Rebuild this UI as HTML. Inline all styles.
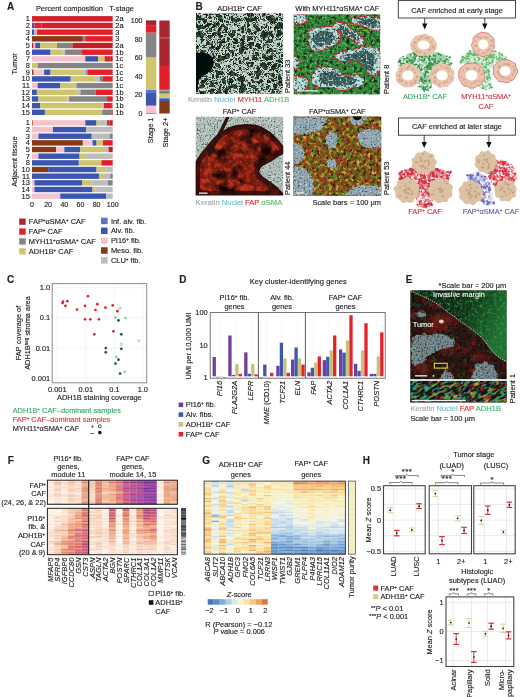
<!DOCTYPE html><html><head><meta charset="utf-8"><title>Figure</title><style>html,body{margin:0;padding:0;background:#fff;width:520px;height:697px;overflow:hidden}svg{display:block}text{font-family:"Liberation Sans",Arial,sans-serif}</style></head><body><svg width="520" height="697" viewBox="0 0 520 697" font-family="'Liberation Sans', Arial, sans-serif"><defs><clipPath id="c1"><rect x="196" y="13.8" width="87" height="79.7"/></clipPath><filter id="blur1" x="0" y="0" width="1" height="1"><feGaussianBlur stdDeviation="0.45"/></filter><filter id="f1a" x="0" y="0" width="1" height="1" color-interpolation-filters="sRGB"><feTurbulence type="fractalNoise" baseFrequency="0.25" numOctaves="2" seed="3"/><feColorMatrix type="matrix" values="0 0 0 0 0.039 0 0 0 0 0.078 0 0 0 0 0.047 4 0 0 0 -1.8"/></filter><filter id="f1e" x="0" y="0" width="1" height="1" color-interpolation-filters="sRGB"><feTurbulence type="fractalNoise" baseFrequency="0.3" numOctaves="2" seed="13"/><feColorMatrix type="matrix" values="0 0 0 0 0.180 0 0 0 0 0.478 0 0 0 0 0.251 4 0 0 0 -2.25"/></filter><filter id="f1b" x="0" y="0" width="1" height="1" color-interpolation-filters="sRGB"><feTurbulence type="fractalNoise" baseFrequency="0.13" numOctaves="2" seed="11"/><feComponentTransfer><feFuncR type="table" tableValues="0 0 0 0 0 0 0 0 0 0 0 0 0 0 0 0 0 0 0 0 0 0 0 0 0 0 0 0 0 0 0 0 0 0 0 0 0 0 0 0 0 0 0 0 0 0 0 0 0 0 0 0 0 0 0 0 0 0 0 0 0 0 0 0 0 0 0 0 0 0 0 0 0 0 0 0 0 0 0 0 1 1 1 1 1 1 1 1 1 1 1 1 1 1 1 1 1 0 0 0 0 0 0 0 1 1 1 1 1 1 1 1 1 1 1 1 1 1 1 1 1 0 0 0 0 0 0 0 0 0 0 0 0 0 0 0 0 0 0 0 0 0 0 0 0 0 0 0 0 0 0 0 0 0 0 0 0 0 0 0 0 0 0 0 0 0 0 0 0 0 0 0 0 0 0 0 0 0 0 0 0 0 0 0 0 0 0 0 0 0 0 0 0 0 0 0 0 0 0 0 0"/></feComponentTransfer><feColorMatrix type="matrix" values="0 0 0 0 0.784 0 0 0 0 0.831 0 0 0 0 0.800 1 0 0 0 0"/></filter><filter id="f1d" x="0" y="0" width="1" height="1" color-interpolation-filters="sRGB"><feTurbulence type="fractalNoise" baseFrequency="0.6" numOctaves="2" seed="19"/><feColorMatrix type="matrix" values="0 0 0 0 0.416 0 0 0 0 0.486 0 0 0 0 0.439 4 0 0 0 -2.1"/></filter><filter id="disp2" x="-5%" y="-5%" width="110%" height="110%"><feTurbulence type="fractalNoise" baseFrequency="0.25" numOctaves="2" seed="4" result="t"/><feDisplacementMap in="SourceGraphic" in2="t" scale="5" xChannelSelector="R" yChannelSelector="G"/></filter><clipPath id="c2"><rect x="293.5" y="14.2" width="86.8" height="80.3"/></clipPath><filter id="f2a" x="0" y="0" width="1" height="1" color-interpolation-filters="sRGB"><feTurbulence type="fractalNoise" baseFrequency="0.3" numOctaves="2" seed="21"/><feColorMatrix type="matrix" values="0 0 0 0 0.047 0 0 0 0 0.157 0 0 0 0 0.063 4 0 0 0 -1.85"/></filter><filter id="f2b" x="0" y="0" width="1" height="1" color-interpolation-filters="sRGB"><feTurbulence type="fractalNoise" baseFrequency="0.4" numOctaves="2" seed="23"/><feColorMatrix type="matrix" values="0 0 0 0 0.384 0 0 0 0 0.761 0 0 0 0 0.384 4 0 0 0 -2.1"/></filter><filter id="f2g" x="0" y="0" width="1" height="1" color-interpolation-filters="sRGB"><feTurbulence type="fractalNoise" baseFrequency="0.35" numOctaves="2" seed="25"/><feColorMatrix type="matrix" values="0 0 0 0 0.604 0 0 0 0 0.188 0 0 0 0 0.125 4 0 0 0 -2.5"/></filter><filter id="f2y" x="0" y="0" width="1" height="1" color-interpolation-filters="sRGB"><feTurbulence type="fractalNoise" baseFrequency="0.5" numOctaves="2" seed="27"/><feColorMatrix type="matrix" values="0 0 0 0 0.847 0 0 0 0 0.690 0 0 0 0 0.188 4 0 0 0 -2.2"/></filter><clipPath id="c2b"><path d="M309.2,32.1 C310.8,29.7 315.1,29.1 318.8,28.3 C322.5,27.5 328.1,26.5 331.3,27.3 C334.5,28.1 336.6,31.1 338.0,33.0 C339.4,34.9 340.6,36.9 340.0,38.8 C339.4,40.7 336.4,43.1 334.2,44.6 C331.9,46.1 329.1,46.5 326.5,47.5 C323.9,48.5 321.2,50.1 318.8,50.4 C316.4,50.7 313.7,50.7 312.1,49.4 C310.5,48.1 309.7,45.6 309.2,42.7 C308.7,39.8 307.6,34.5 309.2,32.1 Z"/><path d="M334.2,24.4 C335.5,23.6 338.8,22.4 342.0,23.5 C345.2,24.6 350.0,28.4 353.5,31.1 C357.0,33.8 361.7,37.5 363.0,39.8 C364.3,42.0 363.1,44.8 361.2,44.6 C359.3,44.4 355.0,41.0 351.5,38.8 C348.0,36.6 342.9,32.9 340.0,31.2 C337.1,29.4 335.2,29.4 334.2,28.3 C333.2,27.2 332.9,25.2 334.2,24.4 Z"/><path d="M353.5,18.7 C356.4,17.6 366.3,16.5 370.8,16.7 C375.3,16.9 379.0,17.7 380.4,19.6 C381.8,21.5 380.7,26.7 379.4,28.3 C378.1,29.9 375.4,29.7 372.7,29.2 C370.0,28.7 366.2,26.3 363.0,25.4 C359.8,24.4 355.1,24.6 353.5,23.5 C351.9,22.4 350.6,19.8 353.5,18.7 Z"/><path d="M336.2,54.2 C338.1,53.1 343.2,52.4 347.7,51.3 C352.2,50.2 358.5,48.0 363.0,47.5 C367.5,47.0 371.7,47.4 374.6,48.5 C377.5,49.6 379.4,51.0 380.4,54.2 C381.4,57.4 381.4,64.2 380.4,67.7 C379.4,71.2 376.5,74.4 374.6,75.4 C372.7,76.4 370.7,75.4 368.8,73.5 C366.9,71.6 365.6,66.0 363.0,63.8 C360.4,61.5 357.0,60.5 353.5,60.0 C350.0,59.5 344.8,61.3 341.9,61.0 C339.0,60.7 337.1,59.2 336.2,58.1 C335.2,57.0 334.3,55.3 336.2,54.2 Z"/><path d="M313.1,73.5 C314.4,70.9 317.3,68.5 320.8,67.7 C324.3,66.9 330.7,67.7 334.2,68.7 C337.7,69.7 340.0,72.1 341.9,73.5 C343.8,74.9 343.9,77.0 345.8,77.3 C347.7,77.6 350.6,75.2 353.5,75.4 C356.4,75.6 361.4,76.9 363.0,78.3 C364.6,79.7 364.6,82.6 363.0,84.0 C361.4,85.4 357.0,86.1 353.5,86.9 C350.0,87.7 346.1,88.8 341.9,88.8 C337.7,88.8 332.4,87.2 328.5,86.9 C324.6,86.6 321.4,87.5 318.8,86.9 C316.2,86.3 314.1,85.3 313.1,83.1 C312.2,80.9 311.8,76.1 313.1,73.5 Z"/><path d="M293.5,15.0 C294.6,13.9 298.0,14.2 300.0,14.5 C302.0,14.8 304.7,15.7 305.4,17.0 C306.1,18.3 305.2,21.4 304.0,22.5 C302.8,23.6 299.8,23.8 298.0,23.5 C296.2,23.2 294.2,22.4 293.5,21.0 C292.8,19.6 292.4,16.1 293.5,15.0 Z"/><path d="M293.0,57.0 C293.7,55.3 296.1,57.0 297.0,58.0 C297.9,59.0 298.6,61.3 298.5,63.0 C298.4,64.7 297.4,67.2 296.5,68.0 C295.6,68.8 293.6,69.8 293.0,68.0 C292.4,66.2 292.3,58.7 293.0,57.0 Z"/><path d="M293.5,78.0 C294.3,76.0 297.8,77.0 300.0,77.3 C302.2,77.6 305.3,78.5 306.5,80.0 C307.7,81.5 308.1,84.4 307.3,86.0 C306.6,87.6 304.1,89.0 302.0,89.5 C299.9,90.0 296.4,90.9 295.0,89.0 C293.6,87.1 292.7,80.0 293.5,78.0 Z"/></clipPath><filter id="f2c" x="0" y="0" width="1" height="1" color-interpolation-filters="sRGB"><feTurbulence type="fractalNoise" baseFrequency="0.45" numOctaves="2" seed="31"/><feColorMatrix type="matrix" values="0 0 0 0 0.118 0 0 0 0 0.235 0 0 0 0 0.235 4 0 0 0 -2.0"/></filter><filter id="f2d" x="0" y="0" width="1" height="1" color-interpolation-filters="sRGB"><feTurbulence type="fractalNoise" baseFrequency="0.5" numOctaves="2" seed="33"/><feColorMatrix type="matrix" values="0 0 0 0 0.941 0 0 0 0 0.980 0 0 0 0 0.973 4 0 0 0 -2.2"/></filter><clipPath id="c3"><rect x="195.6" y="116.6" width="87.7" height="78.8"/></clipPath><filter id="f3a" x="0" y="0" width="1" height="1" color-interpolation-filters="sRGB"><feTurbulence type="fractalNoise" baseFrequency="0.7" numOctaves="2" seed="41"/><feColorMatrix type="matrix" values="0 0 0 0 0.235 0 0 0 0 0.290 0 0 0 0 0.267 4 0 0 0 -2.2"/></filter><filter id="f3e" x="0" y="0" width="1" height="1" color-interpolation-filters="sRGB"><feTurbulence type="fractalNoise" baseFrequency="0.6" numOctaves="2" seed="42"/><feColorMatrix type="matrix" values="0 0 0 0 0.847 0 0 0 0 0.886 0 0 0 0 0.863 4 0 0 0 -2.2"/></filter><clipPath id="c3d"><path d="M195.6,162.4 C200,155 204,150 207.7,146 C213,139 217,135 221.6,132.3 C228,128 233,126 237.7,125.4 C245,124.5 250,124.5 256,125.4 C263,127 268,131 272.4,134.6 C277,139 280,143 283.3,147 L283.3,153 C279,155 276,157 272.4,160 C267,163 262,165 260.8,167 C258,170 258,172 259.7,173.9 C262,177 265,179 267.8,180.8 C271,183 274,185 277,187.8 C279,190 281,192 283.3,194 L283.3,195.4 L195.6,195.4 Z"/></clipPath><filter id="f3b" x="0" y="0" width="1" height="1" color-interpolation-filters="sRGB"><feTurbulence type="fractalNoise" baseFrequency="0.12" numOctaves="3" seed="43"/><feColorMatrix type="matrix" values="0 0 0 0 0.784 0 0 0 0 0.204 0 0 0 0 0.118 3.5 0 0 0 -1.45"/></filter><filter id="f3c" x="0" y="0" width="1" height="1" color-interpolation-filters="sRGB"><feTurbulence type="fractalNoise" baseFrequency="0.07" numOctaves="3" seed="45"/><feColorMatrix type="matrix" values="0 0 0 0 0.102 0 0 0 0 0.024 0 0 0 0 0.016 4 0 0 0 -1.95"/></filter><filter id="f3d" x="0" y="0" width="1" height="1" color-interpolation-filters="sRGB"><feTurbulence type="fractalNoise" baseFrequency="0.35" numOctaves="2" seed="47"/><feColorMatrix type="matrix" values="0 0 0 0 0.659 0 0 0 0 0.376 0 0 0 0 0.110 4 0 0 0 -2.5"/></filter><filter id="f3f" x="0" y="0" width="1" height="1" color-interpolation-filters="sRGB"><feTurbulence type="fractalNoise" baseFrequency="0.45" numOctaves="2" seed="49"/><feColorMatrix type="matrix" values="0 0 0 0 0.847 0 0 0 0 0.267 0 0 0 0 0.133 4 0 0 0 -2.7"/></filter><clipPath id="c4"><rect x="293.5" y="116.6" width="87.7" height="79.2"/></clipPath><filter id="f4a" x="0" y="0" width="1" height="1" color-interpolation-filters="sRGB"><feTurbulence type="fractalNoise" baseFrequency="0.22" numOctaves="2" seed="51"/><feColorMatrix type="matrix" values="0 0 0 0 0.706 0 0 0 0 0.173 0 0 0 0 0.102 4 0 0 0 -1.95"/></filter><filter id="f4b" x="0" y="0" width="1" height="1" color-interpolation-filters="sRGB"><feTurbulence type="fractalNoise" baseFrequency="0.24" numOctaves="2" seed="53"/><feColorMatrix type="matrix" values="0 0 0 0 0.290 0 0 0 0 0.557 0 0 0 0 0.173 4 0 0 0 -1.95"/></filter><filter id="f4c" x="0" y="0" width="1" height="1" color-interpolation-filters="sRGB"><feTurbulence type="fractalNoise" baseFrequency="0.28" numOctaves="2" seed="55"/><feColorMatrix type="matrix" values="0 0 0 0 0.824 0 0 0 0 0.690 0 0 0 0 0.220 4 0 0 0 -2.05"/></filter><filter id="f4d" x="0" y="0" width="1" height="1" color-interpolation-filters="sRGB"><feTurbulence type="fractalNoise" baseFrequency="0.3" numOctaves="2" seed="57"/><feColorMatrix type="matrix" values="0 0 0 0 0.165 0 0 0 0 0.094 0 0 0 0 0.031 4 0 0 0 -2.15"/></filter><clipPath id="c4b"><path d="M293.5,116.6 L327,116.6 C328,122 324,128 318,131 C310,134 300,134 293.5,133 Z"/><path d="M293.5,143 C298,142 303,146 304,152 C305,158 301,163 296,164 L293.5,164 Z"/><path d="M293.5,167 C300,166 308,170 312,177 C315,184 314,192 312,195.8 L293.5,195.8 Z"/><path d="M349,116.6 L366,116.6 C366,121 362,125 356,125 C351,125 349,121 349,116.6 Z"/><path d="M360,131 C366,128 376,129 381.2,132 L381.2,147 C376,149 368,149 363,146 C358,142 356,135 360,131 Z"/><path d="M327,136 C328,131 333,130 336,133 C339,137 338,144 335,148 C332,150 328,148 327,144 Z"/><path d="M326,163 C327,160 332,159 336,161 C339,163 338,167 334,168 C330,169 326,167 326,163 Z"/><path d="M350,189 C356,185 368,185 376,186 L381.2,187 L381.2,195.8 L347,195.8 C347,193 348,191 350,189 Z"/></clipPath><filter id="f4e" x="0" y="0" width="1" height="1" color-interpolation-filters="sRGB"><feTurbulence type="fractalNoise" baseFrequency="0.55" numOctaves="2" seed="59"/><feColorMatrix type="matrix" values="0 0 0 0 0.227 0 0 0 0 0.290 0 0 0 0 0.314 4 0 0 0 -2.2"/></filter><filter id="f4f" x="0" y="0" width="1" height="1" color-interpolation-filters="sRGB"><feTurbulence type="fractalNoise" baseFrequency="0.5" numOctaves="2" seed="61"/><feColorMatrix type="matrix" values="0 0 0 0 0.753 0 0 0 0 0.855 0 0 0 0 0.875 4 0 0 0 -2.2"/></filter><clipPath id="ce"><rect x="410.2" y="290.3" width="96.6" height="89.2"/></clipPath><filter id="blur3" x="-50%" y="-50%" width="200%" height="200%"><feGaussianBlur stdDeviation="2.5"/></filter><filter id="fe1" x="0" y="0" width="1" height="1" color-interpolation-filters="sRGB"><feTurbulence type="fractalNoise" baseFrequency="0.09" numOctaves="3" seed="71"/><feColorMatrix type="matrix" values="0 0 0 0 0.478 0 0 0 0 0.102 0 0 0 0 0.102 4 0 0 0 -2.1"/></filter><filter id="fe2" x="0" y="0" width="1" height="1" color-interpolation-filters="sRGB"><feTurbulence type="fractalNoise" baseFrequency="0.14" numOctaves="3" seed="73"/><feColorMatrix type="matrix" values="0 0 0 0 0.141 0 0 0 0 0.259 0 0 0 0 0.118 4 0 0 0 -2.15"/></filter><filter id="fe0" x="0" y="0" width="1" height="1" color-interpolation-filters="sRGB"><feTurbulence type="fractalNoise" baseFrequency="0.4" numOctaves="2" seed="70"/><feColorMatrix type="matrix" values="0 0 0 0 0.071 0 0 0 0 0.031 0 0 0 0 0.024 4 0 0 0 -2.0"/></filter><clipPath id="ceg"><path d="M411,290.3 L506.8,290.3 L506.8,362 C500,358 496,356 492,351 C488,346 486,342 482,338 C476,332 468,327 460,321 C452,315 446,311 440,306 C432,300 422,296 411,291 Z"/></clipPath><filter id="fe3" x="0" y="0" width="1" height="1" color-interpolation-filters="sRGB"><feTurbulence type="fractalNoise" baseFrequency="0.35" numOctaves="2" seed="75"/><feColorMatrix type="matrix" values="0 0 0 0 0.165 0 0 0 0 0.557 0 0 0 0 0.251 4 0 0 0 -2.1"/></filter><filter id="fe4" x="0" y="0" width="1" height="1" color-interpolation-filters="sRGB"><feTurbulence type="fractalNoise" baseFrequency="0.3" numOctaves="2" seed="77"/><feColorMatrix type="matrix" values="0 0 0 0 0.039 0 0 0 0 0.094 0 0 0 0 0.047 4 0 0 0 -2.0"/></filter><clipPath id="cek"><path d="M412.0,340.0 C413.0,335.2 416.0,336.0 418.0,335.0 C420.0,334.0 422.0,333.8 424.0,334.0 C426.0,334.2 428.0,336.2 430.0,336.0 C432.0,335.8 433.8,333.3 436.0,333.0 C438.2,332.7 440.7,333.3 443.0,334.0 C445.3,334.7 448.0,335.8 450.0,337.0 C452.0,338.2 454.5,339.5 455.0,341.0 C455.5,342.5 454.3,344.8 453.0,346.0 C451.7,347.2 449.2,347.3 447.0,348.0 C444.8,348.7 442.2,349.3 440.0,350.0 C437.8,350.7 436.0,351.0 434.0,352.0 C432.0,353.0 429.7,354.5 428.0,356.0 C426.3,357.5 425.7,359.7 424.0,361.0 C422.3,362.3 420.0,363.5 418.0,364.0 C416.0,364.5 413.0,368.0 412.0,364.0 C411.0,360.0 411.0,344.8 412.0,340.0 Z"/><path d="M473.0,372.0 C473.5,369.5 474.7,367.5 476.0,366.0 C477.3,364.5 479.2,363.5 481.0,363.0 C482.8,362.5 485.2,362.5 487.0,363.0 C488.8,363.5 490.5,364.7 492.0,366.0 C493.5,367.3 495.0,369.2 496.0,371.0 C497.0,372.8 498.0,375.3 498.0,377.0 C498.0,378.7 500.2,380.3 496.0,381.0 C491.8,381.7 476.8,382.5 473.0,381.0 C469.2,379.5 472.5,374.5 473.0,372.0 Z"/><path d="M416.0,313.0 C416.5,312.2 418.5,311.7 420.0,311.5 C421.5,311.3 424.0,311.4 425.0,312.0 C426.0,312.6 426.5,314.2 426.0,315.0 C425.5,315.8 423.5,316.8 422.0,317.0 C420.5,317.2 418.0,317.2 417.0,316.5 C416.0,315.8 415.5,313.8 416.0,313.0 Z"/><path d="M440.0,376.0 C440.7,374.5 442.5,372.7 444.0,372.0 C445.5,371.3 447.5,371.3 449.0,372.0 C450.5,372.7 452.3,374.5 453.0,376.0 C453.7,377.5 455.2,380.2 453.0,381.0 C450.8,381.8 442.2,381.8 440.0,381.0 C437.8,380.2 439.3,377.5 440.0,376.0 Z"/></clipPath><filter id="fe5" x="0" y="0" width="1" height="1" color-interpolation-filters="sRGB"><feTurbulence type="fractalNoise" baseFrequency="0.55" numOctaves="2" seed="79"/><feColorMatrix type="matrix" values="0 0 0 0 0.667 0 0 0 0 0.737 0 0 0 0 0.737 4 0 0 0 -2.45"/></filter><filter id="fe6" x="0" y="0" width="1" height="1" color-interpolation-filters="sRGB"><feTurbulence type="fractalNoise" baseFrequency="0.55" numOctaves="2" seed="81"/><feColorMatrix type="matrix" values="0 0 0 0 0.204 0 0 0 0 0.267 0 0 0 0 0.290 4 0 0 0 -2.0"/></filter><clipPath id="cei"><rect x="410.2" y="380.9" width="96.6" height="21.6"/></clipPath><filter id="fi1" x="0" y="0" width="1" height="1" color-interpolation-filters="sRGB"><feTurbulence type="fractalNoise" baseFrequency="0.14 0.34" numOctaves="2" seed="91"/><feColorMatrix type="matrix" values="0 0 0 0 0.784 0 0 0 0 0.149 0 0 0 0 0.165 5 0 0 0 -2.6"/></filter><filter id="fi2" x="0" y="0" width="1" height="1" color-interpolation-filters="sRGB"><feTurbulence type="fractalNoise" baseFrequency="0.14 0.34" numOctaves="2" seed="93"/><feColorMatrix type="matrix" values="0 0 0 0 0.184 0 0 0 0 0.612 0 0 0 0 0.267 5 0 0 0 -2.6"/></filter><filter id="fi3" x="0" y="0" width="1" height="1" color-interpolation-filters="sRGB"><feTurbulence type="fractalNoise" baseFrequency="0.2 0.4" numOctaves="2" seed="95"/><feColorMatrix type="matrix" values="0 0 0 0 0.133 0 0 0 0 0.627 0 0 0 0 0.627 5 0 0 0 -2.6"/></filter><filter id="fi4" x="0" y="0" width="1" height="1" color-interpolation-filters="sRGB"><feTurbulence type="fractalNoise" baseFrequency="0.12 0.34" numOctaves="2" seed="97"/><feColorMatrix type="matrix" values="0 0 0 0 0.784 0 0 0 0 0.627 0 0 0 0 0.188 5 0 0 0 -2.85"/></filter></defs><text x="7.0" y="9.5" font-size="10" font-weight="bold" fill="#231f20" stroke="#231f20" stroke-width="0.15">A</text>
<text x="69.4" y="10.5" font-size="7.4" text-anchor="middle" fill="#231f20" stroke="#231f20" stroke-width="0.15">Percent composition</text>
<text x="121.6" y="10.5" font-size="7.4" text-anchor="middle" fill="#231f20" stroke="#231f20" stroke-width="0.15">T-stage</text>
<rect x="32.00" y="16.10" width="80.70" height="5.40" fill="#d21f2c"/>
<rect x="32.00" y="16.10" width="1.61" height="5.40" fill="#e3202a"/>
<text x="29.8" y="21.1" font-size="7.45" text-anchor="end" fill="#231f20" stroke="#231f20" stroke-width="0.15">1</text>
<text x="115.3" y="21.1" font-size="7.45" fill="#231f20" stroke="#231f20" stroke-width="0.15">2a</text>
<rect x="32.00" y="22.78" width="2.42" height="5.40" fill="#3c56b0"/>
<rect x="34.42" y="22.78" width="7.26" height="5.40" fill="#e3202a"/>
<rect x="41.68" y="22.78" width="71.02" height="5.40" fill="#d21f2c"/>
<text x="29.8" y="27.8" font-size="7.45" text-anchor="end" fill="#231f20" stroke="#231f20" stroke-width="0.15">2</text>
<text x="115.3" y="27.8" font-size="7.45" fill="#231f20" stroke="#231f20" stroke-width="0.15">2a</text>
<rect x="32.00" y="29.46" width="2.42" height="5.40" fill="#3c56b0"/>
<rect x="34.42" y="29.46" width="2.42" height="5.40" fill="#bdbdbd"/>
<rect x="36.84" y="29.46" width="75.86" height="5.40" fill="#e3202a"/>
<text x="29.8" y="34.5" font-size="7.45" text-anchor="end" fill="#231f20" stroke="#231f20" stroke-width="0.15">3</text>
<text x="115.3" y="34.5" font-size="7.45" fill="#231f20" stroke="#231f20" stroke-width="0.15">3</text>
<rect x="32.00" y="36.14" width="50.84" height="5.40" fill="#873815"/>
<rect x="82.84" y="36.14" width="2.42" height="5.40" fill="#848484"/>
<rect x="85.26" y="36.14" width="27.44" height="5.40" fill="#e3202a"/>
<text x="29.8" y="41.1" font-size="7.45" text-anchor="end" fill="#231f20" stroke="#231f20" stroke-width="0.15">4</text>
<text x="115.3" y="41.1" font-size="7.45" fill="#231f20" stroke="#231f20" stroke-width="0.15">3</text>
<rect x="32.00" y="42.82" width="1.61" height="5.40" fill="#c31f2b"/>
<rect x="33.61" y="42.82" width="1.61" height="5.40" fill="#f5c2cd"/>
<rect x="35.23" y="42.82" width="4.84" height="5.40" fill="#3c56b0"/>
<rect x="40.07" y="42.82" width="16.95" height="5.40" fill="#cfc56c"/>
<rect x="57.02" y="42.82" width="15.33" height="5.40" fill="#848484"/>
<rect x="72.35" y="42.82" width="40.35" height="5.40" fill="#c31f2b"/>
<text x="29.8" y="47.8" font-size="7.45" text-anchor="end" fill="#231f20" stroke="#231f20" stroke-width="0.15">5</text>
<text x="115.3" y="47.8" font-size="7.45" fill="#231f20" stroke="#231f20" stroke-width="0.15">2a</text>
<rect x="32.00" y="49.50" width="18.56" height="5.40" fill="#3c56b0"/>
<rect x="50.56" y="49.50" width="12.11" height="5.40" fill="#cfc56c"/>
<rect x="62.67" y="49.50" width="2.42" height="5.40" fill="#bdbdbd"/>
<rect x="65.09" y="49.50" width="16.95" height="5.40" fill="#848484"/>
<rect x="82.03" y="49.50" width="30.67" height="5.40" fill="#e3202a"/>
<text x="29.8" y="54.5" font-size="7.45" text-anchor="end" fill="#231f20" stroke="#231f20" stroke-width="0.15">6</text>
<text x="115.3" y="54.5" font-size="7.45" fill="#231f20" stroke="#231f20" stroke-width="0.15">1b</text>
<rect x="32.00" y="56.18" width="53.26" height="5.40" fill="#f5c2cd"/>
<rect x="85.26" y="56.18" width="12.91" height="5.40" fill="#3c56b0"/>
<rect x="98.17" y="56.18" width="6.46" height="5.40" fill="#cfc56c"/>
<rect x="104.63" y="56.18" width="5.65" height="5.40" fill="#e3202a"/>
<rect x="110.28" y="56.18" width="2.42" height="5.40" fill="#c31f2b"/>
<text x="29.8" y="61.2" font-size="7.45" text-anchor="end" fill="#231f20" stroke="#231f20" stroke-width="0.15">7</text>
<text x="115.3" y="61.2" font-size="7.45" fill="#231f20" stroke="#231f20" stroke-width="0.15">1c</text>
<rect x="32.00" y="62.86" width="5.65" height="5.40" fill="#cfc56c"/>
<rect x="37.65" y="62.86" width="75.05" height="5.40" fill="#848484"/>
<text x="29.8" y="67.9" font-size="7.45" text-anchor="end" fill="#231f20" stroke="#231f20" stroke-width="0.15">8</text>
<text x="115.3" y="67.9" font-size="7.45" fill="#231f20" stroke="#231f20" stroke-width="0.15">1c</text>
<rect x="32.00" y="69.54" width="1.61" height="5.40" fill="#873815"/>
<rect x="33.61" y="69.54" width="10.49" height="5.40" fill="#f5c2cd"/>
<rect x="44.11" y="69.54" width="6.46" height="5.40" fill="#3c56b0"/>
<rect x="50.56" y="69.54" width="32.28" height="5.40" fill="#cfc56c"/>
<rect x="82.84" y="69.54" width="3.23" height="5.40" fill="#bdbdbd"/>
<rect x="86.07" y="69.54" width="1.61" height="5.40" fill="#848484"/>
<rect x="87.68" y="69.54" width="25.02" height="5.40" fill="#e3202a"/>
<text x="29.8" y="74.5" font-size="7.45" text-anchor="end" fill="#231f20" stroke="#231f20" stroke-width="0.15">9</text>
<text x="115.3" y="74.5" font-size="7.45" fill="#231f20" stroke="#231f20" stroke-width="0.15">1c</text>
<rect x="32.00" y="76.22" width="38.74" height="5.40" fill="#3c56b0"/>
<rect x="70.74" y="76.22" width="25.02" height="5.40" fill="#cfc56c"/>
<rect x="95.75" y="76.22" width="4.04" height="5.40" fill="#bdbdbd"/>
<rect x="99.79" y="76.22" width="3.23" height="5.40" fill="#848484"/>
<rect x="103.02" y="76.22" width="9.68" height="5.40" fill="#e3202a"/>
<text x="29.8" y="81.2" font-size="7.45" text-anchor="end" fill="#231f20" stroke="#231f20" stroke-width="0.15">10</text>
<text x="115.3" y="81.2" font-size="7.45" fill="#231f20" stroke="#231f20" stroke-width="0.15">1c</text>
<rect x="32.00" y="82.90" width="5.65" height="5.40" fill="#f5c2cd"/>
<rect x="37.65" y="82.90" width="22.60" height="5.40" fill="#3c56b0"/>
<rect x="60.25" y="82.90" width="14.53" height="5.40" fill="#cfc56c"/>
<rect x="74.77" y="82.90" width="1.61" height="5.40" fill="#bdbdbd"/>
<rect x="76.38" y="82.90" width="36.31" height="5.40" fill="#848484"/>
<text x="29.8" y="87.9" font-size="7.45" text-anchor="end" fill="#231f20" stroke="#231f20" stroke-width="0.15">11</text>
<text x="115.3" y="87.9" font-size="7.45" fill="#231f20" stroke="#231f20" stroke-width="0.15">1c</text>
<rect x="32.00" y="89.58" width="4.84" height="5.40" fill="#3c56b0"/>
<rect x="36.84" y="89.58" width="40.35" height="5.40" fill="#cfc56c"/>
<rect x="77.19" y="89.58" width="3.23" height="5.40" fill="#bdbdbd"/>
<rect x="80.42" y="89.58" width="15.33" height="5.40" fill="#848484"/>
<rect x="95.75" y="89.58" width="16.95" height="5.40" fill="#e3202a"/>
<text x="29.8" y="94.6" font-size="7.45" text-anchor="end" fill="#231f20" stroke="#231f20" stroke-width="0.15">12</text>
<text x="115.3" y="94.6" font-size="7.45" fill="#231f20" stroke="#231f20" stroke-width="0.15">1b</text>
<rect x="32.00" y="96.26" width="6.46" height="5.40" fill="#3c56b0"/>
<rect x="38.46" y="96.26" width="29.05" height="5.40" fill="#cfc56c"/>
<rect x="67.51" y="96.26" width="1.61" height="5.40" fill="#bdbdbd"/>
<rect x="69.12" y="96.26" width="37.93" height="5.40" fill="#848484"/>
<rect x="107.05" y="96.26" width="5.65" height="5.40" fill="#e3202a"/>
<text x="29.8" y="101.3" font-size="7.45" text-anchor="end" fill="#231f20" stroke="#231f20" stroke-width="0.15">13</text>
<text x="115.3" y="101.3" font-size="7.45" fill="#231f20" stroke="#231f20" stroke-width="0.15">1b</text>
<rect x="32.00" y="102.94" width="8.07" height="5.40" fill="#3c56b0"/>
<rect x="40.07" y="102.94" width="62.14" height="5.40" fill="#cfc56c"/>
<rect x="102.21" y="102.94" width="1.61" height="5.40" fill="#bdbdbd"/>
<rect x="103.82" y="102.94" width="8.07" height="5.40" fill="#e3202a"/>
<rect x="111.89" y="102.94" width="0.81" height="5.40" fill="#848484"/>
<text x="29.8" y="107.9" font-size="7.45" text-anchor="end" fill="#231f20" stroke="#231f20" stroke-width="0.15">14</text>
<text x="115.3" y="107.9" font-size="7.45" fill="#231f20" stroke="#231f20" stroke-width="0.15">1b</text>
<rect x="32.00" y="109.62" width="12.91" height="5.40" fill="#3c56b0"/>
<rect x="44.91" y="109.62" width="57.30" height="5.40" fill="#cfc56c"/>
<rect x="102.21" y="109.62" width="9.68" height="5.40" fill="#848484"/>
<rect x="111.89" y="109.62" width="0.81" height="5.40" fill="#c31f2b"/>
<text x="29.8" y="114.6" font-size="7.45" text-anchor="end" fill="#231f20" stroke="#231f20" stroke-width="0.15">15</text>
<text x="115.3" y="114.6" font-size="7.45" fill="#231f20" stroke="#231f20" stroke-width="0.15">1b</text>
<rect x="32.00" y="120.20" width="0.81" height="5.40" fill="#873815"/>
<rect x="32.81" y="120.20" width="52.45" height="5.40" fill="#f5c2cd"/>
<rect x="85.26" y="120.20" width="11.30" height="5.40" fill="#3c56b0"/>
<rect x="96.56" y="120.20" width="3.23" height="5.40" fill="#cfc56c"/>
<rect x="99.79" y="120.20" width="7.26" height="5.40" fill="#bdbdbd"/>
<rect x="107.05" y="120.20" width="2.42" height="5.40" fill="#e3202a"/>
<rect x="109.47" y="120.20" width="3.23" height="5.40" fill="#c31f2b"/>
<text x="29.8" y="125.2" font-size="7.45" text-anchor="end" fill="#231f20" stroke="#231f20" stroke-width="0.15">1</text>
<rect x="32.00" y="126.86" width="20.98" height="5.40" fill="#f5c2cd"/>
<rect x="52.98" y="126.86" width="33.09" height="5.40" fill="#3c56b0"/>
<rect x="86.07" y="126.86" width="26.63" height="5.40" fill="#bdbdbd"/>
<text x="29.8" y="131.9" font-size="7.45" text-anchor="end" fill="#231f20" stroke="#231f20" stroke-width="0.15">2</text>
<rect x="32.00" y="133.52" width="6.46" height="5.40" fill="#f5c2cd"/>
<rect x="38.46" y="133.52" width="53.26" height="5.40" fill="#3c56b0"/>
<rect x="91.72" y="133.52" width="17.75" height="5.40" fill="#bdbdbd"/>
<rect x="109.47" y="133.52" width="3.23" height="5.40" fill="#848484"/>
<text x="29.8" y="138.5" font-size="7.45" text-anchor="end" fill="#231f20" stroke="#231f20" stroke-width="0.15">3</text>
<rect x="32.00" y="140.18" width="50.84" height="5.40" fill="#873815"/>
<rect x="82.84" y="140.18" width="9.68" height="5.40" fill="#f5c2cd"/>
<rect x="92.53" y="140.18" width="4.04" height="5.40" fill="#3c56b0"/>
<rect x="96.56" y="140.18" width="6.46" height="5.40" fill="#cfc56c"/>
<rect x="103.02" y="140.18" width="9.68" height="5.40" fill="#e3202a"/>
<text x="29.8" y="145.2" font-size="7.45" text-anchor="end" fill="#231f20" stroke="#231f20" stroke-width="0.15">4</text>
<rect x="32.00" y="146.84" width="24.21" height="5.40" fill="#873815"/>
<rect x="56.21" y="146.84" width="8.07" height="5.40" fill="#f5c2cd"/>
<rect x="64.28" y="146.84" width="16.14" height="5.40" fill="#3c56b0"/>
<rect x="80.42" y="146.84" width="22.60" height="5.40" fill="#cfc56c"/>
<rect x="103.02" y="146.84" width="5.65" height="5.40" fill="#bdbdbd"/>
<rect x="108.67" y="146.84" width="4.04" height="5.40" fill="#c31f2b"/>
<text x="29.8" y="151.8" font-size="7.45" text-anchor="end" fill="#231f20" stroke="#231f20" stroke-width="0.15">5</text>
<rect x="32.00" y="153.50" width="6.46" height="5.40" fill="#f5c2cd"/>
<rect x="38.46" y="153.50" width="41.16" height="5.40" fill="#3c56b0"/>
<rect x="79.61" y="153.50" width="6.46" height="5.40" fill="#cfc56c"/>
<rect x="86.07" y="153.50" width="26.63" height="5.40" fill="#bdbdbd"/>
<text x="29.8" y="158.5" font-size="7.45" text-anchor="end" fill="#231f20" stroke="#231f20" stroke-width="0.15">7</text>
<rect x="32.00" y="160.16" width="46.81" height="5.40" fill="#3c56b0"/>
<rect x="78.81" y="160.16" width="22.60" height="5.40" fill="#cfc56c"/>
<rect x="101.40" y="160.16" width="11.30" height="5.40" fill="#e3202a"/>
<text x="29.8" y="165.2" font-size="7.45" text-anchor="end" fill="#231f20" stroke="#231f20" stroke-width="0.15">8</text>
<rect x="32.00" y="166.82" width="16.14" height="5.40" fill="#873815"/>
<rect x="48.14" y="166.82" width="48.42" height="5.40" fill="#3c56b0"/>
<rect x="96.56" y="166.82" width="9.68" height="5.40" fill="#cfc56c"/>
<rect x="106.24" y="166.82" width="6.46" height="5.40" fill="#bdbdbd"/>
<text x="29.8" y="171.8" font-size="7.45" text-anchor="end" fill="#231f20" stroke="#231f20" stroke-width="0.15">10</text>
<rect x="32.00" y="173.48" width="66.98" height="5.40" fill="#3c56b0"/>
<rect x="98.98" y="173.48" width="4.04" height="5.40" fill="#cfc56c"/>
<rect x="103.02" y="173.48" width="7.26" height="5.40" fill="#bdbdbd"/>
<rect x="110.28" y="173.48" width="2.42" height="5.40" fill="#848484"/>
<text x="29.8" y="178.5" font-size="7.45" text-anchor="end" fill="#231f20" stroke="#231f20" stroke-width="0.15">11</text>
<rect x="32.00" y="180.14" width="2.42" height="5.40" fill="#f5c2cd"/>
<rect x="34.42" y="180.14" width="47.61" height="5.40" fill="#3c56b0"/>
<rect x="82.03" y="180.14" width="9.68" height="5.40" fill="#cfc56c"/>
<rect x="91.72" y="180.14" width="16.14" height="5.40" fill="#bdbdbd"/>
<rect x="107.86" y="180.14" width="4.84" height="5.40" fill="#848484"/>
<text x="29.8" y="185.1" font-size="7.45" text-anchor="end" fill="#231f20" stroke="#231f20" stroke-width="0.15">13</text>
<rect x="32.00" y="186.80" width="2.42" height="5.40" fill="#f5c2cd"/>
<rect x="34.42" y="186.80" width="58.10" height="5.40" fill="#3c56b0"/>
<rect x="92.53" y="186.80" width="3.23" height="5.40" fill="#cfc56c"/>
<rect x="95.75" y="186.80" width="16.95" height="5.40" fill="#bdbdbd"/>
<text x="29.8" y="191.8" font-size="7.45" text-anchor="end" fill="#231f20" stroke="#231f20" stroke-width="0.15">14</text>
<rect x="32.00" y="193.46" width="28.25" height="5.40" fill="#f5c2cd"/>
<rect x="60.25" y="193.46" width="46.00" height="5.40" fill="#3c56b0"/>
<rect x="106.24" y="193.46" width="6.46" height="5.40" fill="#bdbdbd"/>
<text x="29.8" y="198.5" font-size="7.45" text-anchor="end" fill="#231f20" stroke="#231f20" stroke-width="0.15">15</text>
<text x="32.0" y="207.0" font-size="7" text-anchor="middle" fill="#231f20" stroke="#231f20" stroke-width="0.15">0</text>
<text x="48.1" y="207.0" font-size="7" text-anchor="middle" fill="#231f20" stroke="#231f20" stroke-width="0.15">20</text>
<text x="64.3" y="207.0" font-size="7" text-anchor="middle" fill="#231f20" stroke="#231f20" stroke-width="0.15">40</text>
<text x="80.4" y="207.0" font-size="7" text-anchor="middle" fill="#231f20" stroke="#231f20" stroke-width="0.15">60</text>
<text x="96.6" y="207.0" font-size="7" text-anchor="middle" fill="#231f20" stroke="#231f20" stroke-width="0.15">80</text>
<text x="112.7" y="207.0" font-size="7" text-anchor="middle" fill="#231f20" stroke="#231f20" stroke-width="0.15">100</text>
<text transform="translate(16.5,63.8) rotate(-90)" font-size="7.45" text-anchor="middle" fill="#231f20" stroke="#231f20" stroke-width="0.15">Tumor</text>
<text transform="translate(16.5,161.6) rotate(-90)" font-size="7.45" text-anchor="middle" fill="#231f20" stroke="#231f20" stroke-width="0.15">Adjacent tissue</text>
<rect x="145.90" y="112.76" width="10.40" height="0.74" fill="#7a2a3a"/>
<rect x="145.90" y="105.59" width="10.40" height="7.16" fill="#f5c2cd"/>
<rect x="145.90" y="93.04" width="10.40" height="12.56" fill="#3c56b0"/>
<rect x="145.90" y="89.78" width="10.40" height="3.25" fill="#5975cb"/>
<rect x="145.90" y="57.23" width="10.40" height="32.55" fill="#cfc56c"/>
<rect x="145.90" y="56.30" width="10.40" height="0.93" fill="#5a5a5a"/>
<rect x="145.90" y="32.59" width="10.40" height="23.72" fill="#848484"/>
<rect x="145.90" y="25.15" width="10.40" height="7.44" fill="#e3202a"/>
<rect x="145.90" y="21.89" width="10.40" height="3.25" fill="#aa2630"/>
<rect x="145.90" y="20.50" width="10.40" height="1.39" fill="#6a1018"/>
<rect x="159.30" y="100.94" width="10.40" height="12.56" fill="#873815"/>
<rect x="159.30" y="98.62" width="10.40" height="2.32" fill="#3c56b0"/>
<rect x="159.30" y="97.69" width="10.40" height="0.93" fill="#5975cb"/>
<rect x="159.30" y="93.50" width="10.40" height="4.19" fill="#cfc56c"/>
<rect x="159.30" y="91.18" width="10.40" height="2.32" fill="#5a7a7a"/>
<rect x="159.30" y="89.78" width="10.40" height="1.40" fill="#b09aa0"/>
<rect x="159.30" y="66.07" width="10.40" height="23.72" fill="#e3202a"/>
<rect x="159.30" y="65.14" width="10.40" height="0.93" fill="#8a1018"/>
<rect x="159.30" y="38.63" width="10.40" height="26.51" fill="#aa2630"/>
<rect x="159.30" y="37.70" width="10.40" height="0.93" fill="#8a1018"/>
<rect x="159.30" y="20.50" width="10.40" height="17.20" fill="#aa2630"/>
<text x="142.5" y="116.0" font-size="7" text-anchor="end" fill="#231f20" stroke="#231f20" stroke-width="0.15">0</text>
<text x="142.5" y="97.4" font-size="7" text-anchor="end" fill="#231f20" stroke="#231f20" stroke-width="0.15">20</text>
<text x="142.5" y="78.8" font-size="7" text-anchor="end" fill="#231f20" stroke="#231f20" stroke-width="0.15">40</text>
<text x="142.5" y="60.2" font-size="7" text-anchor="end" fill="#231f20" stroke="#231f20" stroke-width="0.15">60</text>
<text x="142.5" y="41.6" font-size="7" text-anchor="end" fill="#231f20" stroke="#231f20" stroke-width="0.15">80</text>
<text x="142.5" y="23.0" font-size="7" text-anchor="end" fill="#231f20" stroke="#231f20" stroke-width="0.15">100</text>
<text transform="translate(153.4,117.5) rotate(-90)" font-size="7.45" text-anchor="end" fill="#231f20" stroke="#231f20" stroke-width="0.15">Stage 1</text>
<text transform="translate(167.6,117.5) rotate(-90)" font-size="7.45" text-anchor="end" fill="#231f20" stroke="#231f20" stroke-width="0.15">Stage 2+</text>
<rect x="19.20" y="218.50" width="6.50" height="6.30" fill="#aa2630"/>
<text x="28.8" y="224.1" font-size="7.45" fill="#231f20" stroke="#231f20" stroke-width="0.15">FAP<tspan font-size="4.5" baseline-shift="super">+</tspan>&#945;SMA<tspan font-size="4.5" baseline-shift="super">+</tspan> CAF</text>
<rect x="19.20" y="228.40" width="6.50" height="6.30" fill="#e3202a"/>
<text x="28.8" y="234.0" font-size="7.45" fill="#231f20" stroke="#231f20" stroke-width="0.15">FAP<tspan font-size="4.5" baseline-shift="super">+</tspan> CAF</text>
<rect x="19.20" y="238.30" width="6.50" height="6.30" fill="#848484"/>
<text x="28.8" y="243.9" font-size="7.45" fill="#231f20" stroke="#231f20" stroke-width="0.15">MYH11<tspan font-size="4.5" baseline-shift="super">+</tspan>&#945;SMA<tspan font-size="4.5" baseline-shift="super">+</tspan> CAF</text>
<rect x="19.20" y="248.20" width="6.50" height="6.30" fill="#cfc56c"/>
<text x="28.8" y="253.8" font-size="7.45" fill="#231f20" stroke="#231f20" stroke-width="0.15">ADH1B<tspan font-size="4.5" baseline-shift="super">+</tspan> CAF</text>
<rect x="101.00" y="217.70" width="6.60" height="6.50" fill="#5975cb"/>
<text x="110.9" y="223.5" font-size="7.45" fill="#231f20" stroke="#231f20" stroke-width="0.15">Inf. alv. fib.</text>
<rect x="101.00" y="227.55" width="6.60" height="6.50" fill="#3c56b0"/>
<text x="110.9" y="233.3" font-size="7.45" fill="#231f20" stroke="#231f20" stroke-width="0.15">Alv. fib.</text>
<rect x="101.00" y="237.40" width="6.60" height="6.50" fill="#f5c2cd"/>
<text x="110.9" y="243.2" font-size="7.45" fill="#231f20" stroke="#231f20" stroke-width="0.15">PI16<tspan font-size="4.5" baseline-shift="super">+</tspan> fib.</text>
<rect x="101.00" y="247.25" width="6.60" height="6.50" fill="#873815"/>
<text x="110.9" y="253.1" font-size="7.45" fill="#231f20" stroke="#231f20" stroke-width="0.15">Meso. fib.</text>
<rect x="101.00" y="257.10" width="6.60" height="6.50" fill="#bdbdbd"/>
<text x="110.9" y="262.9" font-size="7.45" fill="#231f20" stroke="#231f20" stroke-width="0.15">CLU<tspan font-size="4.5" baseline-shift="super">+</tspan> fib.</text>
<text x="195.4" y="9.5" font-size="10" font-weight="bold" fill="#231f20" stroke="#231f20" stroke-width="0.15">B</text>
<text x="239.5" y="10.5" font-size="7.45" text-anchor="middle" fill="#231f20" stroke="#231f20" stroke-width="0.15">ADH1B<tspan font-size="4.5" baseline-shift="super">+</tspan> CAF</text>
<text x="337.3" y="10.5" font-size="7.45" text-anchor="middle" fill="#231f20" stroke="#231f20" stroke-width="0.15">With MYH11<tspan font-size="4.5" baseline-shift="super">+</tspan>&#945;SMA<tspan font-size="4.5" baseline-shift="super">+</tspan> CAF</text>
<text x="239.5" y="113.5" font-size="7.45" text-anchor="middle" fill="#231f20" stroke="#231f20" stroke-width="0.15">FAP<tspan font-size="4.5" baseline-shift="super">+</tspan> CAF</text>
<text x="337.3" y="113.5" font-size="7.45" text-anchor="middle" fill="#231f20" stroke="#231f20" stroke-width="0.15">FAP<tspan font-size="4.5" baseline-shift="super">+</tspan>&#945;SMA<tspan font-size="4.5" baseline-shift="super">+</tspan> CAF</text>
<g filter="url(#blur1)">
<rect x="196.00" y="13.80" width="87.00" height="79.70" fill="#1c3022"/>
<rect x="196.0" y="13.8" width="87.0" height="79.7" fill="#000" filter="url(#f1a)"/>
<rect x="196.0" y="13.8" width="87.0" height="79.7" fill="#000" filter="url(#f1e)"/>
<rect x="196.0" y="13.8" width="87.0" height="79.7" fill="#000" filter="url(#f1b)"/>
<rect x="196.0" y="13.8" width="87.0" height="79.7" fill="#000" filter="url(#f1d)"/>
<path d="M195,53 L203,52.5 L209,54 L212,57 L214,62 L213,67 L209.5,71.5 L204,75.5 L200,78.5 L198.3,82 L197.6,88 L196.5,92 L195,92 Z" fill="#060907" clip-path="url(#c1)"/>
</g>
<rect x="199.00" y="88.50" width="11.50" height="1.30" fill="#f0f0f0"/>
<g filter="url(#blur1)" clip-path="url(#c2)">
<rect x="293.50" y="14.20" width="86.80" height="80.30" fill="#2f8a3d"/>
<rect x="293.5" y="14.2" width="86.8" height="80.3" fill="#000" filter="url(#f2a)"/>
<rect x="293.5" y="14.2" width="86.8" height="80.3" fill="#000" filter="url(#f2b)"/>
<rect x="293.5" y="14.2" width="86.8" height="80.3" fill="#000" filter="url(#f2g)"/>
<rect x="350.0" y="14.2" width="30.0" height="20.0" fill="#000" filter="url(#f2y)"/>
<g filter="url(#disp2)">
<path d="M309.2,32.1 C310.8,29.7 315.1,29.1 318.8,28.3 C322.5,27.5 328.1,26.5 331.3,27.3 C334.5,28.1 336.6,31.1 338.0,33.0 C339.4,34.9 340.6,36.9 340.0,38.8 C339.4,40.7 336.4,43.1 334.2,44.6 C331.9,46.1 329.1,46.5 326.5,47.5 C323.9,48.5 321.2,50.1 318.8,50.4 C316.4,50.7 313.7,50.7 312.1,49.4 C310.5,48.1 309.7,45.6 309.2,42.7 C308.7,39.8 307.6,34.5 309.2,32.1 Z" fill="#a8d3d3" stroke="#a5302c" stroke-width="2.4"/>
<path d="M334.2,24.4 C335.5,23.6 338.8,22.4 342.0,23.5 C345.2,24.6 350.0,28.4 353.5,31.1 C357.0,33.8 361.7,37.5 363.0,39.8 C364.3,42.0 363.1,44.8 361.2,44.6 C359.3,44.4 355.0,41.0 351.5,38.8 C348.0,36.6 342.9,32.9 340.0,31.2 C337.1,29.4 335.2,29.4 334.2,28.3 C333.2,27.2 332.9,25.2 334.2,24.4 Z" fill="#a8d3d3" stroke="#a5302c" stroke-width="2.4"/>
<path d="M353.5,18.7 C356.4,17.6 366.3,16.5 370.8,16.7 C375.3,16.9 379.0,17.7 380.4,19.6 C381.8,21.5 380.7,26.7 379.4,28.3 C378.1,29.9 375.4,29.7 372.7,29.2 C370.0,28.7 366.2,26.3 363.0,25.4 C359.8,24.4 355.1,24.6 353.5,23.5 C351.9,22.4 350.6,19.8 353.5,18.7 Z" fill="#a8d3d3" stroke="#a5302c" stroke-width="2.4"/>
<path d="M336.2,54.2 C338.1,53.1 343.2,52.4 347.7,51.3 C352.2,50.2 358.5,48.0 363.0,47.5 C367.5,47.0 371.7,47.4 374.6,48.5 C377.5,49.6 379.4,51.0 380.4,54.2 C381.4,57.4 381.4,64.2 380.4,67.7 C379.4,71.2 376.5,74.4 374.6,75.4 C372.7,76.4 370.7,75.4 368.8,73.5 C366.9,71.6 365.6,66.0 363.0,63.8 C360.4,61.5 357.0,60.5 353.5,60.0 C350.0,59.5 344.8,61.3 341.9,61.0 C339.0,60.7 337.1,59.2 336.2,58.1 C335.2,57.0 334.3,55.3 336.2,54.2 Z" fill="#a8d3d3" stroke="#a5302c" stroke-width="2.4"/>
<path d="M313.1,73.5 C314.4,70.9 317.3,68.5 320.8,67.7 C324.3,66.9 330.7,67.7 334.2,68.7 C337.7,69.7 340.0,72.1 341.9,73.5 C343.8,74.9 343.9,77.0 345.8,77.3 C347.7,77.6 350.6,75.2 353.5,75.4 C356.4,75.6 361.4,76.9 363.0,78.3 C364.6,79.7 364.6,82.6 363.0,84.0 C361.4,85.4 357.0,86.1 353.5,86.9 C350.0,87.7 346.1,88.8 341.9,88.8 C337.7,88.8 332.4,87.2 328.5,86.9 C324.6,86.6 321.4,87.5 318.8,86.9 C316.2,86.3 314.1,85.3 313.1,83.1 C312.2,80.9 311.8,76.1 313.1,73.5 Z" fill="#a8d3d3" stroke="#a5302c" stroke-width="2.4"/>
<path d="M293.5,15.0 C294.6,13.9 298.0,14.2 300.0,14.5 C302.0,14.8 304.7,15.7 305.4,17.0 C306.1,18.3 305.2,21.4 304.0,22.5 C302.8,23.6 299.8,23.8 298.0,23.5 C296.2,23.2 294.2,22.4 293.5,21.0 C292.8,19.6 292.4,16.1 293.5,15.0 Z" fill="#a8d3d3" stroke="#a5302c" stroke-width="2.4"/>
<path d="M293.0,57.0 C293.7,55.3 296.1,57.0 297.0,58.0 C297.9,59.0 298.6,61.3 298.5,63.0 C298.4,64.7 297.4,67.2 296.5,68.0 C295.6,68.8 293.6,69.8 293.0,68.0 C292.4,66.2 292.3,58.7 293.0,57.0 Z" fill="#a8d3d3" stroke="#a5302c" stroke-width="2.4"/>
<path d="M293.5,78.0 C294.3,76.0 297.8,77.0 300.0,77.3 C302.2,77.6 305.3,78.5 306.5,80.0 C307.7,81.5 308.1,84.4 307.3,86.0 C306.6,87.6 304.1,89.0 302.0,89.5 C299.9,90.0 296.4,90.9 295.0,89.0 C293.6,87.1 292.7,80.0 293.5,78.0 Z" fill="#a8d3d3" stroke="#a5302c" stroke-width="2.4"/>
<path d="M309.2,32.1 C310.8,29.7 315.1,29.1 318.8,28.3 C322.5,27.5 328.1,26.5 331.3,27.3 C334.5,28.1 336.6,31.1 338.0,33.0 C339.4,34.9 340.6,36.9 340.0,38.8 C339.4,40.7 336.4,43.1 334.2,44.6 C331.9,46.1 329.1,46.5 326.5,47.5 C323.9,48.5 321.2,50.1 318.8,50.4 C316.4,50.7 313.7,50.7 312.1,49.4 C310.5,48.1 309.7,45.6 309.2,42.7 C308.7,39.8 307.6,34.5 309.2,32.1 Z" fill="#b2dad8"/>
<path d="M334.2,24.4 C335.5,23.6 338.8,22.4 342.0,23.5 C345.2,24.6 350.0,28.4 353.5,31.1 C357.0,33.8 361.7,37.5 363.0,39.8 C364.3,42.0 363.1,44.8 361.2,44.6 C359.3,44.4 355.0,41.0 351.5,38.8 C348.0,36.6 342.9,32.9 340.0,31.2 C337.1,29.4 335.2,29.4 334.2,28.3 C333.2,27.2 332.9,25.2 334.2,24.4 Z" fill="#b2dad8"/>
<path d="M353.5,18.7 C356.4,17.6 366.3,16.5 370.8,16.7 C375.3,16.9 379.0,17.7 380.4,19.6 C381.8,21.5 380.7,26.7 379.4,28.3 C378.1,29.9 375.4,29.7 372.7,29.2 C370.0,28.7 366.2,26.3 363.0,25.4 C359.8,24.4 355.1,24.6 353.5,23.5 C351.9,22.4 350.6,19.8 353.5,18.7 Z" fill="#b2dad8"/>
<path d="M336.2,54.2 C338.1,53.1 343.2,52.4 347.7,51.3 C352.2,50.2 358.5,48.0 363.0,47.5 C367.5,47.0 371.7,47.4 374.6,48.5 C377.5,49.6 379.4,51.0 380.4,54.2 C381.4,57.4 381.4,64.2 380.4,67.7 C379.4,71.2 376.5,74.4 374.6,75.4 C372.7,76.4 370.7,75.4 368.8,73.5 C366.9,71.6 365.6,66.0 363.0,63.8 C360.4,61.5 357.0,60.5 353.5,60.0 C350.0,59.5 344.8,61.3 341.9,61.0 C339.0,60.7 337.1,59.2 336.2,58.1 C335.2,57.0 334.3,55.3 336.2,54.2 Z" fill="#b2dad8"/>
<path d="M313.1,73.5 C314.4,70.9 317.3,68.5 320.8,67.7 C324.3,66.9 330.7,67.7 334.2,68.7 C337.7,69.7 340.0,72.1 341.9,73.5 C343.8,74.9 343.9,77.0 345.8,77.3 C347.7,77.6 350.6,75.2 353.5,75.4 C356.4,75.6 361.4,76.9 363.0,78.3 C364.6,79.7 364.6,82.6 363.0,84.0 C361.4,85.4 357.0,86.1 353.5,86.9 C350.0,87.7 346.1,88.8 341.9,88.8 C337.7,88.8 332.4,87.2 328.5,86.9 C324.6,86.6 321.4,87.5 318.8,86.9 C316.2,86.3 314.1,85.3 313.1,83.1 C312.2,80.9 311.8,76.1 313.1,73.5 Z" fill="#b2dad8"/>
<path d="M293.5,15.0 C294.6,13.9 298.0,14.2 300.0,14.5 C302.0,14.8 304.7,15.7 305.4,17.0 C306.1,18.3 305.2,21.4 304.0,22.5 C302.8,23.6 299.8,23.8 298.0,23.5 C296.2,23.2 294.2,22.4 293.5,21.0 C292.8,19.6 292.4,16.1 293.5,15.0 Z" fill="#b2dad8"/>
<path d="M293.0,57.0 C293.7,55.3 296.1,57.0 297.0,58.0 C297.9,59.0 298.6,61.3 298.5,63.0 C298.4,64.7 297.4,67.2 296.5,68.0 C295.6,68.8 293.6,69.8 293.0,68.0 C292.4,66.2 292.3,58.7 293.0,57.0 Z" fill="#b2dad8"/>
<path d="M293.5,78.0 C294.3,76.0 297.8,77.0 300.0,77.3 C302.2,77.6 305.3,78.5 306.5,80.0 C307.7,81.5 308.1,84.4 307.3,86.0 C306.6,87.6 304.1,89.0 302.0,89.5 C299.9,90.0 296.4,90.9 295.0,89.0 C293.6,87.1 292.7,80.0 293.5,78.0 Z" fill="#b2dad8"/>
<path d="M313.3,34.1 C314.4,32.4 317.6,32.0 320.2,31.4 C322.9,30.8 326.9,30.1 329.2,30.7 C331.5,31.3 333.0,33.4 334.0,34.8 C335.1,36.2 335.9,37.6 335.5,39.0 C335.0,40.4 332.9,42.1 331.3,43.1 C329.7,44.2 327.6,44.5 325.7,45.2 C323.9,45.9 321.9,47.1 320.2,47.3 C318.5,47.6 316.5,47.5 315.4,46.6 C314.2,45.7 313.6,43.9 313.3,41.8 C312.9,39.7 312.1,35.9 313.3,34.1 Z" fill="#3e6462"/>
<path d="M337.9,26.7 C338.8,26.2 341.2,25.3 343.5,26.1 C345.8,26.9 349.3,29.6 351.8,31.6 C354.3,33.5 357.7,36.2 358.6,37.8 C359.6,39.4 358.7,41.4 357.3,41.3 C356.0,41.2 352.9,38.7 350.4,37.1 C347.8,35.5 344.2,32.9 342.1,31.6 C340.0,30.4 338.6,30.4 337.9,29.5 C337.2,28.7 337.0,27.3 337.9,26.7 Z" fill="#3e6462"/>
<path d="M357.5,19.9 C359.5,19.1 366.7,18.4 369.9,18.5 C373.1,18.6 375.8,19.2 376.8,20.6 C377.9,22.0 377.0,25.7 376.1,26.8 C375.2,28.0 373.2,27.8 371.3,27.5 C369.3,27.1 366.6,25.4 364.3,24.7 C362.0,24.1 358.6,24.2 357.5,23.4 C356.3,22.6 355.4,20.7 357.5,19.9 Z" fill="#3e6462"/>
<path d="M342.9,55.7 C344.3,54.9 347.9,54.4 351.2,53.6 C354.4,52.8 358.9,51.2 362.2,50.9 C365.4,50.6 368.4,50.8 370.5,51.6 C372.6,52.4 374.0,53.4 374.7,55.7 C375.4,58.0 375.4,62.9 374.7,65.4 C374.0,68.0 371.9,70.3 370.5,71.0 C369.1,71.7 367.7,71.0 366.3,69.6 C365.0,68.2 364.0,64.2 362.2,62.6 C360.3,61.0 357.9,60.2 355.3,59.9 C352.8,59.6 349.1,60.8 347.0,60.6 C344.9,60.4 343.6,59.3 342.9,58.5 C342.2,57.7 341.5,56.5 342.9,55.7 Z" fill="#3e6462"/>
<path d="M320.0,75.1 C320.9,73.3 323.0,71.5 325.6,71.0 C328.1,70.4 332.7,71.0 335.2,71.7 C337.7,72.4 339.4,74.1 340.7,75.1 C342.1,76.2 342.2,77.6 343.6,77.9 C344.9,78.1 347.0,76.4 349.1,76.5 C351.2,76.6 354.8,77.6 355.9,78.6 C357.1,79.6 357.1,81.7 355.9,82.7 C354.8,83.7 351.6,84.2 349.1,84.8 C346.6,85.4 343.7,86.1 340.7,86.1 C337.7,86.1 333.9,85.0 331.1,84.8 C328.3,84.5 326.0,85.2 324.1,84.8 C322.3,84.3 320.7,83.6 320.0,82.0 C319.3,80.4 319.1,77.0 320.0,75.1 Z" fill="#3e6462"/>
</g>
<rect x="293.5" y="14.2" width="86.8" height="80.3" fill="#000" filter="url(#f2c)" clip-path="url(#c2b)"/>
<rect x="293.5" y="14.2" width="86.8" height="80.3" fill="#000" filter="url(#f2d)" clip-path="url(#c2b)"/>
</g>
<rect x="297.00" y="90.20" width="21.00" height="1.30" fill="#f0f0f0"/>
<g filter="url(#blur1)" clip-path="url(#c3)">
<rect x="195.60" y="116.60" width="87.70" height="78.80" fill="#b2bfb9"/>
<rect x="195.6" y="116.6" width="87.7" height="78.8" fill="#000" filter="url(#f3a)"/>
<rect x="195.6" y="116.6" width="87.7" height="78.8" fill="#000" filter="url(#f3e)"/>
<path d="M195.6,162.4 C200,155 204,150 207.7,146 C213,139 217,135 221.6,132.3 C228,128 233,126 237.7,125.4 C245,124.5 250,124.5 256,125.4 C263,127 268,131 272.4,134.6 C277,139 280,143 283.3,147 L283.3,153 C279,155 276,157 272.4,160 C267,163 262,165 260.8,167 C258,170 258,172 259.7,173.9 C262,177 265,179 267.8,180.8 C271,183 274,185 277,187.8 C279,190 281,192 283.3,194 L283.3,195.4 L195.6,195.4 Z" fill="#701a10"/>
<rect x="195.6" y="116.6" width="87.7" height="78.8" fill="#000" filter="url(#f3b)" clip-path="url(#c3d)"/>
<rect x="195.6" y="116.6" width="87.7" height="78.8" fill="#000" filter="url(#f3d)" clip-path="url(#c3d)"/>
<rect x="195.6" y="116.6" width="87.7" height="78.8" fill="#000" filter="url(#f3f)" clip-path="url(#c3d)"/>
<rect x="195.6" y="116.6" width="87.7" height="78.8" fill="#000" filter="url(#f3c)" clip-path="url(#c3d)"/>
<path d="M195.6,162.4 C200,155 204,150 207.7,146 C213,139 217,135 221.6,132.3 C228,128 233,126 237.7,125.4 C245,124.5 250,124.5 256,125.4 C263,127 268,131 272.4,134.6 C277,139 280,143 283.3,147 L283.3,153 C279,155 276,157 272.4,160 C267,163 262,165 260.8,167 C258,170 258,172 259.7,173.9 C262,177 265,179 267.8,180.8 C271,183 274,185 277,187.8 C279,190 281,192 283.3,194 L283.3,195.4 L195.6,195.4 Z" fill="none" stroke="#2a0a08" stroke-width="9" stroke-opacity="0.7" clip-path="url(#c3d)"/>
<path d="M195.6,162.4 C200,155 204,150 207.7,146 C213,139 217,135 221.6,132.3 C228,128 233,126 237.7,125.4 C245,124.5 250,124.5 256,125.4 C263,127 268,131 272.4,134.6 C277,139 280,143 283.3,147 L283.3,153 C279,155 276,157 272.4,160 C267,163 262,165 260.8,167 C258,170 258,172 259.7,173.9 C262,177 265,179 267.8,180.8 C271,183 274,185 277,187.8 C279,190 281,192 283.3,194 L283.3,195.4 L195.6,195.4 Z" fill="none" stroke="#1e0806" stroke-width="1.5" stroke-opacity="0.8"/>
<path d="M226,117 L229.5,117 C224,130 216,145 210,156 L207,155 C212,144 220,130 226,117 Z" fill="#2a1410"/>
</g>
<rect x="199.00" y="192.50" width="8.50" height="1.30" fill="#f0f0f0"/>
<rect x="293.50" y="116.60" width="87.70" height="79.20" fill="#7a4a1c"/>
<rect x="293.5" y="116.6" width="87.7" height="79.2" fill="#000" filter="url(#f4a)" clip-path="url(#c4)"/>
<rect x="293.5" y="116.6" width="87.7" height="79.2" fill="#000" filter="url(#f4b)" clip-path="url(#c4)"/>
<rect x="293.5" y="116.6" width="87.7" height="79.2" fill="#000" filter="url(#f4c)" clip-path="url(#c4)"/>
<rect x="293.5" y="116.6" width="87.7" height="79.2" fill="#000" filter="url(#f4d)" clip-path="url(#c4)"/>
<g filter="url(#disp2)" clip-path="url(#c4)">
<path d="M293.5,116.6 L327,116.6 C328,122 324,128 318,131 C310,134 300,134 293.5,133 Z" fill="#93a8b2"/>
<path d="M293.5,143 C298,142 303,146 304,152 C305,158 301,163 296,164 L293.5,164 Z" fill="#93a8b2"/>
<path d="M293.5,167 C300,166 308,170 312,177 C315,184 314,192 312,195.8 L293.5,195.8 Z" fill="#93a8b2"/>
<path d="M349,116.6 L366,116.6 C366,121 362,125 356,125 C351,125 349,121 349,116.6 Z" fill="#93a8b2"/>
<path d="M360,131 C366,128 376,129 381.2,132 L381.2,147 C376,149 368,149 363,146 C358,142 356,135 360,131 Z" fill="#93a8b2"/>
<path d="M327,136 C328,131 333,130 336,133 C339,137 338,144 335,148 C332,150 328,148 327,144 Z" fill="#93a8b2"/>
<path d="M326,163 C327,160 332,159 336,161 C339,163 338,167 334,168 C330,169 326,167 326,163 Z" fill="#93a8b2"/>
<path d="M350,189 C356,185 368,185 376,186 L381.2,187 L381.2,195.8 L347,195.8 C347,193 348,191 350,189 Z" fill="#93a8b2"/>
</g>
<rect x="293.5" y="116.6" width="87.7" height="79.2" fill="#000" filter="url(#f4e)" clip-path="url(#c4b)"/>
<rect x="293.5" y="116.6" width="87.7" height="79.2" fill="#000" filter="url(#f4f)" clip-path="url(#c4b)"/>
<path d="M352,116.6 L362,116.6 C361,120 358,121 355,120 Z" fill="#101010"/>
<rect x="296.30" y="192.30" width="8.00" height="1.30" fill="#f0f0f0"/>
<text x="188.0" y="102.0" font-size="7.6" fill="#231f20" stroke="#231f20" stroke-width="0.15"><tspan stroke-width="0.15" fill="#a8a8a8" stroke="#a8a8a8">Keratin</tspan> <tspan stroke-width="0.15" fill="#6cc0d0" stroke="#6cc0d0">Nuclei</tspan> <tspan stroke-width="0.15" fill="#d8303c" stroke="#d8303c">MYH11</tspan> <tspan stroke-width="0.15" fill="#5cb85c" stroke="#5cb85c">ADH1B</tspan></text>
<text x="195.6" y="204.5" font-size="7.6" fill="#231f20" stroke="#231f20" stroke-width="0.15"><tspan stroke-width="0.15" fill="#a8a8a8" stroke="#a8a8a8">Keratin</tspan> <tspan stroke-width="0.15" fill="#6cc0d0" stroke="#6cc0d0">Nuclei</tspan> <tspan stroke-width="0.15" fill="#e03030" stroke="#e03030">FAP</tspan> <tspan stroke-width="0.15" fill="#5cb85c" stroke="#5cb85c">&#945;SMA</tspan></text>
<text x="381.0" y="204.7" font-size="7.45" text-anchor="end" fill="#231f20" stroke="#231f20" stroke-width="0.15">Scale bars = 100 &#956;m</text>
<text transform="translate(290.0,93.0) rotate(-90)" font-size="7.45" fill="#231f20" stroke="#231f20" stroke-width="0.15">Patient 33</text>
<text transform="translate(388.5,94.0) rotate(-90)" font-size="7.45" fill="#231f20" stroke="#231f20" stroke-width="0.15">Patient 8</text>
<text transform="translate(290.0,195.0) rotate(-90)" font-size="7.45" fill="#231f20" stroke="#231f20" stroke-width="0.15">Patient 44</text>
<text transform="translate(388.5,195.0) rotate(-90)" font-size="7.45" fill="#231f20" stroke="#231f20" stroke-width="0.15">Patient 53</text>
<rect x="398.3" y="0.6" width="117.2" height="17.4" fill="#fff" stroke="#333" stroke-width="0.9"/>
<text x="457.0" y="12.8" font-size="7.4" text-anchor="middle" fill="#231f20" stroke="#231f20" stroke-width="0.15">CAF enriched at early stage</text>
<rect x="398.5" y="118" width="116.9" height="17.2" fill="#fff" stroke="#333" stroke-width="0.9"/>
<text x="457.0" y="129.2" font-size="7.4" text-anchor="middle" fill="#231f20" stroke="#231f20" stroke-width="0.15">CAF enriched at later stage</text>
<line x1="424.70" y1="18.00" x2="424.70" y2="24.50" stroke="#111" stroke-width="0.8"/>
<path d="M422.0,23.5 L427.4,23.5 L424.7,29.5 Z" fill="#111"/>
<line x1="484.80" y1="18.00" x2="484.80" y2="24.50" stroke="#111" stroke-width="0.8"/>
<path d="M482.1,23.5 L487.5,23.5 L484.8,29.5 Z" fill="#111"/>
<line x1="424.20" y1="135.20" x2="424.20" y2="143.00" stroke="#111" stroke-width="0.8"/>
<path d="M421.5,142.0 L426.9,142.0 L424.2,148.0 Z" fill="#111"/>
<line x1="488.90" y1="135.20" x2="488.90" y2="143.00" stroke="#111" stroke-width="0.8"/>
<path d="M486.2,142.0 L491.6,142.0 L488.9,148.0 Z" fill="#111"/>
<path d="M399.0,58.0 L412.0,52.0 L424.0,56.0 L437.0,52.0 L450.0,57.0 L452.0,66.0 L440.0,66.0 L432.0,76.0 L432.0,88.0 L424.0,91.0 L417.0,88.0 L417.0,76.0 L410.0,66.0 L398.0,66.0 Z" fill="#9fd0a8"/>
<path d="M437.4,62.0L440.5,60.5L440.0,63.0ZM422.4,82.5L420.1,78.8L423.3,79.0ZM397.8,61.4L400.2,58.8L400.7,61.4ZM411.0,62.8L409.0,60.0L411.5,60.1ZM414.7,51.2L414.2,54.7L412.3,52.9ZM434.9,59.1L431.3,61.0L431.7,58.0ZM404.1,62.9L406.3,66.1L403.5,66.0ZM426.9,75.3L423.9,75.9L424.8,73.9ZM416.0,69.0L419.8,67.6L419.0,70.4ZM424.7,67.4L427.0,66.2L426.8,68.1ZM416.9,58.6L420.9,56.9L420.2,60.0ZM442.1,60.9L446.2,59.4L445.3,62.5ZM429.0,71.9L427.9,68.4L430.4,69.3ZM430.4,69.4L426.3,69.7L427.9,67.1ZM426.9,59.7L430.1,58.4L429.5,60.9ZM415.3,65.0L418.9,64.3L417.8,66.8ZM432.7,70.2L429.8,70.9L430.6,68.8ZM435.8,55.4L433.3,56.2L433.9,54.4ZM440.4,63.0L436.8,62.0L438.9,60.3ZM417.6,56.4L414.7,54.4L417.1,53.5ZM406.6,60.8L408.7,63.5L406.2,63.6ZM417.2,70.7L414.0,71.6L414.8,69.3ZM422.5,60.8L418.5,59.7L420.8,57.7ZM423.8,58.8L427.7,59.8L425.5,61.7ZM418.4,76.3L418.5,72.6L420.7,74.2ZM403.4,63.2L400.0,65.6L400.0,62.5ZM438.1,69.7L437.1,67.2L439.0,67.7ZM430.4,56.9L429.0,61.1L427.1,58.5ZM419.0,67.5L416.5,64.6L419.3,64.4ZM423.0,60.8L419.3,60.0L421.4,58.1ZM412.9,73.5L413.2,69.4L415.6,71.3ZM411.0,64.6L407.5,66.5L407.9,63.6ZM415.3,58.3L418.5,60.9L415.6,61.7ZM449.9,64.0L448.4,67.5L446.9,65.1ZM424.4,92.6L422.4,89.2L425.3,89.5ZM404.0,57.7L402.3,60.2L401.5,58.2ZM417.7,61.9L416.6,65.4L415.0,63.2ZM430.3,61.6L427.2,61.3L428.7,59.5ZM435.9,57.1L431.9,55.8L434.4,54.0ZM402.0,61.2L399.0,62.8L399.3,60.3ZM404.4,60.7L402.6,57.2L405.4,57.6ZM447.1,65.4L445.7,62.2L448.2,62.7ZM449.5,62.5L452.9,63.1L451.1,64.8ZM416.9,53.2L414.5,56.8L413.4,53.8ZM416.1,62.4L413.0,62.2L414.5,60.4ZM413.6,66.8L413.6,62.7L416.1,64.5ZM445.3,65.5L445.6,61.9L447.6,63.7ZM429.3,76.7L428.1,74.3L430.1,74.6ZM409.7,54.3L412.5,54.1L411.5,55.8ZM425.7,87.2L422.7,85.4L425.1,84.4ZM442.5,54.5L440.3,56.5L440.0,54.3ZM443.9,65.7L440.5,64.8L442.4,63.1ZM448.9,62.5L447.5,65.0L446.6,63.1ZM433.8,59.6L435.7,57.4L436.2,59.5ZM413.8,54.0L410.6,56.5L410.5,53.5ZM428.8,71.6L428.0,74.9L426.3,73.1ZM419.3,66.7L418.3,64.2L420.2,64.7ZM431.6,67.6L434.3,67.7L433.1,69.3ZM418.4,58.6L415.5,57.5L417.4,56.2ZM419.8,77.3L418.5,75.0L420.4,75.2ZM425.4,70.0L428.4,71.7L426.1,72.8ZM422.2,61.8L424.2,58.8L425.1,61.3ZM426.8,88.1L423.5,85.9L426.2,84.8ZM444.9,62.1L447.8,65.0L444.8,65.5ZM417.9,77.3L419.7,80.6L417.0,80.3ZM407.9,63.7L405.8,60.8L408.5,60.8ZM438.0,52.1L441.0,54.7L438.2,55.3ZM417.9,73.9L414.7,71.7L417.4,70.7ZM450.2,55.2L451.2,59.2L448.4,58.1ZM423.8,87.7L421.1,89.6L421.1,87.2ZM408.5,66.3L404.6,64.8L407.2,63.1ZM431.7,69.1L428.7,68.1L430.6,66.7ZM432.7,74.2L432.4,77.2L430.7,75.7ZM424.7,83.4L425.8,86.9L423.3,86.0ZM420.4,64.5L416.5,63.4L418.8,61.5ZM427.6,87.3L429.1,91.3L426.0,90.5ZM427.1,64.1L430.1,62.8L429.6,65.2ZM421.3,71.2L421.0,67.9L423.1,69.2ZM423.4,78.4L424.5,75.6L425.7,77.5ZM431.2,84.7L430.9,88.2L429.0,86.5ZM413.1,57.3L416.4,58.5L414.3,60.0ZM417.1,69.9L419.3,66.4L420.5,69.2ZM431.3,79.3L429.4,82.8L428.1,80.1ZM423.3,79.5L426.7,81.2L424.2,82.5ZM430.6,66.4L434.0,67.8L431.7,69.3ZM416.3,60.1L418.9,63.3L415.8,63.5ZM428.3,56.3L428.0,59.7L426.1,58.1ZM424.0,81.9L426.0,79.3L426.7,81.6ZM424.7,87.2L427.1,89.5L424.7,90.0ZM410.6,59.0L409.3,61.8L408.1,59.8ZM424.1,66.2L427.8,64.9L427.0,67.6ZM445.2,67.2L442.8,63.6L446.0,63.7ZM429.6,65.2L432.3,62.3L432.9,65.1ZM439.3,58.3L442.0,59.3L440.2,60.5ZM429.2,62.0L432.0,61.2L431.2,63.2ZM417.6,83.4L415.8,80.0L418.7,80.4ZM438.2,65.0L435.0,64.2L436.9,62.6ZM425.2,57.3L423.2,55.4L425.1,55.0ZM430.6,88.1L429.0,85.9L431.0,85.9ZM425.5,68.2L423.1,66.4L425.2,65.7ZM428.9,58.5L430.9,61.1L428.5,61.2ZM431.5,87.4L429.1,88.6L429.4,86.6ZM413.2,65.8L417.4,66.2L415.4,68.6ZM419.7,84.7L420.7,87.4L418.7,86.9ZM414.0,57.4L411.4,57.0L412.7,55.6ZM432.2,65.5L436.2,67.2L433.5,68.8ZM434.8,62.3L430.6,62.5L432.3,59.9ZM428.3,64.4L431.8,65.3L429.8,67.0ZM417.8,70.3L415.0,67.2L418.0,66.8ZM420.4,75.7L422.8,78.9L419.9,79.0ZM420.3,58.3L422.1,54.9L423.4,57.4ZM426.8,54.1L427.1,56.8L425.3,55.8ZM439.1,65.8L435.4,64.3L437.9,62.7ZM414.5,70.5L412.9,67.3L415.5,67.7ZM416.3,62.9L417.2,67.1L414.3,65.9ZM428.5,54.6L431.4,56.3L429.1,57.3ZM427.8,85.5L427.5,88.6L425.7,87.1ZM425.0,57.4L425.7,53.9L427.5,55.8ZM432.6,65.9L432.2,62.7L434.3,63.9ZM426.4,74.4L422.7,72.3L425.6,71.0ZM417.7,65.8L413.4,65.7L415.3,63.1ZM426.0,86.6L423.3,89.9L422.5,86.8ZM440.2,65.4L437.6,68.0L437.1,65.3ZM421.7,69.9L418.6,71.7L418.8,69.1ZM406.3,56.0L408.9,58.4L406.3,59.0ZM445.2,60.3L447.3,57.1L448.3,59.8ZM428.8,63.4L425.8,62.6L427.5,61.2ZM433.5,73.2L430.7,73.0L432.0,71.5ZM431.7,84.6L430.2,87.6L429.1,85.4ZM425.9,66.3L424.3,70.0L422.8,67.4ZM407.7,62.3L409.6,64.2L407.7,64.5ZM406.1,62.4L404.4,66.0L403.0,63.4ZM427.0,73.2L430.4,72.3L429.5,74.7ZM419.4,78.2L419.3,75.0L421.2,76.3ZM423.1,74.1L427.4,73.7L425.8,76.5ZM426.6,67.7L428.8,64.0L430.1,66.9ZM421.6,84.6L422.9,80.9L424.6,83.3ZM422.5,65.5L424.7,63.7L424.8,65.8ZM418.7,68.4L415.9,69.3L416.6,67.2ZM431.5,63.2L428.7,64.5L429.1,62.2ZM425.1,79.1L427.5,81.5L425.0,81.9ZM404.6,56.7L402.1,58.5L402.1,56.3ZM397.1,62.2L400.7,59.9L400.5,63.1ZM420.3,78.9L420.0,81.7L418.5,80.3ZM426.3,74.8L427.1,70.6L429.3,72.8ZM427.1,67.0L429.4,68.7L427.4,69.3ZM410.1,63.2L413.6,61.1L413.4,64.0ZM432.9,56.7L434.6,53.3L436.0,55.8ZM447.8,55.3L447.2,58.0L445.8,56.5ZM419.4,89.2L417.1,86.5L419.7,86.2ZM422.2,86.5L419.4,88.0L419.8,85.7ZM423.0,86.4L426.0,86.0L425.0,88.0ZM437.6,65.3L439.9,64.0L439.7,65.9ZM422.7,80.2L422.2,83.2L420.6,81.7ZM420.9,58.9L418.4,56.3L421.0,55.9ZM427.9,77.2L424.9,75.6L427.2,74.5ZM411.1,61.8L412.2,58.5L413.7,60.5ZM400.4,62.8L403.1,65.4L400.3,65.9ZM414.3,72.6L414.5,69.8L416.1,71.1ZM407.2,63.0L403.7,62.6L405.5,60.6ZM435.6,62.7L433.2,60.0L435.8,59.7ZM401.6,58.6L404.8,61.4L401.7,62.2ZM415.8,59.6L414.2,56.0L417.1,56.6ZM436.7,54.6L432.8,54.3L434.6,52.1ZM403.4,65.8L402.6,63.2L404.5,63.9ZM418.5,87.1L421.2,88.5L419.3,89.5ZM433.0,62.5L436.0,61.5L435.3,63.7ZM449.9,63.8L450.2,67.5L447.8,66.1ZM424.7,73.6L428.0,73.0L427.0,75.2ZM425.9,60.6L423.8,57.9L426.3,57.9Z" fill="#2f8c46"/>
<path d="M427.2,63.7L426.2,60.3L428.7,61.1ZM425.0,68.8L421.8,68.1L423.6,66.5ZM431.2,72.6L435.2,72.0L433.9,74.7ZM399.0,62.6L401.2,64.5L399.1,65.0ZM448.5,56.4L447.4,59.2L446.2,57.3ZM420.1,70.5L416.6,69.4L418.8,67.7ZM419.9,72.7L418.5,75.8L417.2,73.6ZM419.1,89.5L421.1,86.4L422.1,88.9ZM402.2,57.4L405.3,56.2L404.7,58.5ZM417.7,55.9L418.8,60.0L415.9,58.9ZM419.1,61.8L419.1,65.2L417.0,63.7ZM423.7,63.0L426.4,66.4L423.2,66.6ZM419.7,86.4L416.6,84.0L419.4,83.2ZM405.4,64.7L402.3,66.9L402.3,64.1ZM423.8,69.1L424.8,72.9L422.1,71.9ZM429.3,73.3L426.7,76.5L425.9,73.5ZM402.2,57.1L403.4,60.7L400.8,59.8ZM442.4,65.2L438.7,62.9L441.7,61.7ZM416.9,59.0L418.0,63.1L415.0,62.0ZM448.2,57.9L451.7,58.3L450.0,60.2ZM423.0,82.1L420.4,85.0L419.8,82.2ZM433.3,75.1L431.6,71.5L434.5,72.0ZM417.7,72.4L420.8,73.9L418.5,75.1ZM453.2,61.5L449.1,63.0L450.0,59.9ZM413.1,63.9L415.2,60.9L416.1,63.4ZM413.4,73.5L415.9,71.1L416.3,73.7ZM419.1,59.6L420.7,56.7L421.8,58.9ZM415.4,57.0L419.5,57.0L417.7,59.5ZM438.5,66.4L435.8,65.0L437.8,64.0ZM415.3,63.2L417.7,61.5L417.7,63.6ZM405.8,63.9L403.0,61.0L405.9,60.6ZM425.0,60.7L427.7,57.6L428.4,60.5ZM427.9,74.6L429.3,72.0L430.3,73.9ZM432.1,53.6L432.6,56.2L430.8,55.4ZM437.5,65.1L440.2,67.5L437.6,68.1ZM400.7,62.6L402.0,59.7L403.2,61.7ZM417.6,86.8L415.5,83.6L418.3,83.7ZM418.7,74.1L414.6,73.5L416.7,71.3ZM430.1,74.3L431.2,77.2L429.0,76.6ZM432.7,63.5L430.5,60.7L433.1,60.6ZM420.1,89.6L416.6,88.0L419.1,86.6ZM412.9,53.3L410.1,52.3L411.9,51.0ZM437.2,67.0L440.4,65.1L440.2,67.8ZM427.3,84.9L424.1,87.2L424.0,84.3ZM422.6,63.9L418.6,63.1L420.7,61.0ZM428.4,87.2L426.9,89.6L426.1,87.7ZM433.0,54.5L435.1,51.9L435.8,54.3ZM424.7,61.4L425.8,57.4L427.8,59.8ZM423.5,85.9L421.2,84.1L423.3,83.6ZM448.8,63.6L445.3,64.2L446.5,61.9ZM434.5,66.3L432.6,69.3L431.7,66.9ZM420.4,76.4L420.4,73.5L422.1,74.7ZM429.4,87.4L428.4,83.4L431.3,84.5ZM414.2,65.7L418.0,65.3L416.6,67.7ZM428.0,69.2L431.7,70.9L429.1,72.4ZM422.6,70.2L422.7,72.8L421.1,71.7ZM407.2,66.9L404.7,63.6L407.8,63.5ZM405.2,58.0L405.2,54.4L407.3,56.0ZM426.6,73.4L429.2,74.2L427.6,75.4ZM412.0,57.3L411.2,53.5L413.8,54.7Z" fill="#f2faf2"/>
<path d="M436.8,45.0 C436.8,45.6 436.8,46.3 436.6,46.9 C436.5,47.5 436.3,48.2 436.1,48.8 C435.9,49.4 435.6,50.0 435.2,50.6 C434.9,51.1 434.5,51.7 434.0,52.2 C433.4,52.6 432.5,52.8 431.9,53.2 C431.3,53.6 430.8,54.0 430.2,54.5 C429.6,54.9 429.1,55.6 428.3,55.8 C427.6,56.0 426.7,55.8 425.9,55.7 C425.1,55.7 424.4,55.4 423.6,55.4 C422.8,55.4 422.1,55.9 421.3,55.9 C420.5,55.9 419.7,55.7 419.0,55.6 C418.2,55.4 417.3,55.3 416.7,54.8 C416.2,54.4 416.0,53.4 415.5,53.0 C415.0,52.5 414.3,52.3 413.6,51.9 C413.0,51.6 412.1,51.2 411.6,50.7 C411.2,50.2 411.3,49.4 411.1,48.8 C410.9,48.1 410.6,47.5 410.5,46.9 C410.3,46.3 410.2,45.6 410.2,45.0 C410.2,44.4 410.4,43.7 410.5,43.1 C410.7,42.5 411.0,41.9 411.3,41.3 C411.6,40.7 412.0,40.2 412.3,39.6 C412.7,39.1 412.9,38.4 413.3,37.9 C413.7,37.3 414.3,36.8 414.9,36.4 C415.5,36.0 416.2,35.7 417.0,35.5 C417.7,35.2 418.4,35.1 419.2,35.0 C419.9,34.8 420.7,34.8 421.4,34.6 C422.1,34.5 422.8,34.0 423.6,33.9 C424.4,33.8 425.2,33.9 425.9,34.0 C426.7,34.2 427.3,34.6 428.0,34.9 C428.7,35.2 429.3,35.5 430.0,35.8 C430.7,36.0 431.6,36.1 432.2,36.5 C432.9,36.9 433.4,37.4 433.8,37.9 C434.2,38.5 434.5,39.1 434.8,39.7 C435.1,40.2 435.4,40.8 435.7,41.3 C436.0,41.9 436.5,42.5 436.7,43.1 C436.8,43.7 436.8,44.4 436.8,45.0 Z" fill="#e9c5ad"/>
<circle cx="432.7" cy="46.0" r="1.2" fill="#d7a58c"/>
<circle cx="433.7" cy="47.8" r="1.3" fill="#d7a58c"/>
<circle cx="429.8" cy="49.7" r="1.3" fill="#d7a58c"/>
<circle cx="425.1" cy="53.5" r="1.1" fill="#d7a58c"/>
<circle cx="420.3" cy="52.4" r="1.1" fill="#d7a58c"/>
<circle cx="416.9" cy="51.4" r="1.3" fill="#d7a58c"/>
<circle cx="415.2" cy="48.3" r="0.9" fill="#d7a58c"/>
<circle cx="413.7" cy="45.8" r="1.1" fill="#d7a58c"/>
<circle cx="414.9" cy="42.6" r="1.3" fill="#d7a58c"/>
<circle cx="418.7" cy="39.2" r="1.1" fill="#d7a58c"/>
<circle cx="421.4" cy="37.0" r="1.2" fill="#d7a58c"/>
<circle cx="425.2" cy="37.7" r="0.9" fill="#d7a58c"/>
<circle cx="428.1" cy="38.0" r="1.4" fill="#d7a58c"/>
<circle cx="431.5" cy="42.1" r="1.0" fill="#d7a58c"/>
<ellipse cx="423.6" cy="45.0" rx="6.0" ry="4.6" fill="#fff"/>
<path d="M420.7,75.5 C420.7,76.2 420.5,76.9 420.3,77.6 C420.1,78.3 419.8,78.9 419.6,79.5 C419.3,80.2 419.2,80.9 418.9,81.5 C418.5,82.1 418.1,82.8 417.6,83.3 C417.2,83.8 416.5,84.1 415.9,84.6 C415.4,85.0 415.0,85.7 414.4,86.1 C413.8,86.5 413.0,86.8 412.3,87.0 C411.6,87.1 410.9,87.2 410.2,87.2 C409.4,87.3 408.7,87.2 408.0,87.2 C407.3,87.3 406.5,87.6 405.8,87.5 C405.1,87.5 404.4,87.2 403.7,86.9 C403.0,86.6 402.4,86.1 401.9,85.7 C401.3,85.3 400.8,84.8 400.2,84.4 C399.6,84.0 398.8,83.8 398.2,83.4 C397.6,83.0 396.9,82.5 396.6,81.8 C396.2,81.2 396.2,80.4 396.1,79.7 C396.0,78.9 396.1,78.2 396.0,77.5 C395.9,76.8 395.5,76.2 395.4,75.5 C395.3,74.8 395.3,74.0 395.5,73.4 C395.7,72.7 396.4,72.2 396.7,71.6 C397.1,71.0 397.5,70.5 397.8,69.8 C398.0,69.2 398.0,68.3 398.3,67.7 C398.7,67.1 399.2,66.6 399.8,66.2 C400.4,65.8 401.2,65.6 401.9,65.3 C402.5,65.0 403.1,64.6 403.7,64.3 C404.4,64.0 405.1,63.7 405.8,63.5 C406.5,63.3 407.3,63.0 408.0,63.1 C408.7,63.2 409.4,63.7 410.1,64.0 C410.8,64.3 411.3,64.7 412.0,64.9 C412.7,65.0 413.6,64.9 414.3,65.1 C414.9,65.3 415.5,65.8 416.1,66.3 C416.6,66.7 417.0,67.3 417.5,67.9 C417.9,68.4 418.4,68.9 418.9,69.5 C419.3,70.1 419.8,70.6 420.0,71.3 C420.3,72.0 420.3,72.7 420.4,73.4 C420.5,74.1 420.7,74.8 420.7,75.5 Z" fill="#e9c5ad"/>
<circle cx="417.2" cy="76.9" r="1.3" fill="#d7a58c"/>
<circle cx="415.6" cy="80.6" r="1.3" fill="#d7a58c"/>
<circle cx="414.6" cy="82.6" r="1.4" fill="#d7a58c"/>
<circle cx="411.3" cy="83.8" r="1.3" fill="#d7a58c"/>
<circle cx="406.2" cy="83.5" r="1.1" fill="#d7a58c"/>
<circle cx="401.7" cy="80.9" r="1.3" fill="#d7a58c"/>
<circle cx="399.6" cy="80.0" r="1.3" fill="#d7a58c"/>
<circle cx="399.4" cy="75.6" r="1.4" fill="#d7a58c"/>
<circle cx="400.8" cy="71.4" r="1.0" fill="#d7a58c"/>
<circle cx="401.9" cy="69.1" r="1.0" fill="#d7a58c"/>
<circle cx="407.5" cy="68.1" r="1.4" fill="#d7a58c"/>
<circle cx="409.5" cy="66.1" r="1.3" fill="#d7a58c"/>
<circle cx="413.3" cy="69.1" r="1.2" fill="#d7a58c"/>
<circle cx="415.2" cy="72.5" r="1.0" fill="#d7a58c"/>
<ellipse cx="408.0" cy="75.5" rx="5.6" ry="5.0" fill="#fff"/>
<path d="M453.9,75.5 C453.9,76.2 454.3,76.9 454.3,77.6 C454.3,78.3 454.2,79.0 454.0,79.7 C453.8,80.4 453.4,81.0 452.9,81.6 C452.5,82.1 451.9,82.6 451.4,83.0 C450.8,83.5 450.3,83.9 449.8,84.4 C449.3,84.9 448.8,85.5 448.3,85.9 C447.7,86.3 447.1,86.9 446.4,87.1 C445.7,87.2 444.8,86.8 444.1,86.8 C443.3,86.8 442.7,87.1 442.0,87.3 C441.3,87.5 440.4,88.1 439.7,88.0 C439.0,87.9 438.4,87.2 437.7,86.8 C437.1,86.4 436.4,86.2 435.8,85.8 C435.2,85.4 434.6,85.0 434.0,84.6 C433.4,84.3 432.5,84.0 432.1,83.5 C431.6,83.0 431.6,82.1 431.4,81.4 C431.1,80.7 430.8,80.1 430.5,79.5 C430.2,78.9 429.7,78.3 429.5,77.6 C429.2,77.0 429.1,76.2 429.1,75.5 C429.1,74.8 429.2,74.0 429.5,73.4 C429.7,72.7 430.1,72.1 430.5,71.5 C430.8,70.9 431.3,70.4 431.5,69.7 C431.8,69.0 431.6,68.0 432.0,67.4 C432.4,66.9 433.2,66.5 433.9,66.2 C434.6,65.9 435.3,65.8 436.0,65.5 C436.7,65.3 437.2,65.0 437.9,64.6 C438.5,64.2 439.0,63.3 439.7,63.1 C440.4,62.9 441.3,63.3 442.0,63.5 C442.7,63.6 443.4,63.8 444.1,63.9 C444.9,64.0 445.6,63.9 446.4,64.0 C447.1,64.1 447.9,64.3 448.5,64.7 C449.2,65.0 449.8,65.5 450.3,66.0 C450.7,66.6 450.8,67.5 451.2,68.1 C451.7,68.6 452.5,68.9 453.0,69.4 C453.4,70.0 453.8,70.6 454.1,71.3 C454.3,71.9 454.7,72.7 454.7,73.4 C454.7,74.1 454.0,74.8 453.9,75.5 Z" fill="#e9c5ad"/>
<circle cx="449.1" cy="76.5" r="1.0" fill="#d7a58c"/>
<circle cx="451.3" cy="78.6" r="1.1" fill="#d7a58c"/>
<circle cx="446.6" cy="81.6" r="1.2" fill="#d7a58c"/>
<circle cx="444.1" cy="82.9" r="1.2" fill="#d7a58c"/>
<circle cx="439.5" cy="84.5" r="1.2" fill="#d7a58c"/>
<circle cx="434.9" cy="81.6" r="1.4" fill="#d7a58c"/>
<circle cx="435.1" cy="78.1" r="1.3" fill="#d7a58c"/>
<circle cx="432.5" cy="73.8" r="1.2" fill="#d7a58c"/>
<circle cx="435.5" cy="71.8" r="1.3" fill="#d7a58c"/>
<circle cx="437.3" cy="69.5" r="0.9" fill="#d7a58c"/>
<circle cx="441.2" cy="66.0" r="0.9" fill="#d7a58c"/>
<circle cx="444.8" cy="68.1" r="1.0" fill="#d7a58c"/>
<circle cx="447.2" cy="68.1" r="1.3" fill="#d7a58c"/>
<circle cx="449.1" cy="70.5" r="0.9" fill="#d7a58c"/>
<ellipse cx="442.0" cy="75.5" rx="5.6" ry="5.0" fill="#fff"/>
<path d="M462.0,56.0 L472.0,50.0 L484.0,55.0 L496.0,50.0 L505.0,56.0 L508.0,62.0 L496.0,62.0 L490.0,72.0 L492.0,88.0 L484.0,91.0 L478.0,86.0 L480.0,72.0 L470.0,63.0 L460.0,64.0 Z" fill="#c4e6c6"/>
<path d="M470.1,55.2L471.4,52.7L472.3,54.6ZM495.1,58.7L498.1,58.2L497.2,60.2ZM468.8,56.5L466.3,53.3L469.3,53.2ZM497.7,59.8L497.5,56.2L499.8,57.6ZM487.5,77.5L490.2,76.4L489.7,78.4ZM487.9,61.3L486.0,64.2L485.1,61.8ZM483.0,65.9L486.1,66.6L484.4,68.2ZM468.3,61.2L468.4,63.8L466.8,62.7ZM484.2,64.0L481.6,65.2L482.0,63.2ZM478.7,57.1L481.4,58.3L479.6,59.4ZM463.1,57.4L464.3,60.8L461.8,60.1ZM472.2,65.2L469.7,63.1L472.0,62.5ZM462.9,61.4L459.8,63.7L459.8,60.9ZM489.4,85.0L488.9,82.2L490.8,83.2ZM479.7,57.1L481.3,53.3L482.9,55.9ZM462.5,55.3L463.2,58.3L461.0,57.4ZM475.7,53.8L472.9,55.4L473.1,53.1ZM471.4,53.0L468.6,53.2L469.7,51.4ZM494.3,56.6L491.0,57.1L492.0,54.9ZM461.6,62.0L460.3,59.4L462.4,59.8ZM493.3,50.9L491.9,53.3L491.1,51.5ZM461.6,55.4L464.8,56.9L462.6,58.2ZM502.8,52.8L503.0,56.6L500.6,55.1ZM501.4,56.8L503.8,58.7L501.6,59.3ZM484.0,71.8L481.5,72.5L482.2,70.7ZM489.8,68.6L488.8,72.0L487.2,69.9ZM498.1,53.0L501.2,52.6L500.1,54.6ZM481.1,83.8L481.7,86.3L479.9,85.6ZM501.6,60.1L501.2,56.2L503.7,57.6ZM481.4,84.6L478.1,82.3L480.9,81.3ZM466.8,56.2L469.5,54.8L469.2,57.1ZM485.7,85.7L487.2,87.7L485.4,87.8ZM481.9,79.5L484.2,78.2L484.0,80.1ZM481.7,89.4L481.4,85.4L483.9,87.0ZM481.4,54.1L482.3,57.1L480.2,56.3ZM493.1,56.2L490.3,55.9L491.7,54.4ZM500.2,56.3L498.6,59.0L497.7,56.9ZM486.6,63.4L489.1,64.2L487.5,65.4ZM477.1,62.5L474.6,63.2L475.2,61.4ZM486.0,69.3L490.1,69.5L488.3,71.9ZM488.9,86.2L488.6,82.1L491.2,83.6ZM474.0,61.2L474.2,57.6L476.2,59.3ZM479.9,64.9L479.9,67.9L478.1,66.6ZM492.0,57.3L487.8,57.3L489.6,54.8ZM490.3,63.7L487.4,63.2L488.9,61.7ZM466.5,61.9L466.0,57.8L468.6,59.3ZM504.5,60.5L507.2,59.8L506.5,61.7ZM477.3,55.9L473.1,56.0L474.8,53.4ZM486.6,76.6L488.5,79.5L485.9,79.4ZM485.1,54.8L484.6,58.1L482.8,56.3ZM464.4,55.7L463.3,58.5L462.1,56.7ZM480.7,67.7L476.8,68.7L477.9,66.0ZM468.6,54.7L467.8,58.5L465.8,56.4ZM483.7,81.4L480.9,78.8L483.7,78.2ZM479.2,83.1L478.8,86.6L476.9,84.9ZM489.9,86.0L492.4,86.5L491.0,87.8ZM491.6,58.9L490.7,62.4L488.9,60.4ZM491.1,62.0L490.7,66.0L488.5,64.0ZM490.7,71.5L488.0,73.0L488.3,70.7ZM482.6,71.4L485.5,72.0L483.9,73.5ZM470.1,50.8L471.0,54.7L468.2,53.5ZM495.6,54.5L492.2,56.6L492.4,53.7ZM493.7,51.6L496.0,50.1L495.9,52.2ZM473.2,65.1L475.7,65.7L474.3,66.9ZM483.2,57.4L479.4,58.6L480.3,55.8ZM504.8,59.6L506.0,62.5L503.7,62.0ZM489.3,86.3L489.4,82.7L491.5,84.3ZM460.9,63.0L460.2,59.0L462.9,60.2ZM468.5,56.0L466.0,52.7L469.0,52.6ZM477.9,68.6L475.4,69.9L475.7,67.8ZM493.6,88.2L489.7,88.0L491.5,85.7ZM470.3,58.8L467.3,59.4L468.2,57.4ZM490.7,64.8L488.2,66.1L488.5,64.1ZM466.2,59.6L463.2,58.1L465.3,56.9ZM484.9,73.7L485.9,70.1L487.7,72.3ZM469.1,59.1L472.0,59.2L470.7,60.8ZM488.7,65.6L489.7,62.1L491.4,64.3ZM504.0,59.7L504.8,55.6L506.9,57.8ZM471.0,53.1L468.2,50.4L471.0,49.9ZM477.6,57.0L478.8,53.9L480.1,55.9ZM478.0,69.4L475.7,68.3L477.3,67.3ZM479.5,56.5L479.1,53.1L481.3,54.3ZM488.6,73.2L490.0,75.3L488.1,75.3ZM481.9,83.9L479.6,82.8L481.2,81.9ZM467.2,62.4L469.3,60.1L469.8,62.3ZM489.3,58.6L490.0,55.0L491.9,57.0ZM487.6,88.7L485.6,90.8L485.2,88.7ZM487.1,63.8L486.3,66.5L485.0,64.9ZM484.0,53.6L482.6,56.8L481.3,54.6ZM488.9,73.7L488.0,71.3L489.9,71.8ZM483.3,87.3L481.2,84.7L483.6,84.5ZM505.1,59.8L504.4,63.8L502.2,61.6ZM501.2,57.2L498.8,60.5L497.9,57.6ZM486.5,68.5L482.9,67.9L484.8,66.0ZM484.0,71.2L485.9,73.0L484.0,73.4ZM482.6,56.8L478.9,55.9L481.0,54.1ZM475.2,65.8L474.4,62.4L476.8,63.3ZM485.6,69.0L485.4,65.9L487.3,67.1ZM484.7,59.1L487.3,60.1L485.6,61.2ZM481.3,76.2L484.8,75.7L483.6,78.0ZM489.3,57.4L486.5,59.7L486.3,57.1ZM481.1,65.2L480.9,62.2L482.8,63.3ZM474.9,64.7L472.8,62.1L475.2,62.0ZM473.2,63.7L475.7,65.4L473.5,66.2ZM469.9,53.9L467.6,55.0L467.9,53.1ZM486.7,61.4L484.9,57.7L488.0,58.2ZM477.0,60.7L479.6,58.0L480.1,60.7ZM474.3,52.2L474.8,54.9L473.0,54.0ZM481.6,89.3L484.1,86.5L484.8,89.1ZM477.6,54.6L478.9,52.0L479.9,53.8ZM462.6,63.0L459.5,61.8L461.5,60.5ZM482.3,78.1L480.9,81.3L479.6,79.2ZM489.5,89.5L488.9,86.5L490.9,87.4ZM490.3,79.1L489.0,76.6L491.1,76.9ZM481.9,87.4L482.7,84.2L484.2,86.0ZM481.6,86.2L477.9,84.8L480.3,83.1ZM496.7,62.8L493.9,61.4L495.9,60.3ZM489.1,76.8L485.9,78.8L486.1,76.0ZM491.0,59.4L493.7,60.3L491.9,61.5ZM493.3,57.5L489.4,58.7L490.3,55.8ZM497.9,54.4L497.9,58.3L495.5,56.6ZM488.9,61.7L486.3,61.9L487.3,60.3ZM480.1,78.4L482.8,79.6L480.9,80.7ZM497.1,51.6L499.8,52.4L498.2,53.7ZM500.0,59.2L496.9,60.3L497.6,57.9ZM489.2,78.2L487.4,80.7L486.6,78.5ZM490.5,56.3L489.4,53.9L491.3,54.3ZM478.5,60.3L477.1,57.3L479.5,57.7ZM479.8,51.3L479.0,54.8L477.2,52.8ZM466.0,57.5L463.4,55.5L465.7,54.8ZM486.1,58.9L488.8,60.2L486.8,61.2ZM486.5,88.3L485.8,84.3L488.5,85.5ZM499.4,54.3L500.3,58.2L497.5,57.1ZM473.3,53.7L475.4,52.0L475.5,54.0ZM486.4,59.6L486.2,63.4L484.0,61.6ZM489.1,60.3L487.7,62.4L487.0,60.7ZM496.3,57.5L492.8,59.7L492.9,56.7ZM483.4,72.8L480.8,71.8L482.5,70.7ZM471.4,52.9L474.5,54.9L472.0,55.9ZM485.6,69.7L483.5,71.3L483.4,69.4ZM489.9,76.6L487.1,74.8L489.4,73.9ZM467.4,61.9L470.3,63.0L468.4,64.3ZM491.9,64.1L491.0,61.0L493.3,61.8ZM492.7,50.2L494.8,51.8L492.9,52.4ZM503.3,56.6L503.2,59.2L501.7,58.0ZM484.0,58.5L485.0,62.2L482.4,61.2ZM476.6,65.7L477.7,62.4L479.2,64.4ZM476.4,55.7L479.8,53.3L479.8,56.4ZM486.5,82.4L482.9,82.5L484.4,80.3ZM492.7,59.2L494.6,62.9L491.5,62.4Z" fill="#5cb86a"/>
<path d="M485.2,89.6L483.6,91.6L483.1,89.8ZM487.6,85.8L487.5,89.8L485.2,88.0ZM490.2,58.6L492.1,61.8L489.4,61.6ZM506.2,57.2L503.2,58.1L504.0,56.0ZM482.0,62.0L478.6,61.3L480.5,59.5ZM482.6,88.0L479.4,85.7L482.1,84.7ZM483.7,63.0L484.4,60.1L485.9,61.7ZM488.4,67.8L491.8,66.8L491.0,69.3ZM475.2,57.8L478.6,58.7L476.6,60.4ZM479.2,66.9L482.1,68.6L479.8,69.6ZM489.6,64.8L488.5,68.6L486.7,66.3ZM504.1,59.9L502.1,61.9L501.7,59.9ZM466.4,59.6L469.1,60.2L467.5,61.6ZM480.5,64.5L478.6,66.4L478.3,64.5ZM485.4,70.6L482.8,68.9L484.9,68.1ZM475.7,64.0L479.1,63.8L477.8,66.0ZM481.0,66.9L484.2,67.8L482.3,69.3ZM480.9,86.4L477.7,85.0L479.9,83.7ZM487.8,90.5L485.5,86.9L488.6,87.1ZM482.0,77.0L479.7,76.0L481.3,75.0ZM482.6,63.0L485.2,60.3L485.7,63.0ZM495.8,59.6L493.7,58.0L495.5,57.5ZM465.9,57.3L462.1,55.5L464.8,54.0ZM501.4,55.4L503.7,57.5L501.5,58.0ZM492.1,71.0L488.6,69.0L491.3,67.7ZM482.1,89.0L486.2,89.7L484.0,91.8ZM493.7,52.4L489.8,54.0L490.5,51.0ZM496.2,53.7L498.1,50.9L498.9,53.3ZM484.8,84.8L487.8,83.2L487.5,85.7ZM483.3,76.8L486.5,77.1L485.0,78.9ZM495.2,62.8L493.5,59.4L496.3,59.9ZM483.0,58.7L479.4,57.6L481.6,56.0ZM469.6,58.9L472.4,58.8L471.3,60.5ZM497.9,58.9L496.7,55.3L499.4,56.1ZM473.1,60.4L473.8,63.8L471.4,62.8ZM478.4,70.7L477.6,66.8L480.3,68.1ZM488.0,82.5L491.4,80.4L491.2,83.4ZM474.8,66.0L472.8,64.0L474.9,63.7ZM484.0,81.7L481.6,79.3L484.1,78.9ZM483.9,85.4L481.9,81.9L484.8,82.2ZM484.2,77.1L484.9,73.6L486.7,75.5ZM494.4,60.6L495.8,64.2L493.0,63.5ZM481.4,58.3L478.7,56.3L481.0,55.6ZM497.9,53.1L498.5,57.0L495.9,55.6ZM488.0,59.6L488.5,62.6L486.5,61.6ZM479.7,54.1L479.7,56.9L478.0,55.7ZM469.8,62.0L471.5,58.6L472.8,61.1ZM470.8,63.6L467.9,63.6L469.1,61.9ZM490.4,87.1L487.5,87.8L488.3,85.8ZM492.0,64.5L489.6,66.1L489.7,63.9Z" fill="#f6fbf6"/>
<path d="M494.1,44.4 C494.2,45.1 494.3,45.8 494.3,46.5 C494.3,47.2 494.3,47.9 494.0,48.6 C493.7,49.2 493.0,49.6 492.6,50.1 C492.2,50.7 491.8,51.2 491.5,51.8 C491.2,52.4 491.0,53.2 490.6,53.7 C490.2,54.3 489.7,54.9 489.2,55.3 C488.6,55.6 487.8,55.5 487.1,55.6 C486.5,55.8 485.9,56.0 485.2,56.2 C484.6,56.3 484.0,56.4 483.3,56.5 C482.6,56.5 481.9,56.7 481.3,56.5 C480.7,56.3 480.2,55.6 479.6,55.3 C479.0,54.9 478.5,54.7 477.9,54.4 C477.3,54.1 476.6,54.0 476.1,53.6 C475.6,53.2 475.1,52.7 474.7,52.1 C474.3,51.6 473.9,51.0 473.6,50.4 C473.3,49.8 473.1,49.1 472.8,48.5 C472.5,47.9 472.0,47.3 471.8,46.6 C471.6,45.9 471.5,45.1 471.7,44.4 C471.8,43.7 472.5,43.1 472.7,42.4 C473.0,41.7 473.0,41.1 473.1,40.4 C473.2,39.7 473.1,38.9 473.3,38.2 C473.5,37.6 474.0,36.9 474.4,36.4 C474.9,35.9 475.6,35.6 476.1,35.2 C476.7,34.8 477.1,34.3 477.7,34.0 C478.2,33.6 478.9,33.4 479.5,33.1 C480.1,32.9 480.7,32.4 481.3,32.3 C481.9,32.2 482.6,32.5 483.3,32.5 C484.0,32.6 484.6,32.7 485.2,32.8 C485.8,32.9 486.5,32.9 487.1,33.1 C487.8,33.3 488.5,33.4 489.0,33.8 C489.5,34.2 489.7,35.2 490.2,35.6 C490.6,36.1 491.4,36.2 491.9,36.6 C492.5,37.1 493.1,37.5 493.4,38.1 C493.8,38.7 494.0,39.5 494.1,40.2 C494.1,40.9 493.9,41.7 493.9,42.4 C494.0,43.1 494.0,43.7 494.1,44.4 Z" fill="#ecc3ae" stroke="#d9707a" stroke-width="0.9"/>
<circle cx="491.0" cy="45.8" r="1.3" fill="#d7a58c"/>
<circle cx="489.6" cy="48.9" r="1.1" fill="#d7a58c"/>
<circle cx="487.7" cy="50.8" r="1.0" fill="#d7a58c"/>
<circle cx="485.8" cy="53.0" r="0.9" fill="#d7a58c"/>
<circle cx="483.0" cy="52.9" r="1.0" fill="#d7a58c"/>
<circle cx="478.6" cy="50.6" r="1.1" fill="#d7a58c"/>
<circle cx="476.8" cy="46.2" r="1.1" fill="#d7a58c"/>
<circle cx="475.4" cy="45.4" r="1.0" fill="#d7a58c"/>
<circle cx="475.7" cy="41.0" r="1.1" fill="#d7a58c"/>
<circle cx="478.0" cy="37.0" r="1.0" fill="#d7a58c"/>
<circle cx="480.7" cy="37.7" r="1.3" fill="#d7a58c"/>
<circle cx="485.1" cy="37.4" r="1.1" fill="#d7a58c"/>
<circle cx="487.2" cy="37.6" r="0.9" fill="#d7a58c"/>
<circle cx="491.4" cy="41.0" r="1.4" fill="#d7a58c"/>
<ellipse cx="483.3" cy="44.4" rx="5.0" ry="5.0" fill="#fff"/>
<path d="M484.7,75.3 C484.8,76.0 485.0,76.8 484.9,77.6 C484.7,78.3 484.2,79.0 483.8,79.6 C483.5,80.3 483.1,80.9 482.7,81.5 C482.4,82.2 482.1,82.9 481.7,83.5 C481.3,84.2 481.0,85.0 480.3,85.4 C479.7,85.8 478.5,85.5 477.8,85.7 C477.0,85.9 476.5,86.3 475.8,86.7 C475.2,87.1 474.6,87.8 473.8,88.0 C473.1,88.3 472.3,88.3 471.5,88.3 C470.7,88.2 469.9,88.1 469.2,87.8 C468.5,87.5 468.0,86.7 467.3,86.4 C466.6,86.2 465.7,86.4 465.0,86.2 C464.2,86.0 463.6,85.5 463.0,85.0 C462.5,84.5 462.0,83.9 461.6,83.3 C461.2,82.7 460.9,82.0 460.5,81.4 C460.2,80.8 459.9,80.1 459.5,79.5 C459.2,78.8 458.7,78.2 458.5,77.5 C458.4,76.8 458.7,76.0 458.8,75.3 C458.8,74.6 458.7,73.9 458.7,73.1 C458.8,72.4 458.8,71.6 459.0,70.9 C459.2,70.2 459.7,69.6 460.1,69.0 C460.6,68.4 460.9,67.7 461.4,67.2 C462.0,66.7 463.0,66.7 463.6,66.2 C464.1,65.7 464.3,64.8 464.9,64.3 C465.5,63.9 466.3,63.6 467.0,63.5 C467.8,63.3 468.6,63.6 469.3,63.5 C470.1,63.4 470.8,62.9 471.5,62.9 C472.2,62.8 473.0,63.0 473.7,63.1 C474.5,63.2 475.3,63.2 476.0,63.4 C476.7,63.6 477.5,63.9 478.1,64.3 C478.8,64.6 479.3,65.3 479.8,65.8 C480.3,66.3 480.8,66.8 481.4,67.3 C482.0,67.8 483.0,68.1 483.4,68.7 C483.8,69.3 483.5,70.3 483.6,71.1 C483.8,71.8 483.9,72.5 484.1,73.2 C484.2,73.9 484.6,74.6 484.7,75.3 Z" fill="#ecc3ae" stroke="#d9707a" stroke-width="0.9"/>
<circle cx="481.6" cy="74.1" r="1.2" fill="#d7a58c"/>
<circle cx="479.6" cy="81.0" r="1.0" fill="#d7a58c"/>
<circle cx="476.6" cy="80.8" r="1.0" fill="#d7a58c"/>
<circle cx="474.7" cy="82.5" r="1.2" fill="#d7a58c"/>
<circle cx="471.3" cy="84.3" r="1.1" fill="#d7a58c"/>
<circle cx="466.0" cy="83.1" r="1.1" fill="#d7a58c"/>
<circle cx="463.9" cy="79.5" r="1.3" fill="#d7a58c"/>
<circle cx="461.3" cy="77.0" r="0.9" fill="#d7a58c"/>
<circle cx="463.1" cy="70.3" r="0.9" fill="#d7a58c"/>
<circle cx="467.1" cy="68.5" r="1.2" fill="#d7a58c"/>
<circle cx="468.5" cy="68.9" r="1.0" fill="#d7a58c"/>
<circle cx="474.6" cy="68.4" r="1.3" fill="#d7a58c"/>
<circle cx="479.1" cy="68.8" r="1.1" fill="#d7a58c"/>
<circle cx="479.2" cy="71.2" r="1.3" fill="#d7a58c"/>
<ellipse cx="471.5" cy="75.3" rx="5.9" ry="5.2" fill="#fff"/>
<path d="M517.8,71.0 C517.8,71.7 517.6,72.4 517.3,73.1 C517.1,73.7 516.5,74.2 516.1,74.8 C515.8,75.4 515.6,76.0 515.4,76.6 C515.1,77.2 514.8,77.8 514.4,78.4 C514.0,78.9 513.6,79.6 513.1,80.0 C512.5,80.3 511.6,80.3 511.0,80.7 C510.4,81.0 509.9,81.6 509.3,81.9 C508.7,82.2 508.0,82.4 507.3,82.6 C506.6,82.7 505.9,82.9 505.2,82.8 C504.5,82.7 503.9,82.0 503.2,81.8 C502.5,81.7 501.8,82.0 501.1,81.9 C500.3,81.8 499.5,81.7 498.9,81.4 C498.3,81.0 497.9,80.4 497.5,79.8 C497.0,79.3 496.7,78.7 496.3,78.2 C495.8,77.7 495.2,77.3 494.8,76.8 C494.4,76.2 494.1,75.6 493.8,75.0 C493.6,74.3 493.3,73.7 493.2,73.0 C493.2,72.4 493.3,71.7 493.3,71.0 C493.4,70.3 493.6,69.7 493.6,69.0 C493.7,68.4 493.2,67.5 493.4,66.9 C493.6,66.2 494.2,65.7 494.6,65.1 C495.1,64.6 495.6,64.1 496.1,63.7 C496.6,63.2 497.1,62.8 497.6,62.4 C498.1,61.9 498.6,61.4 499.2,61.0 C499.7,60.6 500.3,60.1 501.0,59.9 C501.6,59.7 502.4,59.8 503.1,59.8 C503.8,59.7 504.5,59.7 505.2,59.6 C505.9,59.6 506.6,59.5 507.3,59.6 C508.0,59.7 508.6,60.0 509.3,60.3 C509.9,60.6 510.5,60.9 511.1,61.2 C511.7,61.6 512.1,62.1 512.8,62.4 C513.4,62.7 514.4,62.7 514.9,63.2 C515.4,63.7 515.6,64.5 515.7,65.2 C515.9,65.8 515.7,66.6 515.9,67.3 C516.2,67.9 516.7,68.4 517.0,69.0 C517.3,69.6 517.7,70.3 517.8,71.0 Z" fill="#ecc3ae" stroke="#d9707a" stroke-width="0.9"/>
<circle cx="514.6" cy="70.5" r="1.4" fill="#d7a58c"/>
<circle cx="512.9" cy="74.6" r="1.2" fill="#d7a58c"/>
<circle cx="510.2" cy="78.8" r="0.9" fill="#d7a58c"/>
<circle cx="507.5" cy="78.7" r="1.1" fill="#d7a58c"/>
<circle cx="503.4" cy="77.4" r="1.3" fill="#d7a58c"/>
<circle cx="500.8" cy="76.2" r="1.2" fill="#d7a58c"/>
<circle cx="499.0" cy="74.4" r="1.1" fill="#d7a58c"/>
<circle cx="498.0" cy="72.0" r="1.3" fill="#d7a58c"/>
<circle cx="499.5" cy="67.8" r="1.3" fill="#d7a58c"/>
<circle cx="499.4" cy="66.3" r="1.4" fill="#d7a58c"/>
<circle cx="503.9" cy="63.9" r="1.1" fill="#d7a58c"/>
<circle cx="506.5" cy="64.4" r="1.4" fill="#d7a58c"/>
<circle cx="508.9" cy="64.4" r="1.3" fill="#d7a58c"/>
<circle cx="513.6" cy="66.7" r="1.0" fill="#d7a58c"/>
<ellipse cx="505.2" cy="71.0" rx="5.4" ry="4.8" fill="#fff"/>
<path d="M398.0,172.0 L412.0,168.0 L424.0,172.0 L436.0,168.0 L451.0,172.0 L448.0,182.0 L436.0,186.0 L432.0,196.0 L432.0,206.0 L424.0,208.0 L417.0,206.0 L416.0,196.0 L412.0,186.0 L400.0,182.0 Z" fill="#e88a94"/>
<path d="M414.3,172.9L416.6,174.2L414.8,175.0ZM428.1,183.3L424.8,183.5L426.1,181.4ZM399.8,172.6L402.2,169.6L403.0,172.3ZM403.0,175.3L406.8,176.8L404.3,178.5ZM430.0,183.7L427.8,185.1L427.9,183.1ZM444.4,180.8L442.0,179.5L443.8,178.6ZM430.5,182.5L433.1,182.2L432.2,183.9ZM400.4,174.6L402.9,176.7L400.5,177.3ZM413.1,191.9L415.3,189.9L415.6,192.1ZM425.6,201.4L427.2,203.9L425.0,203.8ZM448.1,173.7L450.4,170.7L451.3,173.3ZM443.8,178.7L446.2,181.3L443.6,181.7ZM429.9,184.3L429.3,188.4L427.2,186.3ZM425.0,195.3L421.3,195.5L422.8,193.2ZM440.1,180.7L441.6,177.4L442.9,179.7ZM408.9,173.4L405.0,173.6L406.6,171.3ZM403.2,179.3L405.0,175.7L406.3,178.3ZM428.0,201.4L428.0,205.3L425.6,203.6ZM411.4,186.3L412.4,182.4L414.3,184.7ZM449.5,175.5L447.2,173.6L449.3,173.1ZM431.0,178.6L428.0,179.8L428.5,177.5ZM419.5,190.1L416.7,192.5L416.5,189.8ZM424.7,191.4L426.7,193.1L424.8,193.6ZM420.4,185.1L416.9,184.3L418.8,182.6ZM408.3,175.7L408.7,173.1L410.1,174.4ZM405.5,182.9L401.7,183.9L402.7,181.2ZM430.5,175.6L429.3,172.8L431.5,173.3ZM418.6,171.0L417.8,175.2L415.7,172.9ZM424.0,188.1L421.3,187.8L422.6,186.3ZM416.9,177.2L416.7,180.0L415.1,178.7ZM424.6,173.5L427.2,173.1L426.3,174.8ZM427.3,205.6L426.3,209.1L424.6,207.0ZM412.9,184.5L409.8,182.2L412.5,181.3ZM425.5,200.6L425.7,197.7L427.3,199.0ZM399.4,181.2L398.1,177.7L400.7,178.4ZM410.2,178.6L408.2,176.5L410.3,176.2ZM432.1,202.5L431.6,205.8L429.8,204.1ZM419.0,204.4L420.6,206.7L418.5,206.6ZM406.5,172.9L404.5,176.1L403.3,173.5ZM417.5,191.0L415.2,190.0L416.8,189.0ZM423.9,206.2L426.6,203.3L427.2,206.1ZM441.8,178.1L440.6,175.3L442.7,175.8ZM413.3,186.4L409.5,184.8L412.1,183.2ZM414.8,185.2L418.9,185.6L416.9,187.9ZM418.4,204.7L421.6,203.3L421.0,205.8ZM423.4,175.4L419.9,176.9L420.5,174.1ZM413.3,188.0L417.1,187.7L415.7,190.2ZM411.4,177.2L412.4,180.5L410.0,179.7ZM429.3,197.5L427.5,200.2L426.6,197.9ZM428.5,188.1L431.9,186.8L431.2,189.4ZM419.7,189.6L423.2,187.5L423.0,190.5ZM445.8,177.6L449.9,177.4L448.3,179.9ZM443.8,174.7L440.7,173.6L442.7,172.2ZM403.6,178.5L400.0,178.4L401.6,176.2ZM434.7,172.2L433.0,176.0L431.4,173.4ZM421.2,187.4L417.8,189.2L418.2,186.3ZM425.9,183.1L423.8,180.9L426.0,180.6ZM434.6,168.2L437.8,167.9L436.6,170.0ZM433.2,189.4L429.0,189.5L430.7,186.9ZM405.6,179.1L401.8,179.8L403.0,177.3ZM410.4,174.2L412.9,171.0L413.7,173.9ZM442.7,180.1L439.2,178.1L441.9,176.9ZM429.5,196.8L426.9,196.4L428.2,195.0ZM436.5,186.0L432.4,185.9L434.2,183.5ZM433.5,201.2L429.6,200.7L431.5,198.6ZM419.9,180.8L424.0,180.5L422.5,183.1ZM410.6,172.9L413.4,172.2L412.7,174.2ZM405.3,174.9L402.4,175.2L403.5,173.4ZM414.6,178.6L415.7,181.4L413.6,180.8ZM423.7,176.3L424.2,173.8L425.5,175.1ZM411.1,166.7L412.8,169.7L410.3,169.5ZM448.3,170.6L448.2,173.9L446.3,172.5ZM422.8,202.5L424.3,199.5L425.5,201.7ZM420.9,182.4L418.1,182.6L419.2,180.9ZM413.4,175.6L409.5,175.2L411.4,173.0ZM412.5,179.4L412.0,176.2L414.1,177.3ZM416.1,182.3L413.2,183.5L413.7,181.3ZM423.7,189.9L421.5,187.4L423.9,187.1ZM412.5,176.4L415.9,176.8L414.2,178.6ZM420.2,180.9L417.7,182.3L418.0,180.2ZM425.5,199.4L425.8,203.3L423.3,201.8ZM428.1,201.9L430.9,204.3L428.2,204.9ZM411.3,170.5L408.5,169.3L410.5,168.1ZM426.2,191.7L429.6,193.0L427.3,194.5ZM423.9,188.2L426.1,189.6L424.3,190.3ZM438.5,178.8L435.5,178.7L436.9,177.0ZM436.5,173.9L438.4,177.6L435.4,177.2ZM422.2,183.6L425.3,181.6L425.1,184.3ZM433.0,172.4L430.5,171.0L432.4,170.0ZM436.1,179.6L438.7,179.6L437.6,181.1ZM400.3,177.0L403.2,179.2L400.6,180.0ZM432.0,179.4L435.2,178.4L434.4,180.7ZM423.9,171.8L422.6,174.3L421.7,172.4ZM422.4,180.9L419.8,177.7L422.8,177.5ZM449.3,171.6L449.2,175.0L447.2,173.5ZM423.0,181.4L420.2,180.0L422.2,178.9ZM444.3,171.9L441.9,174.8L441.2,172.1ZM444.6,180.8L445.7,177.9L447.0,179.8ZM416.9,186.5L416.2,184.0L418.0,184.7ZM409.7,178.5L412.3,177.5L411.8,179.6ZM433.2,203.9L430.8,206.3L430.3,203.8ZM435.9,168.2L437.6,171.0L435.2,170.8ZM414.5,169.3L412.8,171.4L412.2,169.5ZM422.4,183.7L422.0,180.0L424.4,181.3ZM431.1,179.4L434.3,179.2L433.1,181.2ZM407.4,176.6L404.9,173.5L407.9,173.3ZM426.3,175.5L424.0,179.1L422.8,176.2ZM422.4,175.0L420.5,173.1L422.4,172.7ZM416.2,173.3L414.8,170.7L417.0,170.9ZM428.2,201.7L429.5,204.7L427.2,204.2ZM418.7,190.1L419.9,187.3L421.1,189.2ZM402.8,178.8L400.5,180.4L400.5,178.4ZM425.7,192.0L424.9,194.7L423.6,193.1ZM410.9,179.0L412.5,176.2L413.6,178.3ZM419.7,203.1L419.5,207.1L417.2,205.3ZM401.8,173.9L405.3,172.9L404.4,175.4ZM424.3,190.6L420.5,191.2L421.7,188.7ZM433.3,181.3L430.6,180.2L432.4,179.0ZM432.8,196.9L430.3,196.1L431.8,194.9ZM424.6,192.3L425.8,189.7L426.9,191.6ZM415.9,185.9L413.1,188.2L412.9,185.5ZM412.4,177.4L409.5,179.7L409.4,177.0ZM412.3,168.9L415.6,167.4L415.1,170.0ZM419.2,176.4L422.4,178.8L419.6,179.7ZM409.1,170.9L409.5,167.7L411.3,169.3ZM434.8,174.0L435.2,177.7L432.8,176.4ZM426.4,175.9L423.9,177.6L423.9,175.4ZM441.8,179.3L439.7,176.1L442.5,176.2ZM424.6,177.2L422.8,174.6L425.2,174.6ZM406.3,186.0L403.8,182.7L406.8,182.5ZM407.1,170.7L404.0,170.9L405.2,168.9ZM448.3,183.2L445.3,180.5L448.2,179.8ZM436.7,167.8L439.3,169.6L437.1,170.4ZM418.5,182.5L416.5,181.0L418.2,180.4ZM414.3,181.6L412.2,183.4L412.0,181.4ZM447.8,178.0L448.7,174.2L450.6,176.4ZM418.4,206.4L416.2,204.2L418.4,203.8ZM419.9,199.1L420.7,201.5L418.9,201.0ZM446.7,176.1L448.4,179.7L445.5,179.2ZM417.8,178.4L415.1,180.6L414.9,178.0ZM416.8,179.1L413.4,180.5L414.0,177.8ZM416.8,178.8L419.0,176.3L419.6,178.7ZM447.9,173.4L448.2,177.1L445.8,175.7ZM429.5,182.7L429.5,179.5L431.4,180.9ZM440.1,173.1L437.5,170.4L440.3,170.0ZM413.0,171.0L409.6,171.7L410.6,169.4ZM413.6,172.4L410.3,171.8L412.0,170.1ZM435.8,187.6L434.2,184.8L436.6,185.1ZM430.8,192.8L432.5,196.4L429.7,195.8ZM434.1,171.5L433.7,174.4L432.1,172.9ZM427.9,181.4L429.3,183.9L427.2,183.6ZM412.4,179.6L408.9,177.5L411.6,176.4ZM426.8,182.4L428.8,178.8L430.2,181.5ZM425.6,175.4L425.8,179.0L423.5,177.6ZM448.4,172.4L451.7,170.3L451.6,173.2ZM401.3,180.8L398.6,179.9L400.3,178.7ZM446.5,171.1L450.0,171.8L448.1,173.6ZM410.5,184.0L408.0,182.7L409.8,181.7ZM434.2,176.3L431.3,177.3L431.9,175.1ZM433.4,176.9L433.3,174.0L435.0,175.2ZM399.9,173.2L401.5,170.2L402.6,172.4ZM432.9,173.4L429.9,171.3L432.4,170.4ZM418.9,181.4L418.7,177.3L421.2,178.9ZM413.5,192.0L414.3,188.9L415.8,190.7ZM417.1,174.3L418.6,176.8L416.5,176.6ZM418.6,202.0L420.8,198.6L421.9,201.4ZM424.3,174.7L421.0,175.8L421.8,173.4ZM433.6,205.4L430.1,204.9L431.9,203.0ZM418.7,189.5L416.0,188.1L418.0,187.1ZM427.0,206.2L423.8,205.3L425.7,203.7ZM410.6,172.3L407.6,175.2L407.1,172.2ZM442.1,172.9L442.6,175.7L440.7,174.8ZM420.2,200.5L420.0,203.3L418.4,202.0ZM407.8,183.8L410.9,182.8L410.1,185.1ZM404.2,175.7L406.4,179.1L403.4,179.0ZM438.9,168.3L438.6,171.0L437.1,169.6ZM428.6,188.8L431.4,189.9L429.6,191.1ZM418.5,192.2L420.8,189.4L421.5,192.0ZM423.6,185.8L420.2,186.8L421.1,184.3ZM424.1,175.3L425.4,178.9L422.7,178.1ZM420.8,175.4L423.1,173.9L423.0,175.9ZM431.5,169.2L433.4,172.5L430.6,172.3ZM426.1,182.7L424.1,184.5L423.9,182.5ZM425.4,205.5L423.8,207.8L423.1,205.8ZM401.5,180.5L402.6,183.1L400.6,182.6ZM446.1,177.6L446.1,180.4L444.5,179.2ZM425.0,206.4L423.2,204.1L425.3,203.9ZM426.3,181.1L423.6,181.6L424.4,179.8ZM433.0,181.0L431.9,184.3L430.4,182.2ZM430.6,204.7L426.5,203.7L428.8,201.7ZM431.9,182.2L432.2,185.2L430.3,184.1ZM415.7,199.1L417.6,197.1L418.0,199.2ZM438.1,168.5L438.0,171.4L436.3,170.1ZM428.5,195.8L428.5,193.3L430.0,194.3ZM398.5,172.8L401.6,173.8L399.6,175.2ZM426.2,205.0L423.6,203.8L425.4,202.7ZM403.9,184.2L402.0,181.3L404.6,181.3ZM427.9,174.9L431.0,176.1L429.0,177.4ZM412.5,175.1L409.0,174.4L410.9,172.6ZM421.3,178.7L417.9,179.9L418.6,177.4Z" fill="#cf2a3a"/>
<path d="M426.7,180.6L429.6,182.1L427.4,183.2ZM421.5,178.3L417.7,178.5L419.2,176.1ZM448.5,175.5L446.1,172.9L448.7,172.6ZM425.5,192.2L425.5,195.1L423.8,193.9ZM416.5,180.7L412.5,181.1L413.9,178.5ZM410.1,173.6L408.8,171.4L410.7,171.6ZM434.0,178.0L437.3,177.8L436.1,179.8ZM450.2,175.7L449.2,178.1L448.2,176.5ZM411.7,175.2L413.5,178.9L410.5,178.4ZM438.8,179.9L437.6,182.8L436.4,180.8ZM430.3,193.7L433.7,196.2L430.8,197.2ZM422.2,199.5L424.9,202.4L422.0,202.8ZM419.7,196.3L422.7,196.3L421.4,198.1ZM417.7,173.9L415.2,174.5L415.9,172.8ZM418.2,198.7L418.1,202.7L415.7,201.0ZM404.8,177.1L402.3,176.4L403.8,175.2ZM430.5,199.8L433.3,201.0L431.4,202.1ZM403.4,170.3L404.4,173.0L402.4,172.5ZM416.5,185.2L413.7,186.0L414.4,183.9ZM419.3,180.4L416.6,182.4L416.5,180.0ZM420.0,200.6L420.7,196.9L422.6,198.9ZM427.5,175.5L426.7,178.1L425.5,176.6ZM443.0,174.8L440.4,176.0L440.8,173.9ZM424.8,201.6L422.3,199.3L424.7,198.8ZM412.5,174.8L414.7,177.3L412.3,177.6ZM429.9,183.2L431.5,180.5L432.4,182.6ZM446.3,170.5L445.2,172.8L444.2,171.2ZM410.4,177.5L408.7,180.4L407.7,178.1ZM418.3,205.2L416.6,202.3L419.1,202.5ZM426.2,196.2L427.6,199.5L425.0,199.0ZM417.7,182.9L414.3,180.8L417.0,179.7ZM445.5,179.1L443.4,176.9L445.6,176.6ZM406.2,175.9L404.9,173.1L407.1,173.5ZM424.9,175.8L425.1,173.0L426.8,174.3ZM437.5,187.3L435.0,184.6L437.7,184.3ZM402.6,177.2L403.7,174.8L404.6,176.5ZM418.5,197.9L420.9,200.3L418.4,200.7ZM432.7,188.0L429.6,186.4L431.9,185.2ZM420.9,196.7L419.2,199.4L418.3,197.2ZM427.0,198.7L428.8,196.4L429.4,198.5ZM431.2,188.0L431.2,184.4L433.3,185.9ZM429.8,178.8L431.8,176.3L432.5,178.6ZM429.9,182.4L433.1,184.9L430.2,185.8ZM437.0,183.7L440.6,181.8L440.2,184.8ZM424.7,196.5L428.1,195.3L427.4,197.9ZM420.2,207.9L418.0,205.0L420.7,204.8ZM420.4,200.1L416.5,198.7L419.1,196.9ZM416.6,172.0L415.7,168.9L417.9,169.7ZM419.3,197.2L420.0,194.3L421.4,196.0ZM420.2,178.0L416.7,176.5L419.1,175.0ZM423.2,192.7L421.0,189.2L424.0,189.4ZM417.6,191.6L417.6,195.5L415.2,193.8ZM421.4,179.3L424.1,179.0L423.1,180.8ZM443.1,180.9L442.5,183.8L441.1,182.2ZM416.5,178.8L418.3,176.6L418.9,178.7ZM412.3,179.5L412.0,176.2L414.1,177.4ZM419.8,192.0L422.4,193.8L420.3,194.6ZM434.0,178.9L431.3,178.3L432.8,176.9ZM418.1,172.9L416.1,176.2L415.0,173.6ZM429.2,197.3L432.4,199.7L429.6,200.6ZM424.1,198.5L426.9,195.6L427.4,198.5ZM427.6,180.1L426.2,177.7L428.2,177.9ZM420.9,173.9L423.9,172.3L423.6,174.8ZM428.7,202.6L425.1,204.1L425.8,201.2ZM421.7,188.6L424.9,190.9L422.2,191.9ZM419.3,184.4L417.2,186.0L417.1,184.1ZM433.7,193.8L430.2,194.6L431.2,192.2ZM426.2,186.5L424.9,188.8L424.1,187.1ZM415.3,186.6L419.0,185.7L418.0,188.3ZM421.2,188.7L421.0,191.7L419.2,190.3Z" fill="#fdf0f0"/>
<path d="M436.9,162.8 C436.8,163.5 435.8,164.0 435.6,164.7 C435.3,165.3 435.4,165.9 435.3,166.6 C435.2,167.2 435.2,168.0 435.0,168.6 C434.8,169.3 434.6,170.1 434.1,170.5 C433.5,171.0 432.4,170.9 431.7,171.2 C431.0,171.4 430.4,171.6 429.9,172.0 C429.4,172.5 429.2,173.7 428.6,174.0 C428.0,174.4 427.1,174.4 426.4,174.3 C425.6,174.3 424.9,174.0 424.2,173.8 C423.5,173.6 422.9,173.3 422.2,173.3 C421.5,173.3 420.7,173.8 419.9,173.8 C419.2,173.7 418.4,173.6 417.8,173.2 C417.2,172.8 416.8,172.0 416.5,171.4 C416.1,170.9 415.9,170.1 415.4,169.7 C414.9,169.2 413.9,169.1 413.3,168.7 C412.7,168.2 412.2,167.6 412.0,166.9 C411.9,166.3 412.2,165.5 412.2,164.8 C412.3,164.1 412.5,163.5 412.4,162.8 C412.3,162.1 411.8,161.4 411.7,160.7 C411.6,160.0 411.4,159.1 411.8,158.6 C412.2,158.0 413.7,157.9 414.3,157.4 C414.8,156.9 414.7,156.2 415.0,155.6 C415.3,155.0 415.6,154.3 416.1,153.8 C416.6,153.3 417.2,152.8 417.9,152.6 C418.6,152.4 419.5,152.7 420.3,152.7 C421.0,152.6 421.5,152.5 422.2,152.1 C422.8,151.8 423.5,150.8 424.2,150.6 C424.9,150.5 425.7,150.9 426.4,151.2 C427.1,151.5 427.6,152.0 428.3,152.4 C428.9,152.7 429.4,153.0 430.1,153.2 C430.8,153.4 431.7,153.4 432.4,153.7 C433.0,154.0 433.8,154.4 434.1,155.1 C434.4,155.7 434.0,156.7 434.2,157.4 C434.3,158.1 434.5,158.6 434.9,159.1 C435.3,159.7 436.2,160.2 436.6,160.8 C436.9,161.4 437.1,162.1 436.9,162.8 Z" fill="#dcc1a5"/>
<circle cx="429.1" cy="163.1" r="1.1" fill="#c6a283"/>
<circle cx="428.7" cy="165.0" r="1.0" fill="#c6a283"/>
<circle cx="428.0" cy="168.6" r="1.0" fill="#c6a283"/>
<circle cx="425.3" cy="168.1" r="1.3" fill="#c6a283"/>
<circle cx="423.0" cy="166.1" r="1.4" fill="#c6a283"/>
<circle cx="421.8" cy="166.7" r="1.3" fill="#c6a283"/>
<circle cx="419.7" cy="165.6" r="0.9" fill="#c6a283"/>
<circle cx="416.4" cy="162.3" r="1.2" fill="#c6a283"/>
<circle cx="421.0" cy="160.7" r="1.2" fill="#c6a283"/>
<circle cx="420.5" cy="158.1" r="1.1" fill="#c6a283"/>
<circle cx="423.4" cy="154.1" r="1.1" fill="#c6a283"/>
<circle cx="424.7" cy="161.2" r="1.3" fill="#c6a283"/>
<circle cx="430.7" cy="156.0" r="1.3" fill="#c6a283"/>
<circle cx="428.1" cy="160.6" r="1.2" fill="#c6a283"/>
<path d="M419.0,190.4 C418.9,191.1 418.8,191.8 418.7,192.5 C418.6,193.2 418.4,193.9 418.4,194.6 C418.3,195.4 418.8,196.5 418.4,197.1 C418.0,197.7 416.7,197.8 416.1,198.2 C415.4,198.5 414.7,198.7 414.2,199.3 C413.8,199.8 413.8,201.1 413.3,201.6 C412.8,202.2 412.0,202.5 411.3,202.6 C410.5,202.8 409.7,202.8 409.0,202.7 C408.2,202.6 407.5,202.1 406.8,202.1 C406.1,202.1 405.4,202.7 404.6,202.8 C403.9,202.9 402.9,203.1 402.3,202.8 C401.6,202.5 401.3,201.5 400.7,200.9 C400.2,200.4 399.6,200.0 399.1,199.6 C398.5,199.2 398.0,198.8 397.4,198.3 C396.8,197.9 395.8,197.6 395.5,196.9 C395.2,196.3 395.5,195.3 395.5,194.5 C395.5,193.8 395.6,193.1 395.4,192.4 C395.2,191.7 394.6,191.1 394.3,190.4 C393.9,189.7 393.3,188.7 393.5,188.0 C393.6,187.3 394.7,186.8 395.2,186.2 C395.8,185.6 396.5,185.3 396.9,184.7 C397.2,184.0 397.1,183.2 397.3,182.4 C397.5,181.6 397.5,180.4 398.1,180.0 C398.6,179.6 400.0,180.1 400.8,180.0 C401.6,179.8 402.1,179.6 402.7,179.3 C403.4,179.0 404.0,178.4 404.6,178.1 C405.3,177.7 406.1,177.0 406.8,177.0 C407.5,177.1 408.3,178.0 408.9,178.3 C409.6,178.7 410.2,179.0 410.9,179.2 C411.6,179.4 412.4,179.3 413.1,179.5 C413.9,179.6 414.8,179.7 415.4,180.2 C416.0,180.6 416.2,181.5 416.5,182.2 C416.8,183.0 416.7,183.8 417.0,184.5 C417.3,185.1 418.0,185.6 418.4,186.2 C418.8,186.8 419.4,187.5 419.5,188.2 C419.6,188.9 419.1,189.7 419.0,190.4 Z" fill="#dcc1a5"/>
<circle cx="412.2" cy="191.4" r="1.0" fill="#c6a283"/>
<circle cx="411.9" cy="194.1" r="1.3" fill="#c6a283"/>
<circle cx="408.7" cy="193.7" r="1.1" fill="#c6a283"/>
<circle cx="407.0" cy="192.8" r="1.3" fill="#c6a283"/>
<circle cx="406.3" cy="197.7" r="1.3" fill="#c6a283"/>
<circle cx="400.3" cy="196.1" r="1.2" fill="#c6a283"/>
<circle cx="404.6" cy="191.8" r="1.2" fill="#c6a283"/>
<circle cx="404.9" cy="190.4" r="1.4" fill="#c6a283"/>
<circle cx="400.2" cy="187.2" r="1.0" fill="#c6a283"/>
<circle cx="405.9" cy="189.4" r="1.1" fill="#c6a283"/>
<circle cx="405.3" cy="185.7" r="1.1" fill="#c6a283"/>
<circle cx="410.0" cy="181.9" r="1.0" fill="#c6a283"/>
<circle cx="408.4" cy="188.2" r="1.2" fill="#c6a283"/>
<circle cx="409.7" cy="189.6" r="1.3" fill="#c6a283"/>
<path d="M452.0,190.4 C451.9,191.1 452.1,191.8 452.1,192.5 C452.2,193.2 452.4,194.1 452.3,194.8 C452.3,195.6 452.1,196.5 451.6,196.9 C451.0,197.4 449.7,197.3 449.1,197.8 C448.6,198.2 448.5,199.0 448.2,199.7 C447.9,200.5 447.7,201.7 447.2,202.1 C446.6,202.5 445.6,202.1 444.8,202.1 C444.1,202.1 443.4,202.0 442.7,202.1 C442.0,202.2 441.4,202.5 440.7,202.7 C440.0,202.8 439.3,203.1 438.6,203.0 C437.9,203.0 437.1,202.7 436.5,202.4 C435.9,202.0 435.5,201.2 435.0,200.8 C434.4,200.3 433.9,200.0 433.2,199.7 C432.5,199.4 431.4,199.5 430.9,199.0 C430.4,198.5 430.4,197.4 430.3,196.7 C430.2,195.9 430.4,195.1 430.2,194.4 C430.1,193.7 429.8,193.1 429.5,192.5 C429.1,191.8 428.2,191.1 428.0,190.4 C427.8,189.7 428.0,188.8 428.3,188.1 C428.6,187.4 429.6,187.0 430.0,186.3 C430.3,185.7 430.2,184.9 430.4,184.2 C430.6,183.5 430.7,182.6 431.1,182.0 C431.5,181.4 432.0,180.7 432.7,180.4 C433.4,180.2 434.5,180.7 435.2,180.4 C435.8,180.2 436.2,179.6 436.7,179.1 C437.3,178.6 437.8,177.6 438.5,177.3 C439.1,177.0 440.0,177.2 440.7,177.4 C441.4,177.7 442.0,178.5 442.7,178.8 C443.3,179.1 443.9,179.2 444.6,179.2 C445.3,179.3 446.3,178.9 446.9,179.1 C447.6,179.4 448.1,180.1 448.5,180.8 C448.9,181.4 448.8,182.3 449.3,182.9 C449.7,183.5 450.5,183.7 451.0,184.2 C451.5,184.7 452.0,185.3 452.4,186.0 C452.7,186.6 453.1,187.4 453.1,188.1 C453.0,188.9 452.2,189.7 452.0,190.4 Z" fill="#dcc1a5"/>
<circle cx="442.3" cy="190.7" r="1.1" fill="#c6a283"/>
<circle cx="442.0" cy="191.0" r="1.1" fill="#c6a283"/>
<circle cx="441.7" cy="192.3" r="1.2" fill="#c6a283"/>
<circle cx="442.9" cy="196.3" r="1.3" fill="#c6a283"/>
<circle cx="440.6" cy="191.7" r="0.9" fill="#c6a283"/>
<circle cx="439.8" cy="191.5" r="0.9" fill="#c6a283"/>
<circle cx="432.7" cy="194.4" r="1.1" fill="#c6a283"/>
<circle cx="434.1" cy="190.7" r="0.9" fill="#c6a283"/>
<circle cx="438.4" cy="189.1" r="1.2" fill="#c6a283"/>
<circle cx="439.9" cy="188.9" r="1.2" fill="#c6a283"/>
<circle cx="440.3" cy="187.9" r="1.0" fill="#c6a283"/>
<circle cx="444.6" cy="181.3" r="1.0" fill="#c6a283"/>
<circle cx="447.0" cy="183.4" r="1.0" fill="#c6a283"/>
<circle cx="442.1" cy="189.8" r="1.1" fill="#c6a283"/>
<path d="M466.0,175.0 L478.0,172.0 L488.0,178.0 L492.0,190.0 L494.0,204.0 L484.0,205.0 L478.0,198.0 L470.0,186.0 Z" fill="#c6c6e6"/>
<path d="M480.6,185.4L483.5,185.6L482.1,187.3ZM487.9,197.9L490.4,199.4L488.4,200.2ZM480.6,185.2L478.8,181.2L481.9,181.9ZM488.8,193.1L490.1,190.2L491.3,192.2ZM484.1,185.2L486.9,187.7L484.1,188.3ZM492.4,203.0L495.0,203.8L493.4,205.0ZM473.4,190.7L475.3,188.7L475.7,190.7ZM483.3,201.2L480.7,199.6L482.8,198.8ZM475.3,173.3L479.0,171.5L478.5,174.5ZM485.4,188.4L484.7,191.2L483.3,189.6ZM480.6,183.4L483.4,184.0L481.9,185.4ZM477.3,182.1L476.3,178.5L478.9,179.5ZM469.5,176.4L471.7,174.5L471.9,176.6ZM484.5,197.2L485.3,200.6L483.0,199.7ZM477.9,186.4L474.3,187.9L474.9,185.1ZM476.9,183.4L473.5,183.2L475.1,181.2ZM483.7,183.4L482.5,187.0L480.9,184.7ZM474.4,188.3L472.4,191.2L471.5,188.8ZM478.2,188.3L479.9,185.4L480.9,187.7ZM480.8,189.9L483.4,188.5L483.1,190.6ZM479.6,173.2L476.3,174.6L476.9,172.0ZM468.9,176.2L465.6,175.4L467.5,173.8ZM477.0,186.4L480.1,185.0L479.6,187.5ZM485.7,199.9L488.0,202.4L485.6,202.7ZM485.1,203.4L482.5,201.8L484.6,200.9ZM482.1,193.1L485.3,194.8L482.9,196.0ZM490.1,185.6L490.3,189.9L487.6,188.2ZM488.3,202.0L484.1,202.5L485.6,199.8ZM489.2,203.6L486.5,205.2L486.7,202.9ZM482.8,175.4L487.0,176.1L484.8,178.3ZM472.8,184.3L469.8,184.1L471.2,182.4ZM474.1,175.2L470.3,176.9L470.9,173.9ZM478.3,194.7L480.8,197.3L478.2,197.7ZM476.3,193.3L479.4,193.1L478.2,195.1ZM475.1,191.5L477.8,192.6L476.0,193.8ZM484.5,199.4L483.2,202.9L481.6,200.7ZM473.3,185.0L474.6,188.5L471.9,187.8ZM480.0,190.6L478.9,187.4L481.3,188.1ZM477.6,187.0L480.6,185.2L480.4,187.7ZM485.9,194.0L486.2,197.3L484.1,196.1ZM490.3,203.7L486.9,205.5L487.3,202.7ZM475.1,180.6L476.8,183.9L474.1,183.5ZM474.7,179.5L472.4,177.8L474.4,177.2ZM488.5,205.0L486.3,201.8L489.2,201.8ZM484.3,186.1L480.8,188.4L480.9,185.4ZM487.5,190.6L491.4,189.5L490.4,192.3ZM486.7,204.8L486.9,202.1L488.4,203.4ZM480.2,201.6L482.0,198.4L483.2,200.8ZM469.0,175.8L473.0,176.8L470.7,178.8ZM474.2,184.3L477.4,184.5L475.9,186.3ZM485.4,189.8L487.8,193.4L484.6,193.3ZM487.3,182.7L490.7,182.5L489.3,184.6ZM472.8,188.2L469.1,186.0L472.0,184.7ZM487.2,184.9L488.1,182.4L489.2,184.1ZM477.5,177.6L475.5,179.5L475.3,177.5ZM481.8,187.5L482.4,184.6L483.9,186.1ZM470.6,183.5L471.9,186.7L469.5,186.1ZM488.8,203.0L485.5,200.4L488.5,199.6ZM480.0,185.7L483.9,184.3L483.1,187.3ZM478.5,174.7L476.3,176.5L476.1,174.4ZM473.3,179.7L477.0,181.8L474.2,183.1ZM481.9,191.8L484.5,191.2L483.8,193.0ZM482.2,186.8L485.5,187.0L484.0,188.9ZM473.7,183.4L471.3,185.1L471.3,182.9ZM492.1,190.5L488.1,190.3L489.9,188.0ZM484.7,182.1L488.7,183.7L486.1,185.5ZM470.2,180.9L469.5,176.9L472.2,178.2ZM471.4,178.8L474.9,179.9L472.8,181.5ZM479.1,190.5L476.6,191.1L477.3,189.3ZM488.9,205.6L485.8,204.4L487.8,203.1ZM486.1,191.5L484.3,194.6L483.2,192.1ZM480.8,183.5L477.2,184.3L478.3,181.8ZM478.7,196.5L479.5,193.9L480.7,195.5ZM471.9,178.2L474.2,176.4L474.3,178.5ZM471.5,176.9L467.8,175.6L470.2,174.0ZM486.8,197.8L490.5,198.0L488.8,200.1ZM485.0,186.0L488.6,184.6L487.9,187.4ZM482.6,190.5L485.7,192.2L483.3,193.4ZM471.3,180.4L473.7,182.7L471.3,183.2ZM489.3,183.0L491.5,184.7L489.6,185.3ZM488.0,199.3L488.5,195.5L490.6,197.4ZM476.7,189.1L475.9,186.2L477.9,187.0ZM478.4,192.7L482.7,192.6L480.9,195.2ZM480.5,175.6L483.3,177.0L481.2,178.1ZM480.7,193.9L477.8,195.9L477.8,193.3ZM487.8,200.6L489.4,203.0L487.3,202.9ZM491.9,203.5L494.4,200.7L495.0,203.5ZM489.1,200.8L490.7,203.1L488.6,203.0ZM478.8,180.1L480.4,183.7L477.5,183.2ZM478.0,197.2L475.0,194.2L478.1,193.7ZM471.1,178.7L472.7,174.9L474.3,177.5ZM483.5,193.0L483.5,196.3L481.5,194.9ZM482.2,195.1L481.4,198.7L479.6,196.7ZM469.8,178.7L471.0,176.0L472.1,177.9ZM476.4,193.0L473.5,191.2L475.8,190.2ZM485.3,186.3L486.3,190.3L483.4,189.2ZM475.8,175.6L479.1,173.0L479.2,176.1ZM487.1,189.2L491.3,189.3L489.4,191.8ZM487.8,198.4L487.8,201.7L485.8,200.3ZM483.1,193.9L485.3,196.1L483.0,196.5ZM484.7,188.8L482.8,185.8L485.4,186.0ZM479.1,179.7L480.8,183.5L477.8,182.9ZM481.9,191.2L482.0,194.4L480.1,193.1ZM473.7,186.2L470.4,184.0L473.2,182.9ZM476.9,184.6L479.2,181.6L480.0,184.3ZM475.2,177.6L471.5,178.2L472.8,175.7ZM482.2,179.7L486.3,178.3L485.4,181.3ZM478.1,198.9L478.8,195.4L480.6,197.3ZM486.4,194.0L489.5,194.6L487.8,196.2ZM486.0,182.0L487.8,184.9L485.3,184.8Z" fill="#6e6cb8"/>
<path d="M482.1,184.9L479.2,181.7L482.4,181.3ZM484.5,196.5L480.6,197.1L481.9,194.5ZM477.4,183.3L477.9,186.2L476.0,185.2ZM490.2,200.2L493.9,198.3L493.4,201.3ZM488.9,193.6L485.5,195.3L485.9,192.5ZM470.3,183.8L472.2,186.0L470.1,186.3ZM476.4,180.4L478.2,177.9L478.9,180.0ZM483.6,199.8L486.9,197.8L486.7,200.7ZM487.8,196.7L488.2,200.5L485.7,199.1ZM484.5,195.8L488.4,194.7L487.4,197.4ZM482.0,188.4L486.2,189.4L483.8,191.5ZM490.0,193.5L487.9,197.1L486.6,194.3ZM492.2,190.5L490.4,192.8L489.8,190.7ZM486.9,181.1L488.6,178.1L489.7,180.4ZM479.1,189.9L476.4,189.4L477.8,188.0ZM485.9,183.0L485.0,179.3L487.6,180.3ZM487.9,188.0L487.9,191.3L486.0,189.9ZM492.2,191.2L491.4,195.2L489.4,193.1ZM485.7,200.6L487.0,203.8L484.5,203.2ZM481.2,185.7L483.5,184.2L483.4,186.2ZM474.5,176.0L473.7,178.6L472.5,177.0ZM487.3,197.9L485.5,201.2L484.3,198.7ZM488.4,185.1L492.2,184.3L491.1,186.9ZM480.6,182.9L484.0,183.4L482.2,185.2ZM475.2,176.7L473.6,172.6L476.7,173.4ZM475.7,183.3L473.3,184.8L473.5,182.7ZM471.3,184.8L474.0,182.8L474.0,185.3ZM472.2,176.4L475.1,176.2L474.0,178.0ZM488.6,182.8L487.4,185.5L486.3,183.7ZM490.5,193.2L492.7,194.8L490.8,195.4ZM482.6,190.8L479.5,190.9L480.7,189.0ZM490.9,199.3L490.7,194.9L493.4,196.6ZM487.2,198.3L490.6,200.1L488.0,201.4ZM484.8,193.0L483.7,189.4L486.3,190.2ZM483.2,182.3L485.9,182.9L484.4,184.2ZM476.3,186.5L476.0,190.0L474.0,188.4ZM489.4,191.5L491.8,189.8L491.8,192.0ZM487.8,199.4L489.2,196.5L490.3,198.5ZM475.6,184.4L471.5,183.8L473.6,181.6ZM477.5,176.4L479.8,178.3L477.6,178.8Z" fill="#f8f8fd"/>
<path d="M489.0,166.0 L496.0,160.0 L506.0,161.0 L514.0,168.0 L516.0,178.0 L512.0,186.0 L500.0,188.0 L492.0,184.0 L488.0,176.0 Z" fill="#ec98a0"/>
<path d="M502.2,174.9L500.2,177.3L499.6,175.1ZM502.9,178.1L500.5,175.9L502.9,175.4ZM507.0,183.1L504.1,182.6L505.6,181.1ZM507.0,178.4L505.0,177.0L506.7,176.4ZM503.4,163.1L501.4,161.1L503.4,160.8ZM486.9,173.7L489.6,171.1L490.0,173.8ZM500.6,177.9L503.8,176.5L503.3,179.0ZM503.0,167.8L499.4,169.4L499.9,166.5ZM510.9,181.2L510.9,178.4L512.6,179.6ZM496.3,160.3L497.2,163.2L495.1,162.5ZM513.7,170.3L510.8,172.7L510.6,169.9ZM515.1,173.0L512.5,174.5L512.7,172.3ZM490.3,176.1L491.0,178.9L489.1,178.1ZM492.4,168.9L489.5,171.1L489.4,168.4ZM492.4,167.7L490.0,167.2L491.3,165.9ZM508.7,164.4L511.8,164.2L510.6,166.1ZM494.6,181.9L491.5,180.5L493.6,179.2ZM491.6,173.3L489.9,171.0L492.0,171.0ZM496.9,186.4L495.0,184.0L497.3,183.9ZM513.7,179.3L509.8,178.4L512.0,176.4ZM494.2,165.6L495.0,168.5L493.0,167.7ZM497.8,163.0L494.5,162.6L496.2,160.8ZM493.6,178.1L494.7,175.1L496.0,177.0ZM513.0,172.6L516.8,172.8L515.1,175.0ZM494.8,163.2L492.8,166.3L491.8,163.8ZM494.8,163.2L496.7,166.6L493.8,166.3ZM511.5,177.6L513.0,175.5L513.6,177.3ZM494.6,181.8L493.2,178.3L495.9,179.0ZM505.6,170.0L502.8,167.7L505.3,167.0ZM488.0,165.6L491.8,165.5L490.3,167.8ZM506.5,167.1L504.9,169.3L504.3,167.4ZM501.2,163.2L498.9,161.3L501.0,160.7ZM502.7,165.3L503.7,161.6L505.5,163.8ZM514.8,176.7L517.2,179.0L514.7,179.5ZM500.6,182.5L500.6,178.4L503.0,180.2ZM489.9,173.2L491.8,176.6L489.0,176.2ZM509.2,177.7L509.8,181.5L507.2,180.2ZM499.5,178.0L497.6,181.3L496.5,178.7ZM500.9,180.8L499.9,183.9L498.4,182.0ZM503.9,169.8L507.3,170.1L505.6,172.0ZM492.3,177.8L488.9,179.5L489.4,176.7ZM508.2,169.1L509.9,172.0L507.4,171.7ZM502.0,184.5L498.5,184.1L500.2,182.1ZM487.3,177.0L489.7,175.6L489.5,177.6ZM506.0,172.5L509.7,173.7L507.4,175.4ZM496.9,180.4L495.1,178.4L497.1,178.2ZM511.4,179.2L514.1,176.5L514.6,179.3ZM497.7,180.3L495.6,178.0L497.9,177.7ZM511.8,184.5L510.6,187.3L509.4,185.4ZM505.5,170.2L502.6,168.8L504.6,167.7ZM510.9,181.7L513.3,184.8L510.4,184.9ZM494.3,165.2L496.4,163.3L496.6,165.4ZM492.8,170.3L495.7,171.5L493.8,172.8ZM498.5,183.3L495.8,184.9L496.0,182.6ZM507.1,177.9L506.9,174.2L509.2,175.6ZM501.5,159.4L501.2,162.1L499.7,160.8ZM504.3,171.1L507.5,172.5L505.3,173.8ZM505.7,165.8L508.0,164.3L507.9,166.3ZM488.0,171.8L489.6,173.9L487.6,174.0ZM495.0,168.0L497.3,170.4L494.9,170.7ZM503.6,182.4L505.3,179.2L506.6,181.6ZM515.3,181.5L512.4,180.3L514.4,179.0ZM504.2,186.8L505.4,183.7L506.8,185.7ZM514.2,181.7L512.0,183.9L511.6,181.6ZM505.9,163.7L508.0,166.8L505.2,166.8ZM506.4,182.2L504.1,179.1L506.9,179.0ZM502.1,184.1L502.2,180.2L504.5,181.9ZM513.4,170.6L510.3,170.3L511.9,168.6ZM502.1,181.6L504.2,180.4L504.0,182.2ZM498.3,183.2L495.9,182.0L497.7,181.1ZM503.5,178.6L503.0,182.1L501.1,180.3ZM515.8,173.4L513.9,175.1L513.7,173.2ZM493.7,176.6L493.1,173.1L495.5,174.3ZM506.9,173.1L506.3,176.4L504.6,174.7ZM497.9,168.9L497.2,172.7L495.2,170.7ZM495.6,183.5L492.9,185.4L492.9,183.0ZM502.3,165.2L505.5,164.6L504.5,166.8ZM513.5,175.6L515.4,172.4L516.5,174.9ZM503.3,172.5L505.1,174.2L503.2,174.6ZM505.1,171.0L502.1,173.5L501.9,170.6ZM496.7,174.5L493.8,173.3L495.8,172.1ZM509.3,185.5L511.7,183.9L511.6,186.0ZM494.6,176.7L493.0,178.7L492.5,176.8ZM492.8,164.9L495.0,166.9L492.8,167.3ZM499.5,178.6L496.0,177.7L498.0,176.0ZM491.4,175.8L490.3,173.3L492.3,173.7ZM501.7,173.4L502.8,170.5L504.0,172.4ZM503.4,166.3L501.1,163.7L503.6,163.4ZM507.0,173.3L506.3,176.6L504.6,174.8ZM511.9,164.5L513.6,167.8L510.9,167.4ZM512.4,170.8L512.4,166.9L514.7,168.5ZM494.6,181.7L493.7,179.3L495.5,179.8ZM511.7,170.4L512.1,173.0L510.4,172.2ZM500.8,179.4L498.2,180.2L498.8,178.3ZM508.5,185.2L506.4,186.7L506.4,184.8ZM500.2,181.2L503.5,179.8L502.9,182.3ZM502.1,173.8L504.8,173.8L503.6,175.4ZM494.3,163.9L493.8,167.8L491.6,165.8ZM500.1,182.9L500.3,179.8L502.1,181.3ZM501.4,171.3L503.7,171.8L502.4,173.0ZM508.3,185.2L506.0,183.1L508.2,182.6ZM509.2,172.7L507.3,170.8L509.3,170.5ZM512.4,180.5L514.9,183.3L512.1,183.6ZM504.2,170.3L507.3,170.9L505.6,172.6ZM495.2,183.5L496.8,186.8L494.1,186.4ZM512.5,170.1L510.6,173.4L509.4,170.9ZM507.6,179.8L508.6,182.7L506.4,182.1ZM499.2,173.2L496.4,174.3L497.0,172.2ZM506.1,179.6L504.1,176.2L507.0,176.5ZM505.7,167.9L508.4,169.8L506.2,170.6ZM504.8,170.9L501.7,172.3L502.2,169.8ZM509.0,181.2L506.9,182.4L507.0,180.6ZM505.2,182.4L504.0,179.5L506.2,180.1ZM498.5,164.9L496.9,161.3L499.7,161.9ZM505.2,173.8L502.5,175.8L502.5,173.3ZM516.4,176.6L516.5,179.1L514.9,178.1ZM506.8,181.9L502.9,182.4L504.2,179.8ZM493.3,174.7L490.8,172.8L493.0,172.1ZM506.7,161.1L504.5,163.2L504.1,161.0ZM501.7,177.9L502.6,175.2L503.8,176.9ZM505.9,177.6L505.2,174.1L507.6,175.2ZM496.3,161.7L495.2,159.5L497.0,159.8ZM490.8,182.5L492.5,179.0L493.8,181.5ZM501.5,173.1L499.2,174.7L499.3,172.6ZM502.4,184.5L504.1,187.2L501.8,187.1ZM503.7,162.0L506.6,163.1L504.7,164.4ZM501.0,164.2L503.5,161.7L503.9,164.2ZM499.3,166.5L502.4,166.8L500.9,168.5ZM511.9,174.8L508.4,176.5L508.9,173.6ZM510.1,168.1L506.5,166.9L508.7,165.2ZM509.0,178.7L509.7,176.0L511.0,177.6ZM505.6,174.8L509.0,175.3L507.2,177.1ZM509.1,167.5L507.5,163.9L510.3,164.4ZM494.6,170.9L497.0,171.8L495.4,172.9ZM504.8,163.0L501.3,162.6L503.1,160.7ZM502.2,178.9L503.3,175.9L504.6,177.9ZM493.8,167.6L495.5,170.9L492.7,170.5ZM510.8,176.0L511.7,178.6L509.7,178.0ZM500.5,165.7L500.6,168.7L498.8,167.5ZM497.1,173.2L498.7,176.7L495.9,176.2ZM501.7,171.5L497.9,170.8L500.0,168.9ZM503.2,172.1L505.3,174.1L503.2,174.5ZM495.4,179.3L492.5,179.1L493.9,177.4ZM508.0,180.8L507.4,178.3L509.2,179.0ZM497.1,181.4L497.9,178.9L499.0,180.4ZM509.7,174.9L507.4,178.0L506.5,175.3ZM514.1,170.8L514.3,173.7L512.5,172.6ZM498.8,170.3L496.2,173.2L495.6,170.4ZM493.9,171.4L494.8,168.5L496.1,170.3ZM499.7,172.6L497.4,170.2L499.8,169.8Z" fill="#d8303e"/>
<path d="M511.3,173.6L510.9,176.9L509.1,175.2ZM494.1,180.2L493.0,182.8L491.9,181.0ZM486.9,173.9L490.2,173.5L489.0,175.6ZM515.5,176.9L515.7,179.4L514.1,178.5ZM504.5,182.8L502.0,182.5L503.2,181.1ZM510.3,186.1L506.8,185.7L508.5,183.9ZM491.1,179.6L493.6,181.0L491.7,181.9ZM492.2,181.2L495.7,180.1L494.8,182.7ZM500.9,169.1L498.1,171.1L498.1,168.5ZM501.5,173.1L503.5,176.1L500.9,176.0ZM514.5,169.8L514.3,173.3L512.3,171.7ZM513.0,180.7L512.5,184.6L510.4,182.7ZM512.9,177.6L516.3,176.7L515.4,179.1ZM509.2,172.5L510.8,170.4L511.4,172.3ZM499.0,166.3L497.0,164.0L499.3,163.8ZM491.1,169.9L487.8,168.9L489.8,167.3ZM511.3,165.7L508.2,165.8L509.5,163.8ZM505.7,185.8L503.2,186.3L504.0,184.5ZM493.3,168.0L491.6,164.9L494.2,165.2ZM505.3,167.7L503.2,165.8L505.2,165.3ZM492.1,182.9L492.0,179.6L494.1,180.9ZM510.7,175.5L509.4,171.9L512.1,172.7ZM511.5,168.9L515.4,168.5L514.1,171.0ZM503.6,166.8L499.7,167.3L501.1,164.7ZM508.7,170.5L511.8,169.7L511.0,171.9ZM508.1,166.8L505.2,167.9L505.8,165.6ZM498.0,180.5L500.0,183.2L497.5,183.3ZM491.7,165.8L491.8,163.0L493.5,164.2ZM510.9,172.8L514.5,174.5L512.0,175.9ZM496.6,176.6L493.5,174.8L495.9,173.6ZM513.0,183.8L510.2,183.5L511.6,181.9ZM503.2,172.6L500.6,174.8L500.4,172.3ZM512.4,166.9L513.0,169.9L510.9,168.9ZM509.4,165.4L512.6,164.9L511.6,167.0ZM491.8,184.8L491.7,181.9L493.5,183.0ZM488.2,169.0L491.1,166.9L491.1,169.5ZM499.4,180.3L496.4,179.5L498.1,178.1ZM501.8,185.4L501.6,188.9L499.6,187.2ZM506.3,166.0L509.4,165.9L508.1,167.8ZM509.2,164.7L512.0,165.6L510.3,166.9ZM498.0,176.7L497.7,173.7L499.6,174.8ZM498.9,180.2L497.9,177.6L499.9,178.1ZM510.2,168.6L507.8,170.9L507.4,168.5ZM508.9,168.0L508.8,170.6L507.3,169.4ZM507.7,181.3L505.4,179.4L507.6,178.8ZM512.7,177.4L510.0,177.0L511.4,175.5ZM491.2,164.2L492.6,162.1L493.3,163.8ZM511.9,171.8L515.1,170.6L514.5,173.1ZM508.3,184.0L509.5,181.4L510.6,183.3ZM498.0,161.6L499.7,158.5L500.8,160.9ZM508.1,177.2L505.3,178.1L505.9,176.0ZM498.9,179.2L496.0,178.5L497.6,177.1ZM503.1,180.4L502.9,183.8L501.0,182.3ZM493.9,180.4L492.2,183.3L491.2,181.0ZM499.1,175.5L495.9,173.9L498.2,172.7ZM508.7,185.4L506.0,182.6L508.9,182.2ZM506.9,166.3L504.1,166.0L505.5,164.5ZM503.1,181.4L503.4,177.5L505.6,179.3ZM499.7,174.5L495.9,173.1L498.4,171.5ZM501.8,175.1L504.6,175.0L503.5,176.8Z" fill="#fdf0f0"/>
<path d="M497.3,162.0 C497.5,162.6 497.4,163.4 497.1,164.0 C496.8,164.6 496.1,165.1 495.7,165.6 C495.3,166.1 495.0,166.6 494.8,167.2 C494.6,167.8 494.7,168.6 494.4,169.2 C494.1,169.8 493.6,170.4 493.0,170.6 C492.5,170.9 491.5,170.7 490.9,170.9 C490.4,171.2 490.0,171.8 489.5,172.2 C489.0,172.6 488.4,173.3 487.8,173.5 C487.2,173.7 486.4,173.6 485.8,173.4 C485.2,173.2 484.6,172.5 484.0,172.3 C483.4,172.1 482.8,172.2 482.1,172.1 C481.5,172.0 480.7,172.0 480.1,171.8 C479.5,171.6 478.9,171.2 478.5,170.7 C478.2,170.1 478.3,169.1 478.0,168.6 C477.6,168.0 476.8,167.9 476.3,167.5 C475.9,167.0 475.5,166.4 475.2,165.9 C474.9,165.3 474.3,164.7 474.4,164.0 C474.5,163.4 475.5,162.6 475.6,162.0 C475.8,161.4 475.3,160.8 475.2,160.1 C475.1,159.5 474.9,158.7 475.0,158.1 C475.2,157.5 475.6,156.8 476.0,156.4 C476.5,155.9 477.1,155.5 477.6,155.1 C478.2,154.8 478.7,154.6 479.2,154.1 C479.6,153.6 479.7,152.7 480.2,152.2 C480.6,151.7 481.2,151.2 481.8,151.1 C482.5,151.0 483.3,151.6 484.0,151.7 C484.6,151.8 485.2,151.9 485.8,151.6 C486.4,151.4 487.2,150.4 487.9,150.3 C488.5,150.2 489.3,150.6 489.8,151.1 C490.3,151.5 490.4,152.7 490.9,153.2 C491.4,153.6 492.0,153.6 492.6,153.9 C493.2,154.1 494.0,154.3 494.5,154.7 C495.0,155.1 495.3,155.8 495.5,156.4 C495.7,157.0 495.6,157.8 495.7,158.4 C495.8,159.0 495.8,159.6 496.1,160.2 C496.3,160.8 497.2,161.4 497.3,162.0 Z" fill="#dcc1a5"/>
<circle cx="487.3" cy="162.1" r="1.0" fill="#c6a283"/>
<circle cx="489.3" cy="164.3" r="1.1" fill="#c6a283"/>
<circle cx="488.6" cy="165.8" r="1.1" fill="#c6a283"/>
<circle cx="488.5" cy="168.1" r="1.4" fill="#c6a283"/>
<circle cx="483.3" cy="167.7" r="1.1" fill="#c6a283"/>
<circle cx="482.1" cy="167.2" r="1.2" fill="#c6a283"/>
<circle cx="483.4" cy="163.7" r="1.1" fill="#c6a283"/>
<circle cx="478.5" cy="162.0" r="1.2" fill="#c6a283"/>
<circle cx="478.6" cy="160.1" r="1.1" fill="#c6a283"/>
<circle cx="484.1" cy="159.8" r="1.1" fill="#c6a283"/>
<circle cx="483.9" cy="155.2" r="1.0" fill="#c6a283"/>
<circle cx="486.4" cy="159.6" r="1.2" fill="#c6a283"/>
<circle cx="487.3" cy="159.1" r="1.1" fill="#c6a283"/>
<circle cx="487.2" cy="161.4" r="1.1" fill="#c6a283"/>
<path d="M483.3,192.8 C483.2,193.5 482.7,194.2 482.5,194.9 C482.2,195.5 481.7,196.0 481.6,196.7 C481.5,197.4 481.9,198.4 481.7,199.1 C481.5,199.8 480.9,200.4 480.3,200.8 C479.7,201.2 478.9,201.3 478.2,201.6 C477.5,201.9 476.9,202.0 476.3,202.4 C475.8,202.8 475.5,203.7 474.9,204.2 C474.4,204.7 473.7,205.4 473.0,205.4 C472.3,205.4 471.5,204.5 470.8,204.2 C470.1,204.0 469.5,204.0 468.8,204.0 C468.1,204.0 467.4,204.2 466.7,204.2 C465.9,204.1 465.1,204.0 464.5,203.6 C464.0,203.2 463.8,202.3 463.3,201.7 C462.9,201.2 462.5,200.7 461.9,200.2 C461.4,199.8 460.5,199.5 460.1,199.0 C459.6,198.5 459.3,197.7 459.2,197.0 C459.1,196.3 459.4,195.5 459.4,194.8 C459.5,194.1 459.9,193.5 459.7,192.8 C459.5,192.1 458.6,191.4 458.4,190.6 C458.3,189.9 458.4,189.0 458.7,188.4 C459.0,187.8 459.9,187.3 460.5,186.8 C461.0,186.3 461.5,186.0 461.9,185.4 C462.3,184.8 462.4,183.9 462.8,183.2 C463.2,182.6 463.7,181.8 464.3,181.6 C465.0,181.3 466.0,181.6 466.7,181.6 C467.5,181.6 468.2,182.0 468.9,181.8 C469.5,181.6 470.1,180.5 470.8,180.2 C471.5,180.0 472.3,180.1 473.0,180.3 C473.7,180.6 474.3,181.2 474.9,181.6 C475.4,182.1 475.9,182.6 476.5,182.9 C477.1,183.2 478.0,183.1 478.7,183.4 C479.3,183.7 480.0,184.1 480.4,184.7 C480.8,185.3 480.7,186.3 480.9,187.0 C481.0,187.7 481.0,188.3 481.3,189.0 C481.6,189.6 482.3,190.1 482.6,190.7 C483.0,191.4 483.3,192.1 483.3,192.8 Z" fill="#dcc1a5"/>
<circle cx="478.6" cy="193.8" r="1.4" fill="#c6a283"/>
<circle cx="475.9" cy="195.7" r="1.3" fill="#c6a283"/>
<circle cx="475.8" cy="197.5" r="1.1" fill="#c6a283"/>
<circle cx="471.8" cy="195.5" r="1.2" fill="#c6a283"/>
<circle cx="470.2" cy="197.8" r="1.2" fill="#c6a283"/>
<circle cx="469.4" cy="194.7" r="1.1" fill="#c6a283"/>
<circle cx="468.1" cy="194.5" r="1.0" fill="#c6a283"/>
<circle cx="469.0" cy="192.9" r="1.2" fill="#c6a283"/>
<circle cx="467.2" cy="190.2" r="1.3" fill="#c6a283"/>
<circle cx="470.1" cy="191.4" r="1.0" fill="#c6a283"/>
<circle cx="470.0" cy="184.6" r="1.2" fill="#c6a283"/>
<circle cx="471.2" cy="188.1" r="1.3" fill="#c6a283"/>
<circle cx="476.7" cy="187.4" r="1.0" fill="#c6a283"/>
<circle cx="474.9" cy="191.5" r="1.3" fill="#c6a283"/>
<path d="M516.3,190.4 C516.2,191.0 515.9,191.6 515.8,192.2 C515.7,192.8 515.8,193.5 515.8,194.2 C515.9,194.9 516.2,195.8 515.8,196.4 C515.5,196.9 514.5,197.1 513.9,197.4 C513.2,197.7 512.5,197.8 512.0,198.2 C511.6,198.6 511.5,199.4 511.0,200.0 C510.6,200.5 510.1,201.2 509.5,201.4 C508.9,201.7 508.1,201.3 507.4,201.2 C506.7,201.1 506.1,200.9 505.5,200.9 C504.9,200.8 504.3,201.0 503.6,201.1 C502.9,201.2 502.0,201.7 501.5,201.5 C500.9,201.3 500.5,200.3 500.1,199.8 C499.7,199.2 499.5,198.6 499.0,198.2 C498.4,197.8 497.5,197.9 496.9,197.6 C496.4,197.2 495.8,196.8 495.5,196.2 C495.2,195.6 495.3,194.8 495.2,194.1 C495.2,193.5 495.2,192.9 495.1,192.2 C495.0,191.6 494.6,191.0 494.5,190.4 C494.4,189.8 494.2,189.1 494.3,188.4 C494.3,187.8 494.7,187.1 495.0,186.6 C495.4,186.1 496.1,185.7 496.4,185.2 C496.8,184.7 497.1,184.2 497.3,183.5 C497.6,182.9 497.5,181.8 497.9,181.4 C498.4,181.0 499.4,181.1 500.1,181.0 C500.8,180.9 501.4,181.0 502.0,180.8 C502.6,180.6 503.1,180.2 503.7,179.9 C504.2,179.6 504.9,179.1 505.5,178.9 C506.1,178.8 506.9,178.9 507.5,179.2 C508.1,179.5 508.4,180.5 509.0,180.7 C509.6,181.0 510.5,180.5 511.1,180.7 C511.8,180.8 512.5,181.1 513.0,181.5 C513.5,181.9 513.8,182.6 514.0,183.2 C514.3,183.8 514.4,184.5 514.7,185.1 C515.0,185.7 515.5,186.1 515.9,186.6 C516.2,187.2 516.6,187.8 516.7,188.4 C516.8,189.0 516.5,189.8 516.3,190.4 Z" fill="#dcc1a5"/>
<circle cx="511.5" cy="190.6" r="1.0" fill="#c6a283"/>
<circle cx="513.0" cy="192.6" r="1.2" fill="#c6a283"/>
<circle cx="508.8" cy="193.6" r="1.0" fill="#c6a283"/>
<circle cx="506.0" cy="195.3" r="1.0" fill="#c6a283"/>
<circle cx="504.9" cy="192.1" r="1.0" fill="#c6a283"/>
<circle cx="502.3" cy="196.4" r="1.0" fill="#c6a283"/>
<circle cx="503.9" cy="191.2" r="1.1" fill="#c6a283"/>
<circle cx="500.3" cy="190.0" r="1.1" fill="#c6a283"/>
<circle cx="501.5" cy="188.5" r="1.2" fill="#c6a283"/>
<circle cx="502.0" cy="187.2" r="1.0" fill="#c6a283"/>
<circle cx="504.8" cy="182.1" r="0.9" fill="#c6a283"/>
<circle cx="506.0" cy="183.9" r="1.2" fill="#c6a283"/>
<circle cx="508.5" cy="184.6" r="1.4" fill="#c6a283"/>
<circle cx="508.8" cy="188.7" r="1.2" fill="#c6a283"/>
<text x="425.0" y="99.3" font-size="7.4" text-anchor="middle" fill="#3aa76a" stroke="#3aa76a" stroke-width="0.15">ADH1B<tspan font-size="4.5" baseline-shift="super">+</tspan> CAF</text>
<text x="486.0" y="98.5" font-size="7.4" text-anchor="middle" fill="#c5414e" stroke="#c5414e" stroke-width="0.15">MYH11<tspan font-size="4.5" baseline-shift="super">+</tspan>&#945;SMA<tspan font-size="4.5" baseline-shift="super">+</tspan></text>
<text x="486.0" y="108.6" font-size="7.4" text-anchor="middle" fill="#c5414e" stroke="#c5414e" stroke-width="0.15">CAF</text>
<text x="425.0" y="214.2" font-size="7.4" text-anchor="middle" fill="#cf3345" stroke="#cf3345" stroke-width="0.15">FAP<tspan font-size="4.5" baseline-shift="super">+</tspan> CAF</text>
<text x="491.0" y="214.2" font-size="7.4" text-anchor="middle" fill="#6a5aa8" stroke="#6a5aa8" stroke-width="0.15">FAP<tspan font-size="4.5" baseline-shift="super">+</tspan>&#945;SMA<tspan font-size="4.5" baseline-shift="super">+</tspan> CAF</text>
<text x="6.9" y="282.5" font-size="10" font-weight="bold" fill="#231f20" stroke="#231f20" stroke-width="0.15">C</text>
<line x1="57.30" y1="283.60" x2="57.30" y2="382.80" stroke="#ececec" stroke-width="0.5"/>
<line x1="52.20" y1="378.15" x2="146.70" y2="378.15" stroke="#ececec" stroke-width="0.5"/>
<line x1="85.80" y1="283.60" x2="85.80" y2="382.80" stroke="#ececec" stroke-width="0.5"/>
<line x1="52.20" y1="348.00" x2="146.70" y2="348.00" stroke="#ececec" stroke-width="0.5"/>
<line x1="114.30" y1="283.60" x2="114.30" y2="382.80" stroke="#ececec" stroke-width="0.5"/>
<line x1="52.20" y1="317.85" x2="146.70" y2="317.85" stroke="#ececec" stroke-width="0.5"/>
<line x1="142.80" y1="283.60" x2="142.80" y2="382.80" stroke="#ececec" stroke-width="0.5"/>
<line x1="52.20" y1="287.70" x2="146.70" y2="287.70" stroke="#ececec" stroke-width="0.5"/>
<rect x="52.2" y="283.6" width="94.5" height="99.2" fill="none" stroke="#8a8a8a" stroke-width="1"/>
<text x="50.2" y="290.2" font-size="7.45" text-anchor="end" fill="#231f20" stroke="#231f20" stroke-width="0.15">1.0</text>
<text x="142.8" y="391.8" font-size="7.45" text-anchor="middle" fill="#231f20" stroke="#231f20" stroke-width="0.15">1.0</text>
<text x="50.2" y="320.3" font-size="7.45" text-anchor="end" fill="#231f20" stroke="#231f20" stroke-width="0.15">0.1</text>
<text x="114.3" y="391.8" font-size="7.45" text-anchor="middle" fill="#231f20" stroke="#231f20" stroke-width="0.15">0.1</text>
<text x="50.2" y="350.5" font-size="7.45" text-anchor="end" fill="#231f20" stroke="#231f20" stroke-width="0.15">0.01</text>
<text x="85.8" y="391.8" font-size="7.45" text-anchor="middle" fill="#231f20" stroke="#231f20" stroke-width="0.15">0.01</text>
<text x="50.2" y="380.6" font-size="7.45" text-anchor="end" fill="#231f20" stroke="#231f20" stroke-width="0.15">0.001</text>
<text x="57.3" y="391.8" font-size="7.45" text-anchor="middle" fill="#231f20" stroke="#231f20" stroke-width="0.15">0.001</text>
<text x="99.4" y="400.0" font-size="7.4" text-anchor="middle" fill="#231f20" stroke="#231f20" stroke-width="0.15">ADH1B staining coverage</text>
<text transform="translate(20.5,333.0) rotate(-90)" font-size="7.4" text-anchor="middle" fill="#231f20" stroke="#231f20" stroke-width="0.15">FAP coverage of</text>
<text transform="translate(29.5,333.0) rotate(-90)" font-size="7.4" text-anchor="middle" fill="#231f20" stroke="#231f20" stroke-width="0.15">ADH1B<tspan font-size="4.5" baseline-shift="super">neg</tspan> stroma area</text>
<circle cx="62.6" cy="303.1" r="1.35" fill="#d9262c"/>
<circle cx="65.4" cy="305.9" r="1.35" fill="#d9262c"/>
<circle cx="67.3" cy="301.2" r="1.35" fill="#d9262c"/>
<circle cx="63.0" cy="301.5" r="1.35" fill="#d9262c"/>
<circle cx="88" cy="296.2" r="1.35" fill="#d9262c"/>
<circle cx="77" cy="309.6" r="1.35" fill="#d9262c"/>
<circle cx="85" cy="305.9" r="1.35" fill="#d9262c"/>
<circle cx="97.3" cy="304.2" r="1.35" fill="#d9262c"/>
<circle cx="95.4" cy="310" r="1.35" fill="#d9262c"/>
<circle cx="105.4" cy="307.7" r="1.35" fill="#d9262c"/>
<circle cx="112.7" cy="305.4" r="1.35" fill="#d9262c"/>
<circle cx="117.4" cy="311.2" r="1.35" fill="#d9262c"/>
<circle cx="85" cy="319.3" r="1.35" fill="#d9262c"/>
<circle cx="90.3" cy="319.3" r="1.35" fill="#d9262c"/>
<circle cx="98.9" cy="319.3" r="1.35" fill="#d9262c"/>
<circle cx="94.3" cy="334.3" r="1.35" fill="#d9262c"/>
<circle cx="113.4" cy="331.3" r="1.35" fill="#d9262c"/>
<circle cx="118.5" cy="320.4" r="1.35" fill="#17563a"/>
<circle cx="121.3" cy="334.3" r="1.35" fill="#17563a"/>
<circle cx="105.8" cy="348.1" r="1.35" fill="#17563a"/>
<circle cx="105.8" cy="352.3" r="1.35" fill="#17563a"/>
<circle cx="121.3" cy="348.8" r="1.35" fill="#17563a"/>
<circle cx="118.5" cy="359.7" r="1.35" fill="#17563a"/>
<circle cx="115.5" cy="363.6" r="1.35" fill="#17563a"/>
<circle cx="120.1" cy="373.5" r="1.35" fill="#17563a"/>
<circle cx="115.5" cy="317.6" r="1.3" fill="#8cc9a0"/>
<circle cx="125.5" cy="318.1" r="1.3" fill="#8cc9a0"/>
<circle cx="116.2" cy="356.9" r="1.3" fill="#8cc9a0"/>
<circle cx="124.8" cy="371.7" r="1.3" fill="#8cc9a0"/>
<circle cx="119.7" cy="308.2" r="1.2" fill="none" stroke="#6fb98a" stroke-width="0.7"/>
<circle cx="121.3" cy="344.2" r="1.2" fill="none" stroke="#6fb98a" stroke-width="0.7"/>
<circle cx="138.8" cy="340.5" r="1.5" fill="#c8d8cc"/>
<text x="12.7" y="412.5" font-size="7.4" fill="#3aa76a" stroke="#3aa76a" stroke-width="0.15">ADH1B<tspan font-size="4.5" baseline-shift="super">+</tspan> CAF&#8211;dominant samples</text>
<text x="12.7" y="422.2" font-size="7.4" fill="#dc3a46" stroke="#dc3a46" stroke-width="0.15">FAP<tspan font-size="4.5" baseline-shift="super">+</tspan> CAF&#8211;dominant samples</text>
<text x="12.7" y="431.0" font-size="7.4" fill="#231f20" stroke="#231f20" stroke-width="0.15">MYH11<tspan font-size="4.5" baseline-shift="super">+</tspan>&#945;SMA<tspan font-size="4.5" baseline-shift="super">+</tspan> CAF</text>
<text x="92.4" y="428.0" font-size="5.5" text-anchor="middle" fill="#231f20" stroke="#231f20" stroke-width="0.15">+</text>
<text x="92.4" y="434.5" font-size="6" text-anchor="middle" fill="#231f20" stroke="#231f20" stroke-width="0.15">&#8211;</text>
<circle cx="99.8" cy="426.2" r="1.5" fill="none" stroke="#222" stroke-width="0.8"/>
<circle cx="99.8" cy="432.6" r="1.8" fill="#111"/>
<text x="179.2" y="283.4" font-size="10" font-weight="bold" fill="#231f20" stroke="#231f20" stroke-width="0.15">D</text>
<text x="298.3" y="284.0" font-size="7.6" text-anchor="middle" fill="#231f20" stroke="#231f20" stroke-width="0.15">Key cluster-identifying genes</text>
<text x="234.5" y="300.2" font-size="7.4" text-anchor="middle" fill="#231f20" stroke="#231f20" stroke-width="0.15">PI16<tspan font-size="4.5" baseline-shift="super">+</tspan> fib.</text>
<text x="234.5" y="308.8" font-size="7.4" text-anchor="middle" fill="#231f20" stroke="#231f20" stroke-width="0.15">genes</text>
<text x="282.0" y="300.2" font-size="7.4" text-anchor="middle" fill="#231f20" stroke="#231f20" stroke-width="0.15">Alv. fib.</text>
<text x="282.0" y="308.8" font-size="7.4" text-anchor="middle" fill="#231f20" stroke="#231f20" stroke-width="0.15">genes</text>
<text x="345.5" y="300.2" font-size="7.4" text-anchor="middle" fill="#231f20" stroke="#231f20" stroke-width="0.15">FAP<tspan font-size="4.5" baseline-shift="super">+</tspan> CAF</text>
<text x="345.5" y="308.8" font-size="7.4" text-anchor="middle" fill="#231f20" stroke="#231f20" stroke-width="0.15">genes</text>
<line x1="219.00" y1="312.60" x2="219.00" y2="378.20" stroke="#f0f0f0" stroke-width="0.5"/>
<line x1="235.00" y1="312.60" x2="235.00" y2="378.20" stroke="#f0f0f0" stroke-width="0.5"/>
<line x1="251.00" y1="312.60" x2="251.00" y2="378.20" stroke="#f0f0f0" stroke-width="0.5"/>
<line x1="266.50" y1="312.60" x2="266.50" y2="378.20" stroke="#f0f0f0" stroke-width="0.5"/>
<line x1="282.00" y1="312.60" x2="282.00" y2="378.20" stroke="#f0f0f0" stroke-width="0.5"/>
<line x1="298.00" y1="312.60" x2="298.00" y2="378.20" stroke="#f0f0f0" stroke-width="0.5"/>
<line x1="313.50" y1="312.60" x2="313.50" y2="378.20" stroke="#f0f0f0" stroke-width="0.5"/>
<line x1="329.00" y1="312.60" x2="329.00" y2="378.20" stroke="#f0f0f0" stroke-width="0.5"/>
<line x1="345.50" y1="312.60" x2="345.50" y2="378.20" stroke="#f0f0f0" stroke-width="0.5"/>
<line x1="361.00" y1="312.60" x2="361.00" y2="378.20" stroke="#f0f0f0" stroke-width="0.5"/>
<line x1="377.00" y1="312.60" x2="377.00" y2="378.20" stroke="#f0f0f0" stroke-width="0.5"/>
<rect x="212.60" y="357.04" width="3.30" height="19.26" fill="#6e3f9e"/>
<rect x="216.05" y="376.82" width="3.30" height="0.50" fill="#3d57ae"/>
<rect x="219.50" y="376.16" width="3.30" height="0.50" fill="#c7c07c"/>
<rect x="222.95" y="377.50" width="3.30" height="0.50" fill="#e4222a"/>
<rect x="228.30" y="335.48" width="3.30" height="40.82" fill="#6e3f9e"/>
<rect x="231.75" y="374.94" width="3.30" height="1.36" fill="#3d57ae"/>
<rect x="235.20" y="364.10" width="3.30" height="12.20" fill="#c7c07c"/>
<rect x="238.65" y="373.82" width="3.30" height="2.48" fill="#e4222a"/>
<rect x="244.20" y="352.37" width="3.30" height="23.93" fill="#6e3f9e"/>
<rect x="247.65" y="373.82" width="3.30" height="2.48" fill="#3d57ae"/>
<rect x="251.10" y="364.10" width="3.30" height="12.20" fill="#c7c07c"/>
<rect x="254.55" y="374.37" width="3.30" height="1.93" fill="#e4222a"/>
<rect x="259.70" y="377.50" width="3.30" height="0.50" fill="#6e3f9e"/>
<rect x="263.15" y="364.65" width="3.30" height="11.65" fill="#3d57ae"/>
<rect x="266.60" y="376.82" width="3.30" height="0.50" fill="#c7c07c"/>
<rect x="270.05" y="372.78" width="3.30" height="3.52" fill="#e4222a"/>
<rect x="276.30" y="365.82" width="3.30" height="10.48" fill="#6e3f9e"/>
<rect x="279.75" y="342.64" width="3.30" height="33.66" fill="#3d57ae"/>
<rect x="283.20" y="358.41" width="3.30" height="17.89" fill="#c7c07c"/>
<rect x="286.65" y="372.78" width="3.30" height="3.52" fill="#e4222a"/>
<rect x="291.00" y="359.53" width="3.30" height="16.77" fill="#6e3f9e"/>
<rect x="294.45" y="347.48" width="3.30" height="28.82" fill="#3d57ae"/>
<rect x="297.90" y="358.41" width="3.30" height="17.89" fill="#c7c07c"/>
<rect x="301.35" y="364.65" width="3.30" height="11.65" fill="#e4222a"/>
<rect x="307.30" y="372.29" width="3.30" height="4.01" fill="#6e3f9e"/>
<rect x="310.75" y="367.78" width="3.30" height="8.52" fill="#3d57ae"/>
<rect x="314.20" y="362.56" width="3.30" height="13.74" fill="#c7c07c"/>
<rect x="317.65" y="356.40" width="3.30" height="19.90" fill="#e4222a"/>
<rect x="322.70" y="360.13" width="3.30" height="16.17" fill="#6e3f9e"/>
<rect x="326.15" y="356.72" width="3.30" height="19.58" fill="#3d57ae"/>
<rect x="329.60" y="350.41" width="3.30" height="25.89" fill="#c7c07c"/>
<rect x="333.05" y="335.48" width="3.30" height="40.82" fill="#e4222a"/>
<rect x="339.00" y="349.42" width="3.30" height="26.88" fill="#6e3f9e"/>
<rect x="342.45" y="352.60" width="3.30" height="23.70" fill="#3d57ae"/>
<rect x="345.90" y="340.58" width="3.30" height="35.72" fill="#c7c07c"/>
<rect x="349.35" y="315.18" width="3.30" height="61.12" fill="#e4222a"/>
<rect x="354.00" y="363.83" width="3.30" height="12.47" fill="#6e3f9e"/>
<rect x="357.45" y="370.91" width="3.30" height="5.39" fill="#3d57ae"/>
<rect x="360.90" y="350.41" width="3.30" height="25.89" fill="#c7c07c"/>
<rect x="364.35" y="323.20" width="3.30" height="53.10" fill="#e4222a"/>
<rect x="369.80" y="373.82" width="3.30" height="2.48" fill="#6e3f9e"/>
<rect x="373.25" y="373.82" width="3.30" height="2.48" fill="#3d57ae"/>
<rect x="376.70" y="356.40" width="3.30" height="19.90" fill="#c7c07c"/>
<rect x="380.15" y="332.35" width="3.30" height="43.95" fill="#e4222a"/>
<rect x="210.2" y="312.6" width="175.0" height="65.6" fill="none" stroke="#555" stroke-width="0.8"/>
<line x1="258.40" y1="312.60" x2="258.40" y2="378.20" stroke="#333" stroke-width="0.8"/>
<line x1="305.40" y1="312.60" x2="305.40" y2="378.20" stroke="#333" stroke-width="0.8"/>
<text x="207.7" y="315.4" font-size="7.45" text-anchor="end" fill="#231f20" stroke="#231f20" stroke-width="0.15">100</text>
<text x="207.7" y="347.7" font-size="7.45" text-anchor="end" fill="#231f20" stroke="#231f20" stroke-width="0.15">10</text>
<text x="207.7" y="380.0" font-size="7.45" text-anchor="end" fill="#231f20" stroke="#231f20" stroke-width="0.15">1</text>
<text transform="translate(190.8,346.0) rotate(-90)" font-size="7.45" text-anchor="middle" fill="#231f20" stroke="#231f20" stroke-width="0.15">UMI per 10,000 UMI</text>
<text transform="translate(221.9,380.8) rotate(-90)" font-size="7.5" text-anchor="end" font-style="italic" fill="#231f20" stroke="#231f20" stroke-width="0.15">PI16</text>
<text transform="translate(237.3,380.8) rotate(-90)" font-size="7.5" text-anchor="end" font-style="italic" fill="#231f20" stroke="#231f20" stroke-width="0.15">PLA2G2A</text>
<text transform="translate(253.0,380.8) rotate(-90)" font-size="7.5" text-anchor="end" font-style="italic" fill="#231f20" stroke="#231f20" stroke-width="0.15">LEPR</text>
<text transform="translate(269.2,380.8) rotate(-90)" font-size="7.5" text-anchor="end" fill="#231f20" stroke="#231f20" stroke-width="0.15"><tspan font-style="italic">MME</tspan> (CD10)</text>
<text transform="translate(284.6,380.8) rotate(-90)" font-size="7.5" text-anchor="end" font-style="italic" fill="#231f20" stroke="#231f20" stroke-width="0.15">TCF21</text>
<text transform="translate(300.1,380.8) rotate(-90)" font-size="7.5" text-anchor="end" font-style="italic" fill="#231f20" stroke="#231f20" stroke-width="0.15">ELN</text>
<text transform="translate(316.1,380.8) rotate(-90)" font-size="7.5" text-anchor="end" font-style="italic" fill="#231f20" stroke="#231f20" stroke-width="0.15">FAP</text>
<text transform="translate(331.6,380.8) rotate(-90)" font-size="7.5" text-anchor="end" font-style="italic" fill="#231f20" stroke="#231f20" stroke-width="0.15">ACTA2</text>
<text transform="translate(347.9,380.8) rotate(-90)" font-size="7.5" text-anchor="end" font-style="italic" fill="#231f20" stroke="#231f20" stroke-width="0.15">COL1A1</text>
<text transform="translate(363.1,380.8) rotate(-90)" font-size="7.5" text-anchor="end" font-style="italic" fill="#231f20" stroke="#231f20" stroke-width="0.15">CTHRC1</text>
<text transform="translate(378.6,380.8) rotate(-90)" font-size="7.5" text-anchor="end" font-style="italic" fill="#231f20" stroke="#231f20" stroke-width="0.15">POSTN</text>
<rect x="178.60" y="402.50" width="4.60" height="4.60" fill="#6e3f9e"/>
<text x="185.8" y="407.3" font-size="7.45" fill="#231f20" stroke="#231f20" stroke-width="0.15">PI16<tspan font-size="4.5" baseline-shift="super">+</tspan> fib.</text>
<rect x="178.60" y="412.30" width="4.60" height="4.60" fill="#3d57ae"/>
<text x="185.8" y="417.1" font-size="7.45" fill="#231f20" stroke="#231f20" stroke-width="0.15">Alv. fibs.</text>
<rect x="178.60" y="422.10" width="4.60" height="4.60" fill="#c7c07c"/>
<text x="185.8" y="426.9" font-size="7.45" fill="#231f20" stroke="#231f20" stroke-width="0.15">ADH1B<tspan font-size="4.5" baseline-shift="super">+</tspan> CAF</text>
<rect x="178.60" y="431.90" width="4.60" height="4.60" fill="#e4222a"/>
<text x="185.8" y="436.7" font-size="7.45" fill="#231f20" stroke="#231f20" stroke-width="0.15">FAP<tspan font-size="4.5" baseline-shift="super">+</tspan> CAF</text>
<text x="405.8" y="282.6" font-size="10" font-weight="bold" fill="#231f20" stroke="#231f20" stroke-width="0.15">E</text>
<text x="506.3" y="288.3" font-size="7.45" text-anchor="end" fill="#231f20" stroke="#231f20" stroke-width="0.15">*Scale bar = 200 &#956;m</text>
<g filter="url(#blur1)" clip-path="url(#ce)">
<rect x="410.20" y="290.30" width="96.60" height="89.20" fill="#2c1512"/>
<rect x="410.2" y="290.3" width="96.6" height="89.2" fill="#000" filter="url(#fe1)"/>
<rect x="410.2" y="290.3" width="96.6" height="89.2" fill="#000" filter="url(#fe2)"/>
<rect x="410.2" y="290.3" width="96.6" height="89.2" fill="#000" filter="url(#fe0)"/>
<ellipse cx="442" cy="320" rx="14" ry="6" fill="#8a1a1c" opacity="0.6" filter="url(#blur3)"/>
<ellipse cx="447" cy="349" rx="8" ry="4" fill="#8a1a1c" opacity="0.6" filter="url(#blur3)"/>
<ellipse cx="422" cy="368" rx="9" ry="5" fill="#8a1a1c" opacity="0.6" filter="url(#blur3)"/>
<ellipse cx="479" cy="357" rx="8" ry="4" fill="#8a1a1c" opacity="0.6" filter="url(#blur3)"/>
<ellipse cx="430" cy="330" rx="6" ry="3" fill="#8a1a1c" opacity="0.6" filter="url(#blur3)"/>
<path d="M411,290.3 L506.8,290.3 L506.8,362 C500,358 496,356 492,351 C488,346 486,342 482,338 C476,332 468,327 460,321 C452,315 446,311 440,306 C432,300 422,296 411,291 Z" fill="#12301a"/>
<rect x="410.2" y="290.3" width="96.6" height="89.2" fill="#000" filter="url(#fe3)" clip-path="url(#ceg)"/>
<rect x="410.2" y="290.3" width="96.6" height="89.2" fill="#000" filter="url(#fe4)" clip-path="url(#ceg)"/>
<defs><linearGradient id="geg" x1="0" y1="0" x2="1" y2="0.3"><stop offset="0.45" stop-color="#2a8a3a" stop-opacity="0"/><stop offset="1" stop-color="#30a848" stop-opacity="0.55"/></linearGradient></defs>
<path d="M411,290.3 L506.8,290.3 L506.8,362 C500,358 496,356 492,351 C488,346 486,342 482,338 C476,332 468,327 460,321 C452,315 446,311 440,306 C432,300 422,296 411,291 Z" fill="url(#geg)"/>
<g filter="url(#disp2)">
<path d="M412.0,340.0 C413.0,335.2 416.0,336.0 418.0,335.0 C420.0,334.0 422.0,333.8 424.0,334.0 C426.0,334.2 428.0,336.2 430.0,336.0 C432.0,335.8 433.8,333.3 436.0,333.0 C438.2,332.7 440.7,333.3 443.0,334.0 C445.3,334.7 448.0,335.8 450.0,337.0 C452.0,338.2 454.5,339.5 455.0,341.0 C455.5,342.5 454.3,344.8 453.0,346.0 C451.7,347.2 449.2,347.3 447.0,348.0 C444.8,348.7 442.2,349.3 440.0,350.0 C437.8,350.7 436.0,351.0 434.0,352.0 C432.0,353.0 429.7,354.5 428.0,356.0 C426.3,357.5 425.7,359.7 424.0,361.0 C422.3,362.3 420.0,363.5 418.0,364.0 C416.0,364.5 413.0,368.0 412.0,364.0 C411.0,360.0 411.0,344.8 412.0,340.0 Z" fill="#74888c"/>
<path d="M473.0,372.0 C473.5,369.5 474.7,367.5 476.0,366.0 C477.3,364.5 479.2,363.5 481.0,363.0 C482.8,362.5 485.2,362.5 487.0,363.0 C488.8,363.5 490.5,364.7 492.0,366.0 C493.5,367.3 495.0,369.2 496.0,371.0 C497.0,372.8 498.0,375.3 498.0,377.0 C498.0,378.7 500.2,380.3 496.0,381.0 C491.8,381.7 476.8,382.5 473.0,381.0 C469.2,379.5 472.5,374.5 473.0,372.0 Z" fill="#74888c"/>
<path d="M416.0,313.0 C416.5,312.2 418.5,311.7 420.0,311.5 C421.5,311.3 424.0,311.4 425.0,312.0 C426.0,312.6 426.5,314.2 426.0,315.0 C425.5,315.8 423.5,316.8 422.0,317.0 C420.5,317.2 418.0,317.2 417.0,316.5 C416.0,315.8 415.5,313.8 416.0,313.0 Z" fill="#74888c"/>
<path d="M440.0,376.0 C440.7,374.5 442.5,372.7 444.0,372.0 C445.5,371.3 447.5,371.3 449.0,372.0 C450.5,372.7 452.3,374.5 453.0,376.0 C453.7,377.5 455.2,380.2 453.0,381.0 C450.8,381.8 442.2,381.8 440.0,381.0 C437.8,380.2 439.3,377.5 440.0,376.0 Z" fill="#74888c"/>
</g>
<rect x="410.2" y="290.3" width="96.6" height="89.2" fill="#000" filter="url(#fe5)" clip-path="url(#cek)"/>
<rect x="410.2" y="290.3" width="96.6" height="89.2" fill="#000" filter="url(#fe6)" clip-path="url(#cek)"/>
</g>
<ellipse cx="441.4" cy="321.4" rx="2.5" ry="2" fill="#e8c8c0"/>
<path d="M411,291 C422,296 432,300 440,306 C446,311 452,315 460,321 C468,327 476,332 482,338 C486,342 488,346 492,351 C496,356 500,358 506.8,362" fill="none" stroke="#e8e8e0" stroke-width="0.8" stroke-dasharray="1.4,0.9"/>
<text x="459.0" y="297.0" font-size="7.4" text-anchor="middle" fill="#f2f2f2" stroke="#f2f2f2" stroke-width="0.15">Invasive margin</text>
<text x="412.7" y="326.8" font-size="7.4" fill="#f2f2f2" stroke="#f2f2f2" stroke-width="0.15">Tumor</text>
<rect x="434.4" y="363.3" width="12.8" height="4.8" fill="none" stroke="#f0d828" stroke-width="1.1"/>
<rect x="415.00" y="375.20" width="12.30" height="1.30" fill="#f0f0f0"/>
<circle cx="433.5" cy="375.8" r="0.9" fill="#f0f0f0"/>
<rect x="410.20" y="379.50" width="96.60" height="1.40" fill="#f4f4f4"/>
<rect x="410.20" y="380.90" width="96.60" height="21.60" fill="#121410"/>
<g clip-path="url(#cei)" filter="url(#blur1)"><g transform="rotate(-28 458.5 391.7)">
<rect x="398.5" y="351.7" width="120.0" height="80.0" fill="#000" filter="url(#fi1)"/>
<rect x="398.5" y="351.7" width="120.0" height="80.0" fill="#000" filter="url(#fi2)"/>
<rect x="398.5" y="351.7" width="120.0" height="80.0" fill="#000" filter="url(#fi3)"/>
<rect x="398.5" y="351.7" width="120.0" height="80.0" fill="#000" filter="url(#fi4)"/>
</g></g>
<rect x="411.50" y="399.90" width="54.30" height="1.30" fill="#f0f0f0"/>
<text transform="translate(514.8,403.3) rotate(-90)" font-size="7.45" fill="#231f20" stroke="#231f20" stroke-width="0.15">Patient 1</text>
<text x="410.4" y="410.7" font-size="7.6" fill="#231f20" stroke="#231f20" stroke-width="0.15"><tspan stroke-width="0.15" fill="#a8a8a8" stroke="#a8a8a8">Keratin</tspan> <tspan stroke-width="0.15" fill="#6cc0d0" stroke="#6cc0d0">Nuclei</tspan> <tspan stroke-width="0.15" fill="#e03030" stroke="#e03030">FAP</tspan> <tspan stroke-width="0.15" fill="#3cb86c" stroke="#3cb86c">ADH1B</tspan></text>
<text x="410.4" y="421.1" font-size="7.4" fill="#231f20" stroke="#231f20" stroke-width="0.15">Scale bar = 100 &#956;m</text>
<text x="7.7" y="463.8" font-size="10" font-weight="bold" fill="#231f20" stroke="#231f20" stroke-width="0.15">F</text>
<text x="68.3" y="460.6" font-size="7.4" text-anchor="middle" fill="#231f20" stroke="#231f20" stroke-width="0.15">PI16<tspan font-size="4.5" baseline-shift="super">+</tspan> fib.</text>
<text x="68.3" y="468.8" font-size="7.4" text-anchor="middle" fill="#231f20" stroke="#231f20" stroke-width="0.15">genes,</text>
<text x="68.3" y="477.0" font-size="7.4" text-anchor="middle" fill="#231f20" stroke="#231f20" stroke-width="0.15">module 11</text>
<text x="132.9" y="460.6" font-size="7.4" text-anchor="middle" fill="#231f20" stroke="#231f20" stroke-width="0.15">FAP<tspan font-size="4.5" baseline-shift="super">+</tspan> CAF</text>
<text x="132.9" y="468.8" font-size="7.4" text-anchor="middle" fill="#231f20" stroke="#231f20" stroke-width="0.15">genes,</text>
<text x="132.9" y="477.0" font-size="7.4" text-anchor="middle" fill="#231f20" stroke="#231f20" stroke-width="0.15">module 14, 15</text>
<text x="46.0" y="488.2" font-size="7.4" text-anchor="end" fill="#231f20" stroke="#231f20" stroke-width="0.15">FAP<tspan font-size="4.5" baseline-shift="super">+</tspan></text>
<text x="46.0" y="496.4" font-size="7.4" text-anchor="end" fill="#231f20" stroke="#231f20" stroke-width="0.15">CAF</text>
<text x="46.0" y="504.6" font-size="7.4" text-anchor="end" fill="#231f20" stroke="#231f20" stroke-width="0.15">(24, 26, &amp; 22)</text>
<text x="45.2" y="520.8" font-size="7.4" text-anchor="end" fill="#231f20" stroke="#231f20" stroke-width="0.15">PI16<tspan font-size="4.5" baseline-shift="super">+</tspan></text>
<text x="45.2" y="529.4" font-size="7.4" text-anchor="end" fill="#231f20" stroke="#231f20" stroke-width="0.15">fib. &amp;</text>
<text x="45.2" y="538.0" font-size="7.4" text-anchor="end" fill="#231f20" stroke="#231f20" stroke-width="0.15">ADH1B<tspan font-size="4.5" baseline-shift="super">+</tspan></text>
<text x="45.2" y="546.6" font-size="7.4" text-anchor="end" fill="#231f20" stroke="#231f20" stroke-width="0.15">CAF</text>
<text x="45.2" y="555.2" font-size="7.4" text-anchor="end" fill="#231f20" stroke="#231f20" stroke-width="0.15">(20 &amp; 9)</text>
<rect x="47.40" y="480.20" width="6.89" height="1.56" fill="#fdf5ee"/>
<rect x="54.24" y="480.20" width="6.89" height="1.56" fill="#f9e2d3"/>
<rect x="61.08" y="480.20" width="6.89" height="1.56" fill="#fcefe5"/>
<rect x="67.92" y="480.20" width="6.89" height="1.56" fill="#f5ceb5"/>
<rect x="74.76" y="480.20" width="6.89" height="1.56" fill="#fae4d5"/>
<rect x="81.60" y="480.20" width="6.89" height="1.56" fill="#eba37b"/>
<rect x="88.44" y="480.20" width="6.89" height="1.56" fill="#f4cbb0"/>
<rect x="95.28" y="480.20" width="6.89" height="1.56" fill="#e3846f"/>
<rect x="102.12" y="480.20" width="6.89" height="1.56" fill="#eca67f"/>
<rect x="108.96" y="480.20" width="6.89" height="1.56" fill="#eca680"/>
<rect x="115.80" y="480.20" width="6.89" height="1.56" fill="#e2806f"/>
<rect x="122.64" y="480.20" width="6.89" height="1.56" fill="#be4982"/>
<rect x="129.48" y="480.20" width="6.89" height="1.56" fill="#bf4a82"/>
<rect x="136.32" y="480.20" width="6.89" height="1.56" fill="#9b3b97"/>
<rect x="143.16" y="480.20" width="6.89" height="1.56" fill="#91369c"/>
<rect x="150.00" y="480.20" width="6.89" height="1.56" fill="#90369c"/>
<rect x="156.84" y="480.20" width="6.89" height="1.56" fill="#fbebdf"/>
<rect x="163.68" y="480.20" width="6.89" height="1.56" fill="#f1bc9b"/>
<rect x="170.52" y="480.20" width="6.89" height="1.56" fill="#eca47d"/>
<rect x="47.40" y="481.71" width="6.89" height="1.56" fill="#fbeade"/>
<rect x="54.24" y="481.71" width="6.89" height="1.56" fill="#f1bc9c"/>
<rect x="61.08" y="481.71" width="6.89" height="1.56" fill="#f9decd"/>
<rect x="67.92" y="481.71" width="6.89" height="1.56" fill="#f2be9f"/>
<rect x="74.76" y="481.71" width="6.89" height="1.56" fill="#f6d1b9"/>
<rect x="81.60" y="481.71" width="6.89" height="1.56" fill="#e58b6f"/>
<rect x="88.44" y="481.71" width="6.89" height="1.56" fill="#f4caaf"/>
<rect x="95.28" y="481.71" width="6.89" height="1.56" fill="#e4896f"/>
<rect x="102.12" y="481.71" width="6.89" height="1.56" fill="#efb390"/>
<rect x="108.96" y="481.71" width="6.89" height="1.56" fill="#df7570"/>
<rect x="115.80" y="481.71" width="6.89" height="1.56" fill="#d66474"/>
<rect x="122.64" y="481.71" width="6.89" height="1.56" fill="#b0448b"/>
<rect x="129.48" y="481.71" width="6.89" height="1.56" fill="#90359d"/>
<rect x="136.32" y="481.71" width="6.89" height="1.56" fill="#96389a"/>
<rect x="143.16" y="481.71" width="6.89" height="1.56" fill="#7a2aa0"/>
<rect x="150.00" y="481.71" width="6.89" height="1.56" fill="#812ea1"/>
<rect x="156.84" y="481.71" width="6.89" height="1.56" fill="#fbebe0"/>
<rect x="163.68" y="481.71" width="6.89" height="1.56" fill="#e2806f"/>
<rect x="170.52" y="481.71" width="6.89" height="1.56" fill="#eca780"/>
<rect x="47.40" y="483.21" width="6.89" height="1.56" fill="#fae5d8"/>
<rect x="54.24" y="483.21" width="6.89" height="1.56" fill="#f1bd9d"/>
<rect x="61.08" y="483.21" width="6.89" height="1.56" fill="#f6d3bd"/>
<rect x="67.92" y="483.21" width="6.89" height="1.56" fill="#f3c5a8"/>
<rect x="74.76" y="483.21" width="6.89" height="1.56" fill="#f9e0cf"/>
<rect x="81.60" y="483.21" width="6.89" height="1.56" fill="#eba179"/>
<rect x="88.44" y="483.21" width="6.89" height="1.56" fill="#f3c5a8"/>
<rect x="95.28" y="483.21" width="6.89" height="1.56" fill="#d46274"/>
<rect x="102.12" y="483.21" width="6.89" height="1.56" fill="#f1bb9b"/>
<rect x="108.96" y="483.21" width="6.89" height="1.56" fill="#e9976e"/>
<rect x="115.80" y="483.21" width="6.89" height="1.56" fill="#e17d6f"/>
<rect x="122.64" y="483.21" width="6.89" height="1.56" fill="#ba4885"/>
<rect x="129.48" y="483.21" width="6.89" height="1.56" fill="#b74687"/>
<rect x="136.32" y="483.21" width="6.89" height="1.56" fill="#a23e94"/>
<rect x="143.16" y="483.21" width="6.89" height="1.56" fill="#7e2ca1"/>
<rect x="150.00" y="483.21" width="6.89" height="1.56" fill="#8932a0"/>
<rect x="156.84" y="483.21" width="6.89" height="1.56" fill="#f9e0cf"/>
<rect x="163.68" y="483.21" width="6.89" height="1.56" fill="#eeae8a"/>
<rect x="170.52" y="483.21" width="6.89" height="1.56" fill="#eca780"/>
<rect x="47.40" y="484.72" width="6.89" height="1.56" fill="#fdf5ee"/>
<rect x="54.24" y="484.72" width="6.89" height="1.56" fill="#f7d6c1"/>
<rect x="61.08" y="484.72" width="6.89" height="1.56" fill="#fcf0e6"/>
<rect x="67.92" y="484.72" width="6.89" height="1.56" fill="#f7d4bf"/>
<rect x="74.76" y="484.72" width="6.89" height="1.56" fill="#f7d5c0"/>
<rect x="81.60" y="484.72" width="6.89" height="1.56" fill="#f0b593"/>
<rect x="88.44" y="484.72" width="6.89" height="1.56" fill="#f4caaf"/>
<rect x="95.28" y="484.72" width="6.89" height="1.56" fill="#e4896f"/>
<rect x="102.12" y="484.72" width="6.89" height="1.56" fill="#f0b593"/>
<rect x="108.96" y="484.72" width="6.89" height="1.56" fill="#eca881"/>
<rect x="115.80" y="484.72" width="6.89" height="1.56" fill="#e4896f"/>
<rect x="122.64" y="484.72" width="6.89" height="1.56" fill="#d56274"/>
<rect x="129.48" y="484.72" width="6.89" height="1.56" fill="#c7507c"/>
<rect x="136.32" y="484.72" width="6.89" height="1.56" fill="#c14b80"/>
<rect x="143.16" y="484.72" width="6.89" height="1.56" fill="#9d3c96"/>
<rect x="150.00" y="484.72" width="6.89" height="1.56" fill="#9f3c96"/>
<rect x="156.84" y="484.72" width="6.89" height="1.56" fill="#fdf5ee"/>
<rect x="163.68" y="484.72" width="6.89" height="1.56" fill="#eeb08c"/>
<rect x="170.52" y="484.72" width="6.89" height="1.56" fill="#eca67f"/>
<rect x="47.40" y="486.23" width="6.89" height="1.56" fill="#f9dfcf"/>
<rect x="54.24" y="486.23" width="6.89" height="1.56" fill="#f8d9c6"/>
<rect x="61.08" y="486.23" width="6.89" height="1.56" fill="#f7d7c2"/>
<rect x="67.92" y="486.23" width="6.89" height="1.56" fill="#f6d3bd"/>
<rect x="74.76" y="486.23" width="6.89" height="1.56" fill="#f9decd"/>
<rect x="81.60" y="486.23" width="6.89" height="1.56" fill="#e8946e"/>
<rect x="88.44" y="486.23" width="6.89" height="1.56" fill="#f2c1a2"/>
<rect x="95.28" y="486.23" width="6.89" height="1.56" fill="#e4896f"/>
<rect x="102.12" y="486.23" width="6.89" height="1.56" fill="#f0b592"/>
<rect x="108.96" y="486.23" width="6.89" height="1.56" fill="#e9986e"/>
<rect x="115.80" y="486.23" width="6.89" height="1.56" fill="#ce5a78"/>
<rect x="122.64" y="486.23" width="6.89" height="1.56" fill="#b54687"/>
<rect x="129.48" y="486.23" width="6.89" height="1.56" fill="#a43f93"/>
<rect x="136.32" y="486.23" width="6.89" height="1.56" fill="#a03d95"/>
<rect x="143.16" y="486.23" width="6.89" height="1.56" fill="#8d349e"/>
<rect x="150.00" y="486.23" width="6.89" height="1.56" fill="#7a2aa0"/>
<rect x="156.84" y="486.23" width="6.89" height="1.56" fill="#f8dbc9"/>
<rect x="163.68" y="486.23" width="6.89" height="1.56" fill="#e68e6f"/>
<rect x="170.52" y="486.23" width="6.89" height="1.56" fill="#ea9e75"/>
<rect x="47.40" y="487.73" width="6.89" height="1.56" fill="#fdf3ec"/>
<rect x="54.24" y="487.73" width="6.89" height="1.56" fill="#f6d4be"/>
<rect x="61.08" y="487.73" width="6.89" height="1.56" fill="#fae5d7"/>
<rect x="67.92" y="487.73" width="6.89" height="1.56" fill="#f8dac7"/>
<rect x="74.76" y="487.73" width="6.89" height="1.56" fill="#f6d1b9"/>
<rect x="81.60" y="487.73" width="6.89" height="1.56" fill="#e6906e"/>
<rect x="88.44" y="487.73" width="6.89" height="1.56" fill="#f7d7c3"/>
<rect x="95.28" y="487.73" width="6.89" height="1.56" fill="#de7370"/>
<rect x="102.12" y="487.73" width="6.89" height="1.56" fill="#eeb08c"/>
<rect x="108.96" y="487.73" width="6.89" height="1.56" fill="#eeb08b"/>
<rect x="115.80" y="487.73" width="6.89" height="1.56" fill="#e3856f"/>
<rect x="122.64" y="487.73" width="6.89" height="1.56" fill="#b54687"/>
<rect x="129.48" y="487.73" width="6.89" height="1.56" fill="#c34c7f"/>
<rect x="136.32" y="487.73" width="6.89" height="1.56" fill="#ad438d"/>
<rect x="143.16" y="487.73" width="6.89" height="1.56" fill="#7b2ba0"/>
<rect x="150.00" y="487.73" width="6.89" height="1.56" fill="#94379b"/>
<rect x="156.84" y="487.73" width="6.89" height="1.56" fill="#fceee4"/>
<rect x="163.68" y="487.73" width="6.89" height="1.56" fill="#e8976e"/>
<rect x="170.52" y="487.73" width="6.89" height="1.56" fill="#e9996e"/>
<rect x="47.40" y="489.24" width="6.89" height="1.56" fill="#fae7da"/>
<rect x="54.24" y="489.24" width="6.89" height="1.56" fill="#f2c0a0"/>
<rect x="61.08" y="489.24" width="6.89" height="1.56" fill="#fae6d9"/>
<rect x="67.92" y="489.24" width="6.89" height="1.56" fill="#f1bc9c"/>
<rect x="74.76" y="489.24" width="6.89" height="1.56" fill="#f7d5bf"/>
<rect x="81.60" y="489.24" width="6.89" height="1.56" fill="#e2806f"/>
<rect x="88.44" y="489.24" width="6.89" height="1.56" fill="#f2c0a1"/>
<rect x="95.28" y="489.24" width="6.89" height="1.56" fill="#e17d6f"/>
<rect x="102.12" y="489.24" width="6.89" height="1.56" fill="#eba077"/>
<rect x="108.96" y="489.24" width="6.89" height="1.56" fill="#e68e6f"/>
<rect x="115.80" y="489.24" width="6.89" height="1.56" fill="#c9537b"/>
<rect x="122.64" y="489.24" width="6.89" height="1.56" fill="#aa418f"/>
<rect x="129.48" y="489.24" width="6.89" height="1.56" fill="#a33e93"/>
<rect x="136.32" y="489.24" width="6.89" height="1.56" fill="#a03d95"/>
<rect x="143.16" y="489.24" width="6.89" height="1.56" fill="#7a2aa0"/>
<rect x="150.00" y="489.24" width="6.89" height="1.56" fill="#8430a2"/>
<rect x="156.84" y="489.24" width="6.89" height="1.56" fill="#f9e2d3"/>
<rect x="163.68" y="489.24" width="6.89" height="1.56" fill="#e6906e"/>
<rect x="170.52" y="489.24" width="6.89" height="1.56" fill="#e2816f"/>
<rect x="47.40" y="490.74" width="6.89" height="1.56" fill="#fcf1e9"/>
<rect x="54.24" y="490.74" width="6.89" height="1.56" fill="#fae7da"/>
<rect x="61.08" y="490.74" width="6.89" height="1.56" fill="#fbebdf"/>
<rect x="67.92" y="490.74" width="6.89" height="1.56" fill="#f7d7c3"/>
<rect x="74.76" y="490.74" width="6.89" height="1.56" fill="#f8dcca"/>
<rect x="81.60" y="490.74" width="6.89" height="1.56" fill="#e8966e"/>
<rect x="88.44" y="490.74" width="6.89" height="1.56" fill="#f9dfce"/>
<rect x="95.28" y="490.74" width="6.89" height="1.56" fill="#e17e6f"/>
<rect x="102.12" y="490.74" width="6.89" height="1.56" fill="#f4c8ad"/>
<rect x="108.96" y="490.74" width="6.89" height="1.56" fill="#efb492"/>
<rect x="115.80" y="490.74" width="6.89" height="1.56" fill="#ea9c72"/>
<rect x="122.64" y="490.74" width="6.89" height="1.56" fill="#c9527b"/>
<rect x="129.48" y="490.74" width="6.89" height="1.56" fill="#ce5978"/>
<rect x="136.32" y="490.74" width="6.89" height="1.56" fill="#be4a82"/>
<rect x="143.16" y="490.74" width="6.89" height="1.56" fill="#8e349e"/>
<rect x="150.00" y="490.74" width="6.89" height="1.56" fill="#8b339f"/>
<rect x="156.84" y="490.74" width="6.89" height="1.56" fill="#fdf5ee"/>
<rect x="163.68" y="490.74" width="6.89" height="1.56" fill="#eda882"/>
<rect x="170.52" y="490.74" width="6.89" height="1.56" fill="#f0b896"/>
<rect x="47.40" y="492.25" width="6.89" height="1.56" fill="#fcefe5"/>
<rect x="54.24" y="492.25" width="6.89" height="1.56" fill="#f7d8c4"/>
<rect x="61.08" y="492.25" width="6.89" height="1.56" fill="#fceee4"/>
<rect x="67.92" y="492.25" width="6.89" height="1.56" fill="#f8dbc8"/>
<rect x="74.76" y="492.25" width="6.89" height="1.56" fill="#f9e0cf"/>
<rect x="81.60" y="492.25" width="6.89" height="1.56" fill="#eba078"/>
<rect x="88.44" y="492.25" width="6.89" height="1.56" fill="#f5ceb5"/>
<rect x="95.28" y="492.25" width="6.89" height="1.56" fill="#e2826f"/>
<rect x="102.12" y="492.25" width="6.89" height="1.56" fill="#f5ccb3"/>
<rect x="108.96" y="492.25" width="6.89" height="1.56" fill="#f3c5a7"/>
<rect x="115.80" y="492.25" width="6.89" height="1.56" fill="#ea9c72"/>
<rect x="122.64" y="492.25" width="6.89" height="1.56" fill="#d05b77"/>
<rect x="129.48" y="492.25" width="6.89" height="1.56" fill="#b74786"/>
<rect x="136.32" y="492.25" width="6.89" height="1.56" fill="#a03d95"/>
<rect x="143.16" y="492.25" width="6.89" height="1.56" fill="#973999"/>
<rect x="150.00" y="492.25" width="6.89" height="1.56" fill="#983999"/>
<rect x="156.84" y="492.25" width="6.89" height="1.56" fill="#fcf2ea"/>
<rect x="163.68" y="492.25" width="6.89" height="1.56" fill="#eba077"/>
<rect x="170.52" y="492.25" width="6.89" height="1.56" fill="#efb18d"/>
<rect x="47.40" y="493.76" width="6.89" height="1.56" fill="#fbede2"/>
<rect x="54.24" y="493.76" width="6.89" height="1.56" fill="#f5ceb5"/>
<rect x="61.08" y="493.76" width="6.89" height="1.56" fill="#fae5d7"/>
<rect x="67.92" y="493.76" width="6.89" height="1.56" fill="#f8dcca"/>
<rect x="74.76" y="493.76" width="6.89" height="1.56" fill="#fae8db"/>
<rect x="81.60" y="493.76" width="6.89" height="1.56" fill="#eca47d"/>
<rect x="88.44" y="493.76" width="6.89" height="1.56" fill="#f9dfce"/>
<rect x="95.28" y="493.76" width="6.89" height="1.56" fill="#ea9f76"/>
<rect x="102.12" y="493.76" width="6.89" height="1.56" fill="#f2c2a3"/>
<rect x="108.96" y="493.76" width="6.89" height="1.56" fill="#e99b71"/>
<rect x="115.80" y="493.76" width="6.89" height="1.56" fill="#df7770"/>
<rect x="122.64" y="493.76" width="6.89" height="1.56" fill="#c9537b"/>
<rect x="129.48" y="493.76" width="6.89" height="1.56" fill="#a23e94"/>
<rect x="136.32" y="493.76" width="6.89" height="1.56" fill="#c04a81"/>
<rect x="143.16" y="493.76" width="6.89" height="1.56" fill="#993a98"/>
<rect x="150.00" y="493.76" width="6.89" height="1.56" fill="#993a98"/>
<rect x="156.84" y="493.76" width="6.89" height="1.56" fill="#fcf0e6"/>
<rect x="163.68" y="493.76" width="6.89" height="1.56" fill="#ea9f76"/>
<rect x="170.52" y="493.76" width="6.89" height="1.56" fill="#f0b694"/>
<rect x="47.40" y="495.26" width="6.89" height="1.56" fill="#f8dcca"/>
<rect x="54.24" y="495.26" width="6.89" height="1.56" fill="#f5ceb4"/>
<rect x="61.08" y="495.26" width="6.89" height="1.56" fill="#f6d4be"/>
<rect x="67.92" y="495.26" width="6.89" height="1.56" fill="#f1ba99"/>
<rect x="74.76" y="495.26" width="6.89" height="1.56" fill="#f6d1ba"/>
<rect x="81.60" y="495.26" width="6.89" height="1.56" fill="#e9996e"/>
<rect x="88.44" y="495.26" width="6.89" height="1.56" fill="#f6d0b8"/>
<rect x="95.28" y="495.26" width="6.89" height="1.56" fill="#e17d6f"/>
<rect x="102.12" y="495.26" width="6.89" height="1.56" fill="#eda982"/>
<rect x="108.96" y="495.26" width="6.89" height="1.56" fill="#eda983"/>
<rect x="115.80" y="495.26" width="6.89" height="1.56" fill="#dc6e70"/>
<rect x="122.64" y="495.26" width="6.89" height="1.56" fill="#b0448b"/>
<rect x="129.48" y="495.26" width="6.89" height="1.56" fill="#a64091"/>
<rect x="136.32" y="495.26" width="6.89" height="1.56" fill="#92369c"/>
<rect x="143.16" y="495.26" width="6.89" height="1.56" fill="#7b2ba0"/>
<rect x="150.00" y="495.26" width="6.89" height="1.56" fill="#7c2ba0"/>
<rect x="156.84" y="495.26" width="6.89" height="1.56" fill="#f9e2d3"/>
<rect x="163.68" y="495.26" width="6.89" height="1.56" fill="#e7946e"/>
<rect x="170.52" y="495.26" width="6.89" height="1.56" fill="#ea9c72"/>
<rect x="47.40" y="496.77" width="6.89" height="1.56" fill="#fdf4ec"/>
<rect x="54.24" y="496.77" width="6.89" height="1.56" fill="#fbebdf"/>
<rect x="61.08" y="496.77" width="6.89" height="1.56" fill="#fdf5ee"/>
<rect x="67.92" y="496.77" width="6.89" height="1.56" fill="#f9e1d2"/>
<rect x="74.76" y="496.77" width="6.89" height="1.56" fill="#fbe9dd"/>
<rect x="81.60" y="496.77" width="6.89" height="1.56" fill="#ea9d73"/>
<rect x="88.44" y="496.77" width="6.89" height="1.56" fill="#f9e1d2"/>
<rect x="95.28" y="496.77" width="6.89" height="1.56" fill="#e8976e"/>
<rect x="102.12" y="496.77" width="6.89" height="1.56" fill="#f1bc9c"/>
<rect x="108.96" y="496.77" width="6.89" height="1.56" fill="#efb592"/>
<rect x="115.80" y="496.77" width="6.89" height="1.56" fill="#df786f"/>
<rect x="122.64" y="496.77" width="6.89" height="1.56" fill="#d76573"/>
<rect x="129.48" y="496.77" width="6.89" height="1.56" fill="#c9537b"/>
<rect x="136.32" y="496.77" width="6.89" height="1.56" fill="#c14b80"/>
<rect x="143.16" y="496.77" width="6.89" height="1.56" fill="#9a3a98"/>
<rect x="150.00" y="496.77" width="6.89" height="1.56" fill="#93379b"/>
<rect x="156.84" y="496.77" width="6.89" height="1.56" fill="#fdf5ee"/>
<rect x="163.68" y="496.77" width="6.89" height="1.56" fill="#efb491"/>
<rect x="170.52" y="496.77" width="6.89" height="1.56" fill="#eead89"/>
<rect x="47.40" y="498.27" width="6.89" height="1.56" fill="#fae4d5"/>
<rect x="54.24" y="498.27" width="6.89" height="1.56" fill="#f9dfce"/>
<rect x="61.08" y="498.27" width="6.89" height="1.56" fill="#f9dfcf"/>
<rect x="67.92" y="498.27" width="6.89" height="1.56" fill="#f4c8ab"/>
<rect x="74.76" y="498.27" width="6.89" height="1.56" fill="#f5ccb2"/>
<rect x="81.60" y="498.27" width="6.89" height="1.56" fill="#eba27a"/>
<rect x="88.44" y="498.27" width="6.89" height="1.56" fill="#f7d5c0"/>
<rect x="95.28" y="498.27" width="6.89" height="1.56" fill="#db6a71"/>
<rect x="102.12" y="498.27" width="6.89" height="1.56" fill="#eca881"/>
<rect x="108.96" y="498.27" width="6.89" height="1.56" fill="#edaa84"/>
<rect x="115.80" y="498.27" width="6.89" height="1.56" fill="#d15e76"/>
<rect x="122.64" y="498.27" width="6.89" height="1.56" fill="#ae438d"/>
<rect x="129.48" y="498.27" width="6.89" height="1.56" fill="#a13e94"/>
<rect x="136.32" y="498.27" width="6.89" height="1.56" fill="#973999"/>
<rect x="143.16" y="498.27" width="6.89" height="1.56" fill="#802da1"/>
<rect x="150.00" y="498.27" width="6.89" height="1.56" fill="#8932a0"/>
<rect x="156.84" y="498.27" width="6.89" height="1.56" fill="#fdf3eb"/>
<rect x="163.68" y="498.27" width="6.89" height="1.56" fill="#eca881"/>
<rect x="170.52" y="498.27" width="6.89" height="1.56" fill="#e99b70"/>
<rect x="47.40" y="499.78" width="6.89" height="1.56" fill="#fdf5ee"/>
<rect x="54.24" y="499.78" width="6.89" height="1.56" fill="#fbe9dc"/>
<rect x="61.08" y="499.78" width="6.89" height="1.56" fill="#fceee4"/>
<rect x="67.92" y="499.78" width="6.89" height="1.56" fill="#f5ceb5"/>
<rect x="74.76" y="499.78" width="6.89" height="1.56" fill="#f8ddcb"/>
<rect x="81.60" y="499.78" width="6.89" height="1.56" fill="#f2be9e"/>
<rect x="88.44" y="499.78" width="6.89" height="1.56" fill="#f8dac7"/>
<rect x="95.28" y="499.78" width="6.89" height="1.56" fill="#e4886f"/>
<rect x="102.12" y="499.78" width="6.89" height="1.56" fill="#f6d0b8"/>
<rect x="108.96" y="499.78" width="6.89" height="1.56" fill="#eba27a"/>
<rect x="115.80" y="499.78" width="6.89" height="1.56" fill="#e8966e"/>
<rect x="122.64" y="499.78" width="6.89" height="1.56" fill="#cc5679"/>
<rect x="129.48" y="499.78" width="6.89" height="1.56" fill="#ae438c"/>
<rect x="136.32" y="499.78" width="6.89" height="1.56" fill="#a53f92"/>
<rect x="143.16" y="499.78" width="6.89" height="1.56" fill="#a43f93"/>
<rect x="150.00" y="499.78" width="6.89" height="1.56" fill="#8832a0"/>
<rect x="156.84" y="499.78" width="6.89" height="1.56" fill="#fbebe0"/>
<rect x="163.68" y="499.78" width="6.89" height="1.56" fill="#eca67f"/>
<rect x="170.52" y="499.78" width="6.89" height="1.56" fill="#eda983"/>
<rect x="47.40" y="501.29" width="6.89" height="1.56" fill="#fdf5ee"/>
<rect x="54.24" y="501.29" width="6.89" height="1.56" fill="#fae6d9"/>
<rect x="61.08" y="501.29" width="6.89" height="1.56" fill="#fbece1"/>
<rect x="67.92" y="501.29" width="6.89" height="1.56" fill="#f8ddcb"/>
<rect x="74.76" y="501.29" width="6.89" height="1.56" fill="#fae6d9"/>
<rect x="81.60" y="501.29" width="6.89" height="1.56" fill="#e4876f"/>
<rect x="88.44" y="501.29" width="6.89" height="1.56" fill="#f3c6a9"/>
<rect x="95.28" y="501.29" width="6.89" height="1.56" fill="#df7770"/>
<rect x="102.12" y="501.29" width="6.89" height="1.56" fill="#f3c5a7"/>
<rect x="108.96" y="501.29" width="6.89" height="1.56" fill="#f0b997"/>
<rect x="115.80" y="501.29" width="6.89" height="1.56" fill="#e2816f"/>
<rect x="122.64" y="501.29" width="6.89" height="1.56" fill="#d25e76"/>
<rect x="129.48" y="501.29" width="6.89" height="1.56" fill="#ba4885"/>
<rect x="136.32" y="501.29" width="6.89" height="1.56" fill="#a94190"/>
<rect x="143.16" y="501.29" width="6.89" height="1.56" fill="#94379b"/>
<rect x="150.00" y="501.29" width="6.89" height="1.56" fill="#93379b"/>
<rect x="156.84" y="501.29" width="6.89" height="1.56" fill="#fdf3ec"/>
<rect x="163.68" y="501.29" width="6.89" height="1.56" fill="#ea9e75"/>
<rect x="170.52" y="501.29" width="6.89" height="1.56" fill="#f3c3a4"/>
<rect x="47.40" y="502.79" width="6.89" height="1.56" fill="#fae4d6"/>
<rect x="54.24" y="502.79" width="6.89" height="1.56" fill="#f5ccb2"/>
<rect x="61.08" y="502.79" width="6.89" height="1.56" fill="#f8dac7"/>
<rect x="67.92" y="502.79" width="6.89" height="1.56" fill="#f7d8c4"/>
<rect x="74.76" y="502.79" width="6.89" height="1.56" fill="#f3c6a9"/>
<rect x="81.60" y="502.79" width="6.89" height="1.56" fill="#e7936e"/>
<rect x="88.44" y="502.79" width="6.89" height="1.56" fill="#f4c7aa"/>
<rect x="95.28" y="502.79" width="6.89" height="1.56" fill="#dd6f70"/>
<rect x="102.12" y="502.79" width="6.89" height="1.56" fill="#e8946e"/>
<rect x="108.96" y="502.79" width="6.89" height="1.56" fill="#eba077"/>
<rect x="115.80" y="502.79" width="6.89" height="1.56" fill="#d76673"/>
<rect x="122.64" y="502.79" width="6.89" height="1.56" fill="#9b3b97"/>
<rect x="129.48" y="502.79" width="6.89" height="1.56" fill="#ac428d"/>
<rect x="136.32" y="502.79" width="6.89" height="1.56" fill="#96389a"/>
<rect x="143.16" y="502.79" width="6.89" height="1.56" fill="#89339f"/>
<rect x="150.00" y="502.79" width="6.89" height="1.56" fill="#7c2ba0"/>
<rect x="156.84" y="502.79" width="6.89" height="1.56" fill="#fae7da"/>
<rect x="163.68" y="502.79" width="6.89" height="1.56" fill="#e8956e"/>
<rect x="170.52" y="502.79" width="6.89" height="1.56" fill="#eeaf8a"/>
<rect x="47.40" y="508.30" width="6.89" height="1.60" fill="#fbece2"/>
<rect x="54.24" y="508.30" width="6.89" height="1.60" fill="#fdf4ed"/>
<rect x="61.08" y="508.30" width="6.89" height="1.60" fill="#fbeadf"/>
<rect x="67.92" y="508.30" width="6.89" height="1.60" fill="#f3c2a4"/>
<rect x="74.76" y="508.30" width="6.89" height="1.60" fill="#f2bf9f"/>
<rect x="81.60" y="508.30" width="6.89" height="1.60" fill="#e2806f"/>
<rect x="88.44" y="508.30" width="6.89" height="1.60" fill="#f9e0d1"/>
<rect x="95.28" y="508.30" width="6.89" height="1.60" fill="#f9e0d0"/>
<rect x="102.12" y="508.30" width="6.89" height="1.60" fill="#fae7da"/>
<rect x="108.96" y="508.30" width="6.89" height="1.60" fill="#d25f76"/>
<rect x="115.80" y="508.30" width="6.89" height="1.60" fill="#fbe9dc"/>
<rect x="122.64" y="508.30" width="6.89" height="1.60" fill="#d15d76"/>
<rect x="129.48" y="508.30" width="6.89" height="1.60" fill="#fcf1e8"/>
<rect x="136.32" y="508.30" width="6.89" height="1.60" fill="#e68e6e"/>
<rect x="143.16" y="508.30" width="6.89" height="1.60" fill="#c7517c"/>
<rect x="150.00" y="508.30" width="6.89" height="1.60" fill="#ce5978"/>
<rect x="156.84" y="508.30" width="6.89" height="1.60" fill="#fcefe5"/>
<rect x="163.68" y="508.30" width="6.89" height="1.60" fill="#fceee3"/>
<rect x="170.52" y="508.30" width="6.89" height="1.60" fill="#fae4d6"/>
<rect x="47.40" y="509.85" width="6.89" height="1.60" fill="#fcf2ea"/>
<rect x="54.24" y="509.85" width="6.89" height="1.60" fill="#fcf2e9"/>
<rect x="61.08" y="509.85" width="6.89" height="1.60" fill="#f8dac8"/>
<rect x="67.92" y="509.85" width="6.89" height="1.60" fill="#f6d1b9"/>
<rect x="74.76" y="509.85" width="6.89" height="1.60" fill="#f2be9e"/>
<rect x="81.60" y="509.85" width="6.89" height="1.60" fill="#de7170"/>
<rect x="88.44" y="509.85" width="6.89" height="1.60" fill="#fae7da"/>
<rect x="95.28" y="509.85" width="6.89" height="1.60" fill="#f4caaf"/>
<rect x="102.12" y="509.85" width="6.89" height="1.60" fill="#fcefe6"/>
<rect x="108.96" y="509.85" width="6.89" height="1.60" fill="#ca547a"/>
<rect x="115.80" y="509.85" width="6.89" height="1.60" fill="#fdf5ee"/>
<rect x="122.64" y="509.85" width="6.89" height="1.60" fill="#dd6e70"/>
<rect x="129.48" y="509.85" width="6.89" height="1.60" fill="#fae3d4"/>
<rect x="136.32" y="509.85" width="6.89" height="1.60" fill="#e8956e"/>
<rect x="143.16" y="509.85" width="6.89" height="1.60" fill="#b54687"/>
<rect x="150.00" y="509.85" width="6.89" height="1.60" fill="#c44c7e"/>
<rect x="156.84" y="509.85" width="6.89" height="1.60" fill="#fdf5ee"/>
<rect x="163.68" y="509.85" width="6.89" height="1.60" fill="#fae3d5"/>
<rect x="170.52" y="509.85" width="6.89" height="1.60" fill="#f9e0cf"/>
<rect x="47.40" y="511.39" width="6.89" height="1.60" fill="#fcefe5"/>
<rect x="54.24" y="511.39" width="6.89" height="1.60" fill="#fcf0e7"/>
<rect x="61.08" y="511.39" width="6.89" height="1.60" fill="#fae4d6"/>
<rect x="67.92" y="511.39" width="6.89" height="1.60" fill="#f2be9e"/>
<rect x="74.76" y="511.39" width="6.89" height="1.60" fill="#eeae8a"/>
<rect x="81.60" y="511.39" width="6.89" height="1.60" fill="#e4896f"/>
<rect x="88.44" y="511.39" width="6.89" height="1.60" fill="#f6d1ba"/>
<rect x="95.28" y="511.39" width="6.89" height="1.60" fill="#f8dbc9"/>
<rect x="102.12" y="511.39" width="6.89" height="1.60" fill="#fcf0e7"/>
<rect x="108.96" y="511.39" width="6.89" height="1.60" fill="#df7570"/>
<rect x="115.80" y="511.39" width="6.89" height="1.60" fill="#fdf5ee"/>
<rect x="122.64" y="511.39" width="6.89" height="1.60" fill="#e58b6f"/>
<rect x="129.48" y="511.39" width="6.89" height="1.60" fill="#fae8db"/>
<rect x="136.32" y="511.39" width="6.89" height="1.60" fill="#ea9c71"/>
<rect x="143.16" y="511.39" width="6.89" height="1.60" fill="#b2448a"/>
<rect x="150.00" y="511.39" width="6.89" height="1.60" fill="#cc5779"/>
<rect x="156.84" y="511.39" width="6.89" height="1.60" fill="#fcf2ea"/>
<rect x="163.68" y="511.39" width="6.89" height="1.60" fill="#fae5d7"/>
<rect x="170.52" y="511.39" width="6.89" height="1.60" fill="#f8d9c6"/>
<rect x="47.40" y="512.94" width="6.89" height="1.60" fill="#fdf5ee"/>
<rect x="54.24" y="512.94" width="6.89" height="1.60" fill="#fdf4ec"/>
<rect x="61.08" y="512.94" width="6.89" height="1.60" fill="#fae8db"/>
<rect x="67.92" y="512.94" width="6.89" height="1.60" fill="#f7d5c0"/>
<rect x="74.76" y="512.94" width="6.89" height="1.60" fill="#efb390"/>
<rect x="81.60" y="512.94" width="6.89" height="1.60" fill="#dc6d70"/>
<rect x="88.44" y="512.94" width="6.89" height="1.60" fill="#fbede2"/>
<rect x="95.28" y="512.94" width="6.89" height="1.60" fill="#f8decc"/>
<rect x="102.12" y="512.94" width="6.89" height="1.60" fill="#fbe9dd"/>
<rect x="108.96" y="512.94" width="6.89" height="1.60" fill="#d46274"/>
<rect x="115.80" y="512.94" width="6.89" height="1.60" fill="#fdf5ee"/>
<rect x="122.64" y="512.94" width="6.89" height="1.60" fill="#e68e6e"/>
<rect x="129.48" y="512.94" width="6.89" height="1.60" fill="#fbede3"/>
<rect x="136.32" y="512.94" width="6.89" height="1.60" fill="#eca67f"/>
<rect x="143.16" y="512.94" width="6.89" height="1.60" fill="#d05c77"/>
<rect x="150.00" y="512.94" width="6.89" height="1.60" fill="#c8527c"/>
<rect x="156.84" y="512.94" width="6.89" height="1.60" fill="#fdf5ee"/>
<rect x="163.68" y="512.94" width="6.89" height="1.60" fill="#fcede3"/>
<rect x="170.52" y="512.94" width="6.89" height="1.60" fill="#fbece2"/>
<rect x="47.40" y="514.49" width="6.89" height="1.60" fill="#fae4d6"/>
<rect x="54.24" y="514.49" width="6.89" height="1.60" fill="#fbeadf"/>
<rect x="61.08" y="514.49" width="6.89" height="1.60" fill="#fae3d4"/>
<rect x="67.92" y="514.49" width="6.89" height="1.60" fill="#f4caaf"/>
<rect x="74.76" y="514.49" width="6.89" height="1.60" fill="#ea9e74"/>
<rect x="81.60" y="514.49" width="6.89" height="1.60" fill="#d66474"/>
<rect x="88.44" y="514.49" width="6.89" height="1.60" fill="#f4c8ac"/>
<rect x="95.28" y="514.49" width="6.89" height="1.60" fill="#f5cdb3"/>
<rect x="102.12" y="514.49" width="6.89" height="1.60" fill="#fae4d5"/>
<rect x="108.96" y="514.49" width="6.89" height="1.60" fill="#c8527b"/>
<rect x="115.80" y="514.49" width="6.89" height="1.60" fill="#fae4d6"/>
<rect x="122.64" y="514.49" width="6.89" height="1.60" fill="#d36075"/>
<rect x="129.48" y="514.49" width="6.89" height="1.60" fill="#fae4d6"/>
<rect x="136.32" y="514.49" width="6.89" height="1.60" fill="#e2816f"/>
<rect x="143.16" y="514.49" width="6.89" height="1.60" fill="#bb4884"/>
<rect x="150.00" y="514.49" width="6.89" height="1.60" fill="#ce5a78"/>
<rect x="156.84" y="514.49" width="6.89" height="1.60" fill="#fdf5ee"/>
<rect x="163.68" y="514.49" width="6.89" height="1.60" fill="#f5ceb5"/>
<rect x="170.52" y="514.49" width="6.89" height="1.60" fill="#f9e3d4"/>
<rect x="47.40" y="516.03" width="6.89" height="1.60" fill="#fdf5ee"/>
<rect x="54.24" y="516.03" width="6.89" height="1.60" fill="#f8dcca"/>
<rect x="61.08" y="516.03" width="6.89" height="1.60" fill="#f7d7c3"/>
<rect x="67.92" y="516.03" width="6.89" height="1.60" fill="#f5ccb2"/>
<rect x="74.76" y="516.03" width="6.89" height="1.60" fill="#eca780"/>
<rect x="81.60" y="516.03" width="6.89" height="1.60" fill="#e17c6f"/>
<rect x="88.44" y="516.03" width="6.89" height="1.60" fill="#fbeade"/>
<rect x="95.28" y="516.03" width="6.89" height="1.60" fill="#f4caaf"/>
<rect x="102.12" y="516.03" width="6.89" height="1.60" fill="#fcf1e8"/>
<rect x="108.96" y="516.03" width="6.89" height="1.60" fill="#e07a6f"/>
<rect x="115.80" y="516.03" width="6.89" height="1.60" fill="#fbebdf"/>
<rect x="122.64" y="516.03" width="6.89" height="1.60" fill="#e7916e"/>
<rect x="129.48" y="516.03" width="6.89" height="1.60" fill="#f9dfce"/>
<rect x="136.32" y="516.03" width="6.89" height="1.60" fill="#e4886f"/>
<rect x="143.16" y="516.03" width="6.89" height="1.60" fill="#cd5879"/>
<rect x="150.00" y="516.03" width="6.89" height="1.60" fill="#d66474"/>
<rect x="156.84" y="516.03" width="6.89" height="1.60" fill="#fbece1"/>
<rect x="163.68" y="516.03" width="6.89" height="1.60" fill="#fae6d9"/>
<rect x="170.52" y="516.03" width="6.89" height="1.60" fill="#f6d4be"/>
<rect x="47.40" y="517.58" width="6.89" height="1.60" fill="#fbe8db"/>
<rect x="54.24" y="517.58" width="6.89" height="1.60" fill="#f6d4be"/>
<rect x="61.08" y="517.58" width="6.89" height="1.60" fill="#f8ddcc"/>
<rect x="67.92" y="517.58" width="6.89" height="1.60" fill="#f2c0a1"/>
<rect x="74.76" y="517.58" width="6.89" height="1.60" fill="#e4886f"/>
<rect x="81.60" y="517.58" width="6.89" height="1.60" fill="#e2826f"/>
<rect x="88.44" y="517.58" width="6.89" height="1.60" fill="#f5cbb1"/>
<rect x="95.28" y="517.58" width="6.89" height="1.60" fill="#f5ccb2"/>
<rect x="102.12" y="517.58" width="6.89" height="1.60" fill="#f9e2d3"/>
<rect x="108.96" y="517.58" width="6.89" height="1.60" fill="#cc5679"/>
<rect x="115.80" y="517.58" width="6.89" height="1.60" fill="#fdf4ec"/>
<rect x="122.64" y="517.58" width="6.89" height="1.60" fill="#e8976e"/>
<rect x="129.48" y="517.58" width="6.89" height="1.60" fill="#f8ddcc"/>
<rect x="136.32" y="517.58" width="6.89" height="1.60" fill="#e68d6f"/>
<rect x="143.16" y="517.58" width="6.89" height="1.60" fill="#c44c7e"/>
<rect x="150.00" y="517.58" width="6.89" height="1.60" fill="#da6971"/>
<rect x="156.84" y="517.58" width="6.89" height="1.60" fill="#fae8db"/>
<rect x="163.68" y="517.58" width="6.89" height="1.60" fill="#f7d7c2"/>
<rect x="170.52" y="517.58" width="6.89" height="1.60" fill="#f8d9c6"/>
<rect x="47.40" y="519.13" width="6.89" height="1.60" fill="#fbede2"/>
<rect x="54.24" y="519.13" width="6.89" height="1.60" fill="#fcf0e7"/>
<rect x="61.08" y="519.13" width="6.89" height="1.60" fill="#f8dac7"/>
<rect x="67.92" y="519.13" width="6.89" height="1.60" fill="#efb492"/>
<rect x="74.76" y="519.13" width="6.89" height="1.60" fill="#f3c3a5"/>
<rect x="81.60" y="519.13" width="6.89" height="1.60" fill="#e4896f"/>
<rect x="88.44" y="519.13" width="6.89" height="1.60" fill="#f8dbc8"/>
<rect x="95.28" y="519.13" width="6.89" height="1.60" fill="#f9e1d1"/>
<rect x="102.12" y="519.13" width="6.89" height="1.60" fill="#fae6d9"/>
<rect x="108.96" y="519.13" width="6.89" height="1.60" fill="#e17c6f"/>
<rect x="115.80" y="519.13" width="6.89" height="1.60" fill="#fcf2e9"/>
<rect x="122.64" y="519.13" width="6.89" height="1.60" fill="#e2826f"/>
<rect x="129.48" y="519.13" width="6.89" height="1.60" fill="#fae6d9"/>
<rect x="136.32" y="519.13" width="6.89" height="1.60" fill="#f3c2a3"/>
<rect x="143.16" y="519.13" width="6.89" height="1.60" fill="#d96971"/>
<rect x="150.00" y="519.13" width="6.89" height="1.60" fill="#dc6d70"/>
<rect x="156.84" y="519.13" width="6.89" height="1.60" fill="#fdf5ee"/>
<rect x="163.68" y="519.13" width="6.89" height="1.60" fill="#fcf1e8"/>
<rect x="170.52" y="519.13" width="6.89" height="1.60" fill="#fcede3"/>
<rect x="47.40" y="520.67" width="6.89" height="1.60" fill="#fceee4"/>
<rect x="54.24" y="520.67" width="6.89" height="1.60" fill="#f6d0b8"/>
<rect x="61.08" y="520.67" width="6.89" height="1.60" fill="#f8dac7"/>
<rect x="67.92" y="520.67" width="6.89" height="1.60" fill="#f2be9e"/>
<rect x="74.76" y="520.67" width="6.89" height="1.60" fill="#eca881"/>
<rect x="81.60" y="520.67" width="6.89" height="1.60" fill="#d46175"/>
<rect x="88.44" y="520.67" width="6.89" height="1.60" fill="#f6d1ba"/>
<rect x="95.28" y="520.67" width="6.89" height="1.60" fill="#f7d6c0"/>
<rect x="102.12" y="520.67" width="6.89" height="1.60" fill="#fae6d9"/>
<rect x="108.96" y="520.67" width="6.89" height="1.60" fill="#d86772"/>
<rect x="115.80" y="520.67" width="6.89" height="1.60" fill="#fbeade"/>
<rect x="122.64" y="520.67" width="6.89" height="1.60" fill="#e99a6f"/>
<rect x="129.48" y="520.67" width="6.89" height="1.60" fill="#f6d2bc"/>
<rect x="136.32" y="520.67" width="6.89" height="1.60" fill="#e7916e"/>
<rect x="143.16" y="520.67" width="6.89" height="1.60" fill="#de7470"/>
<rect x="150.00" y="520.67" width="6.89" height="1.60" fill="#dc6c70"/>
<rect x="156.84" y="520.67" width="6.89" height="1.60" fill="#fcf2e9"/>
<rect x="163.68" y="520.67" width="6.89" height="1.60" fill="#f8d9c6"/>
<rect x="170.52" y="520.67" width="6.89" height="1.60" fill="#f9dfce"/>
<rect x="47.40" y="522.22" width="6.89" height="1.60" fill="#fdf3eb"/>
<rect x="54.24" y="522.22" width="6.89" height="1.60" fill="#fceee3"/>
<rect x="61.08" y="522.22" width="6.89" height="1.60" fill="#f7d8c4"/>
<rect x="67.92" y="522.22" width="6.89" height="1.60" fill="#f1bb9a"/>
<rect x="74.76" y="522.22" width="6.89" height="1.60" fill="#ea9f76"/>
<rect x="81.60" y="522.22" width="6.89" height="1.60" fill="#e8946e"/>
<rect x="88.44" y="522.22" width="6.89" height="1.60" fill="#fae3d4"/>
<rect x="95.28" y="522.22" width="6.89" height="1.60" fill="#f6d0b8"/>
<rect x="102.12" y="522.22" width="6.89" height="1.60" fill="#fbe9dd"/>
<rect x="108.96" y="522.22" width="6.89" height="1.60" fill="#ea9c72"/>
<rect x="115.80" y="522.22" width="6.89" height="1.60" fill="#fbede3"/>
<rect x="122.64" y="522.22" width="6.89" height="1.60" fill="#eca47d"/>
<rect x="129.48" y="522.22" width="6.89" height="1.60" fill="#f9e2d2"/>
<rect x="136.32" y="522.22" width="6.89" height="1.60" fill="#f3c6a9"/>
<rect x="143.16" y="522.22" width="6.89" height="1.60" fill="#e9996e"/>
<rect x="150.00" y="522.22" width="6.89" height="1.60" fill="#e3856f"/>
<rect x="156.84" y="522.22" width="6.89" height="1.60" fill="#fdf5ee"/>
<rect x="163.68" y="522.22" width="6.89" height="1.60" fill="#fbece2"/>
<rect x="170.52" y="522.22" width="6.89" height="1.60" fill="#f8dac8"/>
<rect x="47.40" y="523.77" width="6.89" height="1.60" fill="#fae7da"/>
<rect x="54.24" y="523.77" width="6.89" height="1.60" fill="#f9e1d1"/>
<rect x="61.08" y="523.77" width="6.89" height="1.60" fill="#f1bc9b"/>
<rect x="67.92" y="523.77" width="6.89" height="1.60" fill="#e99a70"/>
<rect x="74.76" y="523.77" width="6.89" height="1.60" fill="#e8976e"/>
<rect x="81.60" y="523.77" width="6.89" height="1.60" fill="#d25e76"/>
<rect x="88.44" y="523.77" width="6.89" height="1.60" fill="#f6d2ba"/>
<rect x="95.28" y="523.77" width="6.89" height="1.60" fill="#f7d5c0"/>
<rect x="102.12" y="523.77" width="6.89" height="1.60" fill="#fae7db"/>
<rect x="108.96" y="523.77" width="6.89" height="1.60" fill="#e8956e"/>
<rect x="115.80" y="523.77" width="6.89" height="1.60" fill="#f9dfcf"/>
<rect x="122.64" y="523.77" width="6.89" height="1.60" fill="#e7936e"/>
<rect x="129.48" y="523.77" width="6.89" height="1.60" fill="#f9e0cf"/>
<rect x="136.32" y="523.77" width="6.89" height="1.60" fill="#eeaf8b"/>
<rect x="143.16" y="523.77" width="6.89" height="1.60" fill="#d76573"/>
<rect x="150.00" y="523.77" width="6.89" height="1.60" fill="#e0796f"/>
<rect x="156.84" y="523.77" width="6.89" height="1.60" fill="#fbece1"/>
<rect x="163.68" y="523.77" width="6.89" height="1.60" fill="#f8dbc9"/>
<rect x="170.52" y="523.77" width="6.89" height="1.60" fill="#f8dbc9"/>
<rect x="47.40" y="525.31" width="6.89" height="1.60" fill="#fdf4ec"/>
<rect x="54.24" y="525.31" width="6.89" height="1.60" fill="#f8dbc8"/>
<rect x="61.08" y="525.31" width="6.89" height="1.60" fill="#f4c9ae"/>
<rect x="67.92" y="525.31" width="6.89" height="1.60" fill="#edab86"/>
<rect x="74.76" y="525.31" width="6.89" height="1.60" fill="#e7936e"/>
<rect x="81.60" y="525.31" width="6.89" height="1.60" fill="#dd6e70"/>
<rect x="88.44" y="525.31" width="6.89" height="1.60" fill="#fae4d6"/>
<rect x="95.28" y="525.31" width="6.89" height="1.60" fill="#f8d9c6"/>
<rect x="102.12" y="525.31" width="6.89" height="1.60" fill="#fbe8dc"/>
<rect x="108.96" y="525.31" width="6.89" height="1.60" fill="#e58b6f"/>
<rect x="115.80" y="525.31" width="6.89" height="1.60" fill="#fdf3eb"/>
<rect x="122.64" y="525.31" width="6.89" height="1.60" fill="#eda983"/>
<rect x="129.48" y="525.31" width="6.89" height="1.60" fill="#fae5d7"/>
<rect x="136.32" y="525.31" width="6.89" height="1.60" fill="#edab85"/>
<rect x="143.16" y="525.31" width="6.89" height="1.60" fill="#e8946e"/>
<rect x="150.00" y="525.31" width="6.89" height="1.60" fill="#eead87"/>
<rect x="156.84" y="525.31" width="6.89" height="1.60" fill="#fdf5ee"/>
<rect x="163.68" y="525.31" width="6.89" height="1.60" fill="#fbebe0"/>
<rect x="170.52" y="525.31" width="6.89" height="1.60" fill="#fcf0e7"/>
<rect x="47.40" y="526.86" width="6.89" height="1.60" fill="#fceee4"/>
<rect x="54.24" y="526.86" width="6.89" height="1.60" fill="#f7d8c4"/>
<rect x="61.08" y="526.86" width="6.89" height="1.60" fill="#f6d3bc"/>
<rect x="67.92" y="526.86" width="6.89" height="1.60" fill="#edac87"/>
<rect x="74.76" y="526.86" width="6.89" height="1.60" fill="#efb18d"/>
<rect x="81.60" y="526.86" width="6.89" height="1.60" fill="#e4886f"/>
<rect x="88.44" y="526.86" width="6.89" height="1.60" fill="#f8ddcb"/>
<rect x="95.28" y="526.86" width="6.89" height="1.60" fill="#f7d8c3"/>
<rect x="102.12" y="526.86" width="6.89" height="1.60" fill="#fbe8db"/>
<rect x="108.96" y="526.86" width="6.89" height="1.60" fill="#efb18d"/>
<rect x="115.80" y="526.86" width="6.89" height="1.60" fill="#fcf2e9"/>
<rect x="122.64" y="526.86" width="6.89" height="1.60" fill="#f0b795"/>
<rect x="129.48" y="526.86" width="6.89" height="1.60" fill="#fcf1e8"/>
<rect x="136.32" y="526.86" width="6.89" height="1.60" fill="#f4caaf"/>
<rect x="143.16" y="526.86" width="6.89" height="1.60" fill="#edab86"/>
<rect x="150.00" y="526.86" width="6.89" height="1.60" fill="#eeaf8b"/>
<rect x="156.84" y="526.86" width="6.89" height="1.60" fill="#fdf5ee"/>
<rect x="163.68" y="526.86" width="6.89" height="1.60" fill="#f9dfcf"/>
<rect x="170.52" y="526.86" width="6.89" height="1.60" fill="#fae6d9"/>
<rect x="47.40" y="528.41" width="6.89" height="1.60" fill="#fae5d7"/>
<rect x="54.24" y="528.41" width="6.89" height="1.60" fill="#f5cfb7"/>
<rect x="61.08" y="528.41" width="6.89" height="1.60" fill="#f6d1ba"/>
<rect x="67.92" y="528.41" width="6.89" height="1.60" fill="#e9986e"/>
<rect x="74.76" y="528.41" width="6.89" height="1.60" fill="#df7770"/>
<rect x="81.60" y="528.41" width="6.89" height="1.60" fill="#df7570"/>
<rect x="88.44" y="528.41" width="6.89" height="1.60" fill="#fbece1"/>
<rect x="95.28" y="528.41" width="6.89" height="1.60" fill="#f6d0b8"/>
<rect x="102.12" y="528.41" width="6.89" height="1.60" fill="#f8dccb"/>
<rect x="108.96" y="528.41" width="6.89" height="1.60" fill="#eca57e"/>
<rect x="115.80" y="528.41" width="6.89" height="1.60" fill="#fdf3ec"/>
<rect x="122.64" y="528.41" width="6.89" height="1.60" fill="#efb38f"/>
<rect x="129.48" y="528.41" width="6.89" height="1.60" fill="#fbece2"/>
<rect x="136.32" y="528.41" width="6.89" height="1.60" fill="#edac87"/>
<rect x="143.16" y="528.41" width="6.89" height="1.60" fill="#ea9f76"/>
<rect x="150.00" y="528.41" width="6.89" height="1.60" fill="#e17c6f"/>
<rect x="156.84" y="528.41" width="6.89" height="1.60" fill="#fdf5ee"/>
<rect x="163.68" y="528.41" width="6.89" height="1.60" fill="#fbe9dd"/>
<rect x="170.52" y="528.41" width="6.89" height="1.60" fill="#f8dccb"/>
<rect x="47.40" y="529.95" width="6.89" height="1.60" fill="#fae3d5"/>
<rect x="54.24" y="529.95" width="6.89" height="1.60" fill="#f0b997"/>
<rect x="61.08" y="529.95" width="6.89" height="1.60" fill="#edab85"/>
<rect x="67.92" y="529.95" width="6.89" height="1.60" fill="#e17f6f"/>
<rect x="74.76" y="529.95" width="6.89" height="1.60" fill="#d15d76"/>
<rect x="81.60" y="529.95" width="6.89" height="1.60" fill="#c9537b"/>
<rect x="88.44" y="529.95" width="6.89" height="1.60" fill="#f6d2bb"/>
<rect x="95.28" y="529.95" width="6.89" height="1.60" fill="#f6d1b9"/>
<rect x="102.12" y="529.95" width="6.89" height="1.60" fill="#f8dcc9"/>
<rect x="108.96" y="529.95" width="6.89" height="1.60" fill="#e4866f"/>
<rect x="115.80" y="529.95" width="6.89" height="1.60" fill="#fbe8dc"/>
<rect x="122.64" y="529.95" width="6.89" height="1.60" fill="#e8946e"/>
<rect x="129.48" y="529.95" width="6.89" height="1.60" fill="#f7d9c5"/>
<rect x="136.32" y="529.95" width="6.89" height="1.60" fill="#e58c6f"/>
<rect x="143.16" y="529.95" width="6.89" height="1.60" fill="#e4876f"/>
<rect x="150.00" y="529.95" width="6.89" height="1.60" fill="#da6971"/>
<rect x="156.84" y="529.95" width="6.89" height="1.60" fill="#fcefe5"/>
<rect x="163.68" y="529.95" width="6.89" height="1.60" fill="#f5cdb4"/>
<rect x="170.52" y="529.95" width="6.89" height="1.60" fill="#f6d2ba"/>
<rect x="47.40" y="531.50" width="6.89" height="1.60" fill="#f9e1d2"/>
<rect x="54.24" y="531.50" width="6.89" height="1.60" fill="#f5cdb3"/>
<rect x="61.08" y="531.50" width="6.89" height="1.60" fill="#f6d3bd"/>
<rect x="67.92" y="531.50" width="6.89" height="1.60" fill="#e99a6f"/>
<rect x="74.76" y="531.50" width="6.89" height="1.60" fill="#eca57e"/>
<rect x="81.60" y="531.50" width="6.89" height="1.60" fill="#df7670"/>
<rect x="88.44" y="531.50" width="6.89" height="1.60" fill="#f7d8c4"/>
<rect x="95.28" y="531.50" width="6.89" height="1.60" fill="#f4cbb0"/>
<rect x="102.12" y="531.50" width="6.89" height="1.60" fill="#f9decd"/>
<rect x="108.96" y="531.50" width="6.89" height="1.60" fill="#efb38f"/>
<rect x="115.80" y="531.50" width="6.89" height="1.60" fill="#fbebe0"/>
<rect x="122.64" y="531.50" width="6.89" height="1.60" fill="#ea9b71"/>
<rect x="129.48" y="531.50" width="6.89" height="1.60" fill="#fcefe5"/>
<rect x="136.32" y="531.50" width="6.89" height="1.60" fill="#eead88"/>
<rect x="143.16" y="531.50" width="6.89" height="1.60" fill="#e99a6f"/>
<rect x="150.00" y="531.50" width="6.89" height="1.60" fill="#e68e6e"/>
<rect x="156.84" y="531.50" width="6.89" height="1.60" fill="#fdf5ee"/>
<rect x="163.68" y="531.50" width="6.89" height="1.60" fill="#f9dfcf"/>
<rect x="170.52" y="531.50" width="6.89" height="1.60" fill="#f8dbc9"/>
<rect x="47.40" y="533.05" width="6.89" height="1.60" fill="#f8decc"/>
<rect x="54.24" y="533.05" width="6.89" height="1.60" fill="#f8ddcc"/>
<rect x="61.08" y="533.05" width="6.89" height="1.60" fill="#f5cfb6"/>
<rect x="67.92" y="533.05" width="6.89" height="1.60" fill="#edaa84"/>
<rect x="74.76" y="533.05" width="6.89" height="1.60" fill="#da6a71"/>
<rect x="81.60" y="533.05" width="6.89" height="1.60" fill="#d96872"/>
<rect x="88.44" y="533.05" width="6.89" height="1.60" fill="#f7d5c0"/>
<rect x="95.28" y="533.05" width="6.89" height="1.60" fill="#f3c6a9"/>
<rect x="102.12" y="533.05" width="6.89" height="1.60" fill="#f8d9c6"/>
<rect x="108.96" y="533.05" width="6.89" height="1.60" fill="#eca780"/>
<rect x="115.80" y="533.05" width="6.89" height="1.60" fill="#fcf1e9"/>
<rect x="122.64" y="533.05" width="6.89" height="1.60" fill="#eda882"/>
<rect x="129.48" y="533.05" width="6.89" height="1.60" fill="#f8dac7"/>
<rect x="136.32" y="533.05" width="6.89" height="1.60" fill="#eead88"/>
<rect x="143.16" y="533.05" width="6.89" height="1.60" fill="#f0b796"/>
<rect x="150.00" y="533.05" width="6.89" height="1.60" fill="#f0b694"/>
<rect x="156.84" y="533.05" width="6.89" height="1.60" fill="#fdf5ee"/>
<rect x="163.68" y="533.05" width="6.89" height="1.60" fill="#fae4d6"/>
<rect x="170.52" y="533.05" width="6.89" height="1.60" fill="#f9e1d2"/>
<rect x="47.40" y="534.59" width="6.89" height="1.60" fill="#f9dfce"/>
<rect x="54.24" y="534.59" width="6.89" height="1.60" fill="#f5cfb6"/>
<rect x="61.08" y="534.59" width="6.89" height="1.60" fill="#f4c9ad"/>
<rect x="67.92" y="534.59" width="6.89" height="1.60" fill="#eca67f"/>
<rect x="74.76" y="534.59" width="6.89" height="1.60" fill="#de7270"/>
<rect x="81.60" y="534.59" width="6.89" height="1.60" fill="#d46175"/>
<rect x="88.44" y="534.59" width="6.89" height="1.60" fill="#fceee4"/>
<rect x="95.28" y="534.59" width="6.89" height="1.60" fill="#f8ddcb"/>
<rect x="102.12" y="534.59" width="6.89" height="1.60" fill="#f9dfcf"/>
<rect x="108.96" y="534.59" width="6.89" height="1.60" fill="#efb18e"/>
<rect x="115.80" y="534.59" width="6.89" height="1.60" fill="#fdf5ee"/>
<rect x="122.64" y="534.59" width="6.89" height="1.60" fill="#f1ba99"/>
<rect x="129.48" y="534.59" width="6.89" height="1.60" fill="#f9e0d0"/>
<rect x="136.32" y="534.59" width="6.89" height="1.60" fill="#f4cbb0"/>
<rect x="143.16" y="534.59" width="6.89" height="1.60" fill="#f0b897"/>
<rect x="150.00" y="534.59" width="6.89" height="1.60" fill="#ea9d74"/>
<rect x="156.84" y="534.59" width="6.89" height="1.60" fill="#fdf5ee"/>
<rect x="163.68" y="534.59" width="6.89" height="1.60" fill="#fae3d4"/>
<rect x="170.52" y="534.59" width="6.89" height="1.60" fill="#f6d3bc"/>
<rect x="47.40" y="536.14" width="6.89" height="1.60" fill="#f8dcca"/>
<rect x="54.24" y="536.14" width="6.89" height="1.60" fill="#f7d5c0"/>
<rect x="61.08" y="536.14" width="6.89" height="1.60" fill="#f0b694"/>
<rect x="67.92" y="536.14" width="6.89" height="1.60" fill="#d96872"/>
<rect x="74.76" y="536.14" width="6.89" height="1.60" fill="#d46175"/>
<rect x="81.60" y="536.14" width="6.89" height="1.60" fill="#d15e76"/>
<rect x="88.44" y="536.14" width="6.89" height="1.60" fill="#f4caaf"/>
<rect x="95.28" y="536.14" width="6.89" height="1.60" fill="#f1bb9a"/>
<rect x="102.12" y="536.14" width="6.89" height="1.60" fill="#f6d3bd"/>
<rect x="108.96" y="536.14" width="6.89" height="1.60" fill="#f0b795"/>
<rect x="115.80" y="536.14" width="6.89" height="1.60" fill="#fae3d4"/>
<rect x="122.64" y="536.14" width="6.89" height="1.60" fill="#eeb08b"/>
<rect x="129.48" y="536.14" width="6.89" height="1.60" fill="#f8ddcc"/>
<rect x="136.32" y="536.14" width="6.89" height="1.60" fill="#eeb08c"/>
<rect x="143.16" y="536.14" width="6.89" height="1.60" fill="#eba077"/>
<rect x="150.00" y="536.14" width="6.89" height="1.60" fill="#e4876f"/>
<rect x="156.84" y="536.14" width="6.89" height="1.60" fill="#fbece1"/>
<rect x="163.68" y="536.14" width="6.89" height="1.60" fill="#f8dcca"/>
<rect x="170.52" y="536.14" width="6.89" height="1.60" fill="#f8dccb"/>
<rect x="47.40" y="537.69" width="6.89" height="1.60" fill="#fae6d9"/>
<rect x="54.24" y="537.69" width="6.89" height="1.60" fill="#f4c8ac"/>
<rect x="61.08" y="537.69" width="6.89" height="1.60" fill="#efb28f"/>
<rect x="67.92" y="537.69" width="6.89" height="1.60" fill="#e4886f"/>
<rect x="74.76" y="537.69" width="6.89" height="1.60" fill="#e7916e"/>
<rect x="81.60" y="537.69" width="6.89" height="1.60" fill="#d46175"/>
<rect x="88.44" y="537.69" width="6.89" height="1.60" fill="#f9decd"/>
<rect x="95.28" y="537.69" width="6.89" height="1.60" fill="#fae3d5"/>
<rect x="102.12" y="537.69" width="6.89" height="1.60" fill="#fae7da"/>
<rect x="108.96" y="537.69" width="6.89" height="1.60" fill="#efb28e"/>
<rect x="115.80" y="537.69" width="6.89" height="1.60" fill="#fdf5ee"/>
<rect x="122.64" y="537.69" width="6.89" height="1.60" fill="#eca67e"/>
<rect x="129.48" y="537.69" width="6.89" height="1.60" fill="#fbe9dc"/>
<rect x="136.32" y="537.69" width="6.89" height="1.60" fill="#f5ceb5"/>
<rect x="143.16" y="537.69" width="6.89" height="1.60" fill="#eead87"/>
<rect x="150.00" y="537.69" width="6.89" height="1.60" fill="#ea9f76"/>
<rect x="156.84" y="537.69" width="6.89" height="1.60" fill="#fbede2"/>
<rect x="163.68" y="537.69" width="6.89" height="1.60" fill="#f9decd"/>
<rect x="170.52" y="537.69" width="6.89" height="1.60" fill="#fae3d5"/>
<rect x="47.40" y="539.23" width="6.89" height="1.60" fill="#fcefe6"/>
<rect x="54.24" y="539.23" width="6.89" height="1.60" fill="#f9dfcf"/>
<rect x="61.08" y="539.23" width="6.89" height="1.60" fill="#f0b998"/>
<rect x="67.92" y="539.23" width="6.89" height="1.60" fill="#eda882"/>
<rect x="74.76" y="539.23" width="6.89" height="1.60" fill="#dc6d70"/>
<rect x="81.60" y="539.23" width="6.89" height="1.60" fill="#e27f6f"/>
<rect x="88.44" y="539.23" width="6.89" height="1.60" fill="#fceee4"/>
<rect x="95.28" y="539.23" width="6.89" height="1.60" fill="#f9e1d1"/>
<rect x="102.12" y="539.23" width="6.89" height="1.60" fill="#f9dfcf"/>
<rect x="108.96" y="539.23" width="6.89" height="1.60" fill="#f5cbb1"/>
<rect x="115.80" y="539.23" width="6.89" height="1.60" fill="#fdf5ee"/>
<rect x="122.64" y="539.23" width="6.89" height="1.60" fill="#f2be9e"/>
<rect x="129.48" y="539.23" width="6.89" height="1.60" fill="#fcf0e7"/>
<rect x="136.32" y="539.23" width="6.89" height="1.60" fill="#f5ccb2"/>
<rect x="143.16" y="539.23" width="6.89" height="1.60" fill="#f5cdb4"/>
<rect x="150.00" y="539.23" width="6.89" height="1.60" fill="#eeaf8b"/>
<rect x="156.84" y="539.23" width="6.89" height="1.60" fill="#fdf5ee"/>
<rect x="163.68" y="539.23" width="6.89" height="1.60" fill="#fae4d6"/>
<rect x="170.52" y="539.23" width="6.89" height="1.60" fill="#f7d8c4"/>
<rect x="47.40" y="540.78" width="6.89" height="1.60" fill="#f5ccb2"/>
<rect x="54.24" y="540.78" width="6.89" height="1.60" fill="#f5ccb3"/>
<rect x="61.08" y="540.78" width="6.89" height="1.60" fill="#e99a6f"/>
<rect x="67.92" y="540.78" width="6.89" height="1.60" fill="#e4886f"/>
<rect x="74.76" y="540.78" width="6.89" height="1.60" fill="#e17d6f"/>
<rect x="81.60" y="540.78" width="6.89" height="1.60" fill="#bf4a81"/>
<rect x="88.44" y="540.78" width="6.89" height="1.60" fill="#f8ddcb"/>
<rect x="95.28" y="540.78" width="6.89" height="1.60" fill="#f9decd"/>
<rect x="102.12" y="540.78" width="6.89" height="1.60" fill="#f9e0cf"/>
<rect x="108.96" y="540.78" width="6.89" height="1.60" fill="#efb390"/>
<rect x="115.80" y="540.78" width="6.89" height="1.60" fill="#fcf2e9"/>
<rect x="122.64" y="540.78" width="6.89" height="1.60" fill="#f1bc9b"/>
<rect x="129.48" y="540.78" width="6.89" height="1.60" fill="#f9e0cf"/>
<rect x="136.32" y="540.78" width="6.89" height="1.60" fill="#f4cbb0"/>
<rect x="143.16" y="540.78" width="6.89" height="1.60" fill="#efb18d"/>
<rect x="150.00" y="540.78" width="6.89" height="1.60" fill="#f1ba99"/>
<rect x="156.84" y="540.78" width="6.89" height="1.60" fill="#fbede3"/>
<rect x="163.68" y="540.78" width="6.89" height="1.60" fill="#f8d9c6"/>
<rect x="170.52" y="540.78" width="6.89" height="1.60" fill="#f7d7c2"/>
<rect x="47.40" y="542.33" width="6.89" height="1.60" fill="#f7d7c3"/>
<rect x="54.24" y="542.33" width="6.89" height="1.60" fill="#efb18e"/>
<rect x="61.08" y="542.33" width="6.89" height="1.60" fill="#e68e6e"/>
<rect x="67.92" y="542.33" width="6.89" height="1.60" fill="#e17e6f"/>
<rect x="74.76" y="542.33" width="6.89" height="1.60" fill="#e17d6f"/>
<rect x="81.60" y="542.33" width="6.89" height="1.60" fill="#cb567a"/>
<rect x="88.44" y="542.33" width="6.89" height="1.60" fill="#f9e1d1"/>
<rect x="95.28" y="542.33" width="6.89" height="1.60" fill="#f3c5a7"/>
<rect x="102.12" y="542.33" width="6.89" height="1.60" fill="#fae3d4"/>
<rect x="108.96" y="542.33" width="6.89" height="1.60" fill="#f5ccb1"/>
<rect x="115.80" y="542.33" width="6.89" height="1.60" fill="#fceee4"/>
<rect x="122.64" y="542.33" width="6.89" height="1.60" fill="#eda882"/>
<rect x="129.48" y="542.33" width="6.89" height="1.60" fill="#fae4d6"/>
<rect x="136.32" y="542.33" width="6.89" height="1.60" fill="#edab86"/>
<rect x="143.16" y="542.33" width="6.89" height="1.60" fill="#f1be9e"/>
<rect x="150.00" y="542.33" width="6.89" height="1.60" fill="#f0b897"/>
<rect x="156.84" y="542.33" width="6.89" height="1.60" fill="#fae7da"/>
<rect x="163.68" y="542.33" width="6.89" height="1.60" fill="#f5ccb2"/>
<rect x="170.52" y="542.33" width="6.89" height="1.60" fill="#f9e2d3"/>
<rect x="47.40" y="543.87" width="6.89" height="1.60" fill="#fae3d4"/>
<rect x="54.24" y="543.87" width="6.89" height="1.60" fill="#f0b796"/>
<rect x="61.08" y="543.87" width="6.89" height="1.60" fill="#e99b70"/>
<rect x="67.92" y="543.87" width="6.89" height="1.60" fill="#e68e6e"/>
<rect x="74.76" y="543.87" width="6.89" height="1.60" fill="#df786f"/>
<rect x="81.60" y="543.87" width="6.89" height="1.60" fill="#bf4a81"/>
<rect x="88.44" y="543.87" width="6.89" height="1.60" fill="#f7d5c0"/>
<rect x="95.28" y="543.87" width="6.89" height="1.60" fill="#f5ceb5"/>
<rect x="102.12" y="543.87" width="6.89" height="1.60" fill="#fbede2"/>
<rect x="108.96" y="543.87" width="6.89" height="1.60" fill="#f5cfb7"/>
<rect x="115.80" y="543.87" width="6.89" height="1.60" fill="#fbe9dc"/>
<rect x="122.64" y="543.87" width="6.89" height="1.60" fill="#f5ceb4"/>
<rect x="129.48" y="543.87" width="6.89" height="1.60" fill="#f9dfcf"/>
<rect x="136.32" y="543.87" width="6.89" height="1.60" fill="#f7d6c0"/>
<rect x="143.16" y="543.87" width="6.89" height="1.60" fill="#f4c8ab"/>
<rect x="150.00" y="543.87" width="6.89" height="1.60" fill="#f4c7ab"/>
<rect x="156.84" y="543.87" width="6.89" height="1.60" fill="#fbe9dd"/>
<rect x="163.68" y="543.87" width="6.89" height="1.60" fill="#f9e0d0"/>
<rect x="170.52" y="543.87" width="6.89" height="1.60" fill="#f6d0b8"/>
<rect x="47.40" y="545.42" width="6.89" height="1.60" fill="#fbede2"/>
<rect x="54.24" y="545.42" width="6.89" height="1.60" fill="#f6d3bc"/>
<rect x="61.08" y="545.42" width="6.89" height="1.60" fill="#f2c1a3"/>
<rect x="67.92" y="545.42" width="6.89" height="1.60" fill="#de7570"/>
<rect x="74.76" y="545.42" width="6.89" height="1.60" fill="#dc6c70"/>
<rect x="81.60" y="545.42" width="6.89" height="1.60" fill="#cb557a"/>
<rect x="88.44" y="545.42" width="6.89" height="1.60" fill="#fcf0e7"/>
<rect x="95.28" y="545.42" width="6.89" height="1.60" fill="#f7d5bf"/>
<rect x="102.12" y="545.42" width="6.89" height="1.60" fill="#f9e0d0"/>
<rect x="108.96" y="545.42" width="6.89" height="1.60" fill="#f8d9c6"/>
<rect x="115.80" y="545.42" width="6.89" height="1.60" fill="#fbebdf"/>
<rect x="122.64" y="545.42" width="6.89" height="1.60" fill="#f7d4bf"/>
<rect x="129.48" y="545.42" width="6.89" height="1.60" fill="#fcede3"/>
<rect x="136.32" y="545.42" width="6.89" height="1.60" fill="#f5cdb3"/>
<rect x="143.16" y="545.42" width="6.89" height="1.60" fill="#f7d8c4"/>
<rect x="150.00" y="545.42" width="6.89" height="1.60" fill="#f8d9c6"/>
<rect x="156.84" y="545.42" width="6.89" height="1.60" fill="#fdf4ed"/>
<rect x="163.68" y="545.42" width="6.89" height="1.60" fill="#f9e0d0"/>
<rect x="170.52" y="545.42" width="6.89" height="1.60" fill="#fceee5"/>
<rect x="47.40" y="546.97" width="6.89" height="1.60" fill="#fae5d6"/>
<rect x="54.24" y="546.97" width="6.89" height="1.60" fill="#f9e1d2"/>
<rect x="61.08" y="546.97" width="6.89" height="1.60" fill="#f4c8ac"/>
<rect x="67.92" y="546.97" width="6.89" height="1.60" fill="#e17d6f"/>
<rect x="74.76" y="546.97" width="6.89" height="1.60" fill="#dc6c70"/>
<rect x="81.60" y="546.97" width="6.89" height="1.60" fill="#d76673"/>
<rect x="88.44" y="546.97" width="6.89" height="1.60" fill="#fae5d7"/>
<rect x="95.28" y="546.97" width="6.89" height="1.60" fill="#f9e0d0"/>
<rect x="102.12" y="546.97" width="6.89" height="1.60" fill="#fae4d6"/>
<rect x="108.96" y="546.97" width="6.89" height="1.60" fill="#fbe8db"/>
<rect x="115.80" y="546.97" width="6.89" height="1.60" fill="#fdf5ee"/>
<rect x="122.64" y="546.97" width="6.89" height="1.60" fill="#f8ddcb"/>
<rect x="129.48" y="546.97" width="6.89" height="1.60" fill="#fceee4"/>
<rect x="136.32" y="546.97" width="6.89" height="1.60" fill="#f9e0d0"/>
<rect x="143.16" y="546.97" width="6.89" height="1.60" fill="#f9e2d2"/>
<rect x="150.00" y="546.97" width="6.89" height="1.60" fill="#f7d6c0"/>
<rect x="156.84" y="546.97" width="6.89" height="1.60" fill="#fcf1e9"/>
<rect x="163.68" y="546.97" width="6.89" height="1.60" fill="#f9decd"/>
<rect x="170.52" y="546.97" width="6.89" height="1.60" fill="#fbeadf"/>
<rect x="47.40" y="548.51" width="6.89" height="1.60" fill="#f9dfcf"/>
<rect x="54.24" y="548.51" width="6.89" height="1.60" fill="#f4cbb0"/>
<rect x="61.08" y="548.51" width="6.89" height="1.60" fill="#e4886f"/>
<rect x="67.92" y="548.51" width="6.89" height="1.60" fill="#de7370"/>
<rect x="74.76" y="548.51" width="6.89" height="1.60" fill="#e17e6f"/>
<rect x="81.60" y="548.51" width="6.89" height="1.60" fill="#ce5978"/>
<rect x="88.44" y="548.51" width="6.89" height="1.60" fill="#f8dcca"/>
<rect x="95.28" y="548.51" width="6.89" height="1.60" fill="#f6d2bb"/>
<rect x="102.12" y="548.51" width="6.89" height="1.60" fill="#fbebe0"/>
<rect x="108.96" y="548.51" width="6.89" height="1.60" fill="#f6d3bd"/>
<rect x="115.80" y="548.51" width="6.89" height="1.60" fill="#fcefe5"/>
<rect x="122.64" y="548.51" width="6.89" height="1.60" fill="#f7d5bf"/>
<rect x="129.48" y="548.51" width="6.89" height="1.60" fill="#fae5d7"/>
<rect x="136.32" y="548.51" width="6.89" height="1.60" fill="#f2c1a2"/>
<rect x="143.16" y="548.51" width="6.89" height="1.60" fill="#f6d0b8"/>
<rect x="150.00" y="548.51" width="6.89" height="1.60" fill="#f4c9ad"/>
<rect x="156.84" y="548.51" width="6.89" height="1.60" fill="#fdf2ea"/>
<rect x="163.68" y="548.51" width="6.89" height="1.60" fill="#f6d1ba"/>
<rect x="170.52" y="548.51" width="6.89" height="1.60" fill="#fae8db"/>
<rect x="47.40" y="550.06" width="6.89" height="1.60" fill="#fae5d7"/>
<rect x="54.24" y="550.06" width="6.89" height="1.60" fill="#f6d2ba"/>
<rect x="61.08" y="550.06" width="6.89" height="1.60" fill="#e99b70"/>
<rect x="67.92" y="550.06" width="6.89" height="1.60" fill="#e6906e"/>
<rect x="74.76" y="550.06" width="6.89" height="1.60" fill="#d36075"/>
<rect x="81.60" y="550.06" width="6.89" height="1.60" fill="#d15e76"/>
<rect x="88.44" y="550.06" width="6.89" height="1.60" fill="#f9e1d1"/>
<rect x="95.28" y="550.06" width="6.89" height="1.60" fill="#fbeade"/>
<rect x="102.12" y="550.06" width="6.89" height="1.60" fill="#fcf1e8"/>
<rect x="108.96" y="550.06" width="6.89" height="1.60" fill="#fae6d8"/>
<rect x="115.80" y="550.06" width="6.89" height="1.60" fill="#fae5d7"/>
<rect x="122.64" y="550.06" width="6.89" height="1.60" fill="#f7d7c2"/>
<rect x="129.48" y="550.06" width="6.89" height="1.60" fill="#fceee5"/>
<rect x="136.32" y="550.06" width="6.89" height="1.60" fill="#f8dbc9"/>
<rect x="143.16" y="550.06" width="6.89" height="1.60" fill="#f9e1d1"/>
<rect x="150.00" y="550.06" width="6.89" height="1.60" fill="#fae3d4"/>
<rect x="156.84" y="550.06" width="6.89" height="1.60" fill="#fdf5ee"/>
<rect x="163.68" y="550.06" width="6.89" height="1.60" fill="#fae8db"/>
<rect x="170.52" y="550.06" width="6.89" height="1.60" fill="#fae7da"/>
<rect x="47.40" y="551.61" width="6.89" height="1.60" fill="#fae4d5"/>
<rect x="54.24" y="551.61" width="6.89" height="1.60" fill="#f3c4a6"/>
<rect x="61.08" y="551.61" width="6.89" height="1.60" fill="#e68f6e"/>
<rect x="67.92" y="551.61" width="6.89" height="1.60" fill="#e4886f"/>
<rect x="74.76" y="551.61" width="6.89" height="1.60" fill="#d76573"/>
<rect x="81.60" y="551.61" width="6.89" height="1.60" fill="#cb557a"/>
<rect x="88.44" y="551.61" width="6.89" height="1.60" fill="#fbece1"/>
<rect x="95.28" y="551.61" width="6.89" height="1.60" fill="#f9e1d1"/>
<rect x="102.12" y="551.61" width="6.89" height="1.60" fill="#fceee3"/>
<rect x="108.96" y="551.61" width="6.89" height="1.60" fill="#f7d7c3"/>
<rect x="115.80" y="551.61" width="6.89" height="1.60" fill="#fae3d5"/>
<rect x="122.64" y="551.61" width="6.89" height="1.60" fill="#f5ceb4"/>
<rect x="129.48" y="551.61" width="6.89" height="1.60" fill="#fbe9dd"/>
<rect x="136.32" y="551.61" width="6.89" height="1.60" fill="#f7d7c2"/>
<rect x="143.16" y="551.61" width="6.89" height="1.60" fill="#f8decc"/>
<rect x="150.00" y="551.61" width="6.89" height="1.60" fill="#fae3d5"/>
<rect x="156.84" y="551.61" width="6.89" height="1.60" fill="#fbe9dd"/>
<rect x="163.68" y="551.61" width="6.89" height="1.60" fill="#f7d5bf"/>
<rect x="170.52" y="551.61" width="6.89" height="1.60" fill="#f9e1d2"/>
<rect x="47.40" y="553.15" width="6.89" height="1.60" fill="#f7d6c1"/>
<rect x="54.24" y="553.15" width="6.89" height="1.60" fill="#f4cbb0"/>
<rect x="61.08" y="553.15" width="6.89" height="1.60" fill="#e99a6f"/>
<rect x="67.92" y="553.15" width="6.89" height="1.60" fill="#da6971"/>
<rect x="74.76" y="553.15" width="6.89" height="1.60" fill="#d15d77"/>
<rect x="81.60" y="553.15" width="6.89" height="1.60" fill="#cd5779"/>
<rect x="88.44" y="553.15" width="6.89" height="1.60" fill="#fdf3eb"/>
<rect x="95.28" y="553.15" width="6.89" height="1.60" fill="#f9e1d2"/>
<rect x="102.12" y="553.15" width="6.89" height="1.60" fill="#fae5d7"/>
<rect x="108.96" y="553.15" width="6.89" height="1.60" fill="#fbeade"/>
<rect x="115.80" y="553.15" width="6.89" height="1.60" fill="#fae7da"/>
<rect x="122.64" y="553.15" width="6.89" height="1.60" fill="#fae3d5"/>
<rect x="129.48" y="553.15" width="6.89" height="1.60" fill="#f9dfce"/>
<rect x="136.32" y="553.15" width="6.89" height="1.60" fill="#fae8db"/>
<rect x="143.16" y="553.15" width="6.89" height="1.60" fill="#fcefe5"/>
<rect x="150.00" y="553.15" width="6.89" height="1.60" fill="#fcf0e7"/>
<rect x="156.84" y="553.15" width="6.89" height="1.60" fill="#fdf5ee"/>
<rect x="163.68" y="553.15" width="6.89" height="1.60" fill="#fcede3"/>
<rect x="170.52" y="553.15" width="6.89" height="1.60" fill="#fcede3"/>
<rect x="47.4" y="480.2" width="130" height="24.1" fill="none" stroke="#222" stroke-width="1"/>
<rect x="47.4" y="508.3" width="130" height="46.4" fill="none" stroke="#222" stroke-width="1"/>
<line x1="88.70" y1="480.20" x2="88.70" y2="554.70" stroke="#111" stroke-width="1.1"/>
<text transform="translate(53.4,557.6) rotate(-90)" font-size="7.5" text-anchor="end" font-style="italic" fill="#231f20" stroke="#231f20" stroke-width="0.15">MFAP5</text>
<text transform="translate(60.3,557.6) rotate(-90)" font-size="7.5" text-anchor="end" font-style="italic" fill="#231f20" stroke="#231f20" stroke-width="0.15">SFRP4</text>
<text transform="translate(67.1,557.6) rotate(-90)" font-size="7.5" text-anchor="end" font-style="italic" fill="#231f20" stroke="#231f20" stroke-width="0.15">IGFBP6</text>
<text transform="translate(73.9,557.6) rotate(-90)" font-size="7.5" text-anchor="end" font-style="italic" fill="#231f20" stroke="#231f20" stroke-width="0.15">CCDC80</text>
<text transform="translate(80.8,557.6) rotate(-90)" font-size="7.5" text-anchor="end" font-style="italic" fill="#231f20" stroke="#231f20" stroke-width="0.15">GSN</text>
<text transform="translate(87.6,557.6) rotate(-90)" font-size="7.5" text-anchor="end" font-style="italic" fill="#231f20" stroke="#231f20" stroke-width="0.15">CST3</text>
<text transform="translate(94.5,557.6) rotate(-90)" font-size="7.5" text-anchor="end" font-style="italic" fill="#231f20" stroke="#231f20" stroke-width="0.15">ASPN</text>
<text transform="translate(101.3,557.6) rotate(-90)" font-size="7.5" text-anchor="end" font-style="italic" fill="#231f20" stroke="#231f20" stroke-width="0.15">TAGLN</text>
<text transform="translate(108.1,557.6) rotate(-90)" font-size="7.5" text-anchor="end" font-style="italic" fill="#231f20" stroke="#231f20" stroke-width="0.15">ACTA2</text>
<text transform="translate(115.0,557.6) rotate(-90)" font-size="7.5" text-anchor="end" font-style="italic" fill="#231f20" stroke="#231f20" stroke-width="0.15">BGN</text>
<text transform="translate(121.8,557.6) rotate(-90)" font-size="7.5" text-anchor="end" font-style="italic" fill="#231f20" stroke="#231f20" stroke-width="0.15">POSTN</text>
<text transform="translate(128.7,557.6) rotate(-90)" font-size="7.5" text-anchor="end" font-style="italic" fill="#231f20" stroke="#231f20" stroke-width="0.15">SPARC</text>
<text transform="translate(135.5,557.6) rotate(-90)" font-size="7.5" text-anchor="end" font-style="italic" fill="#231f20" stroke="#231f20" stroke-width="0.15">CTHRC1</text>
<text transform="translate(142.3,557.6) rotate(-90)" font-size="7.5" text-anchor="end" font-style="italic" fill="#231f20" stroke="#231f20" stroke-width="0.15">COL1A1</text>
<text transform="translate(149.2,557.6) rotate(-90)" font-size="7.5" text-anchor="end" font-style="italic" fill="#231f20" stroke="#231f20" stroke-width="0.15">COL3A1</text>
<text transform="translate(156.0,557.6) rotate(-90)" font-size="7.5" text-anchor="end" font-style="italic" fill="#231f20" stroke="#231f20" stroke-width="0.15">COL1A2</text>
<text transform="translate(162.9,557.6) rotate(-90)" font-size="7.5" text-anchor="end" font-style="italic" fill="#231f20" stroke="#231f20" stroke-width="0.15">MMP11</text>
<text transform="translate(169.7,557.6) rotate(-90)" font-size="7.5" text-anchor="end" font-style="italic" fill="#231f20" stroke="#231f20" stroke-width="0.15">CTSK</text>
<text transform="translate(176.5,557.6) rotate(-90)" font-size="7.5" text-anchor="end" font-style="italic" fill="#231f20" stroke="#231f20" stroke-width="0.15">VCAN</text>
<rect x="181.00" y="508.20" width="5.10" height="1.60" fill="#222222"/>
<rect x="181.00" y="509.75" width="5.10" height="1.60" fill="#363636"/>
<rect x="181.00" y="511.31" width="5.10" height="1.60" fill="#434343"/>
<rect x="181.00" y="512.86" width="5.10" height="1.60" fill="#5a5a5a"/>
<rect x="181.00" y="514.41" width="5.10" height="1.60" fill="#484848"/>
<rect x="181.00" y="515.97" width="5.10" height="1.60" fill="#636363"/>
<rect x="181.00" y="517.52" width="5.10" height="1.60" fill="#0a0a0a"/>
<rect x="181.00" y="519.07" width="5.10" height="1.60" fill="#383838"/>
<rect x="181.00" y="520.63" width="5.10" height="1.60" fill="#787878"/>
<rect x="181.00" y="522.18" width="5.10" height="1.60" fill="#5a5a5a"/>
<rect x="181.00" y="523.73" width="5.10" height="1.60" fill="#7e7e7e"/>
<rect x="181.00" y="525.29" width="5.10" height="1.60" fill="#262626"/>
<rect x="181.00" y="526.84" width="5.10" height="1.60" fill="#565656"/>
<rect x="181.00" y="528.39" width="5.10" height="1.60" fill="#414141"/>
<rect x="181.00" y="529.95" width="5.10" height="1.60" fill="#6b6b6b"/>
<rect x="181.00" y="531.50" width="5.10" height="1.60" fill="#747474"/>
<rect x="181.00" y="533.05" width="5.10" height="1.60" fill="#373737"/>
<rect x="181.00" y="534.61" width="5.10" height="1.60" fill="#555555"/>
<rect x="181.00" y="536.16" width="5.10" height="1.60" fill="#636363"/>
<rect x="181.00" y="537.71" width="5.10" height="1.60" fill="#b5b5b5"/>
<rect x="181.00" y="539.27" width="5.10" height="1.60" fill="#a9a9a9"/>
<rect x="181.00" y="540.82" width="5.10" height="1.60" fill="#666666"/>
<rect x="181.00" y="542.37" width="5.10" height="1.60" fill="#b8b8b8"/>
<rect x="181.00" y="543.93" width="5.10" height="1.60" fill="#6f6f6f"/>
<rect x="181.00" y="545.48" width="5.10" height="1.60" fill="#aeaeae"/>
<rect x="181.00" y="547.03" width="5.10" height="1.60" fill="#797979"/>
<rect x="181.00" y="548.59" width="5.10" height="1.60" fill="#707070"/>
<rect x="181.00" y="550.14" width="5.10" height="1.60" fill="#c8c8c8"/>
<rect x="181.00" y="551.69" width="5.10" height="1.60" fill="#959595"/>
<rect x="181.00" y="553.25" width="5.10" height="1.60" fill="#9b9b9b"/>
<rect x="149" y="591.2" width="4.2" height="4.2" fill="#fff" stroke="#222" stroke-width="0.7"/>
<text x="155.3" y="596.2" font-size="7.45" fill="#231f20" stroke="#231f20" stroke-width="0.15">PI16<tspan font-size="4.5" baseline-shift="super">+</tspan> fib.</text>
<rect x="148.80" y="600.20" width="4.60" height="4.60" fill="#111"/>
<text x="155.3" y="605.1" font-size="7.45" fill="#231f20" stroke="#231f20" stroke-width="0.15">ADH1B<tspan font-size="4.5" baseline-shift="super">+</tspan></text>
<text x="155.3" y="614.3" font-size="7.45" fill="#231f20" stroke="#231f20" stroke-width="0.15">CAF</text>
<text x="202.3" y="463.5" font-size="10" font-weight="bold" fill="#231f20" stroke="#231f20" stroke-width="0.15">G</text>
<text x="240.8" y="466.8" font-size="7.4" text-anchor="middle" fill="#231f20" stroke="#231f20" stroke-width="0.15">ADH1B<tspan font-size="4.5" baseline-shift="super">+</tspan> CAF</text>
<text x="240.8" y="477.0" font-size="7.4" text-anchor="middle" fill="#231f20" stroke="#231f20" stroke-width="0.15">genes</text>
<text x="311.2" y="466.2" font-size="7.4" text-anchor="middle" fill="#231f20" stroke="#231f20" stroke-width="0.15">FAP<tspan font-size="4.5" baseline-shift="super">+</tspan> CAF</text>
<text x="311.2" y="476.7" font-size="7.4" text-anchor="middle" fill="#231f20" stroke="#231f20" stroke-width="0.15">genes</text>
<rect x="204.10" y="481.10" width="7.49" height="1.57" fill="#f7f0c3"/>
<rect x="211.54" y="481.10" width="7.49" height="1.57" fill="#b1cfe7"/>
<rect x="218.97" y="481.10" width="7.49" height="1.57" fill="#f4f2d7"/>
<rect x="226.41" y="481.10" width="7.49" height="1.57" fill="#bdd7ea"/>
<rect x="233.85" y="481.10" width="7.49" height="1.57" fill="#f3f3dd"/>
<rect x="241.28" y="481.10" width="7.49" height="1.57" fill="#f4f2d7"/>
<rect x="248.72" y="481.10" width="7.49" height="1.57" fill="#f5f2d2"/>
<rect x="256.16" y="481.10" width="7.49" height="1.57" fill="#f2f4e3"/>
<rect x="263.59" y="481.10" width="7.49" height="1.57" fill="#f4f2d4"/>
<rect x="271.03" y="481.10" width="7.49" height="1.57" fill="#f8efbc"/>
<rect x="278.47" y="481.10" width="7.49" height="1.57" fill="#f8e4a5"/>
<rect x="285.91" y="481.10" width="7.49" height="1.57" fill="#f5f1cd"/>
<rect x="293.34" y="481.10" width="7.49" height="1.57" fill="#f2ad68"/>
<rect x="300.78" y="481.10" width="7.49" height="1.57" fill="#ec8e50"/>
<rect x="308.22" y="481.10" width="7.49" height="1.57" fill="#f3b36c"/>
<rect x="315.65" y="481.10" width="7.49" height="1.57" fill="#ea874c"/>
<rect x="323.09" y="481.10" width="7.49" height="1.57" fill="#ee9958"/>
<rect x="330.53" y="481.10" width="7.49" height="1.57" fill="#f1a863"/>
<rect x="337.96" y="481.10" width="7.49" height="1.57" fill="#eb8c4e"/>
<rect x="204.10" y="482.62" width="7.49" height="1.57" fill="#f8dc95"/>
<rect x="211.54" y="482.62" width="7.49" height="1.57" fill="#d5e5e9"/>
<rect x="218.97" y="482.62" width="7.49" height="1.57" fill="#f8dc97"/>
<rect x="226.41" y="482.62" width="7.49" height="1.57" fill="#d6e5e9"/>
<rect x="233.85" y="482.62" width="7.49" height="1.57" fill="#f8db93"/>
<rect x="241.28" y="482.62" width="7.49" height="1.57" fill="#f8e2a3"/>
<rect x="248.72" y="482.62" width="7.49" height="1.57" fill="#f7cd85"/>
<rect x="256.16" y="482.62" width="7.49" height="1.57" fill="#f8e7ab"/>
<rect x="263.59" y="482.62" width="7.49" height="1.57" fill="#f2f4e1"/>
<rect x="271.03" y="482.62" width="7.49" height="1.57" fill="#f8dd98"/>
<rect x="278.47" y="482.62" width="7.49" height="1.57" fill="#f8ecb5"/>
<rect x="285.91" y="482.62" width="7.49" height="1.57" fill="#f8dc95"/>
<rect x="293.34" y="482.62" width="7.49" height="1.57" fill="#e77b44"/>
<rect x="300.78" y="482.62" width="7.49" height="1.57" fill="#eb8b4e"/>
<rect x="308.22" y="482.62" width="7.49" height="1.57" fill="#f0a15e"/>
<rect x="315.65" y="482.62" width="7.49" height="1.57" fill="#ef9b5a"/>
<rect x="323.09" y="482.62" width="7.49" height="1.57" fill="#ee9858"/>
<rect x="330.53" y="482.62" width="7.49" height="1.57" fill="#f1a763"/>
<rect x="337.96" y="482.62" width="7.49" height="1.57" fill="#ed9555"/>
<rect x="204.10" y="484.15" width="7.49" height="1.57" fill="#f8df9c"/>
<rect x="211.54" y="484.15" width="7.49" height="1.57" fill="#c4dcec"/>
<rect x="218.97" y="484.15" width="7.49" height="1.57" fill="#f6f0c7"/>
<rect x="226.41" y="484.15" width="7.49" height="1.57" fill="#c8deec"/>
<rect x="233.85" y="484.15" width="7.49" height="1.57" fill="#f8e09d"/>
<rect x="241.28" y="484.15" width="7.49" height="1.57" fill="#f8e7ac"/>
<rect x="248.72" y="484.15" width="7.49" height="1.57" fill="#f5bd75"/>
<rect x="256.16" y="484.15" width="7.49" height="1.57" fill="#f7f0c5"/>
<rect x="263.59" y="484.15" width="7.49" height="1.57" fill="#f8eeb9"/>
<rect x="271.03" y="484.15" width="7.49" height="1.57" fill="#f8eab1"/>
<rect x="278.47" y="484.15" width="7.49" height="1.57" fill="#f8e2a2"/>
<rect x="285.91" y="484.15" width="7.49" height="1.57" fill="#f7f0c5"/>
<rect x="293.34" y="484.15" width="7.49" height="1.57" fill="#f4b870"/>
<rect x="300.78" y="484.15" width="7.49" height="1.57" fill="#f4b66e"/>
<rect x="308.22" y="484.15" width="7.49" height="1.57" fill="#f2ae68"/>
<rect x="315.65" y="484.15" width="7.49" height="1.57" fill="#f2ae68"/>
<rect x="323.09" y="484.15" width="7.49" height="1.57" fill="#f3b26b"/>
<rect x="330.53" y="484.15" width="7.49" height="1.57" fill="#f2aa65"/>
<rect x="337.96" y="484.15" width="7.49" height="1.57" fill="#f2ab66"/>
<rect x="204.10" y="485.67" width="7.49" height="1.57" fill="#f7f0c1"/>
<rect x="211.54" y="485.67" width="7.49" height="1.57" fill="#b3d0e7"/>
<rect x="218.97" y="485.67" width="7.49" height="1.57" fill="#f4f2d6"/>
<rect x="226.41" y="485.67" width="7.49" height="1.57" fill="#a8c9e4"/>
<rect x="233.85" y="485.67" width="7.49" height="1.57" fill="#f6f0c6"/>
<rect x="241.28" y="485.67" width="7.49" height="1.57" fill="#f4f3da"/>
<rect x="248.72" y="485.67" width="7.49" height="1.57" fill="#f8d991"/>
<rect x="256.16" y="485.67" width="7.49" height="1.57" fill="#f6f1cb"/>
<rect x="263.59" y="485.67" width="7.49" height="1.57" fill="#f7d088"/>
<rect x="271.03" y="485.67" width="7.49" height="1.57" fill="#f7f0c5"/>
<rect x="278.47" y="485.67" width="7.49" height="1.57" fill="#f8edb6"/>
<rect x="285.91" y="485.67" width="7.49" height="1.57" fill="#f8edb8"/>
<rect x="293.34" y="485.67" width="7.49" height="1.57" fill="#f6c67e"/>
<rect x="300.78" y="485.67" width="7.49" height="1.57" fill="#f6cb83"/>
<rect x="308.22" y="485.67" width="7.49" height="1.57" fill="#f7cd85"/>
<rect x="315.65" y="485.67" width="7.49" height="1.57" fill="#f3af69"/>
<rect x="323.09" y="485.67" width="7.49" height="1.57" fill="#f7d38b"/>
<rect x="330.53" y="485.67" width="7.49" height="1.57" fill="#f5bf77"/>
<rect x="337.96" y="485.67" width="7.49" height="1.57" fill="#f5be76"/>
<rect x="204.10" y="487.19" width="7.49" height="1.57" fill="#f8d78f"/>
<rect x="211.54" y="487.19" width="7.49" height="1.57" fill="#f2f4e3"/>
<rect x="218.97" y="487.19" width="7.49" height="1.57" fill="#f6f1cb"/>
<rect x="226.41" y="487.19" width="7.49" height="1.57" fill="#d3e4ea"/>
<rect x="233.85" y="487.19" width="7.49" height="1.57" fill="#f8e3a4"/>
<rect x="241.28" y="487.19" width="7.49" height="1.57" fill="#edf2e5"/>
<rect x="248.72" y="487.19" width="7.49" height="1.57" fill="#f8dc96"/>
<rect x="256.16" y="487.19" width="7.49" height="1.57" fill="#f8e09e"/>
<rect x="263.59" y="487.19" width="7.49" height="1.57" fill="#f7ce86"/>
<rect x="271.03" y="487.19" width="7.49" height="1.57" fill="#f5f1cc"/>
<rect x="278.47" y="487.19" width="7.49" height="1.57" fill="#f8ecb4"/>
<rect x="285.91" y="487.19" width="7.49" height="1.57" fill="#f3f3da"/>
<rect x="293.34" y="487.19" width="7.49" height="1.57" fill="#f6c77f"/>
<rect x="300.78" y="487.19" width="7.49" height="1.57" fill="#f4b870"/>
<rect x="308.22" y="487.19" width="7.49" height="1.57" fill="#f5c078"/>
<rect x="315.65" y="487.19" width="7.49" height="1.57" fill="#f8d890"/>
<rect x="323.09" y="487.19" width="7.49" height="1.57" fill="#f6c880"/>
<rect x="330.53" y="487.19" width="7.49" height="1.57" fill="#f6c67e"/>
<rect x="337.96" y="487.19" width="7.49" height="1.57" fill="#f7ce86"/>
<rect x="204.10" y="488.71" width="7.49" height="1.57" fill="#f8d890"/>
<rect x="211.54" y="488.71" width="7.49" height="1.57" fill="#f3f4e0"/>
<rect x="218.97" y="488.71" width="7.49" height="1.57" fill="#f8e2a1"/>
<rect x="226.41" y="488.71" width="7.49" height="1.57" fill="#f7f0c5"/>
<rect x="233.85" y="488.71" width="7.49" height="1.57" fill="#f8efbc"/>
<rect x="241.28" y="488.71" width="7.49" height="1.57" fill="#f7cd85"/>
<rect x="248.72" y="488.71" width="7.49" height="1.57" fill="#f8e3a4"/>
<rect x="256.16" y="488.71" width="7.49" height="1.57" fill="#f6f0c5"/>
<rect x="263.59" y="488.71" width="7.49" height="1.57" fill="#f8e1a0"/>
<rect x="271.03" y="488.71" width="7.49" height="1.57" fill="#f8dd98"/>
<rect x="278.47" y="488.71" width="7.49" height="1.57" fill="#f8e09e"/>
<rect x="285.91" y="488.71" width="7.49" height="1.57" fill="#f8e7ac"/>
<rect x="293.34" y="488.71" width="7.49" height="1.57" fill="#f3af69"/>
<rect x="300.78" y="488.71" width="7.49" height="1.57" fill="#f5bd75"/>
<rect x="308.22" y="488.71" width="7.49" height="1.57" fill="#f1a763"/>
<rect x="315.65" y="488.71" width="7.49" height="1.57" fill="#f3af69"/>
<rect x="323.09" y="488.71" width="7.49" height="1.57" fill="#f6c67e"/>
<rect x="330.53" y="488.71" width="7.49" height="1.57" fill="#f2ad67"/>
<rect x="337.96" y="488.71" width="7.49" height="1.57" fill="#f4b870"/>
<rect x="204.10" y="490.24" width="7.49" height="1.57" fill="#f8dd98"/>
<rect x="211.54" y="490.24" width="7.49" height="1.57" fill="#e8efe6"/>
<rect x="218.97" y="490.24" width="7.49" height="1.57" fill="#f8db95"/>
<rect x="226.41" y="490.24" width="7.49" height="1.57" fill="#f3f3de"/>
<rect x="233.85" y="490.24" width="7.49" height="1.57" fill="#f8eab1"/>
<rect x="241.28" y="490.24" width="7.49" height="1.57" fill="#bdd7ea"/>
<rect x="248.72" y="490.24" width="7.49" height="1.57" fill="#f6c57d"/>
<rect x="256.16" y="490.24" width="7.49" height="1.57" fill="#f8e2a2"/>
<rect x="263.59" y="490.24" width="7.49" height="1.57" fill="#f8e7ab"/>
<rect x="271.03" y="490.24" width="7.49" height="1.57" fill="#f6f0c6"/>
<rect x="278.47" y="490.24" width="7.49" height="1.57" fill="#f8eab1"/>
<rect x="285.91" y="490.24" width="7.49" height="1.57" fill="#f8e8ae"/>
<rect x="293.34" y="490.24" width="7.49" height="1.57" fill="#f8dd97"/>
<rect x="300.78" y="490.24" width="7.49" height="1.57" fill="#f5bc74"/>
<rect x="308.22" y="490.24" width="7.49" height="1.57" fill="#f8d890"/>
<rect x="315.65" y="490.24" width="7.49" height="1.57" fill="#f7d48c"/>
<rect x="323.09" y="490.24" width="7.49" height="1.57" fill="#f7d189"/>
<rect x="330.53" y="490.24" width="7.49" height="1.57" fill="#f5c37b"/>
<rect x="337.96" y="490.24" width="7.49" height="1.57" fill="#f8dd97"/>
<rect x="204.10" y="491.76" width="7.49" height="1.57" fill="#f8dd97"/>
<rect x="211.54" y="491.76" width="7.49" height="1.57" fill="#cadfeb"/>
<rect x="218.97" y="491.76" width="7.49" height="1.57" fill="#f6cc84"/>
<rect x="226.41" y="491.76" width="7.49" height="1.57" fill="#c7deec"/>
<rect x="233.85" y="491.76" width="7.49" height="1.57" fill="#f8edb6"/>
<rect x="241.28" y="491.76" width="7.49" height="1.57" fill="#f8e9af"/>
<rect x="248.72" y="491.76" width="7.49" height="1.57" fill="#f8e3a3"/>
<rect x="256.16" y="491.76" width="7.49" height="1.57" fill="#f7f0c0"/>
<rect x="263.59" y="491.76" width="7.49" height="1.57" fill="#f8dd97"/>
<rect x="271.03" y="491.76" width="7.49" height="1.57" fill="#f8ecb5"/>
<rect x="278.47" y="491.76" width="7.49" height="1.57" fill="#f7efbf"/>
<rect x="285.91" y="491.76" width="7.49" height="1.57" fill="#f8e7ab"/>
<rect x="293.34" y="491.76" width="7.49" height="1.57" fill="#f8de9b"/>
<rect x="300.78" y="491.76" width="7.49" height="1.57" fill="#f6c47c"/>
<rect x="308.22" y="491.76" width="7.49" height="1.57" fill="#f8d991"/>
<rect x="315.65" y="491.76" width="7.49" height="1.57" fill="#f8e5a7"/>
<rect x="323.09" y="491.76" width="7.49" height="1.57" fill="#f7d189"/>
<rect x="330.53" y="491.76" width="7.49" height="1.57" fill="#f7ce86"/>
<rect x="337.96" y="491.76" width="7.49" height="1.57" fill="#f8d991"/>
<rect x="204.10" y="493.28" width="7.49" height="1.57" fill="#f5c078"/>
<rect x="211.54" y="493.28" width="7.49" height="1.57" fill="#f3f3dd"/>
<rect x="218.97" y="493.28" width="7.49" height="1.57" fill="#f7f0c4"/>
<rect x="226.41" y="493.28" width="7.49" height="1.57" fill="#cde1eb"/>
<rect x="233.85" y="493.28" width="7.49" height="1.57" fill="#f8e09e"/>
<rect x="241.28" y="493.28" width="7.49" height="1.57" fill="#f4f2d7"/>
<rect x="248.72" y="493.28" width="7.49" height="1.57" fill="#f6c880"/>
<rect x="256.16" y="493.28" width="7.49" height="1.57" fill="#f6f0c7"/>
<rect x="263.59" y="493.28" width="7.49" height="1.57" fill="#f5f2d1"/>
<rect x="271.03" y="493.28" width="7.49" height="1.57" fill="#f2f4e3"/>
<rect x="278.47" y="493.28" width="7.49" height="1.57" fill="#f4f2d7"/>
<rect x="285.91" y="493.28" width="7.49" height="1.57" fill="#f4f2d6"/>
<rect x="293.34" y="493.28" width="7.49" height="1.57" fill="#f8e4a6"/>
<rect x="300.78" y="493.28" width="7.49" height="1.57" fill="#f8e7ab"/>
<rect x="308.22" y="493.28" width="7.49" height="1.57" fill="#f8e7ab"/>
<rect x="315.65" y="493.28" width="7.49" height="1.57" fill="#f7f0c1"/>
<rect x="323.09" y="493.28" width="7.49" height="1.57" fill="#f8e6aa"/>
<rect x="330.53" y="493.28" width="7.49" height="1.57" fill="#f8e09e"/>
<rect x="337.96" y="493.28" width="7.49" height="1.57" fill="#f8dc96"/>
<rect x="204.10" y="494.81" width="7.49" height="1.57" fill="#f8da92"/>
<rect x="211.54" y="494.81" width="7.49" height="1.57" fill="#f2f4e3"/>
<rect x="218.97" y="494.81" width="7.49" height="1.57" fill="#f8ebb4"/>
<rect x="226.41" y="494.81" width="7.49" height="1.57" fill="#f1f3e4"/>
<rect x="233.85" y="494.81" width="7.49" height="1.57" fill="#f8efbc"/>
<rect x="241.28" y="494.81" width="7.49" height="1.57" fill="#f5f1cf"/>
<rect x="248.72" y="494.81" width="7.49" height="1.57" fill="#f8da92"/>
<rect x="256.16" y="494.81" width="7.49" height="1.57" fill="#f7f0c3"/>
<rect x="263.59" y="494.81" width="7.49" height="1.57" fill="#f6c880"/>
<rect x="271.03" y="494.81" width="7.49" height="1.57" fill="#f7f0c3"/>
<rect x="278.47" y="494.81" width="7.49" height="1.57" fill="#f8efbc"/>
<rect x="285.91" y="494.81" width="7.49" height="1.57" fill="#f6f1cb"/>
<rect x="293.34" y="494.81" width="7.49" height="1.57" fill="#f8e6a9"/>
<rect x="300.78" y="494.81" width="7.49" height="1.57" fill="#f8e5a8"/>
<rect x="308.22" y="494.81" width="7.49" height="1.57" fill="#f8e19f"/>
<rect x="315.65" y="494.81" width="7.49" height="1.57" fill="#f7d088"/>
<rect x="323.09" y="494.81" width="7.49" height="1.57" fill="#f8e9b0"/>
<rect x="330.53" y="494.81" width="7.49" height="1.57" fill="#f7d088"/>
<rect x="337.96" y="494.81" width="7.49" height="1.57" fill="#f8ebb3"/>
<rect x="204.10" y="496.33" width="7.49" height="1.57" fill="#f7f0c1"/>
<rect x="211.54" y="496.33" width="7.49" height="1.57" fill="#f7f0c2"/>
<rect x="218.97" y="496.33" width="7.49" height="1.57" fill="#f6c47c"/>
<rect x="226.41" y="496.33" width="7.49" height="1.57" fill="#d5e5e9"/>
<rect x="233.85" y="496.33" width="7.49" height="1.57" fill="#f6f1c8"/>
<rect x="241.28" y="496.33" width="7.49" height="1.57" fill="#f8dc96"/>
<rect x="248.72" y="496.33" width="7.49" height="1.57" fill="#f8edb7"/>
<rect x="256.16" y="496.33" width="7.49" height="1.57" fill="#f7f0c5"/>
<rect x="263.59" y="496.33" width="7.49" height="1.57" fill="#f8e9af"/>
<rect x="271.03" y="496.33" width="7.49" height="1.57" fill="#f6f1c8"/>
<rect x="278.47" y="496.33" width="7.49" height="1.57" fill="#f7f0c2"/>
<rect x="285.91" y="496.33" width="7.49" height="1.57" fill="#f6f1ca"/>
<rect x="293.34" y="496.33" width="7.49" height="1.57" fill="#f8d890"/>
<rect x="300.78" y="496.33" width="7.49" height="1.57" fill="#f8e5a8"/>
<rect x="308.22" y="496.33" width="7.49" height="1.57" fill="#f8e6aa"/>
<rect x="315.65" y="496.33" width="7.49" height="1.57" fill="#f8eeba"/>
<rect x="323.09" y="496.33" width="7.49" height="1.57" fill="#f8df9c"/>
<rect x="330.53" y="496.33" width="7.49" height="1.57" fill="#f8db93"/>
<rect x="337.96" y="496.33" width="7.49" height="1.57" fill="#f8efba"/>
<rect x="204.10" y="497.85" width="7.49" height="1.57" fill="#f5bc74"/>
<rect x="211.54" y="497.85" width="7.49" height="1.57" fill="#bfd8ea"/>
<rect x="218.97" y="497.85" width="7.49" height="1.57" fill="#f8e9af"/>
<rect x="226.41" y="497.85" width="7.49" height="1.57" fill="#f5f2d0"/>
<rect x="233.85" y="497.85" width="7.49" height="1.57" fill="#f8db93"/>
<rect x="241.28" y="497.85" width="7.49" height="1.57" fill="#f8e9af"/>
<rect x="248.72" y="497.85" width="7.49" height="1.57" fill="#f8edb8"/>
<rect x="256.16" y="497.85" width="7.49" height="1.57" fill="#f7d28a"/>
<rect x="263.59" y="497.85" width="7.49" height="1.57" fill="#f8efbd"/>
<rect x="271.03" y="497.85" width="7.49" height="1.57" fill="#f8efbd"/>
<rect x="278.47" y="497.85" width="7.49" height="1.57" fill="#eff2e5"/>
<rect x="285.91" y="497.85" width="7.49" height="1.57" fill="#f7f0c0"/>
<rect x="293.34" y="497.85" width="7.49" height="1.57" fill="#f6f0c6"/>
<rect x="300.78" y="497.85" width="7.49" height="1.57" fill="#f6f1c9"/>
<rect x="308.22" y="497.85" width="7.49" height="1.57" fill="#f8e8ad"/>
<rect x="315.65" y="497.85" width="7.49" height="1.57" fill="#f8ebb4"/>
<rect x="323.09" y="497.85" width="7.49" height="1.57" fill="#f8df9d"/>
<rect x="330.53" y="497.85" width="7.49" height="1.57" fill="#f8e6aa"/>
<rect x="337.96" y="497.85" width="7.49" height="1.57" fill="#f6f1c8"/>
<rect x="204.10" y="499.38" width="7.49" height="1.57" fill="#f8de9a"/>
<rect x="211.54" y="499.38" width="7.49" height="1.57" fill="#eef2e5"/>
<rect x="218.97" y="499.38" width="7.49" height="1.57" fill="#f6cc84"/>
<rect x="226.41" y="499.38" width="7.49" height="1.57" fill="#f2f4e4"/>
<rect x="233.85" y="499.38" width="7.49" height="1.57" fill="#f8efbe"/>
<rect x="241.28" y="499.38" width="7.49" height="1.57" fill="#b1cfe7"/>
<rect x="248.72" y="499.38" width="7.49" height="1.57" fill="#f8e8ad"/>
<rect x="256.16" y="499.38" width="7.49" height="1.57" fill="#f8e1a0"/>
<rect x="263.59" y="499.38" width="7.49" height="1.57" fill="#f6f1cc"/>
<rect x="271.03" y="499.38" width="7.49" height="1.57" fill="#f6f0c7"/>
<rect x="278.47" y="499.38" width="7.49" height="1.57" fill="#eff3e4"/>
<rect x="285.91" y="499.38" width="7.49" height="1.57" fill="#e7eee6"/>
<rect x="293.34" y="499.38" width="7.49" height="1.57" fill="#f8eab2"/>
<rect x="300.78" y="499.38" width="7.49" height="1.57" fill="#f8eab2"/>
<rect x="308.22" y="499.38" width="7.49" height="1.57" fill="#f8e3a3"/>
<rect x="315.65" y="499.38" width="7.49" height="1.57" fill="#f8ebb3"/>
<rect x="323.09" y="499.38" width="7.49" height="1.57" fill="#f8e9ae"/>
<rect x="330.53" y="499.38" width="7.49" height="1.57" fill="#f8e9af"/>
<rect x="337.96" y="499.38" width="7.49" height="1.57" fill="#f6f1cc"/>
<rect x="204.10" y="500.90" width="7.49" height="1.57" fill="#f3b36c"/>
<rect x="211.54" y="500.90" width="7.49" height="1.57" fill="#f2f4e2"/>
<rect x="218.97" y="500.90" width="7.49" height="1.57" fill="#f6ca82"/>
<rect x="226.41" y="500.90" width="7.49" height="1.57" fill="#d3e4ea"/>
<rect x="233.85" y="500.90" width="7.49" height="1.57" fill="#f4f2d7"/>
<rect x="241.28" y="500.90" width="7.49" height="1.57" fill="#f8e2a2"/>
<rect x="248.72" y="500.90" width="7.49" height="1.57" fill="#f8eeb8"/>
<rect x="256.16" y="500.90" width="7.49" height="1.57" fill="#f8e4a6"/>
<rect x="263.59" y="500.90" width="7.49" height="1.57" fill="#f7efbf"/>
<rect x="271.03" y="500.90" width="7.49" height="1.57" fill="#f6f1cb"/>
<rect x="278.47" y="500.90" width="7.49" height="1.57" fill="#eff3e4"/>
<rect x="285.91" y="500.90" width="7.49" height="1.57" fill="#f5f2d1"/>
<rect x="293.34" y="500.90" width="7.49" height="1.57" fill="#f5f2d0"/>
<rect x="300.78" y="500.90" width="7.49" height="1.57" fill="#f6f1ca"/>
<rect x="308.22" y="500.90" width="7.49" height="1.57" fill="#f8e6a9"/>
<rect x="315.65" y="500.90" width="7.49" height="1.57" fill="#f8e8ad"/>
<rect x="323.09" y="500.90" width="7.49" height="1.57" fill="#f6f0c6"/>
<rect x="330.53" y="500.90" width="7.49" height="1.57" fill="#f8e5a8"/>
<rect x="337.96" y="500.90" width="7.49" height="1.57" fill="#f8e3a3"/>
<rect x="204.10" y="502.42" width="7.49" height="1.57" fill="#f8efbd"/>
<rect x="211.54" y="502.42" width="7.49" height="1.57" fill="#f3f3de"/>
<rect x="218.97" y="502.42" width="7.49" height="1.57" fill="#f8dd98"/>
<rect x="226.41" y="502.42" width="7.49" height="1.57" fill="#cce0eb"/>
<rect x="233.85" y="502.42" width="7.49" height="1.57" fill="#f8d68e"/>
<rect x="241.28" y="502.42" width="7.49" height="1.57" fill="#f5f2d2"/>
<rect x="248.72" y="502.42" width="7.49" height="1.57" fill="#d6e5e9"/>
<rect x="256.16" y="502.42" width="7.49" height="1.57" fill="#f6f1cb"/>
<rect x="263.59" y="502.42" width="7.49" height="1.57" fill="#f8e8ad"/>
<rect x="271.03" y="502.42" width="7.49" height="1.57" fill="#f2f4e3"/>
<rect x="278.47" y="502.42" width="7.49" height="1.57" fill="#f2f4e2"/>
<rect x="285.91" y="502.42" width="7.49" height="1.57" fill="#dee9e8"/>
<rect x="293.34" y="502.42" width="7.49" height="1.57" fill="#f6f0c6"/>
<rect x="300.78" y="502.42" width="7.49" height="1.57" fill="#f8e9b0"/>
<rect x="308.22" y="502.42" width="7.49" height="1.57" fill="#f8ecb5"/>
<rect x="315.65" y="502.42" width="7.49" height="1.57" fill="#f8eeb9"/>
<rect x="323.09" y="502.42" width="7.49" height="1.57" fill="#f7f0c1"/>
<rect x="330.53" y="502.42" width="7.49" height="1.57" fill="#f8efba"/>
<rect x="337.96" y="502.42" width="7.49" height="1.57" fill="#f7f0c0"/>
<rect x="204.10" y="503.94" width="7.49" height="1.57" fill="#f8e2a2"/>
<rect x="211.54" y="503.94" width="7.49" height="1.57" fill="#c9dfeb"/>
<rect x="218.97" y="503.94" width="7.49" height="1.57" fill="#f7d088"/>
<rect x="226.41" y="503.94" width="7.49" height="1.57" fill="#f4f3d9"/>
<rect x="233.85" y="503.94" width="7.49" height="1.57" fill="#f8eeb9"/>
<rect x="241.28" y="503.94" width="7.49" height="1.57" fill="#f8df9b"/>
<rect x="248.72" y="503.94" width="7.49" height="1.57" fill="#f8efbd"/>
<rect x="256.16" y="503.94" width="7.49" height="1.57" fill="#f7d48c"/>
<rect x="263.59" y="503.94" width="7.49" height="1.57" fill="#f8efbb"/>
<rect x="271.03" y="503.94" width="7.49" height="1.57" fill="#e5ede6"/>
<rect x="278.47" y="503.94" width="7.49" height="1.57" fill="#eaf0e5"/>
<rect x="285.91" y="503.94" width="7.49" height="1.57" fill="#e5ede6"/>
<rect x="293.34" y="503.94" width="7.49" height="1.57" fill="#f8e9af"/>
<rect x="300.78" y="503.94" width="7.49" height="1.57" fill="#f8eab2"/>
<rect x="308.22" y="503.94" width="7.49" height="1.57" fill="#f8efbc"/>
<rect x="315.65" y="503.94" width="7.49" height="1.57" fill="#f4f3da"/>
<rect x="323.09" y="503.94" width="7.49" height="1.57" fill="#f8ebb4"/>
<rect x="330.53" y="503.94" width="7.49" height="1.57" fill="#f6f1c7"/>
<rect x="337.96" y="503.94" width="7.49" height="1.57" fill="#f7efbf"/>
<rect x="204.10" y="505.47" width="7.49" height="1.57" fill="#f6cc84"/>
<rect x="211.54" y="505.47" width="7.49" height="1.57" fill="#e2ece7"/>
<rect x="218.97" y="505.47" width="7.49" height="1.57" fill="#f6c981"/>
<rect x="226.41" y="505.47" width="7.49" height="1.57" fill="#bfd9ea"/>
<rect x="233.85" y="505.47" width="7.49" height="1.57" fill="#f8edb8"/>
<rect x="241.28" y="505.47" width="7.49" height="1.57" fill="#f8ebb4"/>
<rect x="248.72" y="505.47" width="7.49" height="1.57" fill="#f8db94"/>
<rect x="256.16" y="505.47" width="7.49" height="1.57" fill="#f8d68e"/>
<rect x="263.59" y="505.47" width="7.49" height="1.57" fill="#f7d189"/>
<rect x="271.03" y="505.47" width="7.49" height="1.57" fill="#f6f1ca"/>
<rect x="278.47" y="505.47" width="7.49" height="1.57" fill="#e2ece7"/>
<rect x="285.91" y="505.47" width="7.49" height="1.57" fill="#f4f3da"/>
<rect x="293.34" y="505.47" width="7.49" height="1.57" fill="#f5f1cf"/>
<rect x="300.78" y="505.47" width="7.49" height="1.57" fill="#f8efbc"/>
<rect x="308.22" y="505.47" width="7.49" height="1.57" fill="#f8db93"/>
<rect x="315.65" y="505.47" width="7.49" height="1.57" fill="#f7f0c3"/>
<rect x="323.09" y="505.47" width="7.49" height="1.57" fill="#f8efbe"/>
<rect x="330.53" y="505.47" width="7.49" height="1.57" fill="#f6f0c6"/>
<rect x="337.96" y="505.47" width="7.49" height="1.57" fill="#f8e6aa"/>
<rect x="204.10" y="506.99" width="7.49" height="1.57" fill="#f3f3dc"/>
<rect x="211.54" y="506.99" width="7.49" height="1.57" fill="#f4f3d9"/>
<rect x="218.97" y="506.99" width="7.49" height="1.57" fill="#f8ebb4"/>
<rect x="226.41" y="506.99" width="7.49" height="1.57" fill="#d4e4e9"/>
<rect x="233.85" y="506.99" width="7.49" height="1.57" fill="#f7efbf"/>
<rect x="241.28" y="506.99" width="7.49" height="1.57" fill="#f7d38b"/>
<rect x="248.72" y="506.99" width="7.49" height="1.57" fill="#f3b36c"/>
<rect x="256.16" y="506.99" width="7.49" height="1.57" fill="#f8e7ac"/>
<rect x="263.59" y="506.99" width="7.49" height="1.57" fill="#f6cb83"/>
<rect x="271.03" y="506.99" width="7.49" height="1.57" fill="#f5f2d3"/>
<rect x="278.47" y="506.99" width="7.49" height="1.57" fill="#e7eee6"/>
<rect x="285.91" y="506.99" width="7.49" height="1.57" fill="#e4ede7"/>
<rect x="293.34" y="506.99" width="7.49" height="1.57" fill="#f5f1cd"/>
<rect x="300.78" y="506.99" width="7.49" height="1.57" fill="#f8e8ad"/>
<rect x="308.22" y="506.99" width="7.49" height="1.57" fill="#f8e9b0"/>
<rect x="315.65" y="506.99" width="7.49" height="1.57" fill="#f8eab2"/>
<rect x="323.09" y="506.99" width="7.49" height="1.57" fill="#f8edb8"/>
<rect x="330.53" y="506.99" width="7.49" height="1.57" fill="#f7f0c3"/>
<rect x="337.96" y="506.99" width="7.49" height="1.57" fill="#f7f0c0"/>
<rect x="204.10" y="508.51" width="7.49" height="1.57" fill="#f8dd98"/>
<rect x="211.54" y="508.51" width="7.49" height="1.57" fill="#e9efe6"/>
<rect x="218.97" y="508.51" width="7.49" height="1.57" fill="#f8df9d"/>
<rect x="226.41" y="508.51" width="7.49" height="1.57" fill="#f4f2d4"/>
<rect x="233.85" y="508.51" width="7.49" height="1.57" fill="#f8e6a9"/>
<rect x="241.28" y="508.51" width="7.49" height="1.57" fill="#f8e3a4"/>
<rect x="248.72" y="508.51" width="7.49" height="1.57" fill="#f8d991"/>
<rect x="256.16" y="508.51" width="7.49" height="1.57" fill="#f8e3a4"/>
<rect x="263.59" y="508.51" width="7.49" height="1.57" fill="#f7cf87"/>
<rect x="271.03" y="508.51" width="7.49" height="1.57" fill="#dce8e8"/>
<rect x="278.47" y="508.51" width="7.49" height="1.57" fill="#f2f4e3"/>
<rect x="285.91" y="508.51" width="7.49" height="1.57" fill="#e1ebe7"/>
<rect x="293.34" y="508.51" width="7.49" height="1.57" fill="#f5f1cc"/>
<rect x="300.78" y="508.51" width="7.49" height="1.57" fill="#f3f3de"/>
<rect x="308.22" y="508.51" width="7.49" height="1.57" fill="#f8ebb3"/>
<rect x="315.65" y="508.51" width="7.49" height="1.57" fill="#f5f2d0"/>
<rect x="323.09" y="508.51" width="7.49" height="1.57" fill="#f5f1cf"/>
<rect x="330.53" y="508.51" width="7.49" height="1.57" fill="#f6f0c5"/>
<rect x="337.96" y="508.51" width="7.49" height="1.57" fill="#f3f3db"/>
<rect x="204.10" y="510.04" width="7.49" height="1.57" fill="#f8e09d"/>
<rect x="211.54" y="510.04" width="7.49" height="1.57" fill="#e3ece7"/>
<rect x="218.97" y="510.04" width="7.49" height="1.57" fill="#f8e6aa"/>
<rect x="226.41" y="510.04" width="7.49" height="1.57" fill="#b7d3e8"/>
<rect x="233.85" y="510.04" width="7.49" height="1.57" fill="#f4f2d7"/>
<rect x="241.28" y="510.04" width="7.49" height="1.57" fill="#f8dc95"/>
<rect x="248.72" y="510.04" width="7.49" height="1.57" fill="#f7d38b"/>
<rect x="256.16" y="510.04" width="7.49" height="1.57" fill="#f8ecb5"/>
<rect x="263.59" y="510.04" width="7.49" height="1.57" fill="#f8eeb9"/>
<rect x="271.03" y="510.04" width="7.49" height="1.57" fill="#dce8e8"/>
<rect x="278.47" y="510.04" width="7.49" height="1.57" fill="#d2e3ea"/>
<rect x="285.91" y="510.04" width="7.49" height="1.57" fill="#f2f4e4"/>
<rect x="293.34" y="510.04" width="7.49" height="1.57" fill="#f4f2d4"/>
<rect x="300.78" y="510.04" width="7.49" height="1.57" fill="#f3f3de"/>
<rect x="308.22" y="510.04" width="7.49" height="1.57" fill="#f8e5a7"/>
<rect x="315.65" y="510.04" width="7.49" height="1.57" fill="#f5f1cd"/>
<rect x="323.09" y="510.04" width="7.49" height="1.57" fill="#f7f0c3"/>
<rect x="330.53" y="510.04" width="7.49" height="1.57" fill="#f2f4e2"/>
<rect x="337.96" y="510.04" width="7.49" height="1.57" fill="#f3f3db"/>
<rect x="204.10" y="511.56" width="7.49" height="1.57" fill="#f6c880"/>
<rect x="211.54" y="511.56" width="7.49" height="1.57" fill="#f3f3df"/>
<rect x="218.97" y="511.56" width="7.49" height="1.57" fill="#f8efbe"/>
<rect x="226.41" y="511.56" width="7.49" height="1.57" fill="#bed7ea"/>
<rect x="233.85" y="511.56" width="7.49" height="1.57" fill="#f5f1cc"/>
<rect x="241.28" y="511.56" width="7.49" height="1.57" fill="#f8e4a5"/>
<rect x="248.72" y="511.56" width="7.49" height="1.57" fill="#f8db94"/>
<rect x="256.16" y="511.56" width="7.49" height="1.57" fill="#f7d58d"/>
<rect x="263.59" y="511.56" width="7.49" height="1.57" fill="#f6c47c"/>
<rect x="271.03" y="511.56" width="7.49" height="1.57" fill="#bdd7ea"/>
<rect x="278.47" y="511.56" width="7.49" height="1.57" fill="#c6ddec"/>
<rect x="285.91" y="511.56" width="7.49" height="1.57" fill="#d0e2ea"/>
<rect x="293.34" y="511.56" width="7.49" height="1.57" fill="#f4f2d3"/>
<rect x="300.78" y="511.56" width="7.49" height="1.57" fill="#f4f2d5"/>
<rect x="308.22" y="511.56" width="7.49" height="1.57" fill="#f6f1ca"/>
<rect x="315.65" y="511.56" width="7.49" height="1.57" fill="#f3f3e0"/>
<rect x="323.09" y="511.56" width="7.49" height="1.57" fill="#f6f1cb"/>
<rect x="330.53" y="511.56" width="7.49" height="1.57" fill="#f3f3dd"/>
<rect x="337.96" y="511.56" width="7.49" height="1.57" fill="#f1f3e4"/>
<rect x="204.10" y="513.08" width="7.49" height="1.57" fill="#f3b26b"/>
<rect x="211.54" y="513.08" width="7.49" height="1.57" fill="#f8eeb9"/>
<rect x="218.97" y="513.08" width="7.49" height="1.57" fill="#dce9e8"/>
<rect x="226.41" y="513.08" width="7.49" height="1.57" fill="#f7f0c2"/>
<rect x="233.85" y="513.08" width="7.49" height="1.57" fill="#f7d58d"/>
<rect x="241.28" y="513.08" width="7.49" height="1.57" fill="#f8e5a8"/>
<rect x="248.72" y="513.08" width="7.49" height="1.57" fill="#f7cf87"/>
<rect x="256.16" y="513.08" width="7.49" height="1.57" fill="#f7d28a"/>
<rect x="263.59" y="513.08" width="7.49" height="1.57" fill="#f7f0c3"/>
<rect x="271.03" y="513.08" width="7.49" height="1.57" fill="#cee1eb"/>
<rect x="278.47" y="513.08" width="7.49" height="1.57" fill="#dfeae7"/>
<rect x="285.91" y="513.08" width="7.49" height="1.57" fill="#f2f4e4"/>
<rect x="293.34" y="513.08" width="7.49" height="1.57" fill="#f7f0c2"/>
<rect x="300.78" y="513.08" width="7.49" height="1.57" fill="#f4f2d6"/>
<rect x="308.22" y="513.08" width="7.49" height="1.57" fill="#f8e2a2"/>
<rect x="315.65" y="513.08" width="7.49" height="1.57" fill="#f3f3da"/>
<rect x="323.09" y="513.08" width="7.49" height="1.57" fill="#f6f1cb"/>
<rect x="330.53" y="513.08" width="7.49" height="1.57" fill="#f1f3e4"/>
<rect x="337.96" y="513.08" width="7.49" height="1.57" fill="#f8efbc"/>
<rect x="204.10" y="514.60" width="7.49" height="1.57" fill="#f8de9b"/>
<rect x="211.54" y="514.60" width="7.49" height="1.57" fill="#8db6dc"/>
<rect x="218.97" y="514.60" width="7.49" height="1.57" fill="#f8dc97"/>
<rect x="226.41" y="514.60" width="7.49" height="1.57" fill="#b7d3e8"/>
<rect x="233.85" y="514.60" width="7.49" height="1.57" fill="#f8ebb3"/>
<rect x="241.28" y="514.60" width="7.49" height="1.57" fill="#f4f3d8"/>
<rect x="248.72" y="514.60" width="7.49" height="1.57" fill="#f8e1a0"/>
<rect x="256.16" y="514.60" width="7.49" height="1.57" fill="#f8ebb3"/>
<rect x="263.59" y="514.60" width="7.49" height="1.57" fill="#f8e3a4"/>
<rect x="271.03" y="514.60" width="7.49" height="1.57" fill="#ebf0e5"/>
<rect x="278.47" y="514.60" width="7.49" height="1.57" fill="#bfd8ea"/>
<rect x="285.91" y="514.60" width="7.49" height="1.57" fill="#c7deec"/>
<rect x="293.34" y="514.60" width="7.49" height="1.57" fill="#f4f2d6"/>
<rect x="300.78" y="514.60" width="7.49" height="1.57" fill="#eff3e4"/>
<rect x="308.22" y="514.60" width="7.49" height="1.57" fill="#f5f1ce"/>
<rect x="315.65" y="514.60" width="7.49" height="1.57" fill="#f5f1ce"/>
<rect x="323.09" y="514.60" width="7.49" height="1.57" fill="#f2f4e4"/>
<rect x="330.53" y="514.60" width="7.49" height="1.57" fill="#f4f3d9"/>
<rect x="337.96" y="514.60" width="7.49" height="1.57" fill="#f6f1cb"/>
<rect x="204.10" y="516.13" width="7.49" height="1.57" fill="#f6c880"/>
<rect x="211.54" y="516.13" width="7.49" height="1.57" fill="#93badf"/>
<rect x="218.97" y="516.13" width="7.49" height="1.57" fill="#f3b26b"/>
<rect x="226.41" y="516.13" width="7.49" height="1.57" fill="#eff2e5"/>
<rect x="233.85" y="516.13" width="7.49" height="1.57" fill="#f7cf87"/>
<rect x="241.28" y="516.13" width="7.49" height="1.57" fill="#f7f0c5"/>
<rect x="248.72" y="516.13" width="7.49" height="1.57" fill="#f8e19f"/>
<rect x="256.16" y="516.13" width="7.49" height="1.57" fill="#f4f2d6"/>
<rect x="263.59" y="516.13" width="7.49" height="1.57" fill="#f8e1a1"/>
<rect x="271.03" y="516.13" width="7.49" height="1.57" fill="#f0f3e4"/>
<rect x="278.47" y="516.13" width="7.49" height="1.57" fill="#d3e4ea"/>
<rect x="285.91" y="516.13" width="7.49" height="1.57" fill="#ebf0e5"/>
<rect x="293.34" y="516.13" width="7.49" height="1.57" fill="#f4f3d8"/>
<rect x="300.78" y="516.13" width="7.49" height="1.57" fill="#f5f1cf"/>
<rect x="308.22" y="516.13" width="7.49" height="1.57" fill="#f8e09e"/>
<rect x="315.65" y="516.13" width="7.49" height="1.57" fill="#f6f1cb"/>
<rect x="323.09" y="516.13" width="7.49" height="1.57" fill="#f7f0c1"/>
<rect x="330.53" y="516.13" width="7.49" height="1.57" fill="#f3f3e0"/>
<rect x="337.96" y="516.13" width="7.49" height="1.57" fill="#f3f3de"/>
<rect x="204.10" y="517.65" width="7.49" height="1.57" fill="#f8e09d"/>
<rect x="211.54" y="517.65" width="7.49" height="1.57" fill="#f5f1ce"/>
<rect x="218.97" y="517.65" width="7.49" height="1.57" fill="#f8dd98"/>
<rect x="226.41" y="517.65" width="7.49" height="1.57" fill="#f2f4e2"/>
<rect x="233.85" y="517.65" width="7.49" height="1.57" fill="#f7cf87"/>
<rect x="241.28" y="517.65" width="7.49" height="1.57" fill="#f8d68e"/>
<rect x="248.72" y="517.65" width="7.49" height="1.57" fill="#f8dd97"/>
<rect x="256.16" y="517.65" width="7.49" height="1.57" fill="#f6f1c8"/>
<rect x="263.59" y="517.65" width="7.49" height="1.57" fill="#f6c57d"/>
<rect x="271.03" y="517.65" width="7.49" height="1.57" fill="#d5e5e9"/>
<rect x="278.47" y="517.65" width="7.49" height="1.57" fill="#d3e4ea"/>
<rect x="285.91" y="517.65" width="7.49" height="1.57" fill="#c4dbeb"/>
<rect x="293.34" y="517.65" width="7.49" height="1.57" fill="#dbe8e8"/>
<rect x="300.78" y="517.65" width="7.49" height="1.57" fill="#f3f3da"/>
<rect x="308.22" y="517.65" width="7.49" height="1.57" fill="#f8ecb5"/>
<rect x="315.65" y="517.65" width="7.49" height="1.57" fill="#eff2e5"/>
<rect x="323.09" y="517.65" width="7.49" height="1.57" fill="#f3f3df"/>
<rect x="330.53" y="517.65" width="7.49" height="1.57" fill="#f3f3df"/>
<rect x="337.96" y="517.65" width="7.49" height="1.57" fill="#f4f2d6"/>
<rect x="204.10" y="519.17" width="7.49" height="1.57" fill="#f8d68e"/>
<rect x="211.54" y="519.17" width="7.49" height="1.57" fill="#e0ebe7"/>
<rect x="218.97" y="519.17" width="7.49" height="1.57" fill="#f7f0c2"/>
<rect x="226.41" y="519.17" width="7.49" height="1.57" fill="#b7d3e8"/>
<rect x="233.85" y="519.17" width="7.49" height="1.57" fill="#f8e4a5"/>
<rect x="241.28" y="519.17" width="7.49" height="1.57" fill="#f4f2d4"/>
<rect x="248.72" y="519.17" width="7.49" height="1.57" fill="#f8edb6"/>
<rect x="256.16" y="519.17" width="7.49" height="1.57" fill="#f8dd98"/>
<rect x="263.59" y="519.17" width="7.49" height="1.57" fill="#f8efbc"/>
<rect x="271.03" y="519.17" width="7.49" height="1.57" fill="#b5d1e8"/>
<rect x="278.47" y="519.17" width="7.49" height="1.57" fill="#d5e5e9"/>
<rect x="285.91" y="519.17" width="7.49" height="1.57" fill="#b8d4e9"/>
<rect x="293.34" y="519.17" width="7.49" height="1.57" fill="#e8efe6"/>
<rect x="300.78" y="519.17" width="7.49" height="1.57" fill="#cbe0eb"/>
<rect x="308.22" y="519.17" width="7.49" height="1.57" fill="#f7f0bf"/>
<rect x="315.65" y="519.17" width="7.49" height="1.57" fill="#f3f3dd"/>
<rect x="323.09" y="519.17" width="7.49" height="1.57" fill="#f1f4e4"/>
<rect x="330.53" y="519.17" width="7.49" height="1.57" fill="#e9efe6"/>
<rect x="337.96" y="519.17" width="7.49" height="1.57" fill="#cadfeb"/>
<rect x="204.10" y="520.70" width="7.49" height="1.57" fill="#f8e09d"/>
<rect x="211.54" y="520.70" width="7.49" height="1.57" fill="#85afd9"/>
<rect x="218.97" y="520.70" width="7.49" height="1.57" fill="#f8ecb5"/>
<rect x="226.41" y="520.70" width="7.49" height="1.57" fill="#b9d4e9"/>
<rect x="233.85" y="520.70" width="7.49" height="1.57" fill="#f8ecb6"/>
<rect x="241.28" y="520.70" width="7.49" height="1.57" fill="#e4ece7"/>
<rect x="248.72" y="520.70" width="7.49" height="1.57" fill="#f7d48c"/>
<rect x="256.16" y="520.70" width="7.49" height="1.57" fill="#f8edb7"/>
<rect x="263.59" y="520.70" width="7.49" height="1.57" fill="#f8da92"/>
<rect x="271.03" y="520.70" width="7.49" height="1.57" fill="#cee1eb"/>
<rect x="278.47" y="520.70" width="7.49" height="1.57" fill="#c4dcec"/>
<rect x="285.91" y="520.70" width="7.49" height="1.57" fill="#cde0eb"/>
<rect x="293.34" y="520.70" width="7.49" height="1.57" fill="#f3f4e0"/>
<rect x="300.78" y="520.70" width="7.49" height="1.57" fill="#e4ede7"/>
<rect x="308.22" y="520.70" width="7.49" height="1.57" fill="#f3f3e0"/>
<rect x="315.65" y="520.70" width="7.49" height="1.57" fill="#dae8e8"/>
<rect x="323.09" y="520.70" width="7.49" height="1.57" fill="#e3ece7"/>
<rect x="330.53" y="520.70" width="7.49" height="1.57" fill="#f2f4e2"/>
<rect x="337.96" y="520.70" width="7.49" height="1.57" fill="#cbe0eb"/>
<rect x="204.10" y="522.22" width="7.49" height="1.57" fill="#f6c47c"/>
<rect x="211.54" y="522.22" width="7.49" height="1.57" fill="#ebf0e5"/>
<rect x="218.97" y="522.22" width="7.49" height="1.57" fill="#f8dc96"/>
<rect x="226.41" y="522.22" width="7.49" height="1.57" fill="#c7deec"/>
<rect x="233.85" y="522.22" width="7.49" height="1.57" fill="#f7f0c4"/>
<rect x="241.28" y="522.22" width="7.49" height="1.57" fill="#f4f2d5"/>
<rect x="248.72" y="522.22" width="7.49" height="1.57" fill="#e8efe6"/>
<rect x="256.16" y="522.22" width="7.49" height="1.57" fill="#f8df9c"/>
<rect x="263.59" y="522.22" width="7.49" height="1.57" fill="#f8d890"/>
<rect x="271.03" y="522.22" width="7.49" height="1.57" fill="#c7ddec"/>
<rect x="278.47" y="522.22" width="7.49" height="1.57" fill="#b0cee6"/>
<rect x="285.91" y="522.22" width="7.49" height="1.57" fill="#c6ddec"/>
<rect x="293.34" y="522.22" width="7.49" height="1.57" fill="#f2f4e4"/>
<rect x="300.78" y="522.22" width="7.49" height="1.57" fill="#f3f4e0"/>
<rect x="308.22" y="522.22" width="7.49" height="1.57" fill="#e8efe6"/>
<rect x="315.65" y="522.22" width="7.49" height="1.57" fill="#d0e2ea"/>
<rect x="323.09" y="522.22" width="7.49" height="1.57" fill="#dfeae7"/>
<rect x="330.53" y="522.22" width="7.49" height="1.57" fill="#d0e2ea"/>
<rect x="337.96" y="522.22" width="7.49" height="1.57" fill="#f2f4e2"/>
<rect x="204.10" y="523.74" width="7.49" height="1.57" fill="#f8dc95"/>
<rect x="211.54" y="523.74" width="7.49" height="1.57" fill="#f5f1cc"/>
<rect x="218.97" y="523.74" width="7.49" height="1.57" fill="#f8d78f"/>
<rect x="226.41" y="523.74" width="7.49" height="1.57" fill="#cadfeb"/>
<rect x="233.85" y="523.74" width="7.49" height="1.57" fill="#f8e1a0"/>
<rect x="241.28" y="523.74" width="7.49" height="1.57" fill="#f8edb8"/>
<rect x="248.72" y="523.74" width="7.49" height="1.57" fill="#f6c77f"/>
<rect x="256.16" y="523.74" width="7.49" height="1.57" fill="#f8e8ae"/>
<rect x="263.59" y="523.74" width="7.49" height="1.57" fill="#f6c67e"/>
<rect x="271.03" y="523.74" width="7.49" height="1.57" fill="#bfd8ea"/>
<rect x="278.47" y="523.74" width="7.49" height="1.57" fill="#d4e4e9"/>
<rect x="285.91" y="523.74" width="7.49" height="1.57" fill="#c9deec"/>
<rect x="293.34" y="523.74" width="7.49" height="1.57" fill="#dee9e8"/>
<rect x="300.78" y="523.74" width="7.49" height="1.57" fill="#f3f3de"/>
<rect x="308.22" y="523.74" width="7.49" height="1.57" fill="#f3f3de"/>
<rect x="315.65" y="523.74" width="7.49" height="1.57" fill="#deeae8"/>
<rect x="323.09" y="523.74" width="7.49" height="1.57" fill="#f3f3db"/>
<rect x="330.53" y="523.74" width="7.49" height="1.57" fill="#d8e7e9"/>
<rect x="337.96" y="523.74" width="7.49" height="1.57" fill="#e9efe6"/>
<rect x="204.10" y="525.26" width="7.49" height="1.57" fill="#f8eeb8"/>
<rect x="211.54" y="525.26" width="7.49" height="1.57" fill="#dce8e8"/>
<rect x="218.97" y="525.26" width="7.49" height="1.57" fill="#f8e6aa"/>
<rect x="226.41" y="525.26" width="7.49" height="1.57" fill="#c1daeb"/>
<rect x="233.85" y="525.26" width="7.49" height="1.57" fill="#f6f1c9"/>
<rect x="241.28" y="525.26" width="7.49" height="1.57" fill="#f4f2d6"/>
<rect x="248.72" y="525.26" width="7.49" height="1.57" fill="#f8db94"/>
<rect x="256.16" y="525.26" width="7.49" height="1.57" fill="#f8edb7"/>
<rect x="263.59" y="525.26" width="7.49" height="1.57" fill="#f8ecb4"/>
<rect x="271.03" y="525.26" width="7.49" height="1.57" fill="#c6ddec"/>
<rect x="278.47" y="525.26" width="7.49" height="1.57" fill="#cde1eb"/>
<rect x="285.91" y="525.26" width="7.49" height="1.57" fill="#adcce6"/>
<rect x="293.34" y="525.26" width="7.49" height="1.57" fill="#d9e7e9"/>
<rect x="300.78" y="525.26" width="7.49" height="1.57" fill="#d8e6e9"/>
<rect x="308.22" y="525.26" width="7.49" height="1.57" fill="#d5e5e9"/>
<rect x="315.65" y="525.26" width="7.49" height="1.57" fill="#e4ede6"/>
<rect x="323.09" y="525.26" width="7.49" height="1.57" fill="#e8efe6"/>
<rect x="330.53" y="525.26" width="7.49" height="1.57" fill="#bfd8ea"/>
<rect x="337.96" y="525.26" width="7.49" height="1.57" fill="#d3e4ea"/>
<rect x="204.10" y="526.79" width="7.49" height="1.57" fill="#f7cf87"/>
<rect x="211.54" y="526.79" width="7.49" height="1.57" fill="#f3f3da"/>
<rect x="218.97" y="526.79" width="7.49" height="1.57" fill="#f7d58d"/>
<rect x="226.41" y="526.79" width="7.49" height="1.57" fill="#d2e3ea"/>
<rect x="233.85" y="526.79" width="7.49" height="1.57" fill="#c2daeb"/>
<rect x="241.28" y="526.79" width="7.49" height="1.57" fill="#f4f2d5"/>
<rect x="248.72" y="526.79" width="7.49" height="1.57" fill="#f8dc97"/>
<rect x="256.16" y="526.79" width="7.49" height="1.57" fill="#f8e2a2"/>
<rect x="263.59" y="526.79" width="7.49" height="1.57" fill="#f8df9c"/>
<rect x="271.03" y="526.79" width="7.49" height="1.57" fill="#a5c6e4"/>
<rect x="278.47" y="526.79" width="7.49" height="1.57" fill="#accbe5"/>
<rect x="285.91" y="526.79" width="7.49" height="1.57" fill="#b0cee6"/>
<rect x="293.34" y="526.79" width="7.49" height="1.57" fill="#c5dcec"/>
<rect x="300.78" y="526.79" width="7.49" height="1.57" fill="#c7deec"/>
<rect x="308.22" y="526.79" width="7.49" height="1.57" fill="#f4f2d3"/>
<rect x="315.65" y="526.79" width="7.49" height="1.57" fill="#d6e5e9"/>
<rect x="323.09" y="526.79" width="7.49" height="1.57" fill="#c2daeb"/>
<rect x="330.53" y="526.79" width="7.49" height="1.57" fill="#b7d3e8"/>
<rect x="337.96" y="526.79" width="7.49" height="1.57" fill="#bdd7ea"/>
<rect x="204.10" y="528.31" width="7.49" height="1.57" fill="#ef9e5c"/>
<rect x="211.54" y="528.31" width="7.49" height="1.57" fill="#dce8e8"/>
<rect x="218.97" y="528.31" width="7.49" height="1.57" fill="#f3b06a"/>
<rect x="226.41" y="528.31" width="7.49" height="1.57" fill="#f6f1ca"/>
<rect x="233.85" y="528.31" width="7.49" height="1.57" fill="#f4f3d9"/>
<rect x="241.28" y="528.31" width="7.49" height="1.57" fill="#f8edb7"/>
<rect x="248.72" y="528.31" width="7.49" height="1.57" fill="#f7d088"/>
<rect x="256.16" y="528.31" width="7.49" height="1.57" fill="#f8de9a"/>
<rect x="263.59" y="528.31" width="7.49" height="1.57" fill="#f6ca82"/>
<rect x="271.03" y="528.31" width="7.49" height="1.57" fill="#d3e4ea"/>
<rect x="278.47" y="528.31" width="7.49" height="1.57" fill="#dee9e8"/>
<rect x="285.91" y="528.31" width="7.49" height="1.57" fill="#b0cee6"/>
<rect x="293.34" y="528.31" width="7.49" height="1.57" fill="#cce0eb"/>
<rect x="300.78" y="528.31" width="7.49" height="1.57" fill="#c2daeb"/>
<rect x="308.22" y="528.31" width="7.49" height="1.57" fill="#f7f0c5"/>
<rect x="315.65" y="528.31" width="7.49" height="1.57" fill="#c5dcec"/>
<rect x="323.09" y="528.31" width="7.49" height="1.57" fill="#dee9e8"/>
<rect x="330.53" y="528.31" width="7.49" height="1.57" fill="#dbe8e8"/>
<rect x="337.96" y="528.31" width="7.49" height="1.57" fill="#e3ece7"/>
<rect x="204.10" y="529.83" width="7.49" height="1.57" fill="#f3b26b"/>
<rect x="211.54" y="529.83" width="7.49" height="1.57" fill="#e6eee6"/>
<rect x="218.97" y="529.83" width="7.49" height="1.57" fill="#f8eab1"/>
<rect x="226.41" y="529.83" width="7.49" height="1.57" fill="#c1daeb"/>
<rect x="233.85" y="529.83" width="7.49" height="1.57" fill="#f8de9a"/>
<rect x="241.28" y="529.83" width="7.49" height="1.57" fill="#f8e5a7"/>
<rect x="248.72" y="529.83" width="7.49" height="1.57" fill="#f5bf77"/>
<rect x="256.16" y="529.83" width="7.49" height="1.57" fill="#f8e4a6"/>
<rect x="263.59" y="529.83" width="7.49" height="1.57" fill="#f8edb7"/>
<rect x="271.03" y="529.83" width="7.49" height="1.57" fill="#c6ddec"/>
<rect x="278.47" y="529.83" width="7.49" height="1.57" fill="#b5d1e8"/>
<rect x="285.91" y="529.83" width="7.49" height="1.57" fill="#c7ddec"/>
<rect x="293.34" y="529.83" width="7.49" height="1.57" fill="#b0cee6"/>
<rect x="300.78" y="529.83" width="7.49" height="1.57" fill="#c3dbeb"/>
<rect x="308.22" y="529.83" width="7.49" height="1.57" fill="#cce0eb"/>
<rect x="315.65" y="529.83" width="7.49" height="1.57" fill="#d3e4ea"/>
<rect x="323.09" y="529.83" width="7.49" height="1.57" fill="#bfd8ea"/>
<rect x="330.53" y="529.83" width="7.49" height="1.57" fill="#d4e4ea"/>
<rect x="337.96" y="529.83" width="7.49" height="1.57" fill="#c9dfeb"/>
<rect x="204.10" y="531.36" width="7.49" height="1.57" fill="#f7ce86"/>
<rect x="211.54" y="531.36" width="7.49" height="1.57" fill="#f6f0c6"/>
<rect x="218.97" y="531.36" width="7.49" height="1.57" fill="#f8e5a7"/>
<rect x="226.41" y="531.36" width="7.49" height="1.57" fill="#f5f1cc"/>
<rect x="233.85" y="531.36" width="7.49" height="1.57" fill="#f8e8ad"/>
<rect x="241.28" y="531.36" width="7.49" height="1.57" fill="#f8e6aa"/>
<rect x="248.72" y="531.36" width="7.49" height="1.57" fill="#f8df9c"/>
<rect x="256.16" y="531.36" width="7.49" height="1.57" fill="#f6c57d"/>
<rect x="263.59" y="531.36" width="7.49" height="1.57" fill="#f5c27a"/>
<rect x="271.03" y="531.36" width="7.49" height="1.57" fill="#bcd6ea"/>
<rect x="278.47" y="531.36" width="7.49" height="1.57" fill="#aecce6"/>
<rect x="285.91" y="531.36" width="7.49" height="1.57" fill="#bad5e9"/>
<rect x="293.34" y="531.36" width="7.49" height="1.57" fill="#bbd5e9"/>
<rect x="300.78" y="531.36" width="7.49" height="1.57" fill="#cde1eb"/>
<rect x="308.22" y="531.36" width="7.49" height="1.57" fill="#d3e4ea"/>
<rect x="315.65" y="531.36" width="7.49" height="1.57" fill="#b9d4e9"/>
<rect x="323.09" y="531.36" width="7.49" height="1.57" fill="#d5e5e9"/>
<rect x="330.53" y="531.36" width="7.49" height="1.57" fill="#dae8e8"/>
<rect x="337.96" y="531.36" width="7.49" height="1.57" fill="#d6e6e9"/>
<rect x="204.10" y="532.88" width="7.49" height="1.57" fill="#f7ce86"/>
<rect x="211.54" y="532.88" width="7.49" height="1.57" fill="#e5ede6"/>
<rect x="218.97" y="532.88" width="7.49" height="1.57" fill="#f8e6aa"/>
<rect x="226.41" y="532.88" width="7.49" height="1.57" fill="#cbdfeb"/>
<rect x="233.85" y="532.88" width="7.49" height="1.57" fill="#f7f0c2"/>
<rect x="241.28" y="532.88" width="7.49" height="1.57" fill="#f8edb6"/>
<rect x="248.72" y="532.88" width="7.49" height="1.57" fill="#f4b66e"/>
<rect x="256.16" y="532.88" width="7.49" height="1.57" fill="#f6c880"/>
<rect x="263.59" y="532.88" width="7.49" height="1.57" fill="#f7cd85"/>
<rect x="271.03" y="532.88" width="7.49" height="1.57" fill="#c0d9ea"/>
<rect x="278.47" y="532.88" width="7.49" height="1.57" fill="#b0cee6"/>
<rect x="285.91" y="532.88" width="7.49" height="1.57" fill="#98bee0"/>
<rect x="293.34" y="532.88" width="7.49" height="1.57" fill="#d3e4ea"/>
<rect x="300.78" y="532.88" width="7.49" height="1.57" fill="#b6d2e8"/>
<rect x="308.22" y="532.88" width="7.49" height="1.57" fill="#cbe0eb"/>
<rect x="315.65" y="532.88" width="7.49" height="1.57" fill="#b9d4e9"/>
<rect x="323.09" y="532.88" width="7.49" height="1.57" fill="#c3dbeb"/>
<rect x="330.53" y="532.88" width="7.49" height="1.57" fill="#d5e5e9"/>
<rect x="337.96" y="532.88" width="7.49" height="1.57" fill="#c1daeb"/>
<rect x="204.10" y="534.40" width="7.49" height="1.57" fill="#f5bc74"/>
<rect x="211.54" y="534.40" width="7.49" height="1.57" fill="#f4f2d4"/>
<rect x="218.97" y="534.40" width="7.49" height="1.57" fill="#f8df9d"/>
<rect x="226.41" y="534.40" width="7.49" height="1.57" fill="#dce9e8"/>
<rect x="233.85" y="534.40" width="7.49" height="1.57" fill="#f3f3dd"/>
<rect x="241.28" y="534.40" width="7.49" height="1.57" fill="#f8de9a"/>
<rect x="248.72" y="534.40" width="7.49" height="1.57" fill="#f5c37b"/>
<rect x="256.16" y="534.40" width="7.49" height="1.57" fill="#f5f2d3"/>
<rect x="263.59" y="534.40" width="7.49" height="1.57" fill="#f8efbe"/>
<rect x="271.03" y="534.40" width="7.49" height="1.57" fill="#86b0da"/>
<rect x="278.47" y="534.40" width="7.49" height="1.57" fill="#87b0da"/>
<rect x="285.91" y="534.40" width="7.49" height="1.57" fill="#aacae5"/>
<rect x="293.34" y="534.40" width="7.49" height="1.57" fill="#a0c3e2"/>
<rect x="300.78" y="534.40" width="7.49" height="1.57" fill="#aecce6"/>
<rect x="308.22" y="534.40" width="7.49" height="1.57" fill="#c0d9eb"/>
<rect x="315.65" y="534.40" width="7.49" height="1.57" fill="#a9c9e5"/>
<rect x="323.09" y="534.40" width="7.49" height="1.57" fill="#a5c7e4"/>
<rect x="330.53" y="534.40" width="7.49" height="1.57" fill="#a9c9e4"/>
<rect x="337.96" y="534.40" width="7.49" height="1.57" fill="#9cc0e1"/>
<rect x="204.10" y="535.93" width="7.49" height="1.57" fill="#f8e3a4"/>
<rect x="211.54" y="535.93" width="7.49" height="1.57" fill="#cadfeb"/>
<rect x="218.97" y="535.93" width="7.49" height="1.57" fill="#f6c47c"/>
<rect x="226.41" y="535.93" width="7.49" height="1.57" fill="#e8efe6"/>
<rect x="233.85" y="535.93" width="7.49" height="1.57" fill="#f7f0c4"/>
<rect x="241.28" y="535.93" width="7.49" height="1.57" fill="#f8eeb9"/>
<rect x="248.72" y="535.93" width="7.49" height="1.57" fill="#f8e2a2"/>
<rect x="256.16" y="535.93" width="7.49" height="1.57" fill="#f8d890"/>
<rect x="263.59" y="535.93" width="7.49" height="1.57" fill="#f8e2a2"/>
<rect x="271.03" y="535.93" width="7.49" height="1.57" fill="#a1c4e3"/>
<rect x="278.47" y="535.93" width="7.49" height="1.57" fill="#7da9d6"/>
<rect x="285.91" y="535.93" width="7.49" height="1.57" fill="#82add8"/>
<rect x="293.34" y="535.93" width="7.49" height="1.57" fill="#93bade"/>
<rect x="300.78" y="535.93" width="7.49" height="1.57" fill="#bad5e9"/>
<rect x="308.22" y="535.93" width="7.49" height="1.57" fill="#b2cfe7"/>
<rect x="315.65" y="535.93" width="7.49" height="1.57" fill="#adcce5"/>
<rect x="323.09" y="535.93" width="7.49" height="1.57" fill="#8fb7dd"/>
<rect x="330.53" y="535.93" width="7.49" height="1.57" fill="#97bde0"/>
<rect x="337.96" y="535.93" width="7.49" height="1.57" fill="#b0cee6"/>
<rect x="204.10" y="537.45" width="7.49" height="1.57" fill="#f8d78f"/>
<rect x="211.54" y="537.45" width="7.49" height="1.57" fill="#deeae8"/>
<rect x="218.97" y="537.45" width="7.49" height="1.57" fill="#f8efbb"/>
<rect x="226.41" y="537.45" width="7.49" height="1.57" fill="#f4f2d6"/>
<rect x="233.85" y="537.45" width="7.49" height="1.57" fill="#f8d68e"/>
<rect x="241.28" y="537.45" width="7.49" height="1.57" fill="#f8e19f"/>
<rect x="248.72" y="537.45" width="7.49" height="1.57" fill="#f8e1a0"/>
<rect x="256.16" y="537.45" width="7.49" height="1.57" fill="#f6cc84"/>
<rect x="263.59" y="537.45" width="7.49" height="1.57" fill="#f8e7ab"/>
<rect x="271.03" y="537.45" width="7.49" height="1.57" fill="#7eaad7"/>
<rect x="278.47" y="537.45" width="7.49" height="1.57" fill="#a5c7e4"/>
<rect x="285.91" y="537.45" width="7.49" height="1.57" fill="#7faad7"/>
<rect x="293.34" y="537.45" width="7.49" height="1.57" fill="#92b9de"/>
<rect x="300.78" y="537.45" width="7.49" height="1.57" fill="#bed8ea"/>
<rect x="308.22" y="537.45" width="7.49" height="1.57" fill="#b9d4e9"/>
<rect x="315.65" y="537.45" width="7.49" height="1.57" fill="#a9c9e5"/>
<rect x="323.09" y="537.45" width="7.49" height="1.57" fill="#b3d0e7"/>
<rect x="330.53" y="537.45" width="7.49" height="1.57" fill="#b4d1e7"/>
<rect x="337.96" y="537.45" width="7.49" height="1.57" fill="#8db5dc"/>
<rect x="204.10" y="538.97" width="7.49" height="1.57" fill="#f5bb73"/>
<rect x="211.54" y="538.97" width="7.49" height="1.57" fill="#f6f1c8"/>
<rect x="218.97" y="538.97" width="7.49" height="1.57" fill="#f4b56d"/>
<rect x="226.41" y="538.97" width="7.49" height="1.57" fill="#f3f3dd"/>
<rect x="233.85" y="538.97" width="7.49" height="1.57" fill="#f8dc97"/>
<rect x="241.28" y="538.97" width="7.49" height="1.57" fill="#f7d28a"/>
<rect x="248.72" y="538.97" width="7.49" height="1.57" fill="#f2ae68"/>
<rect x="256.16" y="538.97" width="7.49" height="1.57" fill="#f6ca82"/>
<rect x="263.59" y="538.97" width="7.49" height="1.57" fill="#f7d58d"/>
<rect x="271.03" y="538.97" width="7.49" height="1.57" fill="#9fc2e2"/>
<rect x="278.47" y="538.97" width="7.49" height="1.57" fill="#a6c7e4"/>
<rect x="285.91" y="538.97" width="7.49" height="1.57" fill="#94badf"/>
<rect x="293.34" y="538.97" width="7.49" height="1.57" fill="#90b8de"/>
<rect x="300.78" y="538.97" width="7.49" height="1.57" fill="#a3c5e3"/>
<rect x="308.22" y="538.97" width="7.49" height="1.57" fill="#a6c7e4"/>
<rect x="315.65" y="538.97" width="7.49" height="1.57" fill="#c1d9eb"/>
<rect x="323.09" y="538.97" width="7.49" height="1.57" fill="#accbe5"/>
<rect x="330.53" y="538.97" width="7.49" height="1.57" fill="#a7c8e4"/>
<rect x="337.96" y="538.97" width="7.49" height="1.57" fill="#aacae5"/>
<rect x="204.10" y="540.49" width="7.49" height="1.57" fill="#f5bc74"/>
<rect x="211.54" y="540.49" width="7.49" height="1.57" fill="#f7f0c3"/>
<rect x="218.97" y="540.49" width="7.49" height="1.57" fill="#f5c179"/>
<rect x="226.41" y="540.49" width="7.49" height="1.57" fill="#d9e7e9"/>
<rect x="233.85" y="540.49" width="7.49" height="1.57" fill="#f8efbb"/>
<rect x="241.28" y="540.49" width="7.49" height="1.57" fill="#f8efbc"/>
<rect x="248.72" y="540.49" width="7.49" height="1.57" fill="#f4ba72"/>
<rect x="256.16" y="540.49" width="7.49" height="1.57" fill="#f8e8ad"/>
<rect x="263.59" y="540.49" width="7.49" height="1.57" fill="#f8e3a4"/>
<rect x="271.03" y="540.49" width="7.49" height="1.57" fill="#9bbfe1"/>
<rect x="278.47" y="540.49" width="7.49" height="1.57" fill="#8fb7dd"/>
<rect x="285.91" y="540.49" width="7.49" height="1.57" fill="#7aa6d5"/>
<rect x="293.34" y="540.49" width="7.49" height="1.57" fill="#a8c9e4"/>
<rect x="300.78" y="540.49" width="7.49" height="1.57" fill="#98bee0"/>
<rect x="308.22" y="540.49" width="7.49" height="1.57" fill="#b3d0e7"/>
<rect x="315.65" y="540.49" width="7.49" height="1.57" fill="#a0c3e2"/>
<rect x="323.09" y="540.49" width="7.49" height="1.57" fill="#7fabd7"/>
<rect x="330.53" y="540.49" width="7.49" height="1.57" fill="#9dc1e2"/>
<rect x="337.96" y="540.49" width="7.49" height="1.57" fill="#81acd8"/>
<rect x="204.10" y="542.02" width="7.49" height="1.57" fill="#f8d78f"/>
<rect x="211.54" y="542.02" width="7.49" height="1.57" fill="#f5f2d2"/>
<rect x="218.97" y="542.02" width="7.49" height="1.57" fill="#f3b06a"/>
<rect x="226.41" y="542.02" width="7.49" height="1.57" fill="#f8efbe"/>
<rect x="233.85" y="542.02" width="7.49" height="1.57" fill="#f7d189"/>
<rect x="241.28" y="542.02" width="7.49" height="1.57" fill="#f5c179"/>
<rect x="248.72" y="542.02" width="7.49" height="1.57" fill="#f7d189"/>
<rect x="256.16" y="542.02" width="7.49" height="1.57" fill="#f8e2a2"/>
<rect x="263.59" y="542.02" width="7.49" height="1.57" fill="#f1a763"/>
<rect x="271.03" y="542.02" width="7.49" height="1.57" fill="#7aa6d5"/>
<rect x="278.47" y="542.02" width="7.49" height="1.57" fill="#92b9de"/>
<rect x="285.91" y="542.02" width="7.49" height="1.57" fill="#8ab3db"/>
<rect x="293.34" y="542.02" width="7.49" height="1.57" fill="#afcde6"/>
<rect x="300.78" y="542.02" width="7.49" height="1.57" fill="#a7c8e4"/>
<rect x="308.22" y="542.02" width="7.49" height="1.57" fill="#a3c5e3"/>
<rect x="315.65" y="542.02" width="7.49" height="1.57" fill="#b3d0e7"/>
<rect x="323.09" y="542.02" width="7.49" height="1.57" fill="#94bbdf"/>
<rect x="330.53" y="542.02" width="7.49" height="1.57" fill="#a9c9e5"/>
<rect x="337.96" y="542.02" width="7.49" height="1.57" fill="#90b8dd"/>
<rect x="204.10" y="543.54" width="7.49" height="1.57" fill="#f8e2a2"/>
<rect x="211.54" y="543.54" width="7.49" height="1.57" fill="#eef2e5"/>
<rect x="218.97" y="543.54" width="7.49" height="1.57" fill="#f8eeb9"/>
<rect x="226.41" y="543.54" width="7.49" height="1.57" fill="#bfd8ea"/>
<rect x="233.85" y="543.54" width="7.49" height="1.57" fill="#f7f0c1"/>
<rect x="241.28" y="543.54" width="7.49" height="1.57" fill="#f8de9a"/>
<rect x="248.72" y="543.54" width="7.49" height="1.57" fill="#f8efbb"/>
<rect x="256.16" y="543.54" width="7.49" height="1.57" fill="#f4f2d4"/>
<rect x="263.59" y="543.54" width="7.49" height="1.57" fill="#f8e1a0"/>
<rect x="271.03" y="543.54" width="7.49" height="1.57" fill="#6596cd"/>
<rect x="278.47" y="543.54" width="7.49" height="1.57" fill="#6596cd"/>
<rect x="285.91" y="543.54" width="7.49" height="1.57" fill="#84aed9"/>
<rect x="293.34" y="543.54" width="7.49" height="1.57" fill="#6697cd"/>
<rect x="300.78" y="543.54" width="7.49" height="1.57" fill="#8eb6dd"/>
<rect x="308.22" y="543.54" width="7.49" height="1.57" fill="#a1c4e3"/>
<rect x="315.65" y="543.54" width="7.49" height="1.57" fill="#8eb6dd"/>
<rect x="323.09" y="543.54" width="7.49" height="1.57" fill="#6c9cd0"/>
<rect x="330.53" y="543.54" width="7.49" height="1.57" fill="#8cb5dc"/>
<rect x="337.96" y="543.54" width="7.49" height="1.57" fill="#73a1d3"/>
<rect x="204.10" y="545.06" width="7.49" height="1.57" fill="#f8d78f"/>
<rect x="211.54" y="545.06" width="7.49" height="1.57" fill="#f8e9af"/>
<rect x="218.97" y="545.06" width="7.49" height="1.57" fill="#f3b36c"/>
<rect x="226.41" y="545.06" width="7.49" height="1.57" fill="#e5ede6"/>
<rect x="233.85" y="545.06" width="7.49" height="1.57" fill="#f8e8ad"/>
<rect x="241.28" y="545.06" width="7.49" height="1.57" fill="#f8edb7"/>
<rect x="248.72" y="545.06" width="7.49" height="1.57" fill="#f0a15e"/>
<rect x="256.16" y="545.06" width="7.49" height="1.57" fill="#f8d68e"/>
<rect x="263.59" y="545.06" width="7.49" height="1.57" fill="#f8efbd"/>
<rect x="271.03" y="545.06" width="7.49" height="1.57" fill="#6a9acf"/>
<rect x="278.47" y="545.06" width="7.49" height="1.57" fill="#7da9d6"/>
<rect x="285.91" y="545.06" width="7.49" height="1.57" fill="#7da9d6"/>
<rect x="293.34" y="545.06" width="7.49" height="1.57" fill="#9bbfe1"/>
<rect x="300.78" y="545.06" width="7.49" height="1.57" fill="#a3c5e3"/>
<rect x="308.22" y="545.06" width="7.49" height="1.57" fill="#a8c9e4"/>
<rect x="315.65" y="545.06" width="7.49" height="1.57" fill="#8ab3db"/>
<rect x="323.09" y="545.06" width="7.49" height="1.57" fill="#79a6d5"/>
<rect x="330.53" y="545.06" width="7.49" height="1.57" fill="#86b0da"/>
<rect x="337.96" y="545.06" width="7.49" height="1.57" fill="#89b2db"/>
<rect x="204.10" y="546.59" width="7.49" height="1.57" fill="#f6c67e"/>
<rect x="211.54" y="546.59" width="7.49" height="1.57" fill="#d7e6e9"/>
<rect x="218.97" y="546.59" width="7.49" height="1.57" fill="#f8e4a5"/>
<rect x="226.41" y="546.59" width="7.49" height="1.57" fill="#f3f3de"/>
<rect x="233.85" y="546.59" width="7.49" height="1.57" fill="#f8e6a9"/>
<rect x="241.28" y="546.59" width="7.49" height="1.57" fill="#f8db93"/>
<rect x="248.72" y="546.59" width="7.49" height="1.57" fill="#f8db93"/>
<rect x="256.16" y="546.59" width="7.49" height="1.57" fill="#f6f1c9"/>
<rect x="263.59" y="546.59" width="7.49" height="1.57" fill="#f7ce86"/>
<rect x="271.03" y="546.59" width="7.49" height="1.57" fill="#5e90ca"/>
<rect x="278.47" y="546.59" width="7.49" height="1.57" fill="#578ac7"/>
<rect x="285.91" y="546.59" width="7.49" height="1.57" fill="#5286c4"/>
<rect x="293.34" y="546.59" width="7.49" height="1.57" fill="#568ac6"/>
<rect x="300.78" y="546.59" width="7.49" height="1.57" fill="#5a8dc8"/>
<rect x="308.22" y="546.59" width="7.49" height="1.57" fill="#6f9ed1"/>
<rect x="315.65" y="546.59" width="7.49" height="1.57" fill="#6c9cd0"/>
<rect x="323.09" y="546.59" width="7.49" height="1.57" fill="#75a3d3"/>
<rect x="330.53" y="546.59" width="7.49" height="1.57" fill="#76a3d4"/>
<rect x="337.96" y="546.59" width="7.49" height="1.57" fill="#6092ca"/>
<rect x="204.10" y="548.11" width="7.49" height="1.57" fill="#f7d58d"/>
<rect x="211.54" y="548.11" width="7.49" height="1.57" fill="#f8e7ac"/>
<rect x="218.97" y="548.11" width="7.49" height="1.57" fill="#f5bb73"/>
<rect x="226.41" y="548.11" width="7.49" height="1.57" fill="#f7f0c0"/>
<rect x="233.85" y="548.11" width="7.49" height="1.57" fill="#f6ca82"/>
<rect x="241.28" y="548.11" width="7.49" height="1.57" fill="#f8e1a0"/>
<rect x="248.72" y="548.11" width="7.49" height="1.57" fill="#f7cf87"/>
<rect x="256.16" y="548.11" width="7.49" height="1.57" fill="#f7d58d"/>
<rect x="263.59" y="548.11" width="7.49" height="1.57" fill="#f5c37b"/>
<rect x="271.03" y="548.11" width="7.49" height="1.57" fill="#6092cb"/>
<rect x="278.47" y="548.11" width="7.49" height="1.57" fill="#78a5d5"/>
<rect x="285.91" y="548.11" width="7.49" height="1.57" fill="#71a0d2"/>
<rect x="293.34" y="548.11" width="7.49" height="1.57" fill="#7da9d6"/>
<rect x="300.78" y="548.11" width="7.49" height="1.57" fill="#6f9ed1"/>
<rect x="308.22" y="548.11" width="7.49" height="1.57" fill="#81acd8"/>
<rect x="315.65" y="548.11" width="7.49" height="1.57" fill="#6193cb"/>
<rect x="323.09" y="548.11" width="7.49" height="1.57" fill="#6a9acf"/>
<rect x="330.53" y="548.11" width="7.49" height="1.57" fill="#7aa7d5"/>
<rect x="337.96" y="548.11" width="7.49" height="1.57" fill="#7aa7d5"/>
<rect x="204.10" y="549.63" width="7.49" height="1.57" fill="#f8e4a5"/>
<rect x="211.54" y="549.63" width="7.49" height="1.57" fill="#deeae8"/>
<rect x="218.97" y="549.63" width="7.49" height="1.57" fill="#f8efbd"/>
<rect x="226.41" y="549.63" width="7.49" height="1.57" fill="#e2ece7"/>
<rect x="233.85" y="549.63" width="7.49" height="1.57" fill="#f8de99"/>
<rect x="241.28" y="549.63" width="7.49" height="1.57" fill="#f8e5a8"/>
<rect x="248.72" y="549.63" width="7.49" height="1.57" fill="#f3b26b"/>
<rect x="256.16" y="549.63" width="7.49" height="1.57" fill="#f8e9af"/>
<rect x="263.59" y="549.63" width="7.49" height="1.57" fill="#f6c981"/>
<rect x="271.03" y="549.63" width="7.49" height="1.57" fill="#6798ce"/>
<rect x="278.47" y="549.63" width="7.49" height="1.57" fill="#5e90ca"/>
<rect x="285.91" y="549.63" width="7.49" height="1.57" fill="#5286c4"/>
<rect x="293.34" y="549.63" width="7.49" height="1.57" fill="#6697cd"/>
<rect x="300.78" y="549.63" width="7.49" height="1.57" fill="#497dbf"/>
<rect x="308.22" y="549.63" width="7.49" height="1.57" fill="#6798ce"/>
<rect x="315.65" y="549.63" width="7.49" height="1.57" fill="#487cbe"/>
<rect x="323.09" y="549.63" width="7.49" height="1.57" fill="#5387c5"/>
<rect x="330.53" y="549.63" width="7.49" height="1.57" fill="#4c80c1"/>
<rect x="337.96" y="549.63" width="7.49" height="1.57" fill="#5c8fc9"/>
<rect x="204.10" y="551.15" width="7.49" height="1.57" fill="#f6cc84"/>
<rect x="211.54" y="551.15" width="7.49" height="1.57" fill="#f7f0c3"/>
<rect x="218.97" y="551.15" width="7.49" height="1.57" fill="#f8dd98"/>
<rect x="226.41" y="551.15" width="7.49" height="1.57" fill="#f5f2d1"/>
<rect x="233.85" y="551.15" width="7.49" height="1.57" fill="#f7d28a"/>
<rect x="241.28" y="551.15" width="7.49" height="1.57" fill="#f2f4e4"/>
<rect x="248.72" y="551.15" width="7.49" height="1.57" fill="#f4f2d5"/>
<rect x="256.16" y="551.15" width="7.49" height="1.57" fill="#f6c57d"/>
<rect x="263.59" y="551.15" width="7.49" height="1.57" fill="#f1a864"/>
<rect x="271.03" y="551.15" width="7.49" height="1.57" fill="#5387c5"/>
<rect x="278.47" y="551.15" width="7.49" height="1.57" fill="#79a6d5"/>
<rect x="285.91" y="551.15" width="7.49" height="1.57" fill="#7aa7d5"/>
<rect x="293.34" y="551.15" width="7.49" height="1.57" fill="#6193cb"/>
<rect x="300.78" y="551.15" width="7.49" height="1.57" fill="#6596cd"/>
<rect x="308.22" y="551.15" width="7.49" height="1.57" fill="#6394cc"/>
<rect x="315.65" y="551.15" width="7.49" height="1.57" fill="#5387c5"/>
<rect x="323.09" y="551.15" width="7.49" height="1.57" fill="#588bc7"/>
<rect x="330.53" y="551.15" width="7.49" height="1.57" fill="#5a8dc8"/>
<rect x="337.96" y="551.15" width="7.49" height="1.57" fill="#5d90c9"/>
<rect x="204.10" y="552.68" width="7.49" height="1.57" fill="#f5bd75"/>
<rect x="211.54" y="552.68" width="7.49" height="1.57" fill="#eaf0e5"/>
<rect x="218.97" y="552.68" width="7.49" height="1.57" fill="#f2ac66"/>
<rect x="226.41" y="552.68" width="7.49" height="1.57" fill="#dee9e8"/>
<rect x="233.85" y="552.68" width="7.49" height="1.57" fill="#f6f1ca"/>
<rect x="241.28" y="552.68" width="7.49" height="1.57" fill="#f8e7ac"/>
<rect x="248.72" y="552.68" width="7.49" height="1.57" fill="#f8e3a4"/>
<rect x="256.16" y="552.68" width="7.49" height="1.57" fill="#f5c179"/>
<rect x="263.59" y="552.68" width="7.49" height="1.57" fill="#f8da92"/>
<rect x="271.03" y="552.68" width="7.49" height="1.57" fill="#588bc7"/>
<rect x="278.47" y="552.68" width="7.49" height="1.57" fill="#5186c4"/>
<rect x="285.91" y="552.68" width="7.49" height="1.57" fill="#5a8dc8"/>
<rect x="293.34" y="552.68" width="7.49" height="1.57" fill="#598cc7"/>
<rect x="300.78" y="552.68" width="7.49" height="1.57" fill="#467abd"/>
<rect x="308.22" y="552.68" width="7.49" height="1.57" fill="#578ac6"/>
<rect x="315.65" y="552.68" width="7.49" height="1.57" fill="#5f91ca"/>
<rect x="323.09" y="552.68" width="7.49" height="1.57" fill="#487cbe"/>
<rect x="330.53" y="552.68" width="7.49" height="1.57" fill="#6293cb"/>
<rect x="337.96" y="552.68" width="7.49" height="1.57" fill="#497ebf"/>
<rect x="204.1" y="481.1" width="141.3" height="73.1" fill="none" stroke="#333" stroke-width="0.9"/>
<rect x="348.50" y="481.10" width="7.00" height="73.10" fill="#f6f1c4"/>
<line x1="348.50" y1="484.00" x2="355.50" y2="484.00" stroke="#e6dfa8" stroke-width="0.4"/>
<line x1="348.50" y1="489.10" x2="355.50" y2="489.10" stroke="#e6dfa8" stroke-width="0.4"/>
<line x1="348.50" y1="494.20" x2="355.50" y2="494.20" stroke="#e6dfa8" stroke-width="0.4"/>
<line x1="348.50" y1="499.30" x2="355.50" y2="499.30" stroke="#e6dfa8" stroke-width="0.4"/>
<line x1="348.50" y1="504.40" x2="355.50" y2="504.40" stroke="#e6dfa8" stroke-width="0.4"/>
<line x1="348.50" y1="509.50" x2="355.50" y2="509.50" stroke="#e6dfa8" stroke-width="0.4"/>
<line x1="348.50" y1="514.60" x2="355.50" y2="514.60" stroke="#e6dfa8" stroke-width="0.4"/>
<line x1="348.50" y1="519.70" x2="355.50" y2="519.70" stroke="#e6dfa8" stroke-width="0.4"/>
<line x1="348.50" y1="524.80" x2="355.50" y2="524.80" stroke="#e6dfa8" stroke-width="0.4"/>
<line x1="348.50" y1="529.90" x2="355.50" y2="529.90" stroke="#e6dfa8" stroke-width="0.4"/>
<line x1="348.50" y1="535.00" x2="355.50" y2="535.00" stroke="#e6dfa8" stroke-width="0.4"/>
<line x1="348.50" y1="540.10" x2="355.50" y2="540.10" stroke="#e6dfa8" stroke-width="0.4"/>
<line x1="348.50" y1="545.20" x2="355.50" y2="545.20" stroke="#e6dfa8" stroke-width="0.4"/>
<line x1="348.50" y1="550.30" x2="355.50" y2="550.30" stroke="#e6dfa8" stroke-width="0.4"/>
<rect x="348.5" y="481.1" width="7" height="73.1" fill="none" stroke="#555" stroke-width="0.8"/>
<text transform="translate(354.2,556.3) rotate(-90)" font-size="7.45" text-anchor="end" fill="#231f20" stroke="#231f20" stroke-width="0.15">Tumor purity</text>
<text transform="translate(210.4,557.0) rotate(-90)" font-size="7.5" text-anchor="end" font-style="italic" fill="#231f20" stroke="#231f20" stroke-width="0.15">ABCA8</text>
<text transform="translate(217.9,557.0) rotate(-90)" font-size="7.5" text-anchor="end" font-style="italic" fill="#231f20" stroke="#231f20" stroke-width="0.15">SLIT2</text>
<text transform="translate(225.3,557.0) rotate(-90)" font-size="7.5" text-anchor="end" font-style="italic" fill="#231f20" stroke="#231f20" stroke-width="0.15">ABCA10</text>
<text transform="translate(232.7,557.0) rotate(-90)" font-size="7.5" text-anchor="end" font-style="italic" fill="#231f20" stroke="#231f20" stroke-width="0.15">ADH1B</text>
<text transform="translate(240.2,557.0) rotate(-90)" font-size="7.5" text-anchor="end" font-style="italic" fill="#231f20" stroke="#231f20" stroke-width="0.15">GPC3</text>
<text transform="translate(247.6,557.0) rotate(-90)" font-size="7.5" text-anchor="end" font-style="italic" fill="#231f20" stroke="#231f20" stroke-width="0.15">FMO2</text>
<text transform="translate(255.0,557.0) rotate(-90)" font-size="7.5" text-anchor="end" font-style="italic" fill="#231f20" stroke="#231f20" stroke-width="0.15">COL6A5</text>
<text transform="translate(262.5,557.0) rotate(-90)" font-size="7.5" text-anchor="end" font-style="italic" fill="#231f20" stroke="#231f20" stroke-width="0.15">TCF21</text>
<text transform="translate(269.9,557.0) rotate(-90)" font-size="7.5" text-anchor="end" font-style="italic" fill="#231f20" stroke="#231f20" stroke-width="0.15">LRRN3</text>
<text transform="translate(277.4,557.0) rotate(-90)" font-size="7.5" text-anchor="end" font-style="italic" fill="#231f20" stroke="#231f20" stroke-width="0.15">WISP1</text>
<text transform="translate(284.8,557.0) rotate(-90)" font-size="7.5" text-anchor="end" font-style="italic" fill="#231f20" stroke="#231f20" stroke-width="0.15">TWIST1</text>
<text transform="translate(292.2,557.0) rotate(-90)" font-size="7.5" text-anchor="end" font-style="italic" fill="#231f20" stroke="#231f20" stroke-width="0.15">GJB2</text>
<text transform="translate(299.7,557.0) rotate(-90)" font-size="7.5" text-anchor="end" font-style="italic" fill="#231f20" stroke="#231f20" stroke-width="0.15">GREM1</text>
<text transform="translate(307.1,557.0) rotate(-90)" font-size="7.5" text-anchor="end" font-style="italic" fill="#231f20" stroke="#231f20" stroke-width="0.15">PLPP4</text>
<text transform="translate(314.5,557.0) rotate(-90)" font-size="7.5" text-anchor="end" font-style="italic" fill="#231f20" stroke="#231f20" stroke-width="0.15">P4HA3</text>
<text transform="translate(322.0,557.0) rotate(-90)" font-size="7.5" text-anchor="end" font-style="italic" fill="#231f20" stroke="#231f20" stroke-width="0.15">LRRC15</text>
<text transform="translate(329.4,557.0) rotate(-90)" font-size="7.5" text-anchor="end" font-style="italic" fill="#231f20" stroke="#231f20" stroke-width="0.15">COL11A1</text>
<text transform="translate(336.8,557.0) rotate(-90)" font-size="7.5" text-anchor="end" font-style="italic" fill="#231f20" stroke="#231f20" stroke-width="0.15">DIO2</text>
<text transform="translate(344.3,557.0) rotate(-90)" font-size="7.5" text-anchor="end" font-style="italic" fill="#231f20" stroke="#231f20" stroke-width="0.15">ADAM12</text>
<text x="239.2" y="596.8" font-size="7.4" text-anchor="middle" fill="#231f20" stroke="#231f20" stroke-width="0.15"><tspan font-style="italic">Z</tspan>-score</text>
<rect x="207.70" y="599.20" width="6.05" height="5.50" fill="#4477bb"/>
<rect x="213.70" y="599.20" width="6.05" height="5.50" fill="#5c8fc9"/>
<rect x="219.70" y="599.20" width="6.05" height="5.50" fill="#82acd8"/>
<rect x="225.70" y="599.20" width="6.05" height="5.50" fill="#aecde6"/>
<rect x="231.70" y="599.20" width="6.05" height="5.50" fill="#dce8e8"/>
<rect x="237.70" y="599.20" width="6.05" height="5.50" fill="#f5f2cf"/>
<rect x="243.70" y="599.20" width="6.05" height="5.50" fill="#f8e4a6"/>
<rect x="249.70" y="599.20" width="6.05" height="5.50" fill="#f6c880"/>
<rect x="255.70" y="599.20" width="6.05" height="5.50" fill="#f0a25f"/>
<rect x="261.70" y="599.20" width="6.05" height="5.50" fill="#e57440"/>
<text x="209.5" y="613.0" font-size="7.4" text-anchor="middle" fill="#231f20" stroke="#231f20" stroke-width="0.15">&#8722;2</text>
<text x="223.8" y="613.0" font-size="7.4" text-anchor="middle" fill="#231f20" stroke="#231f20" stroke-width="0.15">&#8722;1</text>
<text x="237.7" y="613.0" font-size="7.4" text-anchor="middle" fill="#231f20" stroke="#231f20" stroke-width="0.15">0</text>
<text x="250.8" y="613.0" font-size="7.4" text-anchor="middle" fill="#231f20" stroke="#231f20" stroke-width="0.15">1</text>
<text x="265.4" y="613.0" font-size="7.4" text-anchor="middle" fill="#231f20" stroke="#231f20" stroke-width="0.15">2</text>
<text x="238.8" y="626.8" font-size="7.4" text-anchor="middle" fill="#231f20" stroke="#231f20" stroke-width="0.15">R (Pearson) = &#8722;0.12</text>
<text x="239.2" y="634.2" font-size="7.4" text-anchor="middle" fill="#231f20" stroke="#231f20" stroke-width="0.15"><tspan font-style="italic">P</tspan> value = 0.006</text>
<text x="362.8" y="463.8" font-size="10" font-weight="bold" fill="#231f20" stroke="#231f20" stroke-width="0.15">H</text>
<text x="473.8" y="457.4" font-size="7.4" text-anchor="middle" fill="#231f20" stroke="#231f20" stroke-width="0.15">Tumor stage</text>
<text x="451.7" y="467.6" font-size="7.4" text-anchor="middle" fill="#231f20" stroke="#231f20" stroke-width="0.15">(LUAD)</text>
<text x="496.0" y="467.6" font-size="7.4" text-anchor="middle" fill="#231f20" stroke="#231f20" stroke-width="0.15">(LUSC)</text>
<rect x="383.5" y="485.7" width="41.7" height="68.1" fill="#fff"/>
<line x1="393.40" y1="485.70" x2="393.40" y2="553.80" stroke="#dcdcdc" stroke-width="0.6"/>
<line x1="415.60" y1="485.70" x2="415.60" y2="553.80" stroke="#dcdcdc" stroke-width="0.6"/>
<line x1="383.50" y1="488.90" x2="425.20" y2="488.90" stroke="#dcdcdc" stroke-width="0.6"/>
<line x1="383.50" y1="504.50" x2="425.20" y2="504.50" stroke="#dcdcdc" stroke-width="0.6"/>
<line x1="383.50" y1="520.10" x2="425.20" y2="520.10" stroke="#dcdcdc" stroke-width="0.6"/>
<line x1="383.50" y1="535.70" x2="425.20" y2="535.70" stroke="#dcdcdc" stroke-width="0.6"/>
<line x1="383.50" y1="551.30" x2="425.20" y2="551.30" stroke="#dcdcdc" stroke-width="0.6"/>
<line x1="390.20" y1="507.60" x2="390.20" y2="512.80" stroke="#d6cc8c" stroke-width="0.7200000000000001"/>
<line x1="387.40" y1="507.60" x2="393.00" y2="507.60" stroke="#d6cc8c" stroke-width="0.9"/>
<line x1="387.40" y1="512.80" x2="393.00" y2="512.80" stroke="#d6cc8c" stroke-width="0.9"/>
<circle cx="390.2" cy="510.2" r="0.85" fill="#111"/>
<line x1="396.70" y1="530.40" x2="396.70" y2="535.80" stroke="#d9303c" stroke-width="0.96"/>
<line x1="393.90" y1="530.40" x2="399.50" y2="530.40" stroke="#d9303c" stroke-width="1.2"/>
<line x1="393.90" y1="535.80" x2="399.50" y2="535.80" stroke="#d9303c" stroke-width="1.2"/>
<circle cx="396.7" cy="533.1" r="0.85" fill="#111"/>
<line x1="411.80" y1="528.00" x2="411.80" y2="531.80" stroke="#d6cc8c" stroke-width="0.7200000000000001"/>
<line x1="409.00" y1="528.00" x2="414.60" y2="528.00" stroke="#d6cc8c" stroke-width="0.9"/>
<line x1="409.00" y1="531.80" x2="414.60" y2="531.80" stroke="#d6cc8c" stroke-width="0.9"/>
<circle cx="411.8" cy="529.9" r="0.85" fill="#111"/>
<line x1="419.10" y1="503.70" x2="419.10" y2="508.50" stroke="#d9303c" stroke-width="0.96"/>
<line x1="416.30" y1="503.70" x2="421.90" y2="503.70" stroke="#d9303c" stroke-width="1.2"/>
<line x1="416.30" y1="508.50" x2="421.90" y2="508.50" stroke="#d9303c" stroke-width="1.2"/>
<circle cx="419.1" cy="506.1" r="0.85" fill="#111"/>
<rect x="383.5" y="485.7" width="41.7" height="68.1" fill="none" stroke="#444" stroke-width="1.1"/>
<rect x="429.2" y="485.7" width="42.3" height="68.1" fill="#fff"/>
<line x1="438.30" y1="485.70" x2="438.30" y2="553.80" stroke="#dcdcdc" stroke-width="0.6"/>
<line x1="460.40" y1="485.70" x2="460.40" y2="553.80" stroke="#dcdcdc" stroke-width="0.6"/>
<line x1="429.20" y1="488.90" x2="471.50" y2="488.90" stroke="#dcdcdc" stroke-width="0.6"/>
<line x1="429.20" y1="504.50" x2="471.50" y2="504.50" stroke="#dcdcdc" stroke-width="0.6"/>
<line x1="429.20" y1="520.10" x2="471.50" y2="520.10" stroke="#dcdcdc" stroke-width="0.6"/>
<line x1="429.20" y1="535.70" x2="471.50" y2="535.70" stroke="#dcdcdc" stroke-width="0.6"/>
<line x1="429.20" y1="551.30" x2="471.50" y2="551.30" stroke="#dcdcdc" stroke-width="0.6"/>
<line x1="435.30" y1="490.30" x2="435.30" y2="496.70" stroke="#d6cc8c" stroke-width="0.7200000000000001"/>
<line x1="432.50" y1="490.30" x2="438.10" y2="490.30" stroke="#d6cc8c" stroke-width="0.9"/>
<line x1="432.50" y1="496.70" x2="438.10" y2="496.70" stroke="#d6cc8c" stroke-width="0.9"/>
<circle cx="435.3" cy="493.5" r="0.85" fill="#111"/>
<line x1="442.00" y1="536.60" x2="442.00" y2="544.60" stroke="#d9303c" stroke-width="0.96"/>
<line x1="439.20" y1="536.60" x2="444.80" y2="536.60" stroke="#d9303c" stroke-width="1.2"/>
<line x1="439.20" y1="544.60" x2="444.80" y2="544.60" stroke="#d9303c" stroke-width="1.2"/>
<circle cx="442.0" cy="540.6" r="0.85" fill="#111"/>
<line x1="457.60" y1="515.70" x2="457.60" y2="520.90" stroke="#d6cc8c" stroke-width="0.7200000000000001"/>
<line x1="454.80" y1="515.70" x2="460.40" y2="515.70" stroke="#d6cc8c" stroke-width="0.9"/>
<line x1="454.80" y1="520.90" x2="460.40" y2="520.90" stroke="#d6cc8c" stroke-width="0.9"/>
<circle cx="457.6" cy="518.3" r="0.85" fill="#111"/>
<line x1="464.10" y1="527.30" x2="464.10" y2="533.50" stroke="#d9303c" stroke-width="0.96"/>
<line x1="461.30" y1="527.30" x2="466.90" y2="527.30" stroke="#d9303c" stroke-width="1.2"/>
<line x1="461.30" y1="533.50" x2="466.90" y2="533.50" stroke="#d9303c" stroke-width="1.2"/>
<circle cx="464.1" cy="530.4" r="0.85" fill="#111"/>
<rect x="429.2" y="485.7" width="42.3" height="68.1" fill="none" stroke="#444" stroke-width="1.1"/>
<rect x="473.8" y="485.7" width="41.4" height="68.1" fill="#fff"/>
<line x1="484.40" y1="485.70" x2="484.40" y2="553.80" stroke="#dcdcdc" stroke-width="0.6"/>
<line x1="506.50" y1="485.70" x2="506.50" y2="553.80" stroke="#dcdcdc" stroke-width="0.6"/>
<line x1="473.80" y1="488.90" x2="515.20" y2="488.90" stroke="#dcdcdc" stroke-width="0.6"/>
<line x1="473.80" y1="504.50" x2="515.20" y2="504.50" stroke="#dcdcdc" stroke-width="0.6"/>
<line x1="473.80" y1="520.10" x2="515.20" y2="520.10" stroke="#dcdcdc" stroke-width="0.6"/>
<line x1="473.80" y1="535.70" x2="515.20" y2="535.70" stroke="#dcdcdc" stroke-width="0.6"/>
<line x1="473.80" y1="551.30" x2="515.20" y2="551.30" stroke="#dcdcdc" stroke-width="0.6"/>
<line x1="481.30" y1="516.40" x2="481.30" y2="524.40" stroke="#d6cc8c" stroke-width="0.7200000000000001"/>
<line x1="478.50" y1="516.40" x2="484.10" y2="516.40" stroke="#d6cc8c" stroke-width="0.9"/>
<line x1="478.50" y1="524.40" x2="484.10" y2="524.40" stroke="#d6cc8c" stroke-width="0.9"/>
<circle cx="481.3" cy="520.4" r="0.85" fill="#111"/>
<line x1="487.80" y1="506.00" x2="487.80" y2="514.40" stroke="#d9303c" stroke-width="0.96"/>
<line x1="485.00" y1="506.00" x2="490.60" y2="506.00" stroke="#d9303c" stroke-width="1.2"/>
<line x1="485.00" y1="514.40" x2="490.60" y2="514.40" stroke="#d9303c" stroke-width="1.2"/>
<circle cx="487.8" cy="510.2" r="0.85" fill="#111"/>
<line x1="503.40" y1="530.00" x2="503.40" y2="533.60" stroke="#d6cc8c" stroke-width="0.7200000000000001"/>
<line x1="500.60" y1="530.00" x2="506.20" y2="530.00" stroke="#d6cc8c" stroke-width="0.9"/>
<line x1="500.60" y1="533.60" x2="506.20" y2="533.60" stroke="#d6cc8c" stroke-width="0.9"/>
<circle cx="503.4" cy="531.8" r="0.85" fill="#111"/>
<line x1="509.40" y1="502.20" x2="509.40" y2="507.40" stroke="#d9303c" stroke-width="0.96"/>
<line x1="506.60" y1="502.20" x2="512.20" y2="502.20" stroke="#d9303c" stroke-width="1.2"/>
<line x1="506.60" y1="507.40" x2="512.20" y2="507.40" stroke="#d9303c" stroke-width="1.2"/>
<circle cx="509.4" cy="504.8" r="0.85" fill="#111"/>
<rect x="473.8" y="485.7" width="41.4" height="68.1" fill="none" stroke="#444" stroke-width="1.1"/>
<text x="381.0" y="491.4" font-size="7.4" text-anchor="end" fill="#231f20" stroke="#231f20" stroke-width="0.15">0.5</text>
<text x="381.0" y="522.6" font-size="7.4" text-anchor="end" fill="#231f20" stroke="#231f20" stroke-width="0.15">0</text>
<text x="381.0" y="553.8" font-size="7.4" text-anchor="end" fill="#231f20" stroke="#231f20" stroke-width="0.15">&#8722;0.5</text>
<text transform="translate(371.2,520.0) rotate(-90)" font-size="7.4" text-anchor="middle" fill="#231f20" stroke="#231f20" stroke-width="0.15">Mean <tspan font-style="italic">Z</tspan> score</text>
<text transform="translate(396.2,556.5) rotate(-90)" font-size="7.4" text-anchor="end" fill="#231f20" stroke="#231f20" stroke-width="0.15">LUAD</text>
<text transform="translate(419.4,556.5) rotate(-90)" font-size="7.4" text-anchor="end" fill="#231f20" stroke="#231f20" stroke-width="0.15">LUSC</text>
<text x="438.2" y="564.2" font-size="7.4" text-anchor="middle" fill="#231f20" stroke="#231f20" stroke-width="0.15">1</text>
<text x="461.3" y="564.2" font-size="7.4" text-anchor="middle" fill="#231f20" stroke="#231f20" stroke-width="0.15">2+</text>
<text x="485.2" y="564.2" font-size="7.4" text-anchor="middle" fill="#231f20" stroke="#231f20" stroke-width="0.15">1</text>
<text x="508.3" y="564.2" font-size="7.4" text-anchor="middle" fill="#231f20" stroke="#231f20" stroke-width="0.15">2+</text>
<path d="M395.7,477.4 L395.7,475.6 L405.9,475.6 L406.9,474.3 L407.9,475.6 L418.1,475.6 L418.1,477.4" fill="none" stroke="#333" stroke-width="0.6"/>
<text x="407.1" y="474.2" font-size="8" text-anchor="middle" fill="#231f20" stroke="#231f20" stroke-width="0.15" letter-spacing="0.4">***</text>
<path d="M389.6,484.3 L389.6,482.5 L399.9,482.5 L400.9,481.2 L401.9,482.5 L412.1,482.5 L412.1,484.3" fill="none" stroke="#333" stroke-width="0.6"/>
<text x="401.1" y="481.1" font-size="8" text-anchor="middle" fill="#231f20" stroke="#231f20" stroke-width="0.15" letter-spacing="0.4">***</text>
<path d="M441.2,477.2 L441.2,475.4 L451.9,475.4 L452.9,474.1 L453.9,475.4 L464.6,475.4 L464.6,477.2" fill="none" stroke="#333" stroke-width="0.6"/>
<text x="453.1" y="474.0" font-size="8" text-anchor="middle" fill="#231f20" stroke="#231f20" stroke-width="0.15" letter-spacing="0.4">*</text>
<path d="M435.4,484.5 L435.4,482.7 L445.7,482.7 L446.7,481.4 L447.7,482.7 L458.0,482.7 L458.0,484.5" fill="none" stroke="#333" stroke-width="0.6"/>
<text x="446.9" y="481.3" font-size="8" text-anchor="middle" fill="#231f20" stroke="#231f20" stroke-width="0.15" letter-spacing="0.4">***</text>
<path d="M480.6,484.8 L480.6,483.0 L491.1,483.0 L492.1,481.7 L493.1,483.0 L503.7,483.0 L503.7,484.8" fill="none" stroke="#333" stroke-width="0.6"/>
<text x="492.3" y="481.6" font-size="8" text-anchor="middle" fill="#231f20" stroke="#231f20" stroke-width="0.15" letter-spacing="0.4">*</text>
<rect x="373.20" y="585.60" width="5.00" height="5.00" fill="#d9303c"/>
<text x="380.4" y="590.6" font-size="7.4" fill="#231f20" stroke="#231f20" stroke-width="0.15">FAP<tspan font-size="4.5" baseline-shift="super">+</tspan> CAF</text>
<rect x="373.20" y="594.20" width="5.00" height="5.00" fill="#d6cc8c"/>
<text x="380.4" y="599.2" font-size="7.4" fill="#231f20" stroke="#231f20" stroke-width="0.15">ADH1B<tspan font-size="4.5" baseline-shift="super">+</tspan> CAF</text>
<text x="370.9" y="611.2" font-size="7.4" fill="#231f20" stroke="#231f20" stroke-width="0.15"><tspan font-size="6" dy="-0.8">**</tspan><tspan font-style="italic" dy="0.8">P</tspan> &lt; 0.01</text>
<text x="369.3" y="618.8" font-size="7.4" fill="#231f20" stroke="#231f20" stroke-width="0.15"><tspan font-size="6" dy="-0.8">***</tspan><tspan font-style="italic" dy="0.8">P</tspan> &lt; 0.001</text>
<text x="477.2" y="573.8" font-size="7.4" text-anchor="middle" fill="#231f20" stroke="#231f20" stroke-width="0.15">Histologic</text>
<text x="477.2" y="583.3" font-size="7.4" text-anchor="middle" fill="#231f20" stroke="#231f20" stroke-width="0.15">subtypes (LUAD)</text>
<rect x="446" y="596.9" width="67.8" height="69.6" fill="#fff"/>
<line x1="453.10" y1="596.90" x2="453.10" y2="666.50" stroke="#dcdcdc" stroke-width="0.6"/>
<line x1="471.50" y1="596.90" x2="471.50" y2="666.50" stroke="#dcdcdc" stroke-width="0.6"/>
<line x1="487.30" y1="596.90" x2="487.30" y2="666.50" stroke="#dcdcdc" stroke-width="0.6"/>
<line x1="505.60" y1="596.90" x2="505.60" y2="666.50" stroke="#dcdcdc" stroke-width="0.6"/>
<line x1="446.00" y1="602.40" x2="513.80" y2="602.40" stroke="#dcdcdc" stroke-width="0.6"/>
<line x1="446.00" y1="631.50" x2="513.80" y2="631.50" stroke="#dcdcdc" stroke-width="0.6"/>
<line x1="446.00" y1="660.60" x2="513.80" y2="660.60" stroke="#dcdcdc" stroke-width="0.6"/>
<line x1="450.80" y1="620.20" x2="450.80" y2="624.80" stroke="#d6cc8c" stroke-width="0.7200000000000001"/>
<line x1="448.00" y1="620.20" x2="453.60" y2="620.20" stroke="#d6cc8c" stroke-width="0.9"/>
<line x1="448.00" y1="624.80" x2="453.60" y2="624.80" stroke="#d6cc8c" stroke-width="0.9"/>
<circle cx="450.8" cy="622.5" r="0.85" fill="#111"/>
<line x1="456.20" y1="633.60" x2="456.20" y2="644.40" stroke="#d9303c" stroke-width="0.96"/>
<line x1="453.40" y1="633.60" x2="459.00" y2="633.60" stroke="#d9303c" stroke-width="1.2"/>
<line x1="453.40" y1="644.40" x2="459.00" y2="644.40" stroke="#d9303c" stroke-width="1.2"/>
<circle cx="456.2" cy="639.0" r="0.85" fill="#111"/>
<line x1="469.00" y1="618.40" x2="469.00" y2="627.60" stroke="#d6cc8c" stroke-width="0.7200000000000001"/>
<line x1="466.20" y1="618.40" x2="471.80" y2="618.40" stroke="#d6cc8c" stroke-width="0.9"/>
<line x1="466.20" y1="627.60" x2="471.80" y2="627.60" stroke="#d6cc8c" stroke-width="0.9"/>
<circle cx="469.0" cy="623.0" r="0.85" fill="#111"/>
<line x1="473.80" y1="651.60" x2="473.80" y2="662.40" stroke="#d9303c" stroke-width="0.96"/>
<line x1="471.00" y1="651.60" x2="476.60" y2="651.60" stroke="#d9303c" stroke-width="1.2"/>
<line x1="471.00" y1="662.40" x2="476.60" y2="662.40" stroke="#d9303c" stroke-width="1.2"/>
<circle cx="473.8" cy="657.0" r="0.85" fill="#111"/>
<line x1="485.40" y1="631.50" x2="485.40" y2="636.10" stroke="#d6cc8c" stroke-width="0.7200000000000001"/>
<line x1="482.60" y1="631.50" x2="488.20" y2="631.50" stroke="#d6cc8c" stroke-width="0.9"/>
<line x1="482.60" y1="636.10" x2="488.20" y2="636.10" stroke="#d6cc8c" stroke-width="0.9"/>
<circle cx="485.4" cy="633.8" r="0.85" fill="#111"/>
<line x1="491.20" y1="623.20" x2="491.20" y2="629.20" stroke="#d9303c" stroke-width="0.96"/>
<line x1="488.40" y1="623.20" x2="494.00" y2="623.20" stroke="#d9303c" stroke-width="1.2"/>
<line x1="488.40" y1="629.20" x2="494.00" y2="629.20" stroke="#d9303c" stroke-width="1.2"/>
<circle cx="491.2" cy="626.2" r="0.85" fill="#111"/>
<line x1="503.10" y1="624.10" x2="503.10" y2="632.50" stroke="#d6cc8c" stroke-width="0.7200000000000001"/>
<line x1="500.30" y1="624.10" x2="505.90" y2="624.10" stroke="#d6cc8c" stroke-width="0.9"/>
<line x1="500.30" y1="632.50" x2="505.90" y2="632.50" stroke="#d6cc8c" stroke-width="0.9"/>
<circle cx="503.1" cy="628.3" r="0.85" fill="#111"/>
<line x1="508.50" y1="631.90" x2="508.50" y2="638.90" stroke="#d9303c" stroke-width="0.96"/>
<line x1="505.70" y1="631.90" x2="511.30" y2="631.90" stroke="#d9303c" stroke-width="1.2"/>
<line x1="505.70" y1="638.90" x2="511.30" y2="638.90" stroke="#d9303c" stroke-width="1.2"/>
<circle cx="508.5" cy="635.4" r="0.85" fill="#111"/>
<rect x="446" y="596.9" width="67.8" height="69.6" fill="none" stroke="#444" stroke-width="1.1"/>
<text x="443.5" y="604.9" font-size="7.4" text-anchor="end" fill="#231f20" stroke="#231f20" stroke-width="0.15">1</text>
<text x="443.5" y="634.0" font-size="7.4" text-anchor="end" fill="#231f20" stroke="#231f20" stroke-width="0.15">0</text>
<text x="443.5" y="663.1" font-size="7.4" text-anchor="end" fill="#231f20" stroke="#231f20" stroke-width="0.15">&#8722;1</text>
<text transform="translate(432.3,632.0) rotate(-90)" font-size="7.4" text-anchor="middle" fill="#231f20" stroke="#231f20" stroke-width="0.15">Mean <tspan font-style="italic">Z</tspan> score</text>
<path d="M449.2,595.6 L449.2,593.8 L452.9,593.8 L453.9,592.5 L454.9,593.8 L458.5,593.8 L458.5,595.6" fill="none" stroke="#333" stroke-width="0.6"/>
<text x="454.1" y="592.7" font-size="7" text-anchor="middle" fill="#231f20" stroke="#231f20" stroke-width="0.15" letter-spacing="0.4">***</text>
<path d="M467.1,595.6 L467.1,593.8 L470.5,593.8 L471.5,592.5 L472.5,593.8 L475.8,593.8 L475.8,595.6" fill="none" stroke="#333" stroke-width="0.6"/>
<text x="471.7" y="592.7" font-size="7" text-anchor="middle" fill="#231f20" stroke="#231f20" stroke-width="0.15" letter-spacing="0.4">***</text>
<path d="M484.4,595.6 L484.4,593.8 L487.7,593.8 L488.7,592.5 L489.7,593.8 L493.0,593.8 L493.0,595.6" fill="none" stroke="#333" stroke-width="0.6"/>
<text x="488.9" y="592.7" font-size="7" text-anchor="middle" fill="#231f20" stroke="#231f20" stroke-width="0.15" letter-spacing="0.4">*</text>
<text transform="translate(455.6,669.5) rotate(-90)" font-size="7.4" text-anchor="end" fill="#231f20" stroke="#231f20" stroke-width="0.15">Acinar</text>
<text transform="translate(471.7,669.5) rotate(-90)" font-size="7.4" text-anchor="end" fill="#231f20" stroke="#231f20" stroke-width="0.15">Papillary</text>
<text transform="translate(489.9,669.5) rotate(-90)" font-size="7.4" text-anchor="end" fill="#231f20" stroke="#231f20" stroke-width="0.15">Solid</text>
<text transform="translate(504.3,669.5) rotate(-90)" font-size="7.4" text-anchor="end" fill="#231f20" stroke="#231f20" stroke-width="0.15">Micro-</text>
<text transform="translate(511.7,669.5) rotate(-90)" font-size="7.4" text-anchor="end" fill="#231f20" stroke="#231f20" stroke-width="0.15">papillary</text></svg></body></html>
